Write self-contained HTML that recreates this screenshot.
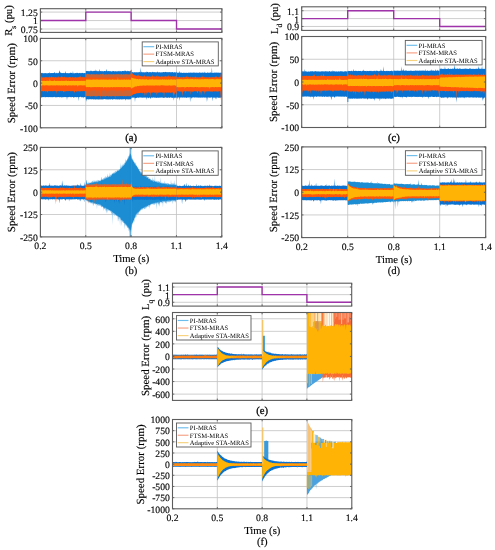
<!DOCTYPE html>
<html><head><meta charset="utf-8"><title>Speed error comparison</title>
<style>html,body{margin:0;padding:0;background:#fff;}svg{display:block;} text{stroke:#000;stroke-width:0.14px;text-rendering:geometricPrecision;} .pl{stroke-width:0.28px;} .lg{stroke-width:0;}</style></head>
<body><svg width="495" height="550" viewBox="0 0 495 550" font-family="'Liberation Serif','Times New Roman',serif" fill="#000">
<g stroke-width="0" >
<rect width="495" height="550" fill="#fff"/>
<rect x="40.4" y="8.7" width="181.5" height="23.7" fill="#fff"/><path d="M85.78 8.7V32.4M131.15 8.7V32.4M176.53 8.7V32.4M40.4 29.01H221.9M40.4 20.55H221.9M40.4 12.09H221.9" stroke="#c2c2c2" stroke-width="0.8" fill="none"/><clipPath id="c1"><rect x="40.4" y="8.7" width="181.5" height="23.7"/></clipPath><g clip-path="url(#c1)"><path d="M40.4 20.55H85.78V12.09H131.15V20.55H176.53V29.01H221.9" stroke="#a033aa" stroke-width="1.4" fill="none"/></g><path d="M40.4 29.01h1.8M221.9 29.01h-1.8M40.4 20.55h1.8M221.9 20.55h-1.8M40.4 12.09h1.8M221.9 12.09h-1.8M40.4 32.4v-1.8M40.4 8.7v1.8M85.78 32.4v-1.8M85.78 8.7v1.8M131.15 32.4v-1.8M131.15 8.7v1.8M176.53 32.4v-1.8M176.53 8.7v1.8M221.9 32.4v-1.8M221.9 8.7v1.8" stroke="#5c5c5c" stroke-width="0.9" fill="none"/><rect x="40.4" y="8.7" width="181.5" height="23.7" fill="none" stroke="#5c5c5c" stroke-width="1.1"/><text x="37.8" y="32.81" font-size="9.7" text-anchor="end">0.75</text><text x="37.8" y="24.35" font-size="9.7" text-anchor="end">1</text><text x="37.8" y="15.89" font-size="9.7" text-anchor="end">1.25</text><rect x="40.4" y="38.4" width="181.5" height="89.4" fill="#fff"/><path d="M85.78 38.4V127.8M131.15 38.4V127.8M176.53 38.4V127.8M40.4 60.75H221.9M40.4 83.1H221.9M40.4 105.45H221.9" stroke="#c2c2c2" stroke-width="0.8" fill="none"/><clipPath id="c2"><rect x="40.4" y="38.4" width="181.5" height="89.4"/></clipPath><g clip-path="url(#c2)"><polygon points="40.4,72.91 40.75,73.13 41.1,73.19 41.45,72.85 41.8,72.92 42.15,73.39 42.5,72.87 42.85,72.91 43.2,73.4 43.55,73.21 43.9,73.05 44.25,73.14 44.6,73.23 44.95,73 45.3,72.91 45.65,73.3 46,73.23 46.35,73.14 46.7,73.32 47.05,73.16 47.4,73.42 47.75,72.95 48.1,73.16 48.45,73.12 48.8,73.04 49.15,73.19 49.5,72.05 49.85,73.31 50.2,73.35 50.55,72.91 50.9,73.11 51.25,73 51.6,72.88 51.95,73.37 52.3,73.09 52.65,72.92 53,73.24 53.35,72.95 53.7,72.91 54.05,72.96 54.4,72.85 54.75,71.71 55.1,73.04 55.45,73.11 55.8,73.38 56.15,73.25 56.5,73.04 56.85,72.84 57.2,72.79 57.55,73.43 57.9,73.11 58.25,73.25 58.6,72.86 58.95,72.85 59.3,70.74 59.65,70.48 60,73.02 60.35,73.02 60.7,71.79 61.05,72.94 61.4,72.85 61.75,73.34 62.1,73.11 62.45,72.91 62.8,73.28 63.15,72.95 63.5,72.87 63.85,73.16 64.2,73.37 64.55,72.85 64.9,73.31 65.25,70.87 65.6,72.89 65.95,72.84 66.3,73.01 66.65,73.27 67,73.13 67.35,73.34 67.7,72.96 68.05,73.02 68.4,72.99 68.75,73.42 69.1,73.4 69.45,73.04 69.8,73.09 70.15,73.02 70.5,72.38 70.85,72.86 71.2,72.87 71.55,73.07 71.9,72.98 72.25,73.34 72.6,73.28 72.95,71.09 73.3,73.23 73.65,73.2 74,73.3 74.35,73.39 74.7,72.92 75.05,73.21 75.4,72.92 75.75,73.1 76.1,73.3 76.45,72.5 76.8,73.29 77.15,72.45 77.5,73.05 77.85,72.93 78.2,73.43 78.55,72.92 78.9,72.98 79.25,73.05 79.6,72.87 79.95,73.35 80.3,73.21 80.65,72.93 81,72.83 81.35,72.88 81.7,73.2 82.05,72.97 82.4,72.86 82.75,72.9 83.1,73.17 83.45,73.21 83.8,73.03 84.15,73.22 84.5,73.04 84.85,72.91 85.2,73.02 85.55,73.07 85.78,73.38 85.78,97.39 85.55,97.32 85.2,97.23 84.85,96.89 84.5,97.18 84.15,96.93 83.8,98.6 83.45,97.28 83.1,97.08 82.75,97.39 82.4,97.37 82.05,97.05 81.7,97.38 81.35,97.36 81,97.11 80.65,96.86 80.3,96.85 79.95,97.2 79.6,97.28 79.25,97.07 78.9,96.97 78.55,101.33 78.2,96.88 77.85,97.14 77.5,97.05 77.15,96.93 76.8,96.88 76.45,97.42 76.1,97.28 75.75,97.08 75.4,97.1 75.05,97.3 74.7,97.36 74.35,96.99 74,97.69 73.65,97.42 73.3,97.39 72.95,96.96 72.6,97.09 72.25,96.91 71.9,97.16 71.55,97.43 71.2,96.86 70.85,97.42 70.5,97.11 70.15,96.88 69.8,96.84 69.45,96.94 69.1,97.35 68.75,97.14 68.4,96.92 68.05,97.14 67.7,97.15 67.35,97.08 67,100.18 66.65,96.92 66.3,97.35 65.95,97.09 65.6,97.11 65.25,97.21 64.9,96.89 64.55,97.06 64.2,97.36 63.85,96.9 63.5,97.36 63.15,97.13 62.8,97.32 62.45,97.26 62.1,97.32 61.75,98.01 61.4,96.87 61.05,97.18 60.7,97.1 60.35,97.31 60,97.17 59.65,97.28 59.3,97.25 58.95,97.36 58.6,96.93 58.25,97.07 57.9,97.29 57.55,97.04 57.2,97.22 56.85,97.02 56.5,97.29 56.15,97.38 55.8,97.22 55.45,97.31 55.1,97.32 54.75,96.93 54.4,96.85 54.05,97.17 53.7,97.03 53.35,96.89 53,97.42 52.65,96.99 52.3,97.15 51.95,97.24 51.6,97.17 51.25,97.08 50.9,97.32 50.55,97.01 50.2,97.28 49.85,97.05 49.5,97.21 49.15,96.98 48.8,97.2 48.45,97.2 48.1,97.01 47.75,97.13 47.4,97.07 47.05,96.92 46.7,96.99 46.35,97.31 46,97 45.65,97.29 45.3,97.32 44.95,97.27 44.6,97.32 44.25,96.87 43.9,97.11 43.55,96.92 43.2,97.25 42.85,97.32 42.5,96.88 42.15,97.26 41.8,97.38 41.45,97.41 41.1,97.17 40.75,96.89 40.4,96.91" fill="#0a72d0"/><polygon points="85.78,71.21 86.12,71.27 86.47,70.94 86.82,71.04 87.17,70.9 87.52,71.22 87.87,70.91 88.22,71 88.57,71.13 88.92,71.14 89.27,70.88 89.62,71.43 89.97,71 90.32,71.23 90.67,70.32 91.02,71.22 91.37,71.08 91.72,70.53 92.07,71.15 92.42,71.22 92.77,70.99 93.12,71.28 93.47,70.78 93.82,70.92 94.17,71.02 94.52,71.06 94.87,70.38 95.22,71.11 95.57,71.05 95.92,69.18 96.27,71.22 96.62,70.93 96.97,70.54 97.32,71.28 97.67,71.24 98.02,70.96 98.37,71.08 98.72,71.43 99.07,70.92 99.42,68.86 99.77,71.13 100.12,71.23 100.47,71.1 100.82,70.94 101.17,71.2 101.52,70.87 101.87,71.38 102.22,71.34 102.57,71.09 102.92,71.19 103.27,71.18 103.62,71.45 103.97,70.89 104.32,71.04 104.67,71.11 105.02,71.34 105.37,71.3 105.72,71.12 106.07,70.87 106.42,68.87 106.77,71.11 107.12,70.94 107.47,71.24 107.82,71.13 108.17,71.05 108.52,71.03 108.87,71.18 109.22,71.01 109.57,71.1 109.92,71.43 110.27,71.15 110.62,71.02 110.97,71.18 111.32,71.42 111.67,71.38 112.02,71.27 112.37,71.4 112.72,70.87 113.07,71.27 113.42,71.12 113.77,70.95 114.12,71.3 114.47,71.25 114.82,71.45 115.17,71.06 115.52,71.39 115.87,71 116.22,71.43 116.57,71.46 116.92,70.89 117.27,71.06 117.62,71.46 117.97,71.45 118.32,71.27 118.67,70.95 119.02,70.87 119.37,71.01 119.72,71.43 120.07,71.35 120.42,70.91 120.77,71.32 121.12,71.41 121.47,71.05 121.82,71.39 122.17,71.03 122.52,71.06 122.87,70.89 123.22,70.96 123.57,71.2 123.92,70.88 124.27,71.19 124.62,70.97 124.97,70.05 125.32,70.83 125.67,70.99 126.02,71.03 126.37,71.21 126.72,71.35 127.07,71.32 127.42,70.46 127.77,71.27 128.12,71.19 128.47,71.07 128.82,70.97 129.17,71.38 129.52,71.11 129.87,71.26 130.22,70.91 130.57,71.08 130.92,70.93 131.15,68.49 131.15,99.14 130.92,99.19 130.57,99.17 130.22,99.37 129.87,99.24 129.52,99.18 129.17,99.51 128.82,99.33 128.47,99.59 128.12,99.49 127.77,99.24 127.42,99.28 127.07,99.6 126.72,99.16 126.37,99.29 126.02,99.2 125.67,100.71 125.32,99.24 124.97,99.23 124.62,99.26 124.27,99.12 123.92,99.19 123.57,99.57 123.22,99.05 122.87,99.13 122.52,99.6 122.17,99.26 121.82,99.36 121.47,99.54 121.12,99.41 120.77,99.33 120.42,99.26 120.07,99.37 119.72,99.97 119.37,99.18 119.02,99.27 118.67,99.27 118.32,99.44 117.97,99.14 117.62,99.62 117.27,99.39 116.92,99.27 116.57,99.21 116.22,99.62 115.87,99.3 115.52,99.17 115.17,99.52 114.82,99.34 114.47,99.37 114.12,99.06 113.77,99.04 113.42,99.53 113.07,99.29 112.72,99.57 112.37,99.61 112.02,99.63 111.67,99.04 111.32,99.1 110.97,99.53 110.62,99.47 110.27,99.24 109.92,99.48 109.57,99.08 109.22,99.43 108.87,99.41 108.52,99.54 108.17,99.24 107.82,99.44 107.47,99.17 107.12,99.55 106.77,99.25 106.42,99.49 106.07,99.15 105.72,99.22 105.37,99.34 105.02,99.22 104.67,99.1 104.32,99.07 103.97,99.2 103.62,99.49 103.27,99.08 102.92,99.46 102.57,99.51 102.22,99.3 101.87,99.43 101.52,99.32 101.17,99.43 100.82,99.36 100.47,99.14 100.12,99.38 99.77,99.35 99.42,99.44 99.07,99.44 98.72,99.46 98.37,99.56 98.02,99.57 97.67,99.16 97.32,99.58 96.97,99.36 96.62,99.24 96.27,99.53 95.92,99.58 95.57,99.18 95.22,99.68 94.87,99.47 94.52,99.21 94.17,99.14 93.82,99.48 93.47,99.52 93.12,99.32 92.77,99.28 92.42,99.04 92.07,99.59 91.72,99.28 91.37,99.46 91.02,99.08 90.67,99.37 90.32,99.23 89.97,99.32 89.62,99.04 89.27,99.51 88.92,99.56 88.57,99.45 88.22,99.16 87.87,99.33 87.52,99.27 87.17,99.26 86.82,99.1 86.47,101.85 86.12,99.23 85.78,99.47" fill="#0a72d0"/><polygon points="131.15,72.42 131.5,72.02 131.85,72.06 132.2,72.43 132.55,72.01 132.9,72.12 133.25,72.48 133.6,72.19 133.95,72.43 134.3,72.4 134.65,71.95 135,72.07 135.35,72.49 135.7,72.13 136.05,72.18 136.4,72.5 136.75,72 137.1,72.52 137.45,72.28 137.8,72.32 138.15,71.94 138.5,72.32 138.85,72.43 139.2,72.17 139.55,71.98 139.9,72.02 140.25,67.21 140.6,72.19 140.95,72.43 141.3,71.34 141.65,72.18 142,72.18 142.35,72.18 142.7,72.25 143.05,72.26 143.4,72.06 143.75,72.41 144.1,72.25 144.45,72.15 144.8,72.52 145.15,72.36 145.5,72.04 145.85,72.52 146.2,72.28 146.55,72.14 146.9,71.31 147.25,71.98 147.6,72.08 147.95,72.11 148.3,72.14 148.65,72.53 149,72.29 149.35,72.05 149.7,72.16 150.05,72.2 150.4,71.99 150.75,72.22 151.1,72.24 151.45,72.48 151.8,72.2 152.15,71.48 152.5,72.35 152.85,72.04 153.2,72.28 153.55,72.21 153.9,72.04 154.25,71.95 154.6,72.54 154.95,71.99 155.3,72.47 155.65,72.16 156,71.99 156.35,72.52 156.7,72.33 157.05,72.18 157.4,71.26 157.75,72.36 158.1,72.19 158.45,72.37 158.8,72.38 159.15,72.04 159.5,72.37 159.85,72.49 160.2,72.35 160.55,72.42 160.9,72.53 161.25,72.42 161.6,72.22 161.95,72.28 162.3,72.4 162.65,72.32 163,71.98 163.35,71.97 163.7,72.1 164.05,72.43 164.4,72.07 164.75,72.13 165.1,71.7 165.45,72.02 165.8,72.11 166.15,72.09 166.5,71.97 166.85,72.38 167.2,72.02 167.55,72.18 167.9,72.14 168.25,71.98 168.6,72.44 168.95,72.02 169.3,72.11 169.65,72.37 170,72.15 170.35,72.24 170.7,72.14 171.05,72.27 171.4,72.13 171.75,72.21 172.1,71.94 172.45,71.95 172.8,72.24 173.15,72.43 173.5,72.54 173.85,72.42 174.2,72.25 174.55,72.32 174.9,72.34 175.25,72.38 175.6,72.53 175.95,72.14 176.3,72.21 176.53,72.41 176.53,97.83 176.3,97.57 175.95,97.81 175.6,97.68 175.25,97.39 174.9,97.79 174.55,97.86 174.2,97.78 173.85,100.86 173.5,97.8 173.15,97.53 172.8,97.67 172.45,97.92 172.1,97.81 171.75,97.6 171.4,97.7 171.05,97.71 170.7,97.37 170.35,97.41 170,97.5 169.65,97.66 169.3,97.89 168.95,97.5 168.6,97.43 168.25,97.51 167.9,97.78 167.55,97.9 167.2,97.52 166.85,97.71 166.5,97.41 166.15,97.77 165.8,97.4 165.45,97.46 165.1,97.34 164.75,97.62 164.4,97.84 164.05,97.91 163.7,97.7 163.35,97.89 163,97.58 162.65,97.67 162.3,97.44 161.95,97.56 161.6,97.59 161.25,97.54 160.9,97.82 160.55,97.51 160.2,97.44 159.85,98.04 159.5,97.58 159.15,97.4 158.8,97.67 158.45,97.83 158.1,97.81 157.75,97.6 157.4,97.73 157.05,97.7 156.7,97.75 156.35,98.09 156,97.65 155.65,97.67 155.3,97.43 154.95,97.83 154.6,97.69 154.25,97.6 153.9,97.49 153.55,97.53 153.2,97.51 152.85,97.58 152.5,97.77 152.15,97.64 151.8,97.84 151.45,97.37 151.1,97.86 150.75,97.66 150.4,99.34 150.05,97.91 149.7,97.34 149.35,97.58 149,98.23 148.65,98.31 148.3,97.74 147.95,97.86 147.6,97.87 147.25,97.43 146.9,97.4 146.55,100.12 146.2,97.5 145.85,97.46 145.5,97.6 145.15,97.69 144.8,97.61 144.45,97.42 144.1,97.87 143.75,97.43 143.4,97.64 143.05,97.47 142.7,97.76 142.35,97.42 142,97.88 141.65,97.37 141.3,97.82 140.95,97.45 140.6,97.45 140.25,97.45 139.9,97.58 139.55,97.85 139.2,97.35 138.85,97.7 138.5,97.86 138.15,97.83 137.8,97.81 137.45,97.36 137.1,97.76 136.75,97.92 136.4,97.67 136.05,97.92 135.7,98.13 135.35,97.79 135,102.15 134.65,97.92 134.3,97.49 133.95,97.5 133.6,97.78 133.25,97.43 132.9,97.88 132.55,97.86 132.2,97.34 131.85,97.87 131.5,98.85 131.15,97.46" fill="#0a72d0"/><polygon points="176.53,72.59 176.88,71.53 177.23,72.78 177.58,72.79 177.93,72.92 178.28,72.83 178.62,72.26 178.97,73 179.32,72.53 179.67,70.82 180.02,72.82 180.37,72.78 180.72,72.57 181.07,72.85 181.42,72.49 181.77,72.71 182.12,73 182.47,72.97 182.82,72.79 183.17,72.91 183.52,72.83 183.87,72.57 184.22,72.94 184.57,72.8 184.92,72.79 185.27,73 185.62,72.77 185.97,72.63 186.32,72.68 186.67,72.76 187.02,72.95 187.37,72.94 187.72,72.67 188.07,72.72 188.42,72.46 188.77,72.81 189.12,72.91 189.47,72.55 189.82,72.81 190.17,71.93 190.52,72.93 190.87,72.87 191.22,72.99 191.57,72.6 191.92,72.53 192.27,72.77 192.62,72.46 192.97,72.92 193.32,72.55 193.67,72.51 194.02,72.52 194.37,72.85 194.72,72.46 195.07,72.68 195.42,72.44 195.77,72.9 196.12,72.46 196.47,72.55 196.82,72.89 197.17,72.74 197.52,72.4 197.87,73.02 198.22,72.65 198.57,72.68 198.92,72.87 199.27,71.99 199.62,72.87 199.97,72.75 200.32,72.58 200.67,72.75 201.02,72.93 201.37,72.6 201.72,72.81 202.07,72.78 202.42,72.85 202.77,72.29 203.12,72.57 203.47,72.83 203.82,72.94 204.17,71.61 204.52,72.51 204.87,72.91 205.22,72.75 205.57,72.84 205.92,72.49 206.27,72.9 206.62,72.65 206.97,72.96 207.32,72.58 207.67,72.43 208.02,72.62 208.37,72.86 208.72,72.86 209.07,72.94 209.42,72.56 209.77,72.79 210.12,72.47 210.47,72.56 210.82,72.46 211.17,72.81 211.52,72.97 211.87,67.1 212.22,72.79 212.57,72.97 212.92,72.63 213.27,72.76 213.62,72.92 213.97,72.55 214.32,72.85 214.67,72.48 215.02,72.65 215.37,72.54 215.72,72.69 216.07,72.55 216.42,72.47 216.77,72.7 217.12,72.66 217.47,72.87 217.82,72.44 218.17,72.81 218.52,72.46 218.87,72.72 219.22,72.44 219.57,72.98 219.92,72.72 220.27,72.72 220.62,72.47 220.97,72.9 221.32,72.59 221.67,72.71 221.9,72.86 221.9,97.43 221.67,97.61 221.32,97.43 220.97,97.31 220.62,97.72 220.27,97.71 219.92,97.64 219.57,97.8 219.22,97.71 218.87,97.81 218.52,97.66 218.17,97.8 217.82,97.7 217.47,97.26 217.12,97.45 216.77,99.57 216.42,97.33 216.07,97.44 215.72,99.48 215.37,97.31 215.02,97.66 214.67,97.39 214.32,97.63 213.97,97.65 213.62,97.72 213.27,97.61 212.92,97.73 212.57,101.55 212.22,97.29 211.87,97.55 211.52,97.27 211.17,97.49 210.82,97.64 210.47,97.51 210.12,97.4 209.77,97.6 209.42,97.77 209.07,97.77 208.72,97.77 208.37,97.31 208.02,97.46 207.67,97.37 207.32,99.03 206.97,101.89 206.62,98.09 206.27,97.5 205.92,97.28 205.57,97.72 205.22,97.45 204.87,97.74 204.52,97.47 204.17,97.54 203.82,97.57 203.47,97.33 203.12,97.7 202.77,97.68 202.42,97.41 202.07,97.49 201.72,97.35 201.37,97.64 201.02,97.63 200.67,97.51 200.32,97.77 199.97,97.61 199.62,97.38 199.27,97.65 198.92,97.28 198.57,97.82 198.22,97.82 197.87,97.54 197.52,97.8 197.17,97.34 196.82,97.74 196.47,97.58 196.12,97.37 195.77,97.54 195.42,97.44 195.07,97.34 194.72,97.53 194.37,97.61 194.02,97.65 193.67,97.26 193.32,97.28 192.97,97.47 192.62,97.58 192.27,97.41 191.92,97.74 191.57,99.1 191.22,97.4 190.87,97.42 190.52,97.31 190.17,102.35 189.82,97.75 189.47,97.37 189.12,97.33 188.77,97.39 188.42,97.6 188.07,97.46 187.72,97.29 187.37,97.44 187.02,97.81 186.67,97.71 186.32,97.96 185.97,97.59 185.62,97.46 185.27,97.61 184.92,97.67 184.57,97.31 184.22,97.65 183.87,97.68 183.52,97.27 183.17,97.43 182.82,97.7 182.47,97.46 182.12,97.38 181.77,97.35 181.42,97.7 181.07,97.4 180.72,97.39 180.37,97.58 180.02,97.64 179.67,97.27 179.32,100.94 178.97,97.76 178.62,97.61 178.28,97.26 177.93,97.39 177.58,99.25 177.23,97.27 176.88,97.47 176.53,98.22" fill="#0a72d0"/><polygon points="85.78,74.61 86.12,74.26 86.47,74.05 86.82,74.47 87.17,74.11 87.52,74.05 87.87,73.29 88.22,74.32 88.57,74.18 88.92,74.1 89.27,74.12 89.62,74.25 89.97,74.52 90.32,74.23 90.67,74.39 91.02,74.16 91.37,74.11 91.72,74.23 92.07,74.06 92.42,74.32 92.77,74.46 93.12,74.29 93.47,74.17 93.82,74.23 94.17,74.53 94.52,74.18 94.87,74.24 95.22,74.45 95.57,74.19 95.92,74.6 96.27,74.14 96.62,74.05 96.97,74.29 97.32,74.36 97.67,74.38 98.02,74.23 98.37,74.51 98.72,74.55 99.07,74.3 99.42,74.53 99.77,74.52 100.12,74.15 100.47,74.12 100.82,74.12 101.17,74.09 101.52,74.5 101.87,74.27 102.22,74.12 102.57,74.37 102.92,73.24 103.27,74.07 103.62,74.29 103.97,74.53 104.32,74.46 104.67,74.63 105.02,74.32 105.37,74.62 105.72,74.27 106.07,74.33 106.42,74.49 106.77,74.31 107.12,74.14 107.47,74.46 107.82,74.59 108.17,74.25 108.52,74.29 108.87,74.04 109.22,74.45 109.57,74.33 109.92,74.18 110.27,74.58 110.62,74.05 110.97,74.54 111.32,74.56 111.67,74.1 112.02,74.05 112.37,74.43 112.72,74.39 113.07,74.14 113.42,74.3 113.77,74.1 114.12,74.29 114.47,74.35 114.82,74.58 115.17,74.26 115.52,74.13 115.87,74.61 116.22,74.42 116.57,74.12 116.92,74.07 117.27,74.27 117.62,74.18 117.97,74.26 118.32,74.2 118.67,73.69 119.02,74.53 119.37,74.44 119.72,74.09 120.07,74.51 120.42,74.28 120.77,74.56 121.12,74.07 121.47,74.13 121.82,74.12 122.17,74.53 122.52,74.61 122.87,74.49 123.22,74.22 123.57,74.07 123.92,74.62 124.27,74.14 124.62,74.53 124.97,74.32 125.32,74.24 125.67,74.28 126.02,74.09 126.37,74.11 126.72,74.56 127.07,74.31 127.42,74.44 127.77,74.24 128.12,74.33 128.47,74.52 128.82,74.43 129.17,74.28 129.52,74.32 129.87,74.63 130.22,74.06 130.57,74.28 130.92,74.12 131.15,74.1 131.15,95.86 130.92,96.35 130.57,96 130.22,95.92 129.87,96.41 129.52,96.09 129.17,96.2 128.82,96.27 128.47,95.87 128.12,96.44 127.77,95.87 127.42,96.05 127.07,96.45 126.72,96.25 126.37,96.07 126.02,96.23 125.67,96.15 125.32,96.41 124.97,96.35 124.62,96.11 124.27,96.28 123.92,95.91 123.57,96.42 123.22,96.41 122.87,96 122.52,96.18 122.17,96.11 121.82,95.9 121.47,96.17 121.12,96.26 120.77,95.94 120.42,96.23 120.07,95.9 119.72,96.09 119.37,96.2 119.02,96 118.67,96.29 118.32,96.33 117.97,96.31 117.62,96.27 117.27,96.3 116.92,96.27 116.57,96.09 116.22,96.13 115.87,95.98 115.52,96.05 115.17,99.01 114.82,96.38 114.47,96.21 114.12,95.92 113.77,96.25 113.42,96.12 113.07,95.94 112.72,96.16 112.37,96.03 112.02,96.26 111.67,96.51 111.32,96.31 110.97,96.38 110.62,96.32 110.27,96.23 109.92,95.99 109.57,96.24 109.22,95.97 108.87,96.38 108.52,96.06 108.17,96.79 107.82,96.09 107.47,95.94 107.12,96.05 106.77,96 106.42,96.25 106.07,96.18 105.72,96.36 105.37,97.24 105.02,96.27 104.67,96.38 104.32,95.94 103.97,96.44 103.62,96.31 103.27,96.33 102.92,96.3 102.57,96.42 102.22,96.31 101.87,95.88 101.52,96.07 101.17,96.19 100.82,95.88 100.47,95.98 100.12,96.39 99.77,96.11 99.42,96 99.07,96.02 98.72,95.95 98.37,95.87 98.02,96.18 97.67,96.1 97.32,96.44 96.97,96.15 96.62,96.16 96.27,96.44 95.92,96.27 95.57,96.43 95.22,96.08 94.87,96.13 94.52,95.96 94.17,96.22 93.82,96.06 93.47,95.88 93.12,95.97 92.77,96.16 92.42,96.33 92.07,96.17 91.72,96.1 91.37,96 91.02,96.4 90.67,96.45 90.32,96.26 89.97,96.14 89.62,96.13 89.27,95.95 88.92,95.96 88.57,95.91 88.22,96.35 87.87,96.12 87.52,96.09 87.17,96.03 86.82,96.18 86.47,96.13 86.12,96.31 85.78,95.88" fill="#cc6535"/><polygon points="40.4,77.34 40.75,77.31 41.1,75.71 41.45,77.53 41.8,77.06 42.15,77.5 42.5,77.2 42.85,77.53 43.2,77.53 43.55,77.19 43.9,77.24 44.25,77.48 44.6,77.48 44.95,77 45.3,77.25 45.65,77 46,77.45 46.35,77.11 46.7,77.14 47.05,77.14 47.4,77.38 47.75,77.14 48.1,77.21 48.45,77.47 48.8,77.21 49.15,75.75 49.5,77.49 49.85,77.18 50.2,77.08 50.55,77.51 50.9,77.28 51.25,77.16 51.6,76.12 51.95,76.98 52.3,76.97 52.65,77.32 53,77.18 53.35,77.12 53.7,77.08 54.05,77.4 54.4,77.48 54.75,76.95 55.1,77.26 55.45,76.99 55.8,76.97 56.15,77.53 56.5,77.13 56.85,77.26 57.2,77.49 57.55,77.33 57.9,77.15 58.25,75.63 58.6,77.41 58.95,77.33 59.3,77.18 59.65,77.4 60,77.17 60.35,77.16 60.7,77.11 61.05,77.53 61.4,75.25 61.75,76.98 62.1,77.12 62.45,76.51 62.8,77.16 63.15,76.94 63.5,77.51 63.85,77.08 64.2,77.12 64.55,76.49 64.9,77.51 65.25,77.1 65.6,77.4 65.95,77.33 66.3,77.47 66.65,77.11 67,77.5 67.35,77.54 67.7,77.18 68.05,77.51 68.4,77.38 68.75,77.08 69.1,77.21 69.45,77.09 69.8,77.06 70.15,77.08 70.5,77.47 70.85,76.92 71.2,77.48 71.55,77.42 71.9,77.38 72.25,77.05 72.6,77.37 72.95,77.32 73.3,77.15 73.65,77.54 74,77.52 74.35,77.34 74.7,77.49 75.05,77.14 75.4,77.05 75.75,77.15 76.1,77.29 76.45,77.49 76.8,77.45 77.15,77.09 77.5,77.44 77.85,77.48 78.2,77.04 78.55,77.24 78.9,77.23 79.25,77.06 79.6,76.27 79.95,77.25 80.3,77.25 80.65,75.3 81,77.21 81.35,77.45 81.7,77.04 82.05,77.05 82.4,77.5 82.75,76.73 83.1,77.1 83.45,77.23 83.8,77.2 84.15,77.15 84.5,77.26 84.85,77.26 85.2,76.97 85.55,77.51 85.78,77.06 85.78,91.44 85.55,91.23 85.2,91.39 84.85,91.1 84.5,91.27 84.15,91.22 83.8,90.85 83.45,91.37 83.1,90.91 82.75,91 82.4,91.32 82.05,91.4 81.7,91 81.35,91.01 81,91.21 80.65,91.28 80.3,91.33 79.95,91.38 79.6,91.29 79.25,91.53 78.9,91.2 78.55,91.39 78.2,90.92 77.85,91.27 77.5,91.28 77.15,91.39 76.8,91.84 76.45,90.93 76.1,91.91 75.75,91.03 75.4,91.27 75.05,91.36 74.7,92.09 74.35,93.36 74,91.2 73.65,91.44 73.3,91.13 72.95,91.11 72.6,91.36 72.25,91.26 71.9,90.99 71.55,91.41 71.2,90.95 70.85,91.44 70.5,90.89 70.15,91.32 69.8,91.03 69.45,91.03 69.1,91.02 68.75,91.21 68.4,90.99 68.05,91.16 67.7,91.14 67.35,91.14 67,91.07 66.65,91.21 66.3,91.16 65.95,91.37 65.6,91.38 65.25,91.21 64.9,91.76 64.55,91.42 64.2,91.21 63.85,92.34 63.5,91.19 63.15,92.66 62.8,91 62.45,91.02 62.1,90.99 61.75,91.42 61.4,91.18 61.05,91 60.7,91.26 60.35,90.86 60,91.02 59.65,91.63 59.3,91.09 58.95,90.87 58.6,91.22 58.25,91.34 57.9,91.34 57.55,91.29 57.2,90.97 56.85,94.18 56.5,91.07 56.15,91.42 55.8,91.12 55.45,91.24 55.1,91.22 54.75,90.98 54.4,90.85 54.05,91.33 53.7,91 53.35,91.35 53,91.31 52.65,91.42 52.3,91.04 51.95,90.93 51.6,91.12 51.25,91.37 50.9,91.09 50.55,90.88 50.2,91.43 49.85,91.18 49.5,91.26 49.15,90.97 48.8,90.98 48.45,91.35 48.1,91.36 47.75,92.65 47.4,91.34 47.05,92.64 46.7,91.24 46.35,91.13 46,91.26 45.65,91.41 45.3,91.41 44.95,90.9 44.6,91.25 44.25,90.92 43.9,91.42 43.55,91.39 43.2,91.47 42.85,90.92 42.5,91.34 42.15,91.18 41.8,91.21 41.45,91.24 41.1,90.93 40.75,91.34 40.4,91.14" fill="#ff560a"/><polygon points="85.78,77.38 86.12,77.6 86.47,77.81 86.82,77.8 87.17,77.58 87.52,77.79 87.87,77.81 88.22,77.82 88.57,77.92 88.92,77.62 89.27,77.78 89.62,77.9 89.97,77.52 90.32,76.66 90.67,77.55 91.02,77.75 91.37,77.43 91.72,77.46 92.07,77.4 92.42,77.73 92.77,77.36 93.12,77.64 93.47,77.37 93.82,77.51 94.17,76.25 94.52,77.92 94.87,77.47 95.22,77.7 95.57,77.62 95.92,77.89 96.27,77.73 96.62,77.64 96.97,77.5 97.32,77.85 97.67,76.93 98.02,77.83 98.37,77.77 98.72,77.68 99.07,77.94 99.42,77.73 99.77,77.71 100.12,77.77 100.47,77.45 100.82,77.61 101.17,77.35 101.52,77.43 101.87,77.37 102.22,77.69 102.57,77.54 102.92,77.45 103.27,77.59 103.62,72.33 103.97,77.38 104.32,77.41 104.67,77.87 105.02,77.48 105.37,77.75 105.72,77.4 106.07,77.37 106.42,77.72 106.77,77.79 107.12,77.47 107.47,77.62 107.82,77.44 108.17,77.84 108.52,77.43 108.87,77.68 109.22,77.85 109.57,77.47 109.92,77.78 110.27,77.64 110.62,77.86 110.97,77.87 111.32,77.65 111.67,77.63 112.02,77.02 112.37,77.77 112.72,77.54 113.07,77.91 113.42,77.31 113.77,77.49 114.12,77.58 114.47,77.59 114.82,76.08 115.17,77.55 115.52,77.62 115.87,77.93 116.22,77.94 116.57,76.5 116.92,77.13 117.27,77.57 117.62,77.49 117.97,77.48 118.32,77.64 118.67,77.6 119.02,77.39 119.37,77.66 119.72,77.63 120.07,77.92 120.42,77.86 120.77,76.7 121.12,77.66 121.47,77.41 121.82,77.73 122.17,77.91 122.52,77.93 122.87,77.9 123.22,77.79 123.57,77.55 123.92,77.46 124.27,77.42 124.62,77.58 124.97,77.42 125.32,75.91 125.67,76.66 126.02,77.79 126.37,77.77 126.72,77.44 127.07,77.65 127.42,77.64 127.77,77.9 128.12,74.92 128.47,77.53 128.82,77.5 129.17,77.41 129.52,77.65 129.87,77.72 130.22,77.59 130.57,77.91 130.92,77.8 131.15,77.68 131.15,90.67 130.92,90.28 130.57,90.64 130.22,90.33 129.87,90.33 129.52,91.26 129.17,90.48 128.82,90.52 128.47,90.52 128.12,90.52 127.77,90.24 127.42,90.63 127.07,90.39 126.72,90.22 126.37,90.44 126.02,90.22 125.67,90.72 125.32,90.34 124.97,90.44 124.62,90.39 124.27,90.61 123.92,90.4 123.57,90.35 123.22,90.75 122.87,90.75 122.52,90.4 122.17,94.31 121.82,90.52 121.47,91.6 121.12,90.62 120.77,90.59 120.42,90.29 120.07,91.6 119.72,90.45 119.37,90.41 119.02,90.46 118.67,90.7 118.32,90.71 117.97,90.63 117.62,90.65 117.27,90.73 116.92,90.7 116.57,92.62 116.22,90.46 115.87,91.92 115.52,91.1 115.17,90.47 114.82,90.35 114.47,90.7 114.12,90.41 113.77,90.27 113.42,90.55 113.07,90.39 112.72,90.47 112.37,90.38 112.02,90.57 111.67,90.39 111.32,90.36 110.97,90.25 110.62,90.51 110.27,90.71 109.92,90.69 109.57,90.69 109.22,90.8 108.87,90.69 108.52,90.18 108.17,92.3 107.82,90.49 107.47,90.76 107.12,90.3 106.77,90.75 106.42,94.37 106.07,90.76 105.72,91.18 105.37,90.68 105.02,90.68 104.67,90.26 104.32,90.54 103.97,90.31 103.62,91.07 103.27,90.5 102.92,90.76 102.57,90.66 102.22,90.52 101.87,90.38 101.52,90.2 101.17,90.66 100.82,92.86 100.47,100.68 100.12,90.3 99.77,90.27 99.42,90.65 99.07,92.72 98.72,90.7 98.37,90.34 98.02,90.77 97.67,90.63 97.32,90.54 96.97,90.62 96.62,90.39 96.27,92.95 95.92,98.55 95.57,90.74 95.22,90.63 94.87,90.2 94.52,90.31 94.17,90.47 93.82,90.4 93.47,91.05 93.12,90.23 92.77,91.11 92.42,90.22 92.07,90.66 91.72,90.48 91.37,90.71 91.02,90.6 90.67,91.89 90.32,90.61 89.97,90.41 89.62,91.28 89.27,90.35 88.92,90.33 88.57,93.9 88.22,90.26 87.87,90.32 87.52,90.42 87.17,91.95 86.82,90.62 86.47,92.14 86.12,90.57 85.78,90.41" fill="#ff560a"/><polygon points="131.15,73.47 131.5,73.78 131.85,73.78 132.2,73.69 132.55,73.09 132.9,74.21 133.25,74.28 133.6,74.78 133.95,74.99 134.3,74.92 134.65,75.06 135,75.4 135.35,74.94 135.7,75.55 136.05,75.68 136.4,75.71 136.75,75.61 137.1,75.88 137.45,74.24 137.8,75.7 138.15,75.83 138.5,74.12 138.85,75.65 139.2,75.99 139.55,76.07 139.9,75.01 140.25,76.25 140.6,75.91 140.95,75.98 141.3,76.17 141.65,76.37 142,76.22 142.35,76.49 142.7,76.43 143.05,76.33 143.4,76.53 143.75,76.23 144.1,76.39 144.45,74.45 144.8,76.12 145.15,76.24 145.5,76.68 145.85,76.28 146.2,76.66 146.55,76.15 146.9,76.28 147.25,76.27 147.6,76.14 147.95,76.58 148.3,76.29 148.65,76.51 149,76.22 149.35,76.51 149.7,76.47 150.05,76.46 150.4,76.66 150.75,76.4 151.1,76.62 151.45,76.68 151.8,76.34 152.15,76.38 152.5,74.51 152.85,76.31 153.2,75.87 153.55,76.57 153.9,76.63 154.25,76.27 154.6,76.55 154.95,76.5 155.3,76.52 155.65,76.78 156,76.24 156.35,76.33 156.7,76.27 157.05,74.32 157.4,76.74 157.75,76.45 158.1,76.24 158.45,76.52 158.8,76.29 159.15,76.27 159.5,76.4 159.85,76.73 160.2,76.64 160.55,76.81 160.9,76.51 161.25,76.34 161.6,76.44 161.95,76.28 162.3,76.47 162.65,76.59 163,76.62 163.35,76.81 163.7,76.45 164.05,76.28 164.4,76.74 164.75,76.33 165.1,76.42 165.45,76.31 165.8,75.81 166.15,76.76 166.5,76.35 166.85,76.58 167.2,75.96 167.55,76.64 167.9,76.32 168.25,76.42 168.6,74.4 168.95,76.5 169.3,76.69 169.65,76.25 170,76.35 170.35,76.35 170.7,76.46 171.05,76.74 171.4,76.81 171.75,76.81 172.1,76.34 172.45,76.35 172.8,76.4 173.15,76.58 173.5,76.58 173.85,76.53 174.2,76.25 174.55,76.64 174.9,76.6 175.25,76.46 175.6,75.96 175.95,76.37 176.3,76.41 176.53,76.58 176.53,92.55 176.3,94.53 175.95,92.78 175.6,92.53 175.25,92.62 174.9,93.25 174.55,95.31 174.2,92.52 173.85,97.93 173.5,92.51 173.15,95.95 172.8,92.52 172.45,92.34 172.1,92.44 171.75,92.63 171.4,92.61 171.05,92.35 170.7,92.74 170.35,93.31 170,92.38 169.65,92.69 169.3,92.34 168.95,92.48 168.6,92.65 168.25,92.41 167.9,92.54 167.55,92.51 167.2,92.39 166.85,92.63 166.5,92.65 166.15,92.52 165.8,92.36 165.45,92.38 165.1,92.46 164.75,92.43 164.4,92.68 164.05,98.03 163.7,92.64 163.35,92.42 163,92.64 162.65,92.72 162.3,92.5 161.95,92.66 161.6,92.3 161.25,92.32 160.9,92.49 160.55,92.81 160.2,92.32 159.85,92.29 159.5,92.46 159.15,92.86 158.8,92.64 158.45,92.74 158.1,92.3 157.75,92.49 157.4,93.95 157.05,92.71 156.7,95.67 156.35,92.32 156,92.37 155.65,92.76 155.3,92.78 154.95,93.14 154.6,92.68 154.25,92.35 153.9,92.31 153.55,92.35 153.2,92.7 152.85,92.56 152.5,92.71 152.15,92.55 151.8,92.32 151.45,92.71 151.1,92.91 150.75,92.55 150.4,97.61 150.05,92.44 149.7,92.71 149.35,92.88 149,92.49 148.65,92.47 148.3,92.37 147.95,92.71 147.6,92.85 147.25,92.55 146.9,95.48 146.55,92.95 146.2,92.51 145.85,92.62 145.5,92.45 145.15,95.36 144.8,95.76 144.45,92.88 144.1,92.8 143.75,92.47 143.4,92.8 143.05,92.9 142.7,92.71 142.35,93.64 142,92.67 141.65,93.05 141.3,92.68 140.95,92.86 140.6,92.86 140.25,93.06 139.9,93.25 139.55,93.02 139.2,93.1 138.85,93 138.5,93.29 138.15,93.13 137.8,93.02 137.45,93.19 137.1,93.53 136.75,93.59 136.4,93.28 136.05,93.32 135.7,93.94 135.35,93.69 135,94.31 134.65,93.9 134.3,93.9 133.95,93.94 133.6,94.09 133.25,94.55 132.9,94.86 132.55,94.82 132.2,95.21 131.85,94.97 131.5,95.3 131.15,95.54" fill="#ff560a"/><polygon points="176.53,77.54 176.88,77.29 177.23,77.14 177.58,77.24 177.93,76.98 178.28,77.25 178.62,77.31 178.97,77.25 179.32,76.96 179.67,75.73 180.02,77.24 180.37,77.05 180.72,77.45 181.07,77.32 181.42,76.96 181.77,77.2 182.12,77.4 182.47,77.33 182.82,77.17 183.17,76.45 183.52,77.23 183.87,77.04 184.22,77.03 184.57,77.48 184.92,77.1 185.27,77.3 185.62,77 185.97,76.2 186.32,77.14 186.67,76.54 187.02,74.9 187.37,77 187.72,77.38 188.07,76.43 188.42,77.21 188.77,77.32 189.12,77.25 189.47,77.48 189.82,77.41 190.17,77.47 190.52,76.24 190.87,77.54 191.22,77.52 191.57,77.34 191.92,77.43 192.27,77.05 192.62,77.53 192.97,77.06 193.32,77.42 193.67,76.96 194.02,77.41 194.37,77.29 194.72,77.19 195.07,76.06 195.42,77.23 195.77,76.43 196.12,77.16 196.47,77.54 196.82,77.17 197.17,77.47 197.52,77.21 197.87,77.18 198.22,77.37 198.57,77.46 198.92,77.38 199.27,77.12 199.62,77.48 199.97,77.34 200.32,77.41 200.67,77.35 201.02,77.22 201.37,77.12 201.72,77.14 202.07,75.18 202.42,77.1 202.77,77.12 203.12,76.09 203.47,77.35 203.82,77.15 204.17,77.36 204.52,77.21 204.87,76.98 205.22,77.49 205.57,76.98 205.92,77.51 206.27,77.19 206.62,77.27 206.97,77.24 207.32,77.22 207.67,77.45 208.02,77.15 208.37,77.54 208.72,77.29 209.07,77.44 209.42,77.05 209.77,77.06 210.12,77.13 210.47,77.47 210.82,77.19 211.17,77.42 211.52,77.35 211.87,77.05 212.22,77.24 212.57,77.02 212.92,77.25 213.27,77.04 213.62,77.35 213.97,77.22 214.32,77.3 214.67,77.21 215.02,77.29 215.37,75.91 215.72,77.12 216.07,77.52 216.42,75.76 216.77,77.03 217.12,77.16 217.47,77.41 217.82,77.15 218.17,77.23 218.52,77.29 218.87,77.38 219.22,76.26 219.57,76.89 219.92,77.51 220.27,72.55 220.62,77 220.97,77.2 221.32,77.22 221.67,77.18 221.9,77.2 221.9,91.09 221.67,91.2 221.32,91.56 220.97,91.62 220.62,100.77 220.27,91.11 219.92,91.13 219.57,91.21 219.22,91.21 218.87,91.31 218.52,91.57 218.17,91.5 217.82,91.52 217.47,91.64 217.12,91.47 216.77,91.32 216.42,91.66 216.07,91.31 215.72,91.33 215.37,91.23 215.02,91.51 214.67,91.19 214.32,91.39 213.97,91.22 213.62,91.13 213.27,91.32 212.92,91.55 212.57,91.64 212.22,91.55 211.87,91.41 211.52,91.54 211.17,91.55 210.82,91.54 210.47,91.41 210.12,91.59 209.77,91.5 209.42,91.24 209.07,91.24 208.72,91.45 208.37,91.11 208.02,91.57 207.67,91.37 207.32,91.4 206.97,91.45 206.62,91.15 206.27,91.18 205.92,92.81 205.57,91.65 205.22,91.3 204.87,91.24 204.52,94.95 204.17,91.38 203.82,91.64 203.47,91.36 203.12,91.59 202.77,91.36 202.42,91.34 202.07,91.24 201.72,91.18 201.37,96.21 201.02,91.47 200.67,92.1 200.32,92.69 199.97,96.07 199.62,91.51 199.27,91.62 198.92,91.17 198.57,91.11 198.22,91.21 197.87,92.42 197.52,93.06 197.17,92.75 196.82,91.33 196.47,91.48 196.12,91.26 195.77,91.38 195.42,91.11 195.07,91.42 194.72,91.1 194.37,91.1 194.02,91.64 193.67,91.29 193.32,91.6 192.97,91.97 192.62,91.54 192.27,91.52 191.92,92.78 191.57,91.51 191.22,91.23 190.87,91.08 190.52,91.44 190.17,94.99 189.82,91.23 189.47,91.42 189.12,91.21 188.77,91.23 188.42,91.43 188.07,91.58 187.72,91.15 187.37,91.59 187.02,91.17 186.67,91.23 186.32,91.49 185.97,91.16 185.62,93.91 185.27,91.21 184.92,91.07 184.57,91.21 184.22,91.42 183.87,91.56 183.52,91.66 183.17,91.53 182.82,91.56 182.47,96.76 182.12,93.45 181.77,91.62 181.42,91.52 181.07,91.38 180.72,91.61 180.37,91.46 180.02,91.66 179.67,91.61 179.32,91.47 178.97,91.34 178.62,91.22 178.28,91.21 177.93,91.21 177.58,91.09 177.23,91.13 176.88,91.53 176.53,91.36" fill="#ff560a"/><polygon points="40.4,80.81 40.75,80.82 41.1,80.72 41.45,81.11 41.8,81.05 42.15,81.1 42.5,80.89 42.85,81.04 43.2,81.03 43.55,80.8 43.9,80.82 44.25,80.73 44.6,81.03 44.95,80.85 45.3,81.04 45.65,80.96 46,80.94 46.35,80.82 46.7,81.02 47.05,80.79 47.4,80.76 47.75,80.84 48.1,80.98 48.45,81 48.8,80.74 49.15,81.08 49.5,80.79 49.85,78.5 50.2,80.93 50.55,80.57 50.9,80.74 51.25,80.94 51.6,80.9 51.95,80.79 52.3,81.01 52.65,80.9 53,81.06 53.35,81.04 53.7,80.8 54.05,80.84 54.4,79.44 54.75,81.01 55.1,81.04 55.45,81.03 55.8,80.71 56.15,80.95 56.5,80.72 56.85,81.11 57.2,81.07 57.55,80.85 57.9,80.85 58.25,80.75 58.6,80.93 58.95,80.97 59.3,81 59.65,80.77 60,80.93 60.35,80.99 60.7,81.04 61.05,80.72 61.4,80.73 61.75,80.83 62.1,80.93 62.45,80.93 62.8,80.87 63.15,81.09 63.5,80.96 63.85,80.84 64.2,81.09 64.55,80.85 64.9,81.02 65.25,81.01 65.6,80.54 65.95,80.85 66.3,80.06 66.65,81.09 67,80.88 67.35,81.06 67.7,80.96 68.05,81.02 68.4,80.8 68.75,80.86 69.1,81.04 69.45,80.99 69.8,81.08 70.15,81.02 70.5,80.98 70.85,80.98 71.2,80.79 71.55,80.67 71.9,80.95 72.25,80.95 72.6,81.06 72.95,80.81 73.3,80.18 73.65,81.08 74,80.9 74.35,80.9 74.7,80.97 75.05,80.71 75.4,80.78 75.75,81.07 76.1,80.76 76.45,81.08 76.8,81.08 77.15,80.73 77.5,80.92 77.85,80.83 78.2,80.98 78.55,81.08 78.9,80.83 79.25,80.77 79.6,81.08 79.95,81.02 80.3,80.86 80.65,81.05 81,80.92 81.35,80.75 81.7,80.86 82.05,81.01 82.4,80.84 82.75,80.97 83.1,80.78 83.45,81.02 83.8,80.79 84.15,80.84 84.5,81.02 84.85,80.79 85.2,80.89 85.55,81.03 85.78,80.97 85.78,85.42 85.55,85.44 85.2,85.54 84.85,85.32 84.5,85.27 84.15,85.57 83.8,85.73 83.45,85.18 83.1,85.27 82.75,85.54 82.4,85.5 82.05,85.44 81.7,85.23 81.35,85.27 81,85.46 80.65,85.26 80.3,85.33 79.95,85.33 79.6,85.38 79.25,85.2 78.9,85.55 78.55,85.49 78.2,85.37 77.85,87 77.5,85.64 77.15,85.38 76.8,85.35 76.45,85.31 76.1,85.21 75.75,85.2 75.4,85.44 75.05,85.42 74.7,85.42 74.35,85.54 74,85.2 73.65,85.25 73.3,85.53 72.95,85.27 72.6,85.39 72.25,85.22 71.9,85.29 71.55,85.21 71.2,86.22 70.85,85.37 70.5,85.55 70.15,85.52 69.8,85.46 69.45,85.25 69.1,85.51 68.75,85.5 68.4,85.3 68.05,85.2 67.7,86.36 67.35,85.43 67,85.56 66.65,85.44 66.3,85.31 65.95,85.34 65.6,85.28 65.25,85.19 64.9,85.49 64.55,85.47 64.2,85.43 63.85,85.32 63.5,85.34 63.15,85.58 62.8,85.76 62.45,85.55 62.1,85.18 61.75,85.57 61.4,85.19 61.05,85.39 60.7,85.45 60.35,85.55 60,85.58 59.65,85.29 59.3,85.48 58.95,85.35 58.6,85.58 58.25,85.52 57.9,85.23 57.55,85.44 57.2,85.19 56.85,85.32 56.5,85.28 56.15,85.35 55.8,85.58 55.45,85.51 55.1,85.55 54.75,85.48 54.4,85.19 54.05,85.53 53.7,85.44 53.35,85.37 53,85.48 52.65,85.33 52.3,85.43 51.95,85.52 51.6,85.27 51.25,85.37 50.9,85.55 50.55,85.26 50.2,85.42 49.85,85.49 49.5,85.45 49.15,85.39 48.8,85.52 48.45,85.42 48.1,85.45 47.75,85.22 47.4,85.51 47.05,85.35 46.7,85.19 46.35,85.34 46,85.19 45.65,85.26 45.3,85.43 44.95,85.42 44.6,85.4 44.25,85.41 43.9,85.44 43.55,85.19 43.2,85.3 42.85,85.43 42.5,85.26 42.15,85.2 41.8,85.24 41.45,86.21 41.1,85.49 40.75,85.22 40.4,85.21" fill="#ffb304"/><polygon points="85.78,79.73 86.12,79.56 86.47,79.68 86.82,79.56 87.17,79.52 87.52,79.44 87.87,79.74 88.22,79.44 88.57,79.57 88.92,79.67 89.27,79.52 89.62,79.46 89.97,79.75 90.32,79.71 90.67,79.55 91.02,79.72 91.37,79.65 91.72,79.74 92.07,79.5 92.42,79.57 92.77,79.81 93.12,79.65 93.47,79.33 93.82,79.59 94.17,79.56 94.52,79.64 94.87,79.54 95.22,79.79 95.57,79.61 95.92,79.38 96.27,79.43 96.62,79.51 96.97,79.5 97.32,79.58 97.67,79.44 98.02,79.53 98.37,79.75 98.72,79.61 99.07,79.77 99.42,79.58 99.77,79.65 100.12,79.76 100.47,79.56 100.82,79.6 101.17,79.58 101.52,79.62 101.87,79.52 102.22,79.7 102.57,79.5 102.92,79.44 103.27,79.46 103.62,79.48 103.97,79.61 104.32,79.72 104.67,79.58 105.02,79.48 105.37,79.46 105.72,79.72 106.07,79.57 106.42,79.42 106.77,79.69 107.12,79.74 107.47,79.8 107.82,79.76 108.17,79.43 108.52,79.69 108.87,79.64 109.22,79.57 109.57,79.46 109.92,79.47 110.27,79.72 110.62,79.54 110.97,79.67 111.32,79.65 111.67,79.52 112.02,79.7 112.37,79.57 112.72,78.94 113.07,79.62 113.42,79.52 113.77,79.71 114.12,79.4 114.47,79.65 114.82,79.71 115.17,79.48 115.52,79.6 115.87,79.74 116.22,79.72 116.57,79.73 116.92,79.45 117.27,79.73 117.62,78.9 117.97,77.06 118.32,79.72 118.67,79.77 119.02,79.74 119.37,79.43 119.72,79.77 120.07,79.48 120.42,79.63 120.77,79.78 121.12,79.43 121.47,79.68 121.82,79.55 122.17,79.48 122.52,79.76 122.87,79.73 123.22,79.78 123.57,79.44 123.92,79.49 124.27,79.44 124.62,79.44 124.97,79.61 125.32,79.74 125.67,79.74 126.02,79.42 126.37,79.54 126.72,79.54 127.07,79.8 127.42,79.53 127.77,79.72 128.12,79.13 128.47,79.49 128.82,79.68 129.17,79.64 129.52,79.64 129.87,79.48 130.22,79.75 130.57,79.75 130.92,79.51 131.15,79.64 131.15,87.09 130.92,87.8 130.57,87.33 130.22,87.27 129.87,87.24 129.52,87.15 129.17,87.09 128.82,87.35 128.47,86.99 128.12,86.99 127.77,87.02 127.42,87.02 127.07,87.87 126.72,87.24 126.37,87.14 126.02,87.11 125.67,87.36 125.32,87.3 124.97,87.33 124.62,87.04 124.27,87.12 123.92,87.08 123.57,87.76 123.22,87.03 122.87,87.15 122.52,87.27 122.17,87.3 121.82,87.03 121.47,87 121.12,87.27 120.77,87.03 120.42,87.21 120.07,87.19 119.72,87.36 119.37,86.99 119.02,87.11 118.67,87.24 118.32,87.05 117.97,87.22 117.62,87.19 117.27,87.08 116.92,86.98 116.57,87.19 116.22,87.04 115.87,87.31 115.52,87.3 115.17,87.23 114.82,87.1 114.47,87.19 114.12,87.33 113.77,87 113.42,87.07 113.07,87.57 112.72,87.34 112.37,87.35 112.02,87.32 111.67,87.24 111.32,87.1 110.97,87.07 110.62,87.17 110.27,87.18 109.92,87.47 109.57,87.33 109.22,87.29 108.87,87.41 108.52,87.01 108.17,87.33 107.82,87.17 107.47,87.15 107.12,87.31 106.77,87.29 106.42,87.49 106.07,87.25 105.72,87.25 105.37,87.25 105.02,87.1 104.67,87.31 104.32,87.33 103.97,86.98 103.62,87.35 103.27,88.76 102.92,86.99 102.57,87.07 102.22,87.15 101.87,87.25 101.52,87.01 101.17,87.29 100.82,87.34 100.47,87.14 100.12,87.1 99.77,87.09 99.42,87.04 99.07,87.18 98.72,87.3 98.37,86.97 98.02,87.04 97.67,87.14 97.32,87.03 96.97,87.08 96.62,87.26 96.27,87.25 95.92,87.03 95.57,87.09 95.22,87.28 94.87,87.13 94.52,86.99 94.17,87.02 93.82,87.25 93.47,87.2 93.12,87.02 92.77,87.26 92.42,87.12 92.07,87.25 91.72,87.2 91.37,87.21 91.02,87.31 90.67,87.34 90.32,87.25 89.97,87.32 89.62,87.01 89.27,87.1 88.92,87.16 88.57,87.08 88.22,87.36 87.87,87.07 87.52,87.14 87.17,87.01 86.82,87.19 86.47,87.35 86.12,87.04 85.78,87.1" fill="#ffb304"/><polygon points="131.15,77.46 131.5,77.66 131.85,77.67 132.2,77.96 132.55,78.04 132.9,78.08 133.25,78.17 133.6,78.34 133.95,78.53 134.3,78.66 134.65,78.55 135,78.59 135.35,78.75 135.7,78.8 136.05,78.86 136.4,79.12 136.75,79.16 137.1,78.88 137.45,79.04 137.8,79.05 138.15,79.34 138.5,79.4 138.85,79.26 139.2,79.11 139.55,78.79 139.9,79.3 140.25,79.36 140.6,79.17 140.95,79.42 141.3,79.18 141.65,79.5 142,79.22 142.35,79.51 142.7,79 143.05,79.32 143.4,79.32 143.75,79.45 144.1,79.28 144.45,79.43 144.8,79.55 145.15,79.62 145.5,79.44 145.85,79.34 146.2,79.33 146.55,79.37 146.9,79.32 147.25,79.68 147.6,79.69 147.95,79.5 148.3,79.66 148.65,79.68 149,79.38 149.35,79.11 149.7,79.63 150.05,79.36 150.4,79.43 150.75,79.49 151.1,79.44 151.45,79.42 151.8,79.33 152.15,79.56 152.5,78.52 152.85,79.49 153.2,79.51 153.55,79.38 153.9,79.68 154.25,79.39 154.6,79.37 154.95,79.7 155.3,79.32 155.65,79.45 156,79.38 156.35,79.62 156.7,79.62 157.05,79.68 157.4,79.4 157.75,79.65 158.1,79.34 158.45,79.7 158.8,79.64 159.15,79.68 159.5,79.39 159.85,79.43 160.2,79.44 160.55,79.44 160.9,79.62 161.25,79.52 161.6,79.68 161.95,79.45 162.3,79.33 162.65,79.34 163,79.36 163.35,79.56 163.7,79.67 164.05,79.4 164.4,79.13 164.75,79.62 165.1,79.53 165.45,79.6 165.8,79.66 166.15,79.4 166.5,79.36 166.85,79.66 167.2,79.5 167.55,79.63 167.9,79.72 168.25,79.09 168.6,79.43 168.95,79.72 169.3,79.47 169.65,79.69 170,79.57 170.35,79.57 170.7,79.35 171.05,79.35 171.4,79.61 171.75,78.65 172.1,79.44 172.45,79.6 172.8,79.68 173.15,79.37 173.5,79.51 173.85,79.68 174.2,79.37 174.55,79.45 174.9,79.62 175.25,79.68 175.6,79.64 175.95,79.34 176.3,79.49 176.53,79.39 176.53,85.36 176.3,85.66 175.95,85.43 175.6,85.83 175.25,85.65 174.9,85.45 174.55,85.3 174.2,85.34 173.85,85.28 173.5,85.46 173.15,85.49 172.8,85.42 172.45,85.45 172.1,85.48 171.75,85.5 171.4,85.38 171.05,86.29 170.7,85.51 170.35,85.62 170,85.42 169.65,85.46 169.3,85.35 168.95,85.36 168.6,85.55 168.25,85.67 167.9,85.48 167.55,85.4 167.2,85.66 166.85,85.66 166.5,85.61 166.15,85.59 165.8,85.31 165.45,85.91 165.1,85.52 164.75,85.35 164.4,85.65 164.05,85.59 163.7,85.55 163.35,85.33 163,85.61 162.65,85.37 162.3,85.33 161.95,85.31 161.6,85.32 161.25,85.31 160.9,85.31 160.55,85.47 160.2,85.45 159.85,85.29 159.5,85.65 159.15,85.67 158.8,85.41 158.45,85.3 158.1,85.65 157.75,85.51 157.4,85.52 157.05,85.6 156.7,85.56 156.35,85.36 156,85.66 155.65,85.45 155.3,85.29 154.95,85.51 154.6,85.66 154.25,85.4 153.9,85.64 153.55,85.56 153.2,85.48 152.85,85.46 152.5,85.56 152.15,85.48 151.8,85.59 151.45,85.51 151.1,85.66 150.75,85.62 150.4,85.47 150.05,85.43 149.7,85.44 149.35,85.55 149,85.48 148.65,85.87 148.3,85.45 147.95,85.35 147.6,85.51 147.25,85.49 146.9,85.42 146.55,85.5 146.2,85.43 145.85,85.35 145.5,86.01 145.15,85.68 144.8,85.48 144.45,85.84 144.1,85.53 143.75,85.58 143.4,85.43 143.05,85.44 142.7,85.71 142.35,85.56 142,85.64 141.65,85.75 141.3,85.72 140.95,85.74 140.6,85.73 140.25,85.69 139.9,85.61 139.55,85.9 139.2,85.95 138.85,85.96 138.5,86.16 138.15,86.08 137.8,85.87 137.45,86.2 137.1,86.05 136.75,86.44 136.4,86.52 136.05,86.4 135.7,86.43 135.35,86.4 135,86.52 134.65,86.69 134.3,87.05 133.95,87.61 133.6,87.21 133.25,87.46 132.9,87.55 132.55,87.86 132.2,88.18 131.85,88.26 131.5,88.56 131.15,88.73" fill="#ffb304"/><polygon points="176.53,79.37 176.88,79.18 177.23,79.21 177.58,79.26 177.93,79.07 178.28,79.02 178.62,79.3 178.97,79.17 179.32,78.95 179.67,79.35 180.02,79.05 180.37,79.11 180.72,79.15 181.07,79.37 181.42,79.12 181.77,79.19 182.12,79.26 182.47,79.39 182.82,79.15 183.17,79.4 183.52,79.32 183.87,79.34 184.22,79.2 184.57,79.3 184.92,79.03 185.27,79.01 185.62,79.16 185.97,79.1 186.32,79.37 186.67,79.03 187.02,79.17 187.37,79.22 187.72,78.2 188.07,79.27 188.42,79.07 188.77,79.24 189.12,79.33 189.47,79.29 189.82,79.23 190.17,78.8 190.52,79.17 190.87,79.36 191.22,79.03 191.57,79.22 191.92,79.11 192.27,79.09 192.62,79.09 192.97,79.1 193.32,79.36 193.67,79.41 194.02,79.33 194.37,79.4 194.72,79.07 195.07,79.4 195.42,79.1 195.77,79.1 196.12,79.14 196.47,79.18 196.82,79.36 197.17,79.34 197.52,79.07 197.87,79.33 198.22,79.26 198.57,79.4 198.92,79.28 199.27,79.17 199.62,79.2 199.97,79.38 200.32,79.02 200.67,79.39 201.02,79.2 201.37,79.05 201.72,79.37 202.07,79.34 202.42,79.02 202.77,79.19 203.12,79.14 203.47,79.14 203.82,79.29 204.17,79.35 204.52,79.08 204.87,79.09 205.22,79.08 205.57,79.34 205.92,79.06 206.27,79.19 206.62,79.07 206.97,79.14 207.32,79.05 207.67,79.1 208.02,79.34 208.37,79.27 208.72,79.27 209.07,79.15 209.42,79.14 209.77,79.03 210.12,79.17 210.47,79.34 210.82,79.12 211.17,78.94 211.52,79.01 211.87,79.31 212.22,79.06 212.57,79.08 212.92,79.04 213.27,79.25 213.62,79.07 213.97,79.28 214.32,79.25 214.67,79.38 215.02,79.15 215.37,79.22 215.72,79.38 216.07,79.25 216.42,79.3 216.77,79.07 217.12,78.43 217.47,79.18 217.82,79.28 218.17,79.32 218.52,79.14 218.87,79.08 219.22,79.2 219.57,79.33 219.92,79.2 220.27,79.22 220.62,79.24 220.97,79.16 221.32,79.17 221.67,79.03 221.9,79.31 221.9,87.12 221.67,86.98 221.32,86.98 220.97,87.21 220.62,87.12 220.27,87.15 219.92,87.37 219.57,87.06 219.22,86.99 218.87,87.36 218.52,87.04 218.17,87.08 217.82,87.34 217.47,87.03 217.12,87.26 216.77,87.08 216.42,87.32 216.07,87.33 215.72,87.03 215.37,87.08 215.02,87.36 214.67,87.23 214.32,87.34 213.97,87.34 213.62,87.14 213.27,87.01 212.92,87.18 212.57,87.08 212.22,87.02 211.87,87.11 211.52,87.35 211.17,87.37 210.82,87.24 210.47,87.35 210.12,87.24 209.77,89.43 209.42,87.32 209.07,87.27 208.72,87.28 208.37,87.23 208.02,87.29 207.67,87.17 207.32,87 206.97,87.67 206.62,87.09 206.27,86.97 205.92,87.09 205.57,87.46 205.22,87.16 204.87,87 204.52,87.14 204.17,87.31 203.82,87.37 203.47,86.97 203.12,87.24 202.77,87.09 202.42,87.29 202.07,87.05 201.72,87.16 201.37,87.06 201.02,87 200.67,87.15 200.32,87.13 199.97,87.21 199.62,87.13 199.27,87.31 198.92,87.78 198.57,87.19 198.22,86.98 197.87,87.24 197.52,86.97 197.17,87.07 196.82,87.15 196.47,87 196.12,87.18 195.77,87 195.42,87.05 195.07,87.01 194.72,87.11 194.37,87.23 194.02,87.19 193.67,87.32 193.32,87.15 192.97,87.15 192.62,87.36 192.27,87.1 191.92,87.04 191.57,86.97 191.22,87.16 190.87,87.02 190.52,87.06 190.17,87.1 189.82,87.21 189.47,87.02 189.12,87.23 188.77,87.16 188.42,87.16 188.07,87.07 187.72,87.11 187.37,87.06 187.02,87.01 186.67,87.19 186.32,87.02 185.97,87.21 185.62,87.13 185.27,87.18 184.92,89.03 184.57,87.02 184.22,87.01 183.87,87.12 183.52,87.07 183.17,87.3 182.82,87.02 182.47,86.97 182.12,87.24 181.77,87.15 181.42,87.09 181.07,87.17 180.72,87.21 180.37,87.21 180.02,87.31 179.67,87.21 179.32,87.15 178.97,87.18 178.62,87.34 178.28,87.24 177.93,86.98 177.58,87.24 177.23,86.97 176.88,87.34 176.53,87.31" fill="#ffb304"/><path d="M131.15 70.14V76.4" stroke="#c8683e" stroke-width="1.2"/></g><path d="M40.4 38.4h1.8M221.9 38.4h-1.8M40.4 60.75h1.8M221.9 60.75h-1.8M40.4 83.1h1.8M221.9 83.1h-1.8M40.4 105.45h1.8M221.9 105.45h-1.8M40.4 127.8h1.8M221.9 127.8h-1.8M40.4 127.8v-1.8M40.4 38.4v1.8M85.78 127.8v-1.8M85.78 38.4v1.8M131.15 127.8v-1.8M131.15 38.4v1.8M176.53 127.8v-1.8M176.53 38.4v1.8M221.9 127.8v-1.8M221.9 38.4v1.8" stroke="#5c5c5c" stroke-width="0.9" fill="none"/><rect x="40.4" y="38.4" width="181.5" height="89.4" fill="none" stroke="#5c5c5c" stroke-width="1.1"/><text x="37.8" y="42.2" font-size="9.7" text-anchor="end">100</text><text x="37.8" y="64.55" font-size="9.7" text-anchor="end">50</text><text x="37.8" y="86.9" font-size="9.7" text-anchor="end">0</text><text x="37.8" y="109.25" font-size="9.7" text-anchor="end">-50</text><text x="37.8" y="131.6" font-size="9.7" text-anchor="end">-100</text><rect x="142.2" y="41.9" width="76.1" height="24" fill="#fff" stroke="#5a5a5a" stroke-width="0.9"/><path d="M143.4 46.7H154.2" stroke="#6cbcec" stroke-width="1.15"/><text x="155.5" y="49" font-size="6.65" text-anchor="start" class="lg">PI-MRAS</text><path d="M143.4 54.14H154.2" stroke="#f6a084" stroke-width="1.15"/><text x="155.5" y="56.44" font-size="6.65" text-anchor="start" class="lg">FTSM-MRAS</text><path d="M143.4 61.58H154.2" stroke="#f7d27e" stroke-width="1.15"/><text x="155.5" y="63.88" font-size="6.65" text-anchor="start" class="lg">Adaptive STA-MRAS</text><text transform="translate(15.1,83.2) rotate(-90)" font-size="10.95" text-anchor="middle">Speed Error (rpm)</text><text transform="translate(12.1,20.5) rotate(-90)" font-size="10.7" text-anchor="middle">R<tspan font-size="7.5" dy="4.1">s</tspan><tspan dy="-4.1"> (pu)</tspan></text><text x="131.2" y="140.8" font-size="10.7" text-anchor="middle" class="pl">(a)</text><rect x="301.7" y="6.8" width="184" height="23.6" fill="#fff"/><path d="M347.7 6.8V30.4M393.7 6.8V30.4M439.7 6.8V30.4M301.7 26.47H485.7M301.7 18.6H485.7M301.7 10.73H485.7" stroke="#c2c2c2" stroke-width="0.8" fill="none"/><clipPath id="c3"><rect x="301.7" y="6.8" width="184" height="23.6"/></clipPath><g clip-path="url(#c3)"><path d="M301.7 18.6H347.7V10.73H393.7V18.6H439.7V26.47H485.7" stroke="#a033aa" stroke-width="1.4" fill="none"/></g><path d="M301.7 26.47h1.8M485.7 26.47h-1.8M301.7 18.6h1.8M485.7 18.6h-1.8M301.7 10.73h1.8M485.7 10.73h-1.8M301.7 30.4v-1.8M301.7 6.8v1.8M347.7 30.4v-1.8M347.7 6.8v1.8M393.7 30.4v-1.8M393.7 6.8v1.8M439.7 30.4v-1.8M439.7 6.8v1.8M485.7 30.4v-1.8M485.7 6.8v1.8" stroke="#5c5c5c" stroke-width="0.9" fill="none"/><rect x="301.7" y="6.8" width="184" height="23.6" fill="none" stroke="#5c5c5c" stroke-width="1.1"/><text x="299.1" y="30.27" font-size="9.7" text-anchor="end">0.9</text><text x="299.1" y="23.4" font-size="9.7" text-anchor="end">1</text><text x="299.1" y="14.53" font-size="9.7" text-anchor="end">1.1</text><rect x="301.7" y="36.5" width="184" height="91" fill="#fff"/><path d="M347.7 36.5V127.5M393.7 36.5V127.5M439.7 36.5V127.5M301.7 59.25H485.7M301.7 82H485.7M301.7 104.75H485.7" stroke="#c2c2c2" stroke-width="0.8" fill="none"/><clipPath id="c4"><rect x="301.7" y="36.5" width="184" height="91"/></clipPath><g clip-path="url(#c4)"><polygon points="301.7,71.52 302.05,71.27 302.4,71.56 302.75,71.3 303.1,71.12 303.45,71.42 303.8,71.43 304.15,71.69 304.5,71.11 304.85,69.01 305.2,71.54 305.55,71.24 305.9,71.19 306.25,71.31 306.6,71.67 306.95,71.42 307.3,71.69 307.65,71.7 308,71.43 308.35,71.57 308.7,71.4 309.05,71.44 309.4,71.66 309.75,71.62 310.1,71.56 310.45,71.22 310.8,71.19 311.15,71.52 311.5,71.17 311.85,71.24 312.2,71.35 312.55,71.28 312.9,71.35 313.25,71.55 313.6,71.57 313.95,71.47 314.3,71.43 314.65,71.17 315,71.14 315.35,71.11 315.7,71.29 316.05,71.42 316.4,71.27 316.75,71.55 317.1,71.31 317.45,71.48 317.8,71.59 318.15,71.46 318.5,71.19 318.85,71.59 319.2,71.29 319.55,71.67 319.9,71.48 320.25,71.68 320.6,71.54 320.95,71.37 321.3,71.26 321.65,71.55 322,71.34 322.35,71.29 322.7,71.48 323.05,71.11 323.4,71.4 323.75,71.46 324.1,71.58 324.45,71.31 324.8,71.52 325.15,71.31 325.5,71.1 325.85,71.46 326.2,71.32 326.55,71.41 326.9,71.28 327.25,71.54 327.6,71.24 327.95,71.54 328.3,71.42 328.65,71.59 329,71.25 329.35,71.22 329.7,71.1 330.05,71.19 330.4,71.62 330.75,71.68 331.1,71.17 331.45,71.26 331.8,71.38 332.15,71.42 332.5,71.55 332.85,70.14 333.2,71.11 333.55,71.45 333.9,71.17 334.25,71.29 334.6,71.29 334.95,71.52 335.3,71.44 335.65,71.53 336,71.59 336.35,71.41 336.7,71.26 337.05,71.42 337.4,71.68 337.75,71.59 338.1,71.14 338.45,71.62 338.8,71.31 339.15,71.64 339.5,71.53 339.85,71.16 340.2,71.05 340.55,71.48 340.9,71.27 341.25,71.49 341.6,71.11 341.95,71.39 342.3,71.49 342.65,71.17 343,71.59 343.35,71.58 343.7,71.64 344.05,71.69 344.4,71.27 344.75,71.14 345.1,71.16 345.45,71.15 345.8,71.26 346.15,71.35 346.5,71.31 346.85,71.65 347.2,71.57 347.55,71.16 347.7,71.12 347.7,96.46 347.55,96.83 347.2,96.36 346.85,96.79 346.5,96.9 346.15,96.73 345.8,96.36 345.45,96.51 345.1,96.88 344.75,96.8 344.4,96.51 344.05,96.89 343.7,96.87 343.35,96.53 343,96.39 342.65,96.87 342.3,96.62 341.95,96.67 341.6,96.86 341.25,96.54 340.9,96.61 340.55,96.47 340.2,96.7 339.85,96.6 339.5,96.78 339.15,96.6 338.8,96.45 338.45,96.38 338.1,96.79 337.75,96.57 337.4,96.58 337.05,96.36 336.7,96.38 336.35,96.72 336,96.57 335.65,96.42 335.3,96.73 334.95,96.67 334.6,97.99 334.25,97.26 333.9,96.83 333.55,96.62 333.2,96.77 332.85,96.99 332.5,96.63 332.15,96.55 331.8,96.45 331.45,100.23 331.1,98.43 330.75,96.9 330.4,96.8 330.05,96.49 329.7,96.5 329.35,96.35 329,97.52 328.65,96.48 328.3,96.51 327.95,96.84 327.6,96.85 327.25,96.86 326.9,96.73 326.55,96.52 326.2,97 325.85,96.45 325.5,96.43 325.15,96.46 324.8,96.69 324.45,96.89 324.1,96.82 323.75,96.36 323.4,96.38 323.05,97.1 322.7,96.78 322.35,96.76 322,96.8 321.65,96.58 321.3,96.51 320.95,96.74 320.6,96.48 320.25,96.61 319.9,96.55 319.55,96.8 319.2,96.55 318.85,96.65 318.5,96.31 318.15,96.51 317.8,96.43 317.45,96.46 317.1,96.52 316.75,96.84 316.4,96.78 316.05,96.88 315.7,96.4 315.35,96.36 315,96.44 314.65,96.71 314.3,96.85 313.95,96.41 313.6,96.72 313.25,99.93 312.9,96.69 312.55,96.8 312.2,96.8 311.85,96.87 311.5,96.75 311.15,96.54 310.8,97.54 310.45,96.76 310.1,96.54 309.75,96.5 309.4,96.79 309.05,96.79 308.7,96.81 308.35,96.36 308,96.66 307.65,96.37 307.3,96.39 306.95,96.52 306.6,96.85 306.25,96.56 305.9,96.36 305.55,96.36 305.2,96.89 304.85,96.37 304.5,96.75 304.15,96.45 303.8,96.33 303.45,96.75 303.1,97.03 302.75,96.77 302.4,96.39 302.05,96.78 301.7,96.63" fill="#0a72d0"/><polygon points="347.7,70.92 348.05,70.88 348.4,70.7 348.75,71.28 349.1,71.01 349.45,71.04 349.8,70.99 350.15,71.23 350.5,71.06 350.85,70.92 351.2,70.86 351.55,70.81 351.9,71.06 352.25,71.23 352.6,71.19 352.95,70.73 353.3,71.27 353.65,68.83 354,70.86 354.35,70.92 354.7,71.08 355.05,71.11 355.4,70.8 355.75,70.82 356.1,71.11 356.45,70.83 356.8,70.91 357.15,70.93 357.5,71.18 357.85,71 358.2,71.01 358.55,70.7 358.9,71.05 359.25,71.1 359.6,70.96 359.95,71 360.3,70.95 360.65,70.82 361,71.27 361.35,71.13 361.7,71.19 362.05,71.05 362.4,70.86 362.75,70.7 363.1,71.26 363.45,69.18 363.8,70.83 364.15,71.05 364.5,70.8 364.85,70.95 365.2,70.98 365.55,71.02 365.9,70.88 366.25,70.75 366.6,71.19 366.95,71.27 367.3,71.1 367.65,70.99 368,70.83 368.35,71.14 368.7,71 369.05,71.06 369.4,70.74 369.75,70.98 370.1,71.11 370.45,71.12 370.8,70.77 371.15,70.82 371.5,71 371.85,71.13 372.2,71.04 372.55,71.29 372.9,71 373.25,71.28 373.6,70.82 373.95,71.11 374.3,70.79 374.65,70.81 375,71.24 375.35,71.21 375.7,70.72 376.05,70.81 376.4,70.8 376.75,70.74 377.1,70.53 377.45,71.06 377.8,70.88 378.15,71.05 378.5,71.27 378.85,71.14 379.2,71.15 379.55,70.72 379.9,71.07 380.25,70.91 380.6,70.75 380.95,68.9 381.3,70.85 381.65,70.86 382,70.93 382.35,70.77 382.7,71.25 383.05,70.7 383.4,66.37 383.75,71.11 384.1,71.11 384.45,71.09 384.8,70.99 385.15,70.89 385.5,71.22 385.85,71 386.2,70.82 386.55,70.97 386.9,70.97 387.25,70.76 387.6,71.05 387.95,71.25 388.3,71.12 388.65,71.1 389,70.76 389.35,71.12 389.7,71.2 390.05,71.08 390.4,71 390.75,71.09 391.1,70.82 391.45,70.77 391.8,70.75 392.15,70.73 392.5,71.2 392.85,71.21 393.2,70.95 393.55,70.39 393.7,70.87 393.7,98.89 393.55,98.74 393.2,98.36 392.85,98.38 392.5,98.58 392.15,98.38 391.8,98.64 391.45,98.84 391.1,98.86 390.75,98.7 390.4,98.83 390.05,98.48 389.7,98.71 389.35,98.31 389,98.6 388.65,98.41 388.3,98.76 387.95,98.89 387.6,98.36 387.25,98.38 386.9,98.39 386.55,98.56 386.2,98.75 385.85,99.24 385.5,98.69 385.15,98.63 384.8,98.66 384.45,98.5 384.1,98.56 383.75,98.35 383.4,98.89 383.05,98.81 382.7,98.34 382.35,98.73 382,98.38 381.65,98.81 381.3,98.71 380.95,98.42 380.6,98.43 380.25,98.83 379.9,101.18 379.55,98.51 379.2,98.43 378.85,98.64 378.5,98.45 378.15,98.81 377.8,98.44 377.45,98.53 377.1,98.57 376.75,98.7 376.4,98.31 376.05,98.31 375.7,98.45 375.35,98.51 375,98.68 374.65,101.01 374.3,98.47 373.95,98.86 373.6,98.9 373.25,98.58 372.9,98.81 372.55,98.38 372.2,98.6 371.85,98.5 371.5,98.81 371.15,98.88 370.8,98.65 370.45,98.45 370.1,98.81 369.75,98.56 369.4,98.45 369.05,98.56 368.7,98.54 368.35,98.43 368,98.68 367.65,98.68 367.3,99.9 366.95,98.39 366.6,98.31 366.25,98.68 365.9,98.49 365.55,98.53 365.2,98.82 364.85,98.54 364.5,98.82 364.15,98.58 363.8,98.51 363.45,98.44 363.1,98.58 362.75,98.32 362.4,98.59 362.05,98.34 361.7,98.81 361.35,98.81 361,98.35 360.65,98.38 360.3,98.65 359.95,98.36 359.6,98.73 359.25,98.64 358.9,98.35 358.55,98.83 358.2,98.68 357.85,98.45 357.5,98.67 357.15,98.87 356.8,98.72 356.45,98.62 356.1,98.85 355.75,98.78 355.4,98.33 355.05,98.51 354.7,98.86 354.35,98.51 354,98.64 353.65,98.31 353.3,98.56 352.95,98.39 352.6,98.65 352.25,98.83 351.9,98.82 351.55,98.5 351.2,98.6 350.85,98.63 350.5,98.48 350.15,98.77 349.8,98.47 349.45,98.75 349.1,98.49 348.75,98.35 348.4,98.52 348.05,98.69 347.7,98.42" fill="#0a72d0"/><polygon points="393.7,71.01 394.05,70.85 394.4,70.5 394.75,70.8 395.1,70.53 395.45,70.79 395.8,70.99 396.15,70.98 396.5,70.7 396.85,70.46 397.2,70.61 397.55,70.64 397.9,70.69 398.25,70.61 398.6,70.94 398.95,70.79 399.3,71 399.65,70.7 400,70.58 400.35,70.84 400.7,70.73 401.05,70.89 401.4,70.51 401.75,66.15 402.1,71 402.45,70.16 402.8,70.53 403.15,70.56 403.5,68.52 403.85,70.86 404.2,70.74 404.55,70.6 404.9,70.98 405.25,70.48 405.6,70.6 405.95,70.59 406.3,70.57 406.65,70.51 407,70.99 407.35,70.99 407.7,70.78 408.05,70.95 408.4,70.59 408.75,70.94 409.1,70.86 409.45,70.89 409.8,70.84 410.15,70.42 410.5,70.86 410.85,70.65 411.2,70.79 411.55,70.56 411.9,70.95 412.25,70.98 412.6,70.85 412.95,70.97 413.3,70.79 413.65,70.66 414,70.96 414.35,70.94 414.7,70.53 415.05,70.76 415.4,70.45 415.75,70.42 416.1,70.49 416.45,70.93 416.8,70.53 417.15,70.46 417.5,70.96 417.85,70.47 418.2,70.71 418.55,70.67 418.9,70.73 419.25,70.48 419.6,70.7 419.95,70.49 420.3,70.64 420.65,70.84 421,70.5 421.35,70.42 421.7,70.8 422.05,70.93 422.4,70.51 422.75,70.46 423.1,70.52 423.45,70.48 423.8,70.73 424.15,71.01 424.5,70.75 424.85,70.48 425.2,69.03 425.55,70.89 425.9,70.73 426.25,70.72 426.6,70.89 426.95,70.65 427.3,70.51 427.65,70.5 428,70.72 428.35,71 428.7,70.8 429.05,70.89 429.4,70.84 429.75,70.83 430.1,70.45 430.45,70.67 430.8,70.85 431.15,69.21 431.5,70.42 431.85,70.77 432.2,70.52 432.55,70.75 432.9,70.42 433.25,70.44 433.6,70.43 433.95,70.77 434.3,70.79 434.65,70.75 435,70.95 435.35,68.9 435.7,70.59 436.05,70.91 436.4,70.76 436.75,70.62 437.1,70.63 437.45,69.39 437.8,70.72 438.15,70.61 438.5,70.64 438.85,70.8 439.2,70.75 439.55,70.72 439.7,70.43 439.7,96.59 439.55,96.99 439.2,96.81 438.85,96.66 438.5,97.03 438.15,96.67 437.8,96.62 437.45,96.9 437.1,97.09 436.75,97.16 436.4,96.9 436.05,96.77 435.7,96.66 435.35,96.72 435,96.86 434.65,97.05 434.3,97 433.95,97.04 433.6,96.99 433.25,97.03 432.9,97.06 432.55,96.69 432.2,96.84 431.85,96.84 431.5,96.61 431.15,96.63 430.8,96.67 430.45,97.13 430.1,96.85 429.75,96.99 429.4,96.73 429.05,97.03 428.7,99.17 428.35,96.8 428,97.18 427.65,97.09 427.3,96.76 426.95,96.7 426.6,96.75 426.25,96.88 425.9,97 425.55,96.74 425.2,96.89 424.85,97.14 424.5,96.6 424.15,96.7 423.8,96.65 423.45,96.66 423.1,97.16 422.75,98.01 422.4,96.65 422.05,97.1 421.7,96.72 421.35,97.04 421,96.93 420.65,97.04 420.3,96.78 419.95,97.07 419.6,96.79 419.25,96.68 418.9,96.91 418.55,96.96 418.2,96.73 417.85,96.79 417.5,97.17 417.15,96.78 416.8,97 416.45,97.05 416.1,96.65 415.75,97.11 415.4,96.8 415.05,97.04 414.7,96.99 414.35,96.73 414,96.59 413.65,96.61 413.3,96.97 412.95,97.04 412.6,96.64 412.25,97.12 411.9,96.69 411.55,96.77 411.2,97.41 410.85,96.79 410.5,97.05 410.15,96.81 409.8,96.65 409.45,97 409.1,97.04 408.75,96.9 408.4,96.81 408.05,96.6 407.7,96.81 407.35,97 407,96.78 406.65,98.27 406.3,97.06 405.95,96.95 405.6,97.07 405.25,97.13 404.9,96.7 404.55,97.03 404.2,97.12 403.85,96.87 403.5,96.87 403.15,97 402.8,97.1 402.45,96.99 402.1,98.74 401.75,96.62 401.4,97.18 401.05,96.91 400.7,96.92 400.35,97.16 400,97.13 399.65,97.1 399.3,96.65 398.95,96.67 398.6,97.05 398.25,96.99 397.9,96.6 397.55,96.77 397.2,96.7 396.85,96.68 396.5,97.03 396.15,96.81 395.8,96.63 395.45,97.13 395.1,97 394.75,97.05 394.4,96.73 394.05,96.82 393.7,96.91" fill="#0a72d0"/><polygon points="439.7,68.71 440.05,68.92 440.4,68.56 440.75,68.76 441.1,68.86 441.45,68.78 441.8,68.52 442.15,68.97 442.5,68.84 442.85,69.04 443.2,69.04 443.55,69.08 443.9,68.53 444.25,68.88 444.6,69.09 444.95,66.19 445.3,69.06 445.65,68.68 446,68.78 446.35,68.92 446.7,69 447.05,68.96 447.4,68.53 447.75,68.89 448.1,68.98 448.45,67.77 448.8,68.67 449.15,69.09 449.5,69.06 449.85,68.91 450.2,68.73 450.55,69.08 450.9,68.51 451.25,69.06 451.6,68.9 451.95,68.72 452.3,68.54 452.65,68.86 453,68.82 453.35,68.95 453.7,68.97 454.05,67.13 454.4,68.65 454.75,64.01 455.1,68.59 455.45,68.63 455.8,69.06 456.15,68.88 456.5,68.57 456.85,68.81 457.2,68.9 457.55,68 457.9,68.76 458.25,68.99 458.6,68.64 458.95,68.65 459.3,68.53 459.65,68.54 460,68.8 460.35,68.53 460.7,68.67 461.05,68.99 461.4,69.1 461.75,68.94 462.1,68.52 462.45,69.01 462.8,69.02 463.15,68.7 463.5,68.89 463.85,68.84 464.2,68.63 464.55,68.67 464.9,68.68 465.25,69.08 465.6,68.18 465.95,68.4 466.3,69.1 466.65,68.59 467,68.84 467.35,68.97 467.7,68.87 468.05,68.63 468.4,68.95 468.75,68.94 469.1,68.75 469.45,68.56 469.8,68.55 470.15,67.74 470.5,68.64 470.85,69 471.2,68.98 471.55,68.64 471.9,69 472.25,68.87 472.6,68.92 472.95,68.84 473.3,68.9 473.65,68.76 474,68.77 474.35,69.05 474.7,69.02 475.05,68.79 475.4,69.07 475.75,68.84 476.1,69 476.45,68.52 476.8,68.64 477.15,68.7 477.5,68.82 477.85,68.98 478.2,68.56 478.55,65.97 478.9,68.58 479.25,68.87 479.6,68.52 479.95,68.82 480.3,68.7 480.65,68.72 481,68.92 481.35,68.77 481.7,68.62 482.05,65.52 482.4,68.69 482.75,68.96 483.1,68.64 483.45,69.09 483.8,68.86 484.15,69.03 484.5,68.77 484.85,68.77 485.2,68.89 485.55,69.06 485.7,69.01 485.7,97.4 485.55,97.38 485.2,97.7 484.85,97.42 484.5,97.76 484.15,97.56 483.8,97.63 483.45,99.64 483.1,97.65 482.75,101.28 482.4,97.88 482.05,97.24 481.7,97.55 481.35,97.76 481,97.19 480.65,97.67 480.3,97.68 479.95,97.54 479.6,97.64 479.25,97.38 478.9,97.22 478.55,97.73 478.2,97.69 477.85,97.36 477.5,97.62 477.15,97.32 476.8,97.43 476.45,97.75 476.1,97.72 475.75,97.69 475.4,97.18 475.05,97.32 474.7,97.43 474.35,97.28 474,97.81 473.65,97.55 473.3,97.56 472.95,97.49 472.6,97.27 472.25,97.76 471.9,97.35 471.55,97.45 471.2,97.27 470.85,97.32 470.5,97.47 470.15,97.46 469.8,97.42 469.45,97.64 469.1,97.33 468.75,97.66 468.4,97.32 468.05,97.35 467.7,97.21 467.35,97.36 467,97.36 466.65,97.52 466.3,97.6 465.95,97.51 465.6,97.18 465.25,97.52 464.9,97.49 464.55,98.56 464.2,97.19 463.85,97.75 463.5,97.34 463.15,97.67 462.8,97.2 462.45,97.51 462.1,97.46 461.75,97.28 461.4,97.71 461.05,97.21 460.7,97.39 460.35,97.67 460,97.52 459.65,97.38 459.3,97.55 458.95,97.5 458.6,97.44 458.25,97.63 457.9,97.74 457.55,97.62 457.2,97.28 456.85,97.45 456.5,102.74 456.15,97.42 455.8,97.45 455.45,97.74 455.1,97.6 454.75,97.67 454.4,97.26 454.05,97.6 453.7,97.38 453.35,97.55 453,97.5 452.65,97.69 452.3,97.6 451.95,97.19 451.6,97.51 451.25,97.36 450.9,97.61 450.55,97.65 450.2,97.32 449.85,97.3 449.5,97.25 449.15,97.2 448.8,97.89 448.45,97.19 448.1,97.37 447.75,97.54 447.4,98.94 447.05,97.42 446.7,97.5 446.35,97.3 446,97.72 445.65,97.24 445.3,97.37 444.95,97.21 444.6,97.42 444.25,97.41 443.9,97.76 443.55,97.46 443.2,97.75 442.85,97.54 442.5,97.47 442.15,97.76 441.8,97.7 441.45,97.76 441.1,97.7 440.75,97.17 440.4,97.32 440.05,97.23 439.7,97.36" fill="#0a72d0"/><polygon points="301.7,76.1 302.05,75.89 302.4,75.73 302.75,76.08 303.1,76.24 303.45,75.73 303.8,76.29 304.15,76.07 304.5,75.7 304.85,75.75 305.2,75.7 305.55,75.97 305.9,76.1 306.25,76.04 306.6,75.19 306.95,75.88 307.3,76.24 307.65,75.81 308,76.01 308.35,75.79 308.7,75.93 309.05,75.73 309.4,76 309.75,75.76 310.1,75.82 310.45,76.18 310.8,75.73 311.15,76.08 311.5,76.1 311.85,75.72 312.2,75.91 312.55,76.08 312.9,75.84 313.25,75.43 313.6,75.98 313.95,74.36 314.3,76 314.65,73.75 315,76.03 315.35,76.04 315.7,76.13 316.05,76.02 316.4,76.14 316.75,75.94 317.1,75.7 317.45,75.88 317.8,75.97 318.15,75.5 318.5,75.9 318.85,76.13 319.2,76.2 319.55,76.01 319.9,75.97 320.25,76.18 320.6,75.77 320.95,74.82 321.3,76.15 321.65,74.11 322,76.09 322.35,75.95 322.7,75.45 323.05,76.05 323.4,73.55 323.75,73.92 324.1,75.42 324.45,75.97 324.8,76.12 325.15,75.92 325.5,76.21 325.85,75.83 326.2,76.01 326.55,76.24 326.9,76.23 327.25,75.76 327.6,76.1 327.95,76.03 328.3,76.07 328.65,76.07 329,76.17 329.35,76 329.7,75.75 330.05,75.86 330.4,76.26 330.75,75.74 331.1,75.72 331.45,75.92 331.8,76.06 332.15,76.14 332.5,76.16 332.85,75.52 333.2,76.27 333.55,76.21 333.9,75.92 334.25,75.78 334.6,75.89 334.95,75.74 335.3,76.08 335.65,76.13 336,76.11 336.35,76.06 336.7,75.91 337.05,76.08 337.4,76.12 337.75,75.95 338.1,75.72 338.45,75.97 338.8,76.04 339.15,75.58 339.5,75.7 339.85,76.12 340.2,75.77 340.55,75.94 340.9,75.83 341.25,75.76 341.6,76.23 341.95,76.12 342.3,76.13 342.65,75.75 343,75.9 343.35,75.97 343.7,75.93 344.05,76.05 344.4,75.75 344.75,76.02 345.1,76.16 345.45,75.99 345.8,75.96 346.15,76.28 346.5,75.86 346.85,76.15 347.2,75.76 347.55,75.97 347.7,75.94 347.7,96.1 347.55,90.32 347.2,90.37 346.85,90.59 346.5,90.64 346.15,90.47 345.8,90.33 345.45,90.69 345.1,90.76 344.75,90.56 344.4,92.29 344.05,90.36 343.7,90.62 343.35,90.45 343,90.61 342.65,90.69 342.3,90.69 341.95,90.86 341.6,90.72 341.25,90.43 340.9,90.45 340.55,90.35 340.2,90.31 339.85,90.8 339.5,90.33 339.15,91.09 338.8,90.89 338.45,90.61 338.1,90.66 337.75,90.87 337.4,90.41 337.05,90.63 336.7,90.74 336.35,90.67 336,90.73 335.65,90.73 335.3,90.42 334.95,90.68 334.6,90.57 334.25,90.6 333.9,90.9 333.55,90.31 333.2,92.4 332.85,90.83 332.5,92.11 332.15,90.74 331.8,90.81 331.45,90.39 331.1,90.53 330.75,90.71 330.4,90.83 330.05,90.52 329.7,90.32 329.35,90.5 329,90.6 328.65,90.46 328.3,90.51 327.95,90.55 327.6,90.77 327.25,90.66 326.9,90.4 326.55,90.67 326.2,90.63 325.85,92.07 325.5,90.51 325.15,90.62 324.8,90.38 324.45,90.53 324.1,90.66 323.75,90.54 323.4,90.57 323.05,90.7 322.7,90.63 322.35,90.79 322,90.66 321.65,90.59 321.3,91.69 320.95,94.58 320.6,90.54 320.25,90.41 319.9,90.66 319.55,90.91 319.2,90.52 318.85,90.49 318.5,92.45 318.15,90.41 317.8,90.9 317.45,90.47 317.1,90.36 316.75,91.97 316.4,90.73 316.05,90.32 315.7,90.4 315.35,90.72 315,90.74 314.65,90.82 314.3,90.63 313.95,90.37 313.6,90.75 313.25,90.49 312.9,90.57 312.55,90.6 312.2,90.37 311.85,90.75 311.5,90.3 311.15,90.53 310.8,94.32 310.45,90.45 310.1,90.53 309.75,90.84 309.4,90.72 309.05,90.6 308.7,91.41 308.35,90.39 308,93.28 307.65,90.35 307.3,90.61 306.95,90.71 306.6,90.34 306.25,90.77 305.9,90.39 305.55,90.8 305.2,90.4 304.85,90.84 304.5,90.61 304.15,90.83 303.8,90.53 303.45,90.37 303.1,90.47 302.75,90.75 302.4,94 302.05,90.51 301.7,90.41" fill="#ff560a"/><polygon points="347.7,75.24 348.05,75.25 348.4,72.96 348.75,75.6 349.1,74.71 349.45,75.45 349.8,75.18 350.15,75.16 350.5,74.31 350.85,74.51 351.2,74.89 351.55,75.67 351.9,75.31 352.25,74.23 352.6,75.45 352.95,75.19 353.3,75.46 353.65,75.62 354,75.25 354.35,75.38 354.7,75.27 355.05,75.49 355.4,75.24 355.75,75.37 356.1,75.4 356.45,75.51 356.8,75.68 357.15,75.66 357.5,75.32 357.85,75.05 358.2,75.12 358.55,75.32 358.9,75.35 359.25,75.54 359.6,75.56 359.95,75.22 360.3,75.6 360.65,75.18 361,75.39 361.35,75.48 361.7,75.22 362.05,75.55 362.4,75.6 362.75,75.57 363.1,75.29 363.45,75.24 363.8,75.18 364.15,75.11 364.5,74.34 364.85,75.15 365.2,75.66 365.55,75.51 365.9,75.52 366.25,75.03 366.6,75.18 366.95,75.66 367.3,75.04 367.65,75.21 368,75.19 368.35,75.53 368.7,75.41 369.05,75.23 369.4,75.5 369.75,75.17 370.1,75.67 370.45,75.23 370.8,75.22 371.15,75.46 371.5,75.47 371.85,75.47 372.2,75.48 372.55,74.99 372.9,75.41 373.25,75.22 373.6,75.26 373.95,75.31 374.3,74.23 374.65,73.91 375,75.32 375.35,75.47 375.7,74.36 376.05,75.7 376.4,75.35 376.75,75.44 377.1,75.53 377.45,75.59 377.8,75.67 378.15,75.24 378.5,74.46 378.85,72.27 379.2,75.35 379.55,74.77 379.9,75.51 380.25,75.57 380.6,75.31 380.95,75.59 381.3,75.28 381.65,75.25 382,75.59 382.35,75.55 382.7,75.47 383.05,75.24 383.4,75.31 383.75,75.54 384.1,75.52 384.45,74.34 384.8,75.47 385.15,75.2 385.5,75.28 385.85,75.15 386.2,75.64 386.55,75.53 386.9,75.33 387.25,74.92 387.6,75.69 387.95,75.15 388.3,74.85 388.65,75.37 389,75.34 389.35,75.2 389.7,75.21 390.05,74.08 390.4,75.36 390.75,75.48 391.1,75.28 391.45,75.37 391.8,75.45 392.15,75.46 392.5,75.36 392.85,75.55 393.2,75.26 393.55,75.63 393.7,75.47 393.7,91.71 393.55,91.61 393.2,91.59 392.85,91.72 392.5,91.62 392.15,91.71 391.8,91.54 391.45,92.77 391.1,93.21 390.75,91.45 390.4,91.34 390.05,91.74 389.7,91.51 389.35,91.31 389,91.79 388.65,91.43 388.3,91.33 387.95,91.57 387.6,91.71 387.25,91.68 386.9,91.81 386.55,91.31 386.2,91.33 385.85,91.8 385.5,91.39 385.15,91.67 384.8,91.89 384.45,91.4 384.1,91.35 383.75,91.48 383.4,91.39 383.05,91.81 382.7,91.68 382.35,91.58 382,91.42 381.65,91.44 381.3,91.79 380.95,91.43 380.6,91.68 380.25,91.86 379.9,91.64 379.55,91.47 379.2,91.54 378.85,91.72 378.5,91.82 378.15,93.42 377.8,91.59 377.45,91.35 377.1,91.88 376.75,91.56 376.4,91.74 376.05,92.88 375.7,91.77 375.35,91.57 375,91.88 374.65,91.7 374.3,91.69 373.95,91.56 373.6,93.81 373.25,91.51 372.9,91.75 372.55,91.82 372.2,91.69 371.85,91.41 371.5,91.59 371.15,91.39 370.8,91.73 370.45,92.67 370.1,91.32 369.75,91.5 369.4,91.9 369.05,91.63 368.7,91.62 368.35,91.8 368,91.42 367.65,91.56 367.3,91.79 366.95,91.84 366.6,91.33 366.25,91.33 365.9,91.35 365.55,91.61 365.2,93.5 364.85,95.93 364.5,91.89 364.15,91.6 363.8,91.4 363.45,91.53 363.1,91.61 362.75,91.34 362.4,91.74 362.05,91.81 361.7,93.55 361.35,91.51 361,91.9 360.65,91.43 360.3,91.85 359.95,91.35 359.6,93.52 359.25,91.49 358.9,91.68 358.55,92.95 358.2,91.53 357.85,91.87 357.5,91.88 357.15,91.87 356.8,91.43 356.45,91.74 356.1,91.58 355.75,95.5 355.4,91.69 355.05,91.3 354.7,91.64 354.35,91.8 354,91.61 353.65,91.85 353.3,93.87 352.95,91.34 352.6,91.32 352.25,91.46 351.9,91.81 351.55,91.47 351.2,91.9 350.85,91.41 350.5,91.73 350.15,91.64 349.8,91.36 349.45,91.47 349.1,91.39 348.75,91.55 348.4,91.46 348.05,91.56 347.7,91.38" fill="#ff560a"/><polygon points="393.7,75.3 394.05,75.23 394.4,75.39 394.75,75.39 395.1,75.22 395.45,75.52 395.8,75.65 396.15,75.23 396.5,75.64 396.85,75.37 397.2,75.78 397.55,75.62 397.9,75.21 398.25,75.54 398.6,75.26 398.95,75.48 399.3,75.21 399.65,75.64 400,75.62 400.35,75.46 400.7,75.3 401.05,75.23 401.4,75.48 401.75,71.99 402.1,75.22 402.45,75.51 402.8,75.28 403.15,75.6 403.5,75.33 403.85,74.42 404.2,75.7 404.55,75.52 404.9,75.67 405.25,75.21 405.6,74.67 405.95,75.3 406.3,75.38 406.65,75.44 407,75.33 407.35,75.56 407.7,75.75 408.05,75.25 408.4,75.54 408.75,75.29 409.1,75.73 409.45,75.27 409.8,75.71 410.15,75.47 410.5,74.42 410.85,75.32 411.2,75.3 411.55,75.44 411.9,75.54 412.25,75.37 412.6,75.78 412.95,75.63 413.3,75.37 413.65,75.4 414,75.48 414.35,75.75 414.7,75.5 415.05,75.11 415.4,75.59 415.75,75.31 416.1,75.64 416.45,75.79 416.8,75.22 417.15,72.27 417.5,75.74 417.85,75.27 418.2,75.73 418.55,75.7 418.9,75.61 419.25,75.31 419.6,75.66 419.95,75.3 420.3,75.63 420.65,75.62 421,75.39 421.35,75.74 421.7,75.47 422.05,75.35 422.4,74.79 422.75,75.08 423.1,75.29 423.45,75.38 423.8,75.35 424.15,75.34 424.5,75.58 424.85,75.72 425.2,75.3 425.55,75.68 425.9,75.72 426.25,75.48 426.6,75.32 426.95,75.57 427.3,75.63 427.65,75.37 428,75.25 428.35,75.77 428.7,75.64 429.05,75.43 429.4,75.36 429.75,75.36 430.1,75.33 430.45,75.43 430.8,75.21 431.15,75.44 431.5,75.31 431.85,75.56 432.2,75.49 432.55,75.23 432.9,75.75 433.25,75.24 433.6,75.52 433.95,75.44 434.3,75.72 434.65,75.41 435,75.38 435.35,75.67 435.7,75.26 436.05,75.28 436.4,75.37 436.75,75.72 437.1,75.35 437.45,74.69 437.8,75.56 438.15,75.33 438.5,75.45 438.85,75.61 439.2,75.29 439.55,75.47 439.7,75.29 439.7,90.23 439.55,90.35 439.2,90.33 438.85,90.75 438.5,94.44 438.15,90.63 437.8,90.46 437.45,90.75 437.1,90.58 436.75,91.12 436.4,90.3 436.05,90.65 435.7,90.21 435.35,90.59 435,90.37 434.65,90.59 434.3,90.54 433.95,90.67 433.6,90.64 433.25,90.66 432.9,90.27 432.55,90.6 432.2,90.22 431.85,90.24 431.5,90.3 431.15,90.49 430.8,90.47 430.45,90.33 430.1,92.36 429.75,90.69 429.4,90.4 429.05,90.54 428.7,91.44 428.35,90.51 428,90.22 427.65,90.38 427.3,90.7 426.95,92.32 426.6,90.77 426.25,90.46 425.9,90.26 425.55,90.72 425.2,93.19 424.85,91.43 424.5,90.23 424.15,90.28 423.8,90.49 423.45,90.49 423.1,90.43 422.75,94.93 422.4,90.73 422.05,90.75 421.7,90.28 421.35,90.72 421,90.21 420.65,90.37 420.3,90.25 419.95,90.59 419.6,90.33 419.25,90.76 418.9,90.34 418.55,90.49 418.2,90.23 417.85,92.82 417.5,90.47 417.15,90.53 416.8,90.58 416.45,91.07 416.1,91.81 415.75,90.31 415.4,90.37 415.05,90.46 414.7,92.24 414.35,90.43 414,90.61 413.65,90.42 413.3,90.63 412.95,90.78 412.6,90.57 412.25,90.67 411.9,90.34 411.55,90.3 411.2,90.8 410.85,90.71 410.5,90.74 410.15,90.67 409.8,90.61 409.45,91.9 409.1,90.76 408.75,90.21 408.4,90.41 408.05,90.45 407.7,90.74 407.35,90.41 407,90.77 406.65,90.8 406.3,90.38 405.95,90.38 405.6,90.61 405.25,90.58 404.9,90.63 404.55,90.26 404.2,90.8 403.85,90.52 403.5,90.58 403.15,90.42 402.8,90.66 402.45,90.69 402.1,93.55 401.75,90.57 401.4,90.3 401.05,90.29 400.7,90.7 400.35,90.46 400,90.52 399.65,90.77 399.3,90.62 398.95,90.54 398.6,90.39 398.25,90.48 397.9,93.05 397.55,90.47 397.2,93.05 396.85,90.43 396.5,90.54 396.15,94.15 395.8,90.61 395.45,90.63 395.1,90.37 394.75,90.45 394.4,90.31 394.05,90.56 393.7,90.5" fill="#ff560a"/><polygon points="439.7,74.5 440.05,74.62 440.4,74.62 440.75,74.46 441.1,74.78 441.45,73.14 441.8,74.69 442.15,73.36 442.5,74.6 442.85,74.6 443.2,74.66 443.55,74.73 443.9,74.6 444.25,74.67 444.6,74.77 444.95,74.58 445.3,73.87 445.65,74.9 446,74.53 446.35,74.71 446.7,74.51 447.05,74.64 447.4,73.85 447.75,74.11 448.1,74.61 448.45,74.43 448.8,74.53 449.15,74.87 449.5,74.81 449.85,71.39 450.2,74.88 450.55,74.81 450.9,74.61 451.25,74.5 451.6,73.62 451.95,74.81 452.3,74.47 452.65,74.43 453,74.94 453.35,74.83 453.7,74.67 454.05,74.78 454.4,74.55 454.75,74.94 455.1,74.45 455.45,74.46 455.8,74.86 456.15,74.87 456.5,74.24 456.85,74.64 457.2,74.49 457.55,74.74 457.9,74.75 458.25,74.5 458.6,74.64 458.95,74.56 459.3,74.7 459.65,74.94 460,74.65 460.35,74.85 460.7,74.53 461.05,74.7 461.4,74.86 461.75,74.63 462.1,74.44 462.45,74.86 462.8,74.66 463.15,74.49 463.5,74.89 463.85,74.68 464.2,74.63 464.55,74.43 464.9,74.58 465.25,74.85 465.6,74.69 465.95,75.01 466.3,74.5 466.65,74.75 467,74.42 467.35,74.58 467.7,74.97 468.05,74.78 468.4,74.47 468.75,74.62 469.1,74.73 469.45,74.56 469.8,74.57 470.15,74.13 470.5,74.89 470.85,74.58 471.2,74.77 471.55,74.45 471.9,74.63 472.25,74.94 472.6,74.6 472.95,74.65 473.3,74.6 473.65,73.92 474,74.49 474.35,74.62 474.7,74.51 475.05,74.91 475.4,74.84 475.75,74.56 476.1,74.74 476.45,74.69 476.8,74.73 477.15,75.01 477.5,74.46 477.85,74.93 478.2,74.8 478.55,73.23 478.9,74.96 479.25,74.72 479.6,74.99 479.95,74.72 480.3,74.92 480.65,74.78 481,74.47 481.35,74.59 481.7,74.55 482.05,74.59 482.4,74.89 482.75,74.95 483.1,72.99 483.45,73.89 483.8,74.53 484.15,74.9 484.5,74.49 484.85,74.95 485.2,74.63 485.55,74.64 485.7,74.54 485.7,90.88 485.55,90.85 485.2,91.03 484.85,91.37 484.5,91.18 484.15,93.47 483.8,93.7 483.45,91.05 483.1,91.12 482.75,91.66 482.4,91.39 482.05,91.37 481.7,92 481.35,90.9 481,93.04 480.65,91.39 480.3,90.82 479.95,90.94 479.6,91.17 479.25,91.15 478.9,91.23 478.55,91.15 478.2,91.09 477.85,91.15 477.5,91.37 477.15,90.98 476.8,91.1 476.45,91.1 476.1,91.61 475.75,91.16 475.4,90.85 475.05,91.16 474.7,90.82 474.35,90.82 474,91.36 473.65,90.83 473.3,90.98 472.95,91.19 472.6,91.39 472.25,90.93 471.9,91.18 471.55,91.06 471.2,90.92 470.85,91.39 470.5,90.98 470.15,91.16 469.8,91.26 469.45,91.37 469.1,90.82 468.75,91.18 468.4,91.1 468.05,91.39 467.7,91.31 467.35,90.83 467,91.1 466.65,90.87 466.3,90.9 465.95,91.4 465.6,91.25 465.25,90.93 464.9,90.94 464.55,91.37 464.2,90.94 463.85,90.86 463.5,90.93 463.15,91.32 462.8,91.04 462.45,91.1 462.1,91.35 461.75,91.33 461.4,91.19 461.05,91.37 460.7,91.15 460.35,90.96 460,91.09 459.65,91.24 459.3,91.06 458.95,93.65 458.6,91.24 458.25,91.23 457.9,91.13 457.55,91.02 457.2,91.16 456.85,91.35 456.5,100.92 456.15,90.93 455.8,91.26 455.45,91.37 455.1,91.03 454.75,91.2 454.4,91.1 454.05,90.83 453.7,91.33 453.35,93.71 453,91.22 452.65,91.27 452.3,91.19 451.95,90.88 451.6,91.28 451.25,91.21 450.9,91.35 450.55,90.87 450.2,91.62 449.85,91.27 449.5,90.8 449.15,91.03 448.8,91.4 448.45,91.04 448.1,91.18 447.75,91.31 447.4,91.16 447.05,90.9 446.7,91.14 446.35,91.07 446,91.38 445.65,90.99 445.3,92.02 444.95,91.02 444.6,90.88 444.25,91.06 443.9,91.1 443.55,90.81 443.2,91.05 442.85,90.85 442.5,90.89 442.15,91.14 441.8,91.34 441.45,91.16 441.1,91.03 440.75,90.87 440.4,90.98 440.05,91.01 439.7,91.11" fill="#ff560a"/><polygon points="301.7,79.98 302.05,79.65 302.4,79.97 302.75,79.78 303.1,79.63 303.45,79.89 303.8,79.66 304.15,79.76 304.5,79.86 304.85,79.77 305.2,79.63 305.55,79.82 305.9,79.8 306.25,80.01 306.6,79.73 306.95,79.7 307.3,79.91 307.65,79.96 308,79.7 308.35,79.69 308.7,79.76 309.05,79.83 309.4,79.68 309.75,79.89 310.1,79.21 310.45,79.9 310.8,80.01 311.15,79.81 311.5,79.7 311.85,80.01 312.2,79.69 312.55,79.72 312.9,79.79 313.25,79.77 313.6,79.7 313.95,79.69 314.3,79.99 314.65,79.71 315,79.88 315.35,79.66 315.7,79.75 316.05,79.96 316.4,79.9 316.75,79.66 317.1,79.9 317.45,79.73 317.8,79.86 318.15,79.65 318.5,79.78 318.85,79.9 319.2,79.68 319.55,79.75 319.9,79.89 320.25,79.85 320.6,79.77 320.95,79.91 321.3,79.71 321.65,79.86 322,79.75 322.35,79.77 322.7,79.76 323.05,79.7 323.4,79.7 323.75,79.98 324.1,79.64 324.45,79.7 324.8,79.64 325.15,79.72 325.5,80 325.85,79.97 326.2,79.95 326.55,79.9 326.9,79.8 327.25,78.64 327.6,79.83 327.95,79.07 328.3,79.65 328.65,79.81 329,79.76 329.35,79.74 329.7,79.87 330.05,79.56 330.4,79.86 330.75,79.75 331.1,79.84 331.45,79.64 331.8,79.67 332.15,79.84 332.5,79.75 332.85,79.66 333.2,79.71 333.55,80.01 333.9,79.33 334.25,79.65 334.6,79.96 334.95,79.91 335.3,79.78 335.65,78.56 336,79.76 336.35,79.85 336.7,79.66 337.05,79.63 337.4,79.62 337.75,79.85 338.1,79.72 338.45,79.63 338.8,79.77 339.15,79.86 339.5,77.03 339.85,79.85 340.2,79.63 340.55,79.84 340.9,79.01 341.25,79.93 341.6,79.99 341.95,79.68 342.3,79.99 342.65,79.75 343,79.97 343.35,79.96 343.7,79.9 344.05,79.79 344.4,79.91 344.75,79.67 345.1,79.49 345.45,79.95 345.8,79.85 346.15,79.94 346.5,79.62 346.85,79.92 347.2,79.97 347.55,80.01 347.7,79.88 347.7,84.56 347.55,84.43 347.2,84.4 346.85,84.5 346.5,84.51 346.15,84.53 345.8,84.31 345.45,84.44 345.1,84.35 344.75,84.34 344.4,84.56 344.05,84.69 343.7,84.36 343.35,84.39 343,84.68 342.65,85.46 342.3,84.7 341.95,84.61 341.6,84.36 341.25,84.43 340.9,84.47 340.55,84.55 340.2,84.5 339.85,84.69 339.5,84.37 339.15,84.41 338.8,84.41 338.45,84.43 338.1,84.64 337.75,84.53 337.4,84.49 337.05,84.56 336.7,84.34 336.35,84.51 336,84.5 335.65,84.55 335.3,84.35 334.95,84.87 334.6,84.38 334.25,84.46 333.9,85.38 333.55,84.61 333.2,84.52 332.85,84.43 332.5,84.52 332.15,84.65 331.8,84.51 331.45,84.6 331.1,84.35 330.75,84.62 330.4,84.48 330.05,84.47 329.7,84.69 329.35,84.55 329,84.57 328.65,84.4 328.3,84.64 327.95,84.44 327.6,84.42 327.25,84.33 326.9,84.69 326.55,84.34 326.2,84.56 325.85,84.31 325.5,84.6 325.15,84.34 324.8,84.31 324.45,84.3 324.1,84.48 323.75,84.75 323.4,84.56 323.05,84.59 322.7,84.53 322.35,84.68 322,84.44 321.65,84.57 321.3,84.56 320.95,84.34 320.6,84.68 320.25,84.68 319.9,84.44 319.55,84.38 319.2,84.54 318.85,84.44 318.5,84.31 318.15,84.66 317.8,84.36 317.45,84.53 317.1,85.27 316.75,84.68 316.4,84.41 316.05,84.46 315.7,84.68 315.35,84.52 315,84.56 314.65,84.5 314.3,84.94 313.95,84.67 313.6,84.46 313.25,84.47 312.9,84.5 312.55,84.74 312.2,84.52 311.85,84.5 311.5,84.6 311.15,84.91 310.8,84.31 310.45,84.41 310.1,84.52 309.75,84.56 309.4,84.55 309.05,84.35 308.7,84.66 308.35,84.65 308,84.68 307.65,84.4 307.3,84.64 306.95,84.45 306.6,86.32 306.25,84.35 305.9,84.38 305.55,84.61 305.2,84.32 304.85,84.63 304.5,84.42 304.15,84.5 303.8,84.65 303.45,84.68 303.1,84.42 302.75,84.35 302.4,84.37 302.05,84.34 301.7,84.6" fill="#ffb304"/><polygon points="347.7,78.82 348.05,78.85 348.4,79.17 348.75,79.11 349.1,79.1 349.45,78.95 349.8,79.05 350.15,78.95 350.5,78.9 350.85,79.09 351.2,78.85 351.55,79.06 351.9,78.85 352.25,78.93 352.6,79.13 352.95,79.03 353.3,78.88 353.65,78.91 354,79.12 354.35,78.94 354.7,79.06 355.05,79.15 355.4,78.85 355.75,78.86 356.1,78.84 356.45,79.13 356.8,78.83 357.15,78.81 357.5,79.16 357.85,78.8 358.2,79.13 358.55,78.85 358.9,78.96 359.25,78.86 359.6,79.04 359.95,78.82 360.3,79.15 360.65,78.92 361,77.87 361.35,78.83 361.7,79.1 362.05,79.01 362.4,79.04 362.75,79.19 363.1,78.98 363.45,78.89 363.8,77.69 364.15,79.1 364.5,78.99 364.85,79.12 365.2,78.96 365.55,78.83 365.9,79.06 366.25,78.86 366.6,78.94 366.95,78.8 367.3,79.16 367.65,79.14 368,79.17 368.35,79.17 368.7,79.13 369.05,78.9 369.4,79.14 369.75,79.08 370.1,79.05 370.45,79.11 370.8,79.04 371.15,78.98 371.5,79 371.85,78.84 372.2,78.96 372.55,78.94 372.9,78.96 373.25,79.06 373.6,78.9 373.95,79.06 374.3,78.87 374.65,78.91 375,79.15 375.35,79.15 375.7,78.95 376.05,78.89 376.4,79.11 376.75,79.11 377.1,76.24 377.45,78.92 377.8,79.14 378.15,79.18 378.5,79.14 378.85,78.87 379.2,78.9 379.55,78.95 379.9,79.19 380.25,78.85 380.6,79.01 380.95,79.15 381.3,79.01 381.65,79.15 382,78.81 382.35,78.95 382.7,78.83 383.05,78.83 383.4,79.13 383.75,78.84 384.1,79 384.45,79.09 384.8,78.93 385.15,78.82 385.5,78.19 385.85,79.05 386.2,79.12 386.55,79.03 386.9,78.93 387.25,78.93 387.6,79.13 387.95,79.16 388.3,79.14 388.65,78.89 389,78.99 389.35,78.9 389.7,78.81 390.05,78.86 390.4,79.04 390.75,78.8 391.1,79.16 391.45,79.06 391.8,79.02 392.15,78.92 392.5,79.17 392.85,78.93 393.2,78.89 393.55,79.15 393.7,79 393.7,86.14 393.55,85.95 393.2,85.96 392.85,85.94 392.5,86.81 392.15,86.03 391.8,86 391.45,85.98 391.1,85.94 390.75,85.91 390.4,86.11 390.05,85.81 389.7,86.02 389.35,86.07 389,85.84 388.65,85.92 388.3,86.16 387.95,86.02 387.6,86.01 387.25,86.02 386.9,86.08 386.55,85.93 386.2,86.02 385.85,86.12 385.5,86.12 385.15,86.16 384.8,86 384.45,86 384.1,85.87 383.75,86.26 383.4,86.05 383.05,86.13 382.7,86.43 382.35,86.18 382,85.95 381.65,85.9 381.3,86.07 380.95,86.01 380.6,86.01 380.25,86.19 379.9,85.93 379.55,86.07 379.2,85.98 378.85,85.95 378.5,86.1 378.15,86.16 377.8,86.14 377.45,85.9 377.1,85.98 376.75,86.09 376.4,86.07 376.05,86.16 375.7,86.18 375.35,86.16 375,86.05 374.65,86.05 374.3,85.97 373.95,85.95 373.6,86.08 373.25,85.94 372.9,85.86 372.55,86.13 372.2,86.14 371.85,86.06 371.5,86.15 371.15,86.19 370.8,85.99 370.45,86.11 370.1,85.99 369.75,86.17 369.4,85.91 369.05,86.01 368.7,85.85 368.35,85.88 368,85.98 367.65,86.08 367.3,86.05 366.95,85.83 366.6,85.88 366.25,87.22 365.9,86.14 365.55,85.9 365.2,85.82 364.85,86.07 364.5,85.88 364.15,85.92 363.8,85.91 363.45,85.92 363.1,86.17 362.75,86.17 362.4,85.88 362.05,85.82 361.7,86.06 361.35,86.19 361,85.95 360.65,86.01 360.3,86.17 359.95,86.47 359.6,85.92 359.25,85.85 358.9,85.94 358.55,86.34 358.2,86.08 357.85,86.04 357.5,86.09 357.15,85.81 356.8,85.94 356.45,86.02 356.1,85.94 355.75,86.15 355.4,85.94 355.05,85.83 354.7,85.88 354.35,86.09 354,86.01 353.65,86.07 353.3,86.03 352.95,85.84 352.6,86.16 352.25,85.88 351.9,85.94 351.55,86.04 351.2,85.99 350.85,85.88 350.5,86 350.15,85.82 349.8,85.96 349.45,86.15 349.1,86.07 348.75,86 348.4,86.19 348.05,85.89 347.7,86.02" fill="#ffb304"/><polygon points="393.7,79.09 394.05,79.03 394.4,78.91 394.75,79.01 395.1,78.95 395.45,79.12 395.8,79.14 396.15,79.06 396.5,79.06 396.85,79.17 397.2,79.18 397.55,78.99 397.9,78.9 398.25,79.16 398.6,79.15 398.95,79.13 399.3,78.98 399.65,79.09 400,79.23 400.35,79.28 400.7,78.69 401.05,78.94 401.4,76.73 401.75,79.22 402.1,79.07 402.45,79.03 402.8,78.84 403.15,78.95 403.5,79.08 403.85,79.07 404.2,78.95 404.55,78.92 404.9,79.11 405.25,78.95 405.6,79.09 405.95,77.17 406.3,79.02 406.65,78.92 407,78.98 407.35,79.12 407.7,79.07 408.05,78.96 408.4,79.24 408.75,79.23 409.1,78.96 409.45,79.09 409.8,79.03 410.15,79.15 410.5,78.97 410.85,78.89 411.2,78.97 411.55,78.82 411.9,78.95 412.25,78.91 412.6,78.89 412.95,79.01 413.3,78.98 413.65,78.9 414,79.14 414.35,79.18 414.7,79.14 415.05,79.29 415.4,79.13 415.75,79.18 416.1,79.13 416.45,78.99 416.8,79.08 417.15,78.9 417.5,79.16 417.85,79.23 418.2,79.14 418.55,79.23 418.9,78.97 419.25,79.22 419.6,79.16 419.95,79.19 420.3,78.93 420.65,79.1 421,78.94 421.35,78.92 421.7,79.17 422.05,79.13 422.4,78.79 422.75,79.28 423.1,79.14 423.45,78.14 423.8,79.14 424.15,79.2 424.5,79.18 424.85,78.97 425.2,78.94 425.55,79.23 425.9,78.97 426.25,79.25 426.6,78.99 426.95,79.22 427.3,79.15 427.65,78.9 428,79.01 428.35,78.93 428.7,79.13 429.05,79.26 429.4,79.14 429.75,78.96 430.1,78.91 430.45,79.06 430.8,78.95 431.15,78.96 431.5,79.29 431.85,79.13 432.2,78.91 432.55,79.24 432.9,78.96 433.25,79 433.6,79.07 433.95,78.78 434.3,78.96 434.65,79.08 435,79.22 435.35,79.03 435.7,79.25 436.05,79 436.4,78.08 436.75,79.17 437.1,79.05 437.45,79.23 437.8,79 438.15,78.96 438.5,78.9 438.85,79.08 439.2,78.96 439.55,79.03 439.7,79.11 439.7,85.09 439.55,85.36 439.2,85.4 438.85,85.27 438.5,85.17 438.15,85.11 437.8,85.29 437.45,85.14 437.1,85.24 436.75,85.15 436.4,85.04 436.05,85.27 435.7,85.29 435.35,85.3 435,85.14 434.65,85.14 434.3,85.06 433.95,85.05 433.6,85.3 433.25,85.28 432.9,85.05 432.55,86.25 432.2,85.05 431.85,85.32 431.5,85.3 431.15,85.38 430.8,85.04 430.45,85.17 430.1,85.94 429.75,85.09 429.4,85.29 429.05,85.09 428.7,85.31 428.35,85.1 428,85.12 427.65,85.04 427.3,85 426.95,85.34 426.6,85.27 426.25,85.06 425.9,85.25 425.55,85.15 425.2,85.13 424.85,85.22 424.5,85.24 424.15,85.8 423.8,85.42 423.45,85.17 423.1,85.29 422.75,85.14 422.4,85.01 422.05,85.32 421.7,85.23 421.35,85.1 421,85.16 420.65,85.25 420.3,85.21 419.95,85.19 419.6,85.22 419.25,85.03 418.9,85.13 418.55,85.14 418.2,85.34 417.85,85.01 417.5,85.37 417.15,85.21 416.8,85.18 416.45,85.21 416.1,85.35 415.75,85.13 415.4,85.05 415.05,85.12 414.7,85.36 414.35,85.38 414,85.24 413.65,85.37 413.3,85.37 412.95,85.18 412.6,85.12 412.25,85.23 411.9,85.14 411.55,85.22 411.2,85.15 410.85,85.05 410.5,85.04 410.15,85.17 409.8,85.23 409.45,85.73 409.1,85.11 408.75,85.22 408.4,85.26 408.05,85.38 407.7,85.25 407.35,85.35 407,85.14 406.65,85.01 406.3,85.19 405.95,85.28 405.6,85.91 405.25,85.11 404.9,85.23 404.55,85.21 404.2,85.15 403.85,85.12 403.5,85.24 403.15,85.21 402.8,85.28 402.45,85.12 402.1,85.01 401.75,85.35 401.4,85.2 401.05,85.07 400.7,85.26 400.35,85.63 400,85.38 399.65,85.02 399.3,85.36 398.95,85.24 398.6,85.35 398.25,85.09 397.9,85.05 397.55,85.07 397.2,85.36 396.85,85.03 396.5,85.14 396.15,85.31 395.8,85.25 395.45,85.22 395.1,85.21 394.75,85.36 394.4,85.19 394.05,85.13 393.7,85.26" fill="#ffb304"/><polygon points="439.7,77.5 440.05,77.45 440.4,77.53 440.75,77.49 441.1,77.36 441.45,77.38 441.8,77.36 442.15,77.59 442.5,77.46 442.85,77.38 443.2,77.32 443.55,77.4 443.9,77.2 444.25,77.41 444.6,77.52 444.95,77.55 445.3,77.19 445.65,77.31 446,77.2 446.35,77.27 446.7,77.24 447.05,77.29 447.4,77.49 447.75,77.25 448.1,77.3 448.45,77.32 448.8,77.09 449.15,77.26 449.5,77.12 449.85,77.08 450.2,77.37 450.55,77.24 450.9,77.25 451.25,77.35 451.6,77.26 451.95,77.26 452.3,77.27 452.65,77.23 453,77.12 453.35,77.22 453.7,77.06 454.05,77.32 454.4,77.07 454.75,77.19 455.1,76.94 455.45,77.22 455.8,76.91 456.15,76.96 456.5,77.07 456.85,76.65 457.2,77.17 457.55,76.89 457.9,77.07 458.25,76.83 458.6,77.1 458.95,76.81 459.3,77.11 459.65,76.84 460,76.95 460.35,76.91 460.7,77.13 461.05,76.94 461.4,76.78 461.75,76.93 462.1,76.94 462.45,76.88 462.8,76.77 463.15,76.71 463.5,76.88 463.85,76.91 464.2,76.68 464.55,76.91 464.9,76.65 465.25,76.87 465.6,76.73 465.95,76.62 466.3,76.86 466.65,76.64 467,76.68 467.35,76.65 467.7,76.69 468.05,76.76 468.4,76.61 468.75,76.88 469.1,76.55 469.45,76.59 469.8,76.72 470.15,76.75 470.5,76.53 470.85,76.85 471.2,76.62 471.55,76.83 471.9,76.67 472.25,76.47 472.6,76.66 472.95,76.65 473.3,76.82 473.65,76.64 474,76.67 474.35,76.55 474.7,76.48 475.05,76.59 475.4,76.66 475.75,76.37 476.1,76.72 476.45,76.53 476.8,76.44 477.15,76.42 477.5,76.64 477.85,76.7 478.2,76.42 478.55,76.49 478.9,76.67 479.25,76.5 479.6,76.47 479.95,76.58 480.3,76.36 480.65,76.63 481,76.32 481.35,76.42 481.7,76.56 482.05,76.41 482.4,76.42 482.75,76.39 483.1,76.25 483.45,76.46 483.8,76.4 484.15,76.5 484.5,76.34 484.85,76.45 485.2,76.43 485.55,76.32 485.7,76.32 485.7,88.1 485.55,88.26 485.2,88.36 484.85,88.13 484.5,88.24 484.15,88.01 483.8,88.13 483.45,88.24 483.1,87.98 482.75,87.96 482.4,87.96 482.05,87.97 481.7,88.01 481.35,88.11 481,87.95 480.65,87.83 480.3,87.89 479.95,87.91 479.6,87.9 479.25,87.79 478.9,88.06 478.55,87.8 478.2,88.1 477.85,88.8 477.5,88.03 477.15,87.94 476.8,88.09 476.45,88.07 476.1,88.01 475.75,87.93 475.4,87.81 475.05,88.54 474.7,87.64 474.35,87.95 474,87.98 473.65,87.69 473.3,87.97 472.95,87.75 472.6,87.91 472.25,87.58 471.9,87.71 471.55,87.67 471.2,87.66 470.85,87.8 470.5,87.79 470.15,87.72 469.8,87.54 469.45,87.73 469.1,87.75 468.75,87.68 468.4,87.74 468.05,87.77 467.7,87.56 467.35,87.57 467,87.41 466.65,87.72 466.3,87.55 465.95,87.66 465.6,87.73 465.25,87.7 464.9,87.67 464.55,87.52 464.2,87.5 463.85,87.62 463.5,87.6 463.15,88.04 462.8,87.45 462.45,87.55 462.1,87.25 461.75,87.32 461.4,87.57 461.05,87.33 460.7,87.18 460.35,87.97 460,87.33 459.65,87.46 459.3,88.01 458.95,87.32 458.6,87.11 458.25,87.47 457.9,87.33 457.55,87.11 457.2,87.41 456.85,87.33 456.5,87.23 456.15,87.26 455.8,87.29 455.45,87.02 455.1,87.3 454.75,87.03 454.4,87.17 454.05,87.15 453.7,87.1 453.35,87.18 453,87.93 452.65,87.05 452.3,87.12 451.95,87.27 451.6,87.76 451.25,86.98 450.9,87.11 450.55,87.04 450.2,86.91 449.85,87.12 449.5,87.11 449.15,87.11 448.8,87.08 448.45,86.91 448.1,86.87 447.75,87.19 447.4,86.91 447.05,86.93 446.7,86.78 446.35,86.93 446,86.76 445.65,86.69 445.3,86.73 444.95,86.7 444.6,86.99 444.25,86.64 443.9,86.89 443.55,86.89 443.2,86.7 442.85,86.76 442.5,86.86 442.15,86.75 441.8,86.78 441.45,86.81 441.1,86.77 440.75,86.63 440.4,86.61 440.05,86.58 439.7,86.75" fill="#ffb304"/><path d="M347.85 91.1V102.02" stroke="#0a72d0" stroke-width="0.8"/></g><path d="M301.7 36.5h1.8M485.7 36.5h-1.8M301.7 59.25h1.8M485.7 59.25h-1.8M301.7 82h1.8M485.7 82h-1.8M301.7 104.75h1.8M485.7 104.75h-1.8M301.7 127.5h1.8M485.7 127.5h-1.8M301.7 127.5v-1.8M301.7 36.5v1.8M347.7 127.5v-1.8M347.7 36.5v1.8M393.7 127.5v-1.8M393.7 36.5v1.8M439.7 127.5v-1.8M439.7 36.5v1.8M485.7 127.5v-1.8M485.7 36.5v1.8" stroke="#5c5c5c" stroke-width="0.9" fill="none"/><rect x="301.7" y="36.5" width="184" height="91" fill="none" stroke="#5c5c5c" stroke-width="1.1"/><text x="299.1" y="40.3" font-size="9.7" text-anchor="end">100</text><text x="299.1" y="63.05" font-size="9.7" text-anchor="end">50</text><text x="299.1" y="85.8" font-size="9.7" text-anchor="end">0</text><text x="299.1" y="108.55" font-size="9.7" text-anchor="end">-50</text><text x="299.1" y="131.3" font-size="9.7" text-anchor="end">-100</text><rect x="405.3" y="40.4" width="76.8" height="24.5" fill="#fff" stroke="#5a5a5a" stroke-width="0.9"/><path d="M406.5 45.3H417.3" stroke="#6cbcec" stroke-width="1.15"/><text x="418.6" y="47.6" font-size="6.65" text-anchor="start" class="lg">PI-MRAS</text><path d="M406.5 52.9H417.3" stroke="#f6a084" stroke-width="1.15"/><text x="418.6" y="55.2" font-size="6.65" text-anchor="start" class="lg">FTSM-MRAS</text><path d="M406.5 60.49H417.3" stroke="#f7d27e" stroke-width="1.15"/><text x="418.6" y="62.79" font-size="6.65" text-anchor="start" class="lg">Adaptive STA-MRAS</text><text transform="translate(277,82) rotate(-90)" font-size="10.95" text-anchor="middle">Speed Error (rpm)</text><text transform="translate(277.5,18.6) rotate(-90)" font-size="10.7" text-anchor="middle">L<tspan font-size="7.5" dy="4.1">d</tspan><tspan dy="-4.1"> (pu)</tspan></text><text x="393.9" y="140.8" font-size="10.7" text-anchor="middle" class="pl">(c)</text><rect x="40.4" y="147.4" width="181.4" height="89.5" fill="#fff"/><path d="M85.75 147.4V236.9M131.1 147.4V236.9M176.45 147.4V236.9M40.4 169.78H221.8M40.4 192.15H221.8M40.4 214.53H221.8" stroke="#c2c2c2" stroke-width="0.8" fill="none"/><clipPath id="c5"><rect x="40.4" y="147.4" width="181.4" height="89.5"/></clipPath><g clip-path="url(#c5)"><polygon points="85.75,183.15 86.1,183.24 86.45,181.33 86.8,183.14 87.15,183.18 87.5,183.14 87.85,182.75 88.2,182.18 88.55,183.43 88.9,181.5 89.25,182.04 89.6,183.13 89.95,182.87 90.3,182.58 90.65,182.4 91,182.21 91.35,181.47 91.7,181.99 92.05,181.43 92.4,181 92.75,181.12 93.1,179.89 93.45,181.15 93.8,181.9 94.15,181.61 94.5,181.12 94.85,179.96 95.2,181.65 95.55,180.51 95.9,180.7 96.25,180.68 96.6,180.44 96.95,180.84 97.3,180.92 97.65,179.93 98,179.74 98.35,180.19 98.7,180.17 99.05,180.33 99.4,180.16 99.75,180.8 100.1,180.45 100.45,180.26 100.8,179.4 101.15,179.9 101.5,180.09 101.85,180.02 102.2,179.53 102.55,178.42 102.9,179.56 103.25,178.36 103.6,178.5 103.95,177.68 104.3,177.59 104.65,177.89 105,177.08 105.35,178.1 105.7,175.62 106.05,176.9 106.4,176.98 106.75,177.02 107.1,175.8 107.45,176.16 107.8,173.41 108.15,175.78 108.5,177 108.85,176.52 109.2,175.78 109.55,175.86 109.9,172.61 110.25,174.78 110.6,175.1 110.95,174.96 111.3,174.26 111.65,174.8 112,173.36 112.35,173.59 112.7,173.96 113.05,173.8 113.4,173.11 113.75,173.43 114.1,173.01 114.45,172.06 114.8,171.78 115.15,171.3 115.5,170.66 115.85,171.71 116.2,171.54 116.55,171.25 116.9,170.51 117.25,170.28 117.6,169.7 117.95,170.17 118.3,170.31 118.65,169.83 119,168.86 119.35,169.18 119.7,168.92 120.05,168.95 120.4,162.52 120.75,166.96 121.1,167.81 121.45,164.66 121.8,167.11 122.15,163.3 122.5,166.2 122.85,165 123.2,165.43 123.55,163.75 123.9,163.99 124.25,163.17 124.6,162.55 124.95,162.64 125.3,161.32 125.65,158.59 126,160.89 126.35,160.26 126.7,160.29 127.05,160.06 127.4,158.32 127.75,158.28 128.1,155.23 128.45,156.65 128.8,156.25 129.15,155.8 129.5,154 129.85,153.33 130.2,153.29 130.55,153.63 130.9,154.41 131.1,155.53 131.1,230.07 130.9,230.63 130.55,231.75 130.2,231.33 129.85,232.68 129.5,230.16 129.15,230 128.8,231.19 128.45,229.06 128.1,228.17 127.75,228.04 127.4,227.73 127.05,227.3 126.7,226.23 126.35,226.21 126,225.15 125.65,226.08 125.3,224.62 124.95,224.75 124.6,229.7 124.25,224.21 123.9,222.8 123.55,223.15 123.2,222.8 122.85,221.97 122.5,221.45 122.15,221.96 121.8,226.21 121.45,220.36 121.1,221.56 120.75,220.05 120.4,218.61 120.05,226.53 119.7,219.25 119.35,217.79 119,219.6 118.65,218.11 118.3,221.08 117.95,221.38 117.6,216.64 117.25,216.59 116.9,215.92 116.55,216.08 116.2,216.28 115.85,215.47 115.5,215.2 115.15,214.78 114.8,214.8 114.45,216.55 114.1,214.79 113.75,214.35 113.4,213.7 113.05,213.43 112.7,225.33 112.35,214.69 112,213.48 111.65,212.42 111.3,216.08 110.95,212.01 110.6,211.03 110.25,211.85 109.9,211.29 109.55,210.93 109.2,210.23 108.85,209.93 108.5,211.1 108.15,210.62 107.8,210.23 107.45,213.31 107.1,209.26 106.75,209.43 106.4,209.23 106.05,208.76 105.7,211.51 105.35,209.34 105,208.61 104.65,208.95 104.3,208.35 103.95,207.88 103.6,208.09 103.25,208.68 102.9,207.24 102.55,206.69 102.2,206.62 101.85,206.99 101.5,206.57 101.15,206.41 100.8,205.39 100.45,206.16 100.1,206.23 99.75,206.02 99.4,205.19 99.05,205.38 98.7,205.75 98.35,205.77 98,204.4 97.65,205.74 97.3,204.61 96.95,209.18 96.6,204.86 96.25,204.11 95.9,204.2 95.55,204.64 95.2,204.37 94.85,203.89 94.5,203.81 94.15,203.3 93.8,205.83 93.45,203.5 93.1,206.61 92.75,203.81 92.4,203.59 92.05,203.14 91.7,203.33 91.35,203.61 91,203.3 90.65,203.49 90.3,202.34 89.95,202.85 89.6,203.17 89.25,201.69 88.9,201.77 88.55,202.66 88.2,201.53 87.85,202.42 87.5,201.29 87.15,200.73 86.8,201.07 86.45,200.69 86.1,201.26 85.75,200.64" fill="#8cc4ec"/><polygon points="131.1,154.72 131.45,155.83 131.8,157.37 132.15,157.94 132.5,158.65 132.85,159.99 133.2,160.56 133.55,160.23 133.9,160.79 134.25,162.25 134.6,162.84 134.95,161.97 135.3,162.91 135.65,162.92 136,164.61 136.35,164.91 136.7,165.77 137.05,166.69 137.4,166.77 137.75,167.27 138.1,167.3 138.45,168.56 138.8,169.3 139.15,168.97 139.5,170.49 139.85,171.1 140.2,170.62 140.55,171.95 140.9,171.79 141.25,172.23 141.6,172.38 141.95,172.3 142.3,173.01 142.65,173.19 143,173.74 143.35,174.1 143.7,174.89 144.05,175.27 144.4,174.59 144.75,172.76 145.1,175.6 145.45,173.52 145.8,175.29 146.15,175.7 146.5,176.09 146.85,176.36 147.2,176.68 147.55,176.75 147.9,176.91 148.25,177.32 148.6,177.32 148.95,177.51 149.3,177.97 149.65,178.29 150,179.47 150.35,178.52 150.7,179.31 151.05,179.54 151.4,180.3 151.75,179.64 152.1,180.03 152.45,176.75 152.8,180.36 153.15,179.61 153.5,180.21 153.85,179.54 154.2,180.59 154.55,180.65 154.9,174.96 155.25,181.43 155.6,180.97 155.95,180.72 156.3,180.67 156.65,181.84 157,180.44 157.35,181.04 157.7,181.86 158.05,181.39 158.4,181.13 158.75,181.08 159.1,181.64 159.45,182.03 159.8,181.41 160.15,181.78 160.5,177.36 160.85,182.84 161.2,183.07 161.55,182.29 161.9,182.53 162.25,182.73 162.6,182.51 162.95,183.47 163.3,183.32 163.65,182.44 164,183.19 164.35,183.21 164.7,180.22 165.05,183.59 165.4,183.74 165.75,182.56 166.1,183.72 166.45,182.92 166.8,183.2 167.15,183.37 167.5,182.86 167.85,183.55 168.2,182.8 168.55,183.48 168.9,183.65 169.25,184.12 169.6,184.04 169.95,184.07 170.3,184.25 170.65,184.09 171,179.61 171.35,183.26 171.7,183.6 172.05,183.68 172.4,182.91 172.75,183.82 173.1,183.87 173.45,183.56 173.8,183.42 174.15,180.1 174.5,183.55 174.85,183.44 175.2,183.79 175.55,184.24 175.9,184.68 176.25,184.03 176.45,183.39 176.45,200.91 176.25,201.37 175.9,201.66 175.55,200.83 175.2,200.39 174.85,201.79 174.5,200.71 174.15,201.81 173.8,201.55 173.45,201.07 173.1,201.17 172.75,204.21 172.4,201.47 172.05,200.75 171.7,200.72 171.35,201.25 171,202.39 170.65,201.12 170.3,201.7 169.95,201.25 169.6,201.55 169.25,201.58 168.9,202.41 168.55,202.12 168.2,201.64 167.85,202.23 167.5,201.48 167.15,202.12 166.8,202.39 166.45,204.38 166.1,202.45 165.75,201.43 165.4,203.43 165.05,202.21 164.7,201.58 164.35,202.84 164,201.92 163.65,201.99 163.3,202.33 162.95,207.62 162.6,202.68 162.25,203.07 161.9,203.33 161.55,203.16 161.2,202.09 160.85,201.9 160.5,203.51 160.15,202.07 159.8,203.04 159.45,202.19 159.1,203.59 158.75,204.36 158.4,203.05 158.05,202.6 157.7,203.73 157.35,203.03 157,204.73 156.65,209.87 156.3,203.85 155.95,203.33 155.6,204.27 155.25,203.43 154.9,204.57 154.55,204.36 154.2,204.92 153.85,204.67 153.5,204.74 153.15,203.83 152.8,203.82 152.45,204.01 152.1,205.02 151.75,204.17 151.4,204.12 151.05,204.97 150.7,205.39 150.35,204.73 150,206.1 149.65,208.82 149.3,206.33 148.95,205.32 148.6,206.61 148.25,206.94 147.9,206.65 147.55,206.41 147.2,206.34 146.85,208.8 146.5,206.93 146.15,207.28 145.8,208.25 145.45,208.6 145.1,208.39 144.75,208.83 144.4,209.14 144.05,208.97 143.7,208.01 143.35,208.18 143,209.86 142.65,209.54 142.3,209.07 141.95,209.97 141.6,209.73 141.25,209.78 140.9,210.04 140.55,210.85 140.2,211.28 139.85,211.99 139.5,211.22 139.15,212.32 138.8,213.16 138.45,213.77 138.1,214.15 137.75,214.02 137.4,214.44 137.05,215.22 136.7,214.46 136.35,216.8 136,217.63 135.65,217.16 135.3,217.5 134.95,217.53 134.6,219.02 134.25,221.79 133.9,221.67 133.55,220.81 133.2,222.7 132.85,222.71 132.5,224.28 132.15,224.63 131.8,227.19 131.45,227.25 131.1,230.39" fill="#8cc4ec"/><polygon points="85.75,185.37 86.1,185.12 86.45,180.37 86.8,180.2 87.15,184.12 87.5,183.88 87.85,183.7 88.2,183.73 88.55,184.01 88.9,183.27 89.25,183.23 89.6,183.86 89.95,182.97 90.3,183.1 90.65,183.24 91,182.75 91.35,182.95 91.7,183.38 92.05,181.81 92.4,183.22 92.75,182.43 93.1,181.71 93.45,182.76 93.8,182.59 94.15,182.36 94.5,181.85 94.85,182.19 95.2,182.27 95.55,181.78 95.9,182.3 96.25,182.15 96.6,181.46 96.95,182.32 97.3,182.18 97.65,181.92 98,181.61 98.35,181.28 98.7,181.42 99.05,181.44 99.4,180.94 99.75,180.97 100.1,181.15 100.45,180.94 100.8,181.26 101.15,180.09 101.5,176.61 101.85,180.52 102.2,180.18 102.55,179.63 102.9,179.48 103.25,180.19 103.6,179.38 103.95,179.35 104.3,179.46 104.65,178.84 105,178.65 105.35,178.32 105.7,178.96 106.05,178.2 106.4,178.28 106.75,178.09 107.1,178.24 107.45,177.76 107.8,177.25 108.15,177.34 108.5,177.2 108.85,177.41 109.2,176.63 109.55,177.27 109.9,175.9 110.25,176.92 110.6,176.57 110.95,176.33 111.3,176.09 111.65,175.09 112,175.01 112.35,173.1 112.7,174.22 113.05,173.93 113.4,171.98 113.75,174.23 114.1,173.95 114.45,172.91 114.8,173.6 115.15,173.2 115.5,173.02 115.85,172.38 116.2,172.29 116.55,171.99 116.9,171.63 117.25,171.26 117.6,171.07 117.95,170.83 118.3,170.86 118.65,170.76 119,170.64 119.35,170.25 119.7,169.7 120.05,169.1 120.4,168.89 120.75,168.48 121.1,168.18 121.45,168.03 121.8,167.42 122.15,166.87 122.5,167.09 122.85,165.81 123.2,165.94 123.55,165.85 123.9,165.26 124.25,165.08 124.6,164.79 124.95,164.08 125.3,163.06 125.65,163.06 126,161.68 126.35,161.92 126.7,160.74 127.05,160.64 127.4,159.62 127.75,159.13 128.1,158.68 128.45,158.16 128.8,157.2 129.15,157.04 129.5,155.86 129.85,155.47 130.2,153.94 130.55,153.89 130.9,155.29 131.1,156.82 131.1,232.18 130.9,229.17 130.55,230.09 130.2,230.12 129.85,229.17 129.5,229 129.15,228.08 128.8,228.06 128.45,227.59 128.1,226.72 127.75,227.03 127.4,226.01 127.05,225.46 126.7,225.22 126.35,224.62 126,224.71 125.65,223.92 125.3,223.47 124.95,223.6 124.6,223.22 124.25,222.87 123.9,222.23 123.55,221.43 123.2,221.11 122.85,221.03 122.5,220.79 122.15,219.91 121.8,220.22 121.45,219.39 121.1,220.15 120.75,219 120.4,217.76 120.05,217.43 119.7,217.21 119.35,216.96 119,216.94 118.65,216.68 118.3,216.53 117.95,216.3 117.6,215.68 117.25,215.51 116.9,215.59 116.55,215.11 116.2,214.95 115.85,214.59 115.5,214.75 115.15,214.28 114.8,213.56 114.45,213.6 114.1,213.4 113.75,213.08 113.4,212.7 113.05,212.85 112.7,212.39 112.35,212.35 112,211.61 111.65,211.69 111.3,210.87 110.95,211.02 110.6,211.05 110.25,209.93 109.9,210.34 109.55,209.96 109.2,210.03 108.85,209.46 108.5,209.44 108.15,209.51 107.8,209.05 107.45,209.21 107.1,208.38 106.75,213.68 106.4,208.54 106.05,207.94 105.7,207.83 105.35,207.79 105,207.64 104.65,208.85 104.3,206.86 103.95,210.99 103.6,206.97 103.25,206.67 102.9,206.64 102.55,206.19 102.2,205.8 101.85,207.69 101.5,205.08 101.15,205.72 100.8,204.78 100.45,204.83 100.1,204.4 99.75,204.92 99.4,204.05 99.05,204.32 98.7,204.01 98.35,204.43 98,203.7 97.65,204.94 97.3,203.53 96.95,203.85 96.6,204.04 96.25,203.94 95.9,203.49 95.55,203.59 95.2,203.47 94.85,203.37 94.5,203.13 94.15,203.12 93.8,202.56 93.45,202.74 93.1,204.08 92.75,202.36 92.4,202.3 92.05,202.36 91.7,202.13 91.35,202.42 91,202.18 90.65,202.41 90.3,201.89 89.95,202.1 89.6,201.52 89.25,201.75 88.9,200.96 88.55,201.16 88.2,201.3 87.85,200.99 87.5,200.53 87.15,200.34 86.8,200.08 86.45,200.05 86.1,199.79 85.75,200.05" fill="#1c8dd2"/><polygon points="131.1,154.61 131.45,157.83 131.8,158.92 132.15,159.04 132.5,160 132.85,160.53 133.2,161.56 133.55,161.96 133.9,161.9 134.25,163.16 134.6,163.51 134.95,164.06 135.3,164.41 135.65,165.18 136,165.67 136.35,165.66 136.7,166.37 137.05,166.87 137.4,167.7 137.75,167.91 138.1,168.95 138.45,169.35 138.8,169.6 139.15,170.65 139.5,171.52 139.85,171.14 140.2,171.86 140.55,172.97 140.9,173.69 141.25,172.14 141.6,173.48 141.95,174.3 142.3,174.1 142.65,174.4 143,175.3 143.35,175.51 143.7,175.82 144.05,175.48 144.4,175.77 144.75,176.42 145.1,176.44 145.45,175.82 145.8,177.25 146.15,175.84 146.5,177.7 146.85,177.81 147.2,177.4 147.55,177.68 147.9,178.06 148.25,178.94 148.6,178.96 148.95,179.31 149.3,178.97 149.65,179.31 150,178.85 150.35,179.95 150.7,180.72 151.05,180.2 151.4,180.41 151.75,180.52 152.1,180.68 152.45,180.68 152.8,181.25 153.15,181.68 153.5,181.63 153.85,181.6 154.2,181.2 154.55,181.15 154.9,181.47 155.25,182 155.6,181.84 155.95,181.99 156.3,181.84 156.65,182.49 157,182.05 157.35,182.15 157.7,183.06 158.05,182.81 158.4,182.56 158.75,182.57 159.1,183.16 159.45,183.5 159.8,181.56 160.15,183.28 160.5,183.06 160.85,183.21 161.2,183.56 161.55,183.25 161.9,183.87 162.25,183.58 162.6,183.77 162.95,183.78 163.3,183.75 163.65,183.44 164,183.8 164.35,184.12 164.7,183.9 165.05,182.66 165.4,184.09 165.75,184.16 166.1,184.41 166.45,183.76 166.8,184.13 167.15,184.69 167.5,184.77 167.85,184.36 168.2,184.31 168.55,184.25 168.9,184.53 169.25,184.81 169.6,184.65 169.95,184.46 170.3,184.92 170.65,184.35 171,184.84 171.35,184.94 171.7,184.46 172.05,184.45 172.4,184.77 172.75,184.96 173.1,184.84 173.45,184.85 173.8,184.41 174.15,184.92 174.5,184.38 174.85,185 175.2,185.01 175.55,185.24 175.9,185.06 176.25,184.99 176.45,183.02 176.45,200.2 176.25,199.85 175.9,200.43 175.55,202.72 175.2,199.87 174.85,200.06 174.5,200.38 174.15,200.09 173.8,200.44 173.45,200.23 173.1,199.89 172.75,199.88 172.4,200.48 172.05,200.29 171.7,200.71 171.35,200.25 171,200.57 170.65,200.35 170.3,200.59 169.95,202.7 169.6,200.21 169.25,200.24 168.9,200.98 168.55,200.8 168.2,200.34 167.85,200.79 167.5,200.54 167.15,201.13 166.8,201.29 166.45,200.97 166.1,201.38 165.75,203.45 165.4,200.67 165.05,201.1 164.7,201.49 164.35,200.92 164,200.91 163.65,201.37 163.3,201 162.95,200.91 162.6,201.23 162.25,201.42 161.9,201.65 161.55,201.92 161.2,201.63 160.85,201.95 160.5,201.57 160.15,201.41 159.8,201.34 159.45,206.89 159.1,201.97 158.75,206 158.4,201.61 158.05,202.18 157.7,202.02 157.35,202.7 157,202.32 156.65,202.53 156.3,203.04 155.95,202.56 155.6,202.42 155.25,203.09 154.9,202.49 154.55,203.49 154.2,202.91 153.85,202.78 153.5,203.5 153.15,203.4 152.8,203.13 152.45,204.04 152.1,203.51 151.75,203.87 151.4,203.78 151.05,204.02 150.7,203.93 150.35,204.14 150,204.83 149.65,205.09 149.3,205.02 148.95,205.13 148.6,204.68 148.25,204.89 147.9,205.94 147.55,206.15 147.2,205.39 146.85,205.63 146.5,206.75 146.15,206.76 145.8,206.8 145.45,206.71 145.1,206.58 144.75,207 144.4,207.46 144.05,207.82 143.7,207.42 143.35,207.88 143,208.04 142.65,208.02 142.3,208.69 141.95,208.32 141.6,208.41 141.25,209.03 140.9,208.93 140.55,209.98 140.2,209.61 139.85,210.84 139.5,210.4 139.15,211.24 138.8,211.53 138.45,212.31 138.1,212.11 137.75,212.78 137.4,212.6 137.05,213.39 136.7,213.36 136.35,214.44 136,214.37 135.65,215.28 135.3,215.73 134.95,217.18 134.6,217.76 134.25,218.21 133.9,219.97 133.55,219.97 133.2,221.37 132.85,222.32 132.5,222.72 132.15,223.56 131.8,224.33 131.45,227.1 131.1,230.37" fill="#1c8dd2"/><polygon points="40.4,185.32 40.75,185.48 41.1,185.41 41.45,185.6 41.8,185.78 42.15,185.72 42.5,185.67 42.85,185.73 43.2,185.36 43.55,185.4 43.9,185.63 44.25,185.77 44.6,185.38 44.95,185.63 45.3,185.45 45.65,185.45 46,185.32 46.35,185.41 46.7,185.75 47.05,185.87 47.4,185.75 47.75,185.71 48.1,185.76 48.45,185.79 48.8,185.35 49.15,185.35 49.5,185.34 49.85,182.63 50.2,185.54 50.55,185.75 50.9,185.71 51.25,185.74 51.6,185.52 51.95,185.4 52.3,185.78 52.65,185.64 53,185.53 53.35,185.77 53.7,185.83 54.05,185.74 54.4,185.34 54.75,185.32 55.1,185.5 55.45,185.53 55.8,185.37 56.15,185.42 56.5,185.56 56.85,185.83 57.2,185.78 57.55,185.54 57.9,185.42 58.25,185.66 58.6,185.76 58.95,185.9 59.3,185.82 59.65,185.33 60,185.4 60.35,184.93 60.7,185.48 61.05,185.69 61.4,185.46 61.75,185.46 62.1,180.26 62.45,183.51 62.8,185.7 63.15,185.47 63.5,185.87 63.85,185.81 64.2,185.57 64.55,185.36 64.9,185.39 65.25,185.46 65.6,185.45 65.95,185.78 66.3,185.37 66.65,185.5 67,185.61 67.35,185.61 67.7,185.63 68.05,185.7 68.4,185.67 68.75,185.41 69.1,185.73 69.45,185.9 69.8,185.61 70.15,185.75 70.5,185.75 70.85,185.89 71.2,185.34 71.55,185.89 71.9,185.74 72.25,185.83 72.6,185.33 72.95,185.76 73.3,185.6 73.65,185.34 74,185.79 74.35,185.84 74.7,185.43 75.05,185.33 75.4,185.39 75.75,185.65 76.1,184.88 76.45,185.61 76.8,185.87 77.15,185.49 77.5,184.12 77.85,185.37 78.2,185.56 78.55,185.34 78.9,185.35 79.25,185.51 79.6,185.83 79.95,185.34 80.3,182.68 80.65,185.73 81,185.5 81.35,185.4 81.7,185.59 82.05,185.86 82.4,185.48 82.75,185.88 83.1,185.82 83.45,185.51 83.8,185.72 84.15,185.83 84.5,181.67 84.85,185.81 85.2,184.59 85.55,185.46 85.75,185.91 85.75,199.71 85.55,199.46 85.2,199.25 84.85,199.03 84.5,199.07 84.15,202.49 83.8,199.74 83.45,199.44 83.1,199.2 82.75,199.59 82.4,199.18 82.05,199.03 81.7,199.62 81.35,199.34 81,199.23 80.65,199.33 80.3,201.32 79.95,201.09 79.6,199.26 79.25,199.37 78.9,199.41 78.55,199.58 78.2,199.28 77.85,199.39 77.5,199.47 77.15,199.48 76.8,199.12 76.45,199.05 76.1,199.34 75.75,199.1 75.4,199.52 75.05,199.14 74.7,199.48 74.35,199.13 74,199.12 73.65,199.17 73.3,199.22 72.95,199.29 72.6,199.4 72.25,199.23 71.9,199.15 71.55,200.06 71.2,199.05 70.85,199.14 70.5,199.53 70.15,199.51 69.8,199.38 69.45,199.12 69.1,201.53 68.75,199.18 68.4,199.22 68.05,199.17 67.7,199.54 67.35,199.23 67,199.33 66.65,199.16 66.3,199.56 65.95,199.46 65.6,201.25 65.25,199.74 64.9,199.47 64.55,199.33 64.2,199.46 63.85,199.03 63.5,199.11 63.15,199.06 62.8,199.38 62.45,199.14 62.1,199.14 61.75,199.57 61.4,199.41 61.05,199.09 60.7,199.57 60.35,199.26 60,199.22 59.65,199.58 59.3,203.55 58.95,199.46 58.6,199.38 58.25,199.39 57.9,199.45 57.55,199.23 57.2,199.21 56.85,199.05 56.5,199.13 56.15,199.1 55.8,199.06 55.45,199.16 55.1,199.11 54.75,199.47 54.4,199.35 54.05,199.33 53.7,199.11 53.35,199.31 53,199.51 52.65,199.31 52.3,199.57 51.95,199.27 51.6,199.29 51.25,199.04 50.9,199.58 50.55,199.09 50.2,199.52 49.85,199.05 49.5,199.32 49.15,199.47 48.8,200.79 48.45,199.22 48.1,199.46 47.75,199.41 47.4,199.05 47.05,199.4 46.7,199.34 46.35,199.42 46,199.06 45.65,200.2 45.3,199.21 44.95,199.58 44.6,199.16 44.25,199.22 43.9,199.03 43.55,199.46 43.2,199.16 42.85,199.5 42.5,199.53 42.15,199.05 41.8,199.34 41.45,199.04 41.1,199.49 40.75,199.42 40.4,199.52" fill="#0a72d0"/><polygon points="85.75,186.43 86.1,186.34 86.45,186.7 86.8,186.26 87.15,186.72 87.5,186.39 87.85,186.42 88.2,186.13 88.55,186.53 88.9,186.66 89.25,186.53 89.6,186.57 89.95,186.65 90.3,186.3 90.65,186.25 91,186.24 91.35,186.31 91.7,186.46 92.05,185.46 92.4,186.32 92.75,186.23 93.1,186.62 93.45,186.49 93.8,186.24 94.15,186.29 94.5,185.59 94.85,186.49 95.2,186.36 95.55,186.31 95.9,186.21 96.25,186.21 96.6,186.57 96.95,186.67 97.3,186.69 97.65,186.49 98,186.61 98.35,186.4 98.7,186.62 99.05,186.36 99.4,186.51 99.75,186.36 100.1,186.16 100.45,186.61 100.8,186.61 101.15,186.67 101.5,181.97 101.85,186.55 102.2,186.46 102.55,186.39 102.9,186.55 103.25,186.48 103.6,186.57 103.95,186.72 104.3,186.29 104.65,186.23 105,186.23 105.35,186.68 105.7,186.42 106.05,186.42 106.4,186.41 106.75,186.68 107.1,186.35 107.45,186.27 107.8,186.56 108.15,186.67 108.5,186.57 108.85,186.24 109.2,186.64 109.55,186.57 109.9,186.39 110.25,186.62 110.6,186.67 110.95,186.21 111.3,186.52 111.65,186.23 112,186.71 112.35,186.51 112.7,186.17 113.05,186.37 113.4,186.68 113.75,186.32 114.1,186.7 114.45,186.42 114.8,186.24 115.15,186.51 115.5,186.16 115.85,186.57 116.2,186.6 116.55,186.63 116.9,186.61 117.25,185.97 117.6,186.2 117.95,186.39 118.3,186.36 118.65,186.37 119,186.65 119.35,186.15 119.7,186.68 120.05,185.39 120.4,186.3 120.75,186.36 121.1,186.7 121.45,186.49 121.8,186.42 122.15,186.35 122.5,186.66 122.85,186.56 123.2,186.62 123.55,186.56 123.9,186.39 124.25,186.34 124.6,186.57 124.95,186.13 125.3,184.37 125.65,186.55 126,186.22 126.35,186.41 126.7,186.33 127.05,186.28 127.4,186.32 127.75,186.34 128.1,186.16 128.45,186.32 128.8,185.95 129.15,186.46 129.5,186.35 129.85,186.3 130.2,185.2 130.55,186.57 130.9,186.3 131.1,186.35 131.1,199.45 130.9,199.7 130.55,201.32 130.2,199.54 129.85,199.47 129.5,199.92 129.15,199.66 128.8,199.43 128.45,199.46 128.1,199.76 127.75,199.87 127.4,199.7 127.05,199.42 126.7,200.45 126.35,199.94 126,199.8 125.65,199.82 125.3,199.57 124.95,199.6 124.6,205.82 124.25,199.84 123.9,199.39 123.55,199.74 123.2,199.51 122.85,199.76 122.5,199.52 122.15,201.8 121.8,199.88 121.45,199.85 121.1,199.52 120.75,199.8 120.4,201.55 120.05,199.76 119.7,203.97 119.35,199.73 119,201.03 118.65,199.94 118.3,202.8 117.95,199.39 117.6,199.84 117.25,199.96 116.9,199.63 116.55,202.2 116.2,199.69 115.85,199.57 115.5,199.82 115.15,199.62 114.8,199.49 114.45,202.87 114.1,200.92 113.75,199.62 113.4,199.41 113.05,199.63 112.7,199.54 112.35,199.9 112,199.63 111.65,199.71 111.3,199.96 110.95,200.61 110.6,199.93 110.25,199.91 109.9,199.65 109.55,199.55 109.2,199.84 108.85,199.7 108.5,199.51 108.15,199.37 107.8,199.93 107.45,199.87 107.1,199.37 106.75,199.5 106.4,199.78 106.05,201.36 105.7,202.25 105.35,199.89 105,199.37 104.65,199.48 104.3,199.62 103.95,199.86 103.6,199.67 103.25,199.51 102.9,199.61 102.55,199.59 102.2,199.52 101.85,199.81 101.5,199.7 101.15,199.57 100.8,199.88 100.45,199.84 100.1,199.92 99.75,199.91 99.4,199.54 99.05,199.91 98.7,200.28 98.35,199.47 98,199.86 97.65,199.59 97.3,199.96 96.95,199.75 96.6,199.49 96.25,199.91 95.9,199.77 95.55,199.7 95.2,199.44 94.85,199.81 94.5,199.79 94.15,199.57 93.8,199.59 93.45,199.51 93.1,199.47 92.75,199.95 92.4,199.41 92.05,199.85 91.7,199.74 91.35,202.96 91,199.45 90.65,201.65 90.3,199.95 89.95,199.53 89.6,199.48 89.25,199.5 88.9,199.76 88.55,199.5 88.2,199.59 87.85,199.38 87.5,199.9 87.15,199.74 86.8,199.79 86.45,199.95 86.1,199.54 85.75,199.5" fill="#0a72d0"/><polygon points="131.1,186.74 131.45,186.61 131.8,186.85 132.15,186.69 132.5,186.54 132.85,187.03 133.2,187.07 133.55,186.77 133.9,186.7 134.25,186.64 134.6,187.05 134.95,186.75 135.3,186.58 135.65,186.5 136,186.48 136.35,186.46 136.7,186.68 137.05,186.81 137.4,187.06 137.75,186.64 138.1,186.63 138.45,186.54 138.8,187.04 139.15,186.93 139.5,186.87 139.85,186.74 140.2,186.8 140.55,186.67 140.9,185.17 141.25,187 141.6,187.05 141.95,186.49 142.3,186.68 142.65,186.98 143,186.86 143.35,186.94 143.7,186.74 144.05,186.57 144.4,186.41 144.75,186.72 145.1,187.07 145.45,186.48 145.8,186.91 146.15,186.68 146.5,186.77 146.85,186.56 147.2,186.87 147.55,186.49 147.9,186.96 148.25,186.9 148.6,186.58 148.95,186.83 149.3,186.52 149.65,186.53 150,186.52 150.35,186.56 150.7,186.67 151.05,187.04 151.4,186.65 151.75,186.92 152.1,186.7 152.45,186.77 152.8,186.79 153.15,186.83 153.5,187.03 153.85,186.85 154.2,186.53 154.55,186.61 154.9,186.76 155.25,186.8 155.6,186.62 155.95,186.62 156.3,186.66 156.65,187.04 157,186.87 157.35,186.6 157.7,186.6 158.05,186.7 158.4,186.62 158.75,186.91 159.1,187.05 159.45,186.64 159.8,186.5 160.15,186.87 160.5,186.56 160.85,186.81 161.2,186.79 161.55,186.58 161.9,186.66 162.25,186.94 162.6,186.81 162.95,186.66 163.3,186.62 163.65,186.8 164,186.6 164.35,186.58 164.7,187.05 165.05,186.58 165.4,186.73 165.75,186.56 166.1,186.67 166.45,187.01 166.8,186.6 167.15,186.55 167.5,186.76 167.85,186.48 168.2,186.59 168.55,186.62 168.9,186.73 169.25,187.05 169.6,186.51 169.95,186.57 170.3,186.57 170.65,187.03 171,186.81 171.35,186.64 171.7,186.94 172.05,186.85 172.4,186.6 172.75,186.67 173.1,186.97 173.45,186.71 173.8,185.7 174.15,186.74 174.5,186.66 174.85,186.71 175.2,186.71 175.55,186.89 175.9,186.84 176.25,187.06 176.45,186.69 176.45,199.85 176.25,199.48 175.9,199.69 175.55,199.51 175.2,199.41 174.85,199.86 174.5,200.21 174.15,199.54 173.8,199.51 173.45,199.78 173.1,199.62 172.75,199.54 172.4,199.54 172.05,199.72 171.7,199.39 171.35,199.77 171,199.52 170.65,200.67 170.3,199.85 169.95,199.61 169.6,199.65 169.25,199.89 168.9,199.44 168.55,199.56 168.2,199.42 167.85,199.73 167.5,199.64 167.15,199.74 166.8,199.4 166.45,199.79 166.1,199.64 165.75,199.75 165.4,199.63 165.05,199.97 164.7,199.84 164.35,199.65 164,199.81 163.65,199.54 163.3,199.73 162.95,199.68 162.6,199.58 162.25,199.47 161.9,199.75 161.55,199.83 161.2,199.88 160.85,202.37 160.5,199.5 160.15,199.88 159.8,199.67 159.45,199.94 159.1,199.58 158.75,199.57 158.4,199.59 158.05,199.61 157.7,199.84 157.35,199.4 157,199.4 156.65,199.73 156.3,199.4 155.95,199.68 155.6,199.96 155.25,199.58 154.9,199.85 154.55,199.9 154.2,199.89 153.85,199.84 153.5,199.7 153.15,199.77 152.8,199.82 152.45,199.92 152.1,199.92 151.75,199.53 151.4,199.54 151.05,199.74 150.7,199.65 150.35,199.78 150,199.82 149.65,199.48 149.3,199.45 148.95,199.59 148.6,199.5 148.25,199.97 147.9,199.41 147.55,199.67 147.2,199.96 146.85,199.91 146.5,199.95 146.15,199.86 145.8,199.53 145.45,199.55 145.1,199.96 144.75,199.92 144.4,199.94 144.05,199.85 143.7,199.77 143.35,199.39 143,199.43 142.65,199.71 142.3,199.91 141.95,199.66 141.6,199.44 141.25,199.57 140.9,199.5 140.55,199.94 140.2,199.57 139.85,199.87 139.5,199.77 139.15,199.72 138.8,199.74 138.45,199.54 138.1,199.94 137.75,199.42 137.4,199.48 137.05,199.46 136.7,199.79 136.35,199.69 136,199.81 135.65,199.75 135.3,199.73 134.95,199.74 134.6,199.65 134.25,199.66 133.9,199.47 133.55,199.87 133.2,199.62 132.85,201.98 132.5,199.63 132.15,199.37 131.8,199.39 131.45,199.51 131.1,199.7" fill="#0a72d0"/><polygon points="176.45,185.85 176.8,185.59 177.15,185.75 177.5,185.87 177.85,185.77 178.2,185.81 178.55,186.13 178.9,185.97 179.25,185.81 179.6,185.68 179.95,185.72 180.3,186.04 180.65,185.64 181,186.09 181.35,185.99 181.7,186.15 182.05,185.98 182.4,185.97 182.75,185.77 183.1,185.62 183.45,186.04 183.8,185.87 184.15,184.2 184.5,184.23 184.85,185.71 185.2,185.76 185.55,185.79 185.9,185.86 186.25,186.04 186.6,182.39 186.95,185.83 187.3,185.99 187.65,186.02 188,185.67 188.35,184.51 188.7,185.72 189.05,186.09 189.4,185.9 189.75,185.75 190.1,185.62 190.45,185.85 190.8,185.61 191.15,186.06 191.5,185.88 191.85,186.08 192.2,185.92 192.55,186 192.9,185.78 193.25,185.75 193.6,185.85 193.95,185.93 194.3,186.04 194.65,185.98 195,185.72 195.35,186.01 195.7,186.05 196.05,185.97 196.4,183.64 196.75,186.13 197.1,185.92 197.45,186.02 197.8,186 198.15,185.83 198.5,185.35 198.85,185.86 199.2,185.56 199.55,186.08 199.9,186.13 200.25,185.71 200.6,184.96 200.95,185.85 201.3,186.01 201.65,185.87 202,185.77 202.35,185.65 202.7,186.14 203.05,186.17 203.4,185.92 203.75,185.95 204.1,185.48 204.45,185.94 204.8,185.78 205.15,186.12 205.5,185.74 205.85,185.59 206.2,186.16 206.55,186.07 206.9,185.53 207.25,185.61 207.6,185.69 207.95,185.74 208.3,185.71 208.65,186.08 209,186.1 209.35,185.88 209.7,184.16 210.05,185.62 210.4,185.91 210.75,185.69 211.1,185.97 211.45,185.65 211.8,185.83 212.15,185.81 212.5,186.1 212.85,186.17 213.2,186.15 213.55,186.11 213.9,186.04 214.25,185.8 214.6,185.87 214.95,186.07 215.3,185.59 215.65,185.64 216,185.9 216.35,186.18 216.7,185.62 217.05,185.79 217.4,185.94 217.75,185.72 218.1,186.17 218.45,185.97 218.8,185.77 219.15,185.85 219.5,185.77 219.85,185.7 220.2,185.65 220.55,185.9 220.9,185.89 221.25,185.78 221.6,185.66 221.8,185.85 221.8,199.3 221.6,199.49 221.25,200.4 220.9,199.29 220.55,199.59 220.2,199.32 219.85,199.44 219.5,199.33 219.15,199.76 218.8,199.86 218.45,199.69 218.1,199.67 217.75,199.61 217.4,199.35 217.05,199.71 216.7,199.86 216.35,199.47 216,199.67 215.65,199.35 215.3,199.73 214.95,199.86 214.6,199.68 214.25,199.8 213.9,199.58 213.55,199.48 213.2,199.8 212.85,199.72 212.5,199.35 212.15,199.33 211.8,199.73 211.45,199.54 211.1,199.57 210.75,199.38 210.4,199.39 210.05,199.63 209.7,199.44 209.35,199.54 209,199.76 208.65,199.81 208.3,199.32 207.95,199.45 207.6,199.41 207.25,199.58 206.9,199.4 206.55,199.51 206.2,199.71 205.85,199.47 205.5,199.54 205.15,199.62 204.8,201.05 204.45,199.4 204.1,199.87 203.75,199.68 203.4,199.33 203.05,199.58 202.7,199.48 202.35,199.3 202,199.62 201.65,199.58 201.3,199.67 200.95,199.85 200.6,199.66 200.25,199.5 199.9,199.63 199.55,199.5 199.2,199.64 198.85,199.59 198.5,199.42 198.15,199.71 197.8,199.45 197.45,199.54 197.1,199.48 196.75,199.34 196.4,199.71 196.05,199.74 195.7,199.67 195.35,199.55 195,199.75 194.65,199.68 194.3,199.6 193.95,199.51 193.6,199.55 193.25,199.77 192.9,199.56 192.55,199.65 192.2,199.55 191.85,199.55 191.5,199.76 191.15,199.62 190.8,199.82 190.45,199.86 190.1,199.3 189.75,199.43 189.4,199.62 189.05,199.8 188.7,199.45 188.35,199.36 188,199.62 187.65,199.35 187.3,200.15 186.95,199.53 186.6,199.81 186.25,199.71 185.9,202.52 185.55,199.29 185.2,201.81 184.85,199.53 184.5,199.74 184.15,199.7 183.8,199.47 183.45,199.78 183.1,199.51 182.75,199.72 182.4,199.8 182.05,204.46 181.7,199.36 181.35,199.65 181,199.37 180.65,199.52 180.3,199.73 179.95,199.61 179.6,199.5 179.25,199.87 178.9,199.5 178.55,199.66 178.2,199.58 177.85,199.69 177.5,199.73 177.15,200.02 176.8,199.47 176.45,199.48" fill="#0a72d0"/><path d="M130.19 147.4V236.9" stroke="#1c8dd2" stroke-width="0.9"/><polygon points="85.75,184.54 86.1,184.46 86.45,184.07 86.8,184.49 87.15,184.14 87.5,184.03 87.85,184.11 88.2,184.49 88.55,184.47 88.9,184.42 89.25,184.14 89.6,184.26 89.95,184.57 90.3,184.41 90.65,184.51 91,184.47 91.35,184.24 91.7,184.28 92.05,184.41 92.4,184.23 92.75,184.56 93.1,184.3 93.45,184.27 93.8,184.18 94.15,184.32 94.5,184.08 94.85,183.98 95.2,184.02 95.55,184.35 95.9,184.31 96.25,182.52 96.6,183.99 96.95,183.98 97.3,184.55 97.65,184.44 98,184.29 98.35,184.4 98.7,184.14 99.05,184.17 99.4,184.42 99.75,184.42 100.1,184.34 100.45,184.39 100.8,184.07 101.15,184.24 101.5,184.39 101.85,184.04 102.2,184.38 102.55,184.13 102.9,184.47 103.25,184.55 103.6,184.22 103.95,184.41 104.3,184.12 104.65,184.01 105,184.22 105.35,184.14 105.7,184.39 106.05,184.02 106.4,184.54 106.75,184.4 107.1,184.28 107.45,184.06 107.8,184.36 108.15,184.52 108.5,184.03 108.85,184.21 109.2,184.38 109.55,184.38 109.9,184.51 110.25,184.42 110.6,184.48 110.95,184.22 111.3,184.33 111.65,184.55 112,184.39 112.35,184.02 112.7,184.06 113.05,184.45 113.4,184.06 113.75,184.23 114.1,184.32 114.45,184.24 114.8,184.57 115.15,184.36 115.5,184.07 115.85,184.05 116.2,184.22 116.55,184.37 116.9,184.52 117.25,184.38 117.6,184.55 117.95,184.24 118.3,184.55 118.65,184.14 119,184.01 119.35,184.34 119.7,184.37 120.05,184.2 120.4,184.46 120.75,183.99 121.1,184.41 121.45,184.3 121.8,184.09 122.15,184.16 122.5,178.37 122.85,184.09 123.2,184.34 123.55,184.43 123.9,184.03 124.25,184.37 124.6,184.08 124.95,184.33 125.3,184.32 125.65,184.43 126,184.27 126.35,184.03 126.7,182.47 127.05,184.53 127.4,184.55 127.75,184.05 128.1,184.54 128.45,184.06 128.8,184.27 129.15,184.41 129.5,184.57 129.85,184.52 130.2,183.94 130.55,184.3 130.9,184.28 131.1,184.54 131.1,199.82 130.9,199.38 130.55,199.42 130.2,199.43 129.85,199.95 129.5,199.74 129.15,199.9 128.8,199.75 128.45,199.59 128.1,199.57 127.75,199.78 127.4,199.85 127.05,199.64 126.7,199.44 126.35,199.4 126,199.75 125.65,199.66 125.3,199.51 124.95,199.47 124.6,199.42 124.25,199.87 123.9,199.78 123.55,199.85 123.2,199.64 122.85,199.68 122.5,199.65 122.15,199.89 121.8,199.84 121.45,199.44 121.1,201.98 120.75,199.69 120.4,199.42 120.05,202.43 119.7,199.38 119.35,199.51 119,199.73 118.65,199.93 118.3,199.64 117.95,200.45 117.6,199.73 117.25,201.22 116.9,199.65 116.55,199.84 116.2,199.42 115.85,199.49 115.5,199.64 115.15,199.65 114.8,199.63 114.45,199.85 114.1,200.26 113.75,199.44 113.4,200.17 113.05,199.49 112.7,199.59 112.35,199.64 112,199.45 111.65,199.7 111.3,199.87 110.95,199.6 110.6,199.47 110.25,199.96 109.9,199.6 109.55,199.81 109.2,199.93 108.85,199.53 108.5,200.23 108.15,199.85 107.8,199.64 107.45,199.74 107.1,199.49 106.75,199.85 106.4,199.37 106.05,200.49 105.7,199.72 105.35,199.58 105,199.59 104.65,199.65 104.3,199.48 103.95,199.86 103.6,199.47 103.25,199.73 102.9,199.68 102.55,199.53 102.2,199.5 101.85,199.89 101.5,199.6 101.15,199.6 100.8,199.63 100.45,199.73 100.1,199.49 99.75,199.9 99.4,199.6 99.05,199.53 98.7,199.66 98.35,199.86 98,199.63 97.65,199.45 97.3,199.84 96.95,199.62 96.6,200.66 96.25,199.38 95.9,199.71 95.55,199.4 95.2,199.78 94.85,199.81 94.5,199.95 94.15,203.65 93.8,199.43 93.45,199.98 93.1,199.76 92.75,200.29 92.4,199.58 92.05,199.66 91.7,199.78 91.35,199.88 91,199.73 90.65,199.93 90.3,199.67 89.95,199.88 89.6,199.46 89.25,199.69 88.9,203.83 88.55,199.63 88.2,199.88 87.85,199.63 87.5,199.4 87.15,199.43 86.8,199.92 86.45,199.83 86.1,199.88 85.75,199.8" fill="#d0683a"/><polygon points="40.4,183.75 40.75,188 41.1,188.27 41.45,188 41.8,187.97 42.15,187.81 42.5,188.01 42.85,188.05 43.2,187.87 43.55,187.95 43.9,188.17 44.25,188.23 44.6,187.91 44.95,188.07 45.3,187.77 45.65,187.79 46,187.77 46.35,187.91 46.7,187.74 47.05,188.27 47.4,188.03 47.75,187.99 48.1,188.05 48.45,188.02 48.8,187.9 49.15,188.09 49.5,187.82 49.85,188.19 50.2,187.75 50.55,187.83 50.9,187.88 51.25,187.81 51.6,188.02 51.95,187.9 52.3,187.99 52.65,188.05 53,188.19 53.35,187.86 53.7,188.28 54.05,187.97 54.4,187.8 54.75,187.77 55.1,187.77 55.45,187.76 55.8,188.06 56.15,188.22 56.5,188.15 56.85,187.86 57.2,187.77 57.55,188.14 57.9,188.26 58.25,188.3 58.6,187.98 58.95,188.14 59.3,188.11 59.65,188.21 60,188.31 60.35,187.96 60.7,186.86 61.05,187.99 61.4,188.13 61.75,187.71 62.1,187.83 62.45,186.98 62.8,188.33 63.15,187.83 63.5,188.1 63.85,187.77 64.2,188.04 64.55,187.76 64.9,187.96 65.25,187.91 65.6,188.27 65.95,188.19 66.3,188.33 66.65,188.3 67,186.83 67.35,188.29 67.7,188.17 68.05,188.31 68.4,188 68.75,187.92 69.1,187.86 69.45,187.29 69.8,187.75 70.15,188.28 70.5,188.28 70.85,187.91 71.2,187.96 71.55,187.91 71.9,188.01 72.25,188.03 72.6,188.31 72.95,187.88 73.3,188.18 73.65,188.19 74,188.07 74.35,187.88 74.7,184.39 75.05,187.77 75.4,187.95 75.75,188.01 76.1,187.85 76.45,188.3 76.8,187.86 77.15,188.22 77.5,187.97 77.85,187.95 78.2,187.85 78.55,188.01 78.9,188.17 79.25,188.33 79.6,187.96 79.95,187.91 80.3,188.29 80.65,186.4 81,188.32 81.35,187.85 81.7,187.93 82.05,188.23 82.4,188.18 82.75,188.28 83.1,188.09 83.45,188.12 83.8,188.28 84.15,188.29 84.5,187.89 84.85,188.16 85.2,188.21 85.55,183.86 85.75,188.01 85.75,196.74 85.55,196.79 85.2,199.5 84.85,197.11 84.5,197 84.15,196.67 83.8,197.09 83.45,197.06 83.1,196.91 82.75,196.87 82.4,197.05 82.05,196.74 81.7,197.12 81.35,197.13 81,196.69 80.65,197.09 80.3,196.72 79.95,198.04 79.6,197 79.25,196.68 78.9,197.03 78.55,197 78.2,196.8 77.85,197.11 77.5,196.71 77.15,196.75 76.8,196.7 76.45,196.98 76.1,196.78 75.75,196.92 75.4,196.69 75.05,197.16 74.7,196.75 74.35,197.08 74,196.92 73.65,196.71 73.3,200.56 72.95,197.05 72.6,197.13 72.25,196.95 71.9,197.01 71.55,196.74 71.2,197.1 70.85,196.85 70.5,196.88 70.15,196.96 69.8,196.6 69.45,197.1 69.1,196.75 68.75,196.84 68.4,196.96 68.05,196.69 67.7,196.81 67.35,196.69 67,196.95 66.65,196.75 66.3,197.11 65.95,196.85 65.6,198.29 65.25,196.85 64.9,196.63 64.55,196.74 64.2,197.63 63.85,196.84 63.5,197.17 63.15,197.18 62.8,196.79 62.45,197.19 62.1,196.97 61.75,197.68 61.4,196.64 61.05,197.12 60.7,197 60.35,196.85 60,196.8 59.65,196.71 59.3,196.9 58.95,196.92 58.6,197.78 58.25,196.7 57.9,196.77 57.55,197.12 57.2,196.77 56.85,197.16 56.5,202.15 56.15,197.14 55.8,196.7 55.45,204.71 55.1,197.11 54.75,197.09 54.4,196.85 54.05,196.77 53.7,196.79 53.35,196.79 53,196.7 52.65,197.11 52.3,196.98 51.95,196.71 51.6,196.99 51.25,198.29 50.9,196.66 50.55,196.94 50.2,197.16 49.85,199.21 49.5,196.65 49.15,196.76 48.8,197.9 48.45,196.79 48.1,196.71 47.75,196.96 47.4,197.01 47.05,196.97 46.7,196.84 46.35,196.75 46,197.09 45.65,196.96 45.3,196.99 44.95,196.8 44.6,196.62 44.25,196.91 43.9,196.65 43.55,196.77 43.2,196.95 42.85,196.72 42.5,196.75 42.15,197.15 41.8,196.84 41.45,197.01 41.1,197.1 40.75,196.99 40.4,197.03" fill="#ff560a"/><polygon points="85.75,185.76 86.1,186.11 86.45,185.75 86.8,185.67 87.15,186.09 87.5,185.86 87.85,185.84 88.2,186.15 88.55,185.83 88.9,185.86 89.25,185.89 89.6,185.97 89.95,185.83 90.3,185.78 90.65,185.67 91,186.03 91.35,185.98 91.7,186.17 92.05,185.87 92.4,185.66 92.75,186.16 93.1,185.83 93.45,186.01 93.8,185.74 94.15,186.01 94.5,185.65 94.85,186.17 95.2,185.45 95.55,185.79 95.9,185.98 96.25,186.05 96.6,185.97 96.95,185.84 97.3,185.63 97.65,186 98,185.66 98.35,186.14 98.7,186.16 99.05,185.77 99.4,185.73 99.75,185.99 100.1,185.63 100.45,186.11 100.8,185.99 101.15,185.65 101.5,185.61 101.85,186.11 102.2,186.08 102.55,186.07 102.9,186.04 103.25,186.04 103.6,186.16 103.95,185.68 104.3,185.78 104.65,185.98 105,185.82 105.35,186.1 105.7,186.11 106.05,185.78 106.4,185.75 106.75,185.74 107.1,186.18 107.45,186.05 107.8,185.3 108.15,185.61 108.5,185.83 108.85,186.02 109.2,185.98 109.55,186.1 109.9,185.67 110.25,186.15 110.6,185.87 110.95,185.64 111.3,185.61 111.65,185.62 112,186.04 112.35,185.74 112.7,185.77 113.05,185.93 113.4,185.04 113.75,185.59 114.1,185.89 114.45,186.08 114.8,185.55 115.15,185.68 115.5,185.69 115.85,185.83 116.2,186.07 116.55,185.69 116.9,185.97 117.25,185.95 117.6,185.78 117.95,186.13 118.3,185.74 118.65,186.08 119,185.85 119.35,186.05 119.7,186.09 120.05,185.61 120.4,185.74 120.75,186.01 121.1,185.61 121.45,185.76 121.8,185.98 122.15,185.87 122.5,186.11 122.85,185.83 123.2,185.67 123.55,185.95 123.9,186.13 124.25,185.86 124.6,185.85 124.95,185.83 125.3,185.66 125.65,185.98 126,186.05 126.35,184.89 126.7,185.61 127.05,185.59 127.4,185.76 127.75,186.01 128.1,186.12 128.45,186.07 128.8,185.86 129.15,185.64 129.5,185.59 129.85,186.18 130.2,186.03 130.55,185.62 130.9,185.61 131.1,185.74 131.1,198.37 130.9,198.41 130.55,198.81 130.2,198.77 129.85,198.48 129.5,198.6 129.15,198.7 128.8,198.66 128.45,198.4 128.1,198.44 127.75,198.38 127.4,199.47 127.05,198.58 126.7,198.74 126.35,198.64 126,198.3 125.65,198.56 125.3,198.85 124.95,198.58 124.6,198.56 124.25,198.78 123.9,198.71 123.55,198.84 123.2,198.48 122.85,198.6 122.5,198.8 122.15,198.76 121.8,198.44 121.45,198.39 121.1,200.07 120.75,198.67 120.4,198.79 120.05,198.64 119.7,198.83 119.35,198.34 119,198.84 118.65,198.31 118.3,198.69 117.95,198.59 117.6,198.71 117.25,198.62 116.9,198.39 116.55,198.77 116.2,198.75 115.85,198.57 115.5,198.6 115.15,198.71 114.8,198.58 114.45,198.71 114.1,198.43 113.75,198.82 113.4,198.64 113.05,198.66 112.7,198.4 112.35,198.76 112,200.14 111.65,198.5 111.3,198.6 110.95,198.78 110.6,198.73 110.25,198.53 109.9,198.86 109.55,198.61 109.2,198.85 108.85,198.75 108.5,198.75 108.15,198.54 107.8,198.3 107.45,199.38 107.1,198.73 106.75,198.66 106.4,198.61 106.05,198.89 105.7,198.63 105.35,198.54 105,198.68 104.65,198.67 104.3,198.62 103.95,198.53 103.6,198.51 103.25,198.88 102.9,198.46 102.55,198.48 102.2,198.52 101.85,198.44 101.5,198.66 101.15,198.61 100.8,198.53 100.45,198.41 100.1,198.42 99.75,198.65 99.4,198.54 99.05,198.82 98.7,198.7 98.35,198.78 98,198.43 97.65,198.88 97.3,198.8 96.95,198.66 96.6,198.38 96.25,198.62 95.9,198.46 95.55,198.36 95.2,198.69 94.85,198.82 94.5,198.73 94.15,198.76 93.8,198.74 93.45,198.55 93.1,198.45 92.75,198.67 92.4,198.45 92.05,198.79 91.7,198.68 91.35,198.71 91,198.7 90.65,198.7 90.3,199.69 89.95,198.59 89.6,198.49 89.25,198.81 88.9,198.73 88.55,198.42 88.2,198.31 87.85,198.56 87.5,198.35 87.15,198.73 86.8,198.39 86.45,198.67 86.1,198.57 85.75,198.4" fill="#ff560a"/><polygon points="131.1,187.38 131.45,187.11 131.8,187.1 132.15,187.07 132.5,187.45 132.85,187.08 133.2,187.15 133.55,187.24 133.9,187.44 134.25,187.25 134.6,187.32 134.95,187.55 135.3,187.02 135.65,187.27 136,187.47 136.35,187.5 136.7,187.25 137.05,187.28 137.4,187.3 137.75,187.51 138.1,187.47 138.45,187.17 138.8,187.15 139.15,187.36 139.5,186.27 139.85,186.79 140.2,187.44 140.55,187.02 140.9,187.48 141.25,187.16 141.6,187.42 141.95,187.05 142.3,187.12 142.65,187.09 143,187.28 143.35,186.62 143.7,187.38 144.05,187.2 144.4,187.47 144.75,187.16 145.1,187.1 145.45,187.13 145.8,187.47 146.15,187.08 146.5,187.22 146.85,187.13 147.2,187.25 147.55,187.54 147.9,187.17 148.25,187.52 148.6,187.46 148.95,187.08 149.3,187.21 149.65,187.5 150,187.43 150.35,187.02 150.7,187.06 151.05,187.28 151.4,187.39 151.75,187.52 152.1,187.6 152.45,187.11 152.8,187.03 153.15,187.47 153.5,187.42 153.85,187.52 154.2,187.32 154.55,187.25 154.9,187.61 155.25,187.25 155.6,187.4 155.95,187.53 156.3,187.18 156.65,187.04 157,187.47 157.35,185.35 157.7,187.04 158.05,187.53 158.4,185.69 158.75,187.28 159.1,187.29 159.45,187.37 159.8,187.19 160.15,187.4 160.5,187.4 160.85,187.42 161.2,187.56 161.55,187.54 161.9,187.12 162.25,187.09 162.6,187.18 162.95,187.15 163.3,185.88 163.65,187.06 164,187.32 164.35,187.32 164.7,187.03 165.05,187.41 165.4,186.65 165.75,187.18 166.1,187.57 166.45,186.61 166.8,187.2 167.15,187.27 167.5,187.54 167.85,187.52 168.2,187.33 168.55,187.02 168.9,187.32 169.25,187.16 169.6,187.54 169.95,187.16 170.3,187.6 170.65,187.28 171,187.38 171.35,187.2 171.7,187.06 172.05,187.16 172.4,187.3 172.75,187.58 173.1,187.21 173.45,187.37 173.8,187.45 174.15,187.6 174.5,187.31 174.85,187.4 175.2,187.58 175.55,187.05 175.9,187.44 176.25,187.05 176.45,186.79 176.45,196.44 176.25,196.98 175.9,196.91 175.55,196.48 175.2,196.88 174.85,196.87 174.5,196.98 174.15,196.98 173.8,196.82 173.45,196.84 173.1,196.52 172.75,196.98 172.4,196.7 172.05,196.47 171.7,196.96 171.35,196.64 171,196.94 170.65,196.81 170.3,196.75 169.95,196.63 169.6,196.75 169.25,196.45 168.9,197.94 168.55,196.83 168.2,196.88 167.85,196.49 167.5,196.71 167.15,196.97 166.8,196.43 166.45,196.45 166.1,196.75 165.75,196.72 165.4,200.58 165.05,196.93 164.7,196.68 164.35,196.73 164,196.48 163.65,196.56 163.3,196.66 162.95,196.68 162.6,196.67 162.25,196.71 161.9,196.73 161.55,196.63 161.2,196.88 160.85,196.49 160.5,196.57 160.15,196.63 159.8,196.57 159.45,196.52 159.1,196.61 158.75,196.72 158.4,196.47 158.05,196.96 157.7,197.37 157.35,196.54 157,196.81 156.65,196.93 156.3,196.53 155.95,196.73 155.6,196.93 155.25,196.93 154.9,196.95 154.55,196.6 154.2,196.8 153.85,197.94 153.5,196.67 153.15,196.89 152.8,196.6 152.45,197.49 152.1,196.65 151.75,196.92 151.4,196.98 151.05,196.45 150.7,196.45 150.35,196.82 150,196.85 149.65,196.47 149.3,196.92 148.95,196.73 148.6,196.83 148.25,196.94 147.9,196.83 147.55,196.69 147.2,196.81 146.85,196.56 146.5,196.53 146.15,196.56 145.8,196.53 145.45,196.73 145.1,196.94 144.75,196.98 144.4,196.49 144.05,196.94 143.7,196.67 143.35,196.97 143,196.76 142.65,196.65 142.3,196.6 141.95,196.97 141.6,196.94 141.25,196.4 140.9,196.91 140.55,196.82 140.2,196.47 139.85,196.54 139.5,196.77 139.15,196.73 138.8,196.77 138.45,196.67 138.1,196.56 137.75,196.63 137.4,196.57 137.05,196.42 136.7,196.95 136.35,196.49 136,196.61 135.65,196.73 135.3,196.79 134.95,196.43 134.6,196.95 134.25,196.72 133.9,196.99 133.55,196.73 133.2,196.57 132.85,196.95 132.5,196.96 132.15,196.46 131.8,196.44 131.45,196.81 131.1,196.66" fill="#ff560a"/><polygon points="176.45,188.1 176.8,187.9 177.15,187.69 177.5,188.1 177.85,188 178.2,188.05 178.55,187.75 178.9,187.73 179.25,187.84 179.6,187.8 179.95,188.12 180.3,187.6 180.65,188.07 181,187.56 181.35,188.06 181.7,187.58 182.05,187.89 182.4,188.02 182.75,188.05 183.1,187.85 183.45,188.09 183.8,187.75 184.15,187.98 184.5,187.94 184.85,187.97 185.2,188.14 185.55,187.47 185.9,187.6 186.25,187.81 186.6,188.07 186.95,187.58 187.3,188.12 187.65,188.08 188,187.57 188.35,187.62 188.7,188.1 189.05,187.97 189.4,187.86 189.75,188.12 190.1,187.77 190.45,187.8 190.8,187.96 191.15,187.57 191.5,187.81 191.85,187.98 192.2,187.67 192.55,186.24 192.9,187.71 193.25,187.71 193.6,187.77 193.95,187.86 194.3,187.76 194.65,187.75 195,187.87 195.35,187.76 195.7,187.64 196.05,188.05 196.4,188.13 196.75,187.84 197.1,187.73 197.45,187.59 197.8,187.91 198.15,187.99 198.5,188 198.85,187.65 199.2,186.82 199.55,188.05 199.9,188.04 200.25,188.04 200.6,187.98 200.95,188.07 201.3,187.67 201.65,188.07 202,187.66 202.35,188.04 202.7,188.08 203.05,187.71 203.4,188.15 203.75,187.94 204.1,188.07 204.45,187.92 204.8,187.66 205.15,187.84 205.5,187.86 205.85,187.36 206.2,187.74 206.55,187.61 206.9,187.83 207.25,188.12 207.6,187.86 207.95,187.69 208.3,187.55 208.65,187.86 209,187.62 209.35,187.76 209.7,188.12 210.05,187.68 210.4,187.68 210.75,187.6 211.1,187.74 211.45,188.08 211.8,188.03 212.15,187.98 212.5,186.24 212.85,187.68 213.2,186.1 213.55,188.01 213.9,188.12 214.25,188.1 214.6,188.08 214.95,188.09 215.3,188.01 215.65,188.1 216,187.91 216.35,188.12 216.7,187.93 217.05,187.71 217.4,187.73 217.75,187.94 218.1,187.96 218.45,187.62 218.8,187.97 219.15,187.93 219.5,187.59 219.85,188.05 220.2,187.82 220.55,187.6 220.9,188.08 221.25,187.63 221.6,187.79 221.8,187.7 221.8,197.36 221.6,196.87 221.25,197.21 220.9,196.95 220.55,197.1 220.2,197.27 219.85,197.37 219.5,197.28 219.15,197.14 218.8,197.09 218.45,197.24 218.1,197.05 217.75,196.88 217.4,197.51 217.05,197.22 216.7,196.9 216.35,197.38 216,197.01 215.65,197.38 215.3,196.85 214.95,196.95 214.6,196.96 214.25,196.8 213.9,196.82 213.55,197.18 213.2,197.36 212.85,197.11 212.5,196.82 212.15,196.85 211.8,197.16 211.45,196.86 211.1,197.17 210.75,196.87 210.4,197.02 210.05,196.95 209.7,196.9 209.35,197.29 209,196.81 208.65,197.3 208.3,196.94 207.95,197.34 207.6,197.01 207.25,197.05 206.9,197.38 206.55,197.12 206.2,197.35 205.85,196.89 205.5,197.16 205.15,197.03 204.8,197.02 204.45,197.12 204.1,197.01 203.75,197.31 203.4,196.91 203.05,196.99 202.7,197.37 202.35,196.85 202,196.96 201.65,198.31 201.3,197.64 200.95,197.13 200.6,197.38 200.25,197.08 199.9,196.95 199.55,197.29 199.2,197.32 198.85,197.3 198.5,197.26 198.15,196.89 197.8,196.92 197.45,197.18 197.1,197.09 196.75,197.24 196.4,196.89 196.05,197.13 195.7,196.92 195.35,197.02 195,197.18 194.65,197.06 194.3,198.26 193.95,197.11 193.6,197.09 193.25,197.02 192.9,197.21 192.55,199.17 192.2,196.87 191.85,196.81 191.5,197.01 191.15,197.31 190.8,197.09 190.45,196.95 190.1,197.31 189.75,197.1 189.4,196.96 189.05,196.94 188.7,197.09 188.35,196.99 188,196.88 187.65,197.1 187.3,196.82 186.95,197.23 186.6,197.19 186.25,196.98 185.9,197.01 185.55,197.35 185.2,197.11 184.85,197.19 184.5,196.92 184.15,196.88 183.8,197.22 183.45,197.09 183.1,197.33 182.75,196.8 182.4,197.3 182.05,197 181.7,197.17 181.35,196.97 181,196.83 180.65,196.91 180.3,196.93 179.95,196.97 179.6,197.15 179.25,197.38 178.9,197.78 178.55,196.91 178.2,197.19 177.85,196.89 177.5,196.82 177.15,196.87 176.8,197.13 176.45,196.89" fill="#ff560a"/><polygon points="40.4,190.37 40.75,190.52 41.1,190.59 41.45,190.28 41.8,190.56 42.15,190.27 42.5,190.44 42.85,190.27 43.2,190.52 43.55,190.25 43.9,190.59 44.25,190.36 44.6,190.24 44.95,190.5 45.3,189.57 45.65,190.29 46,190.55 46.35,190.27 46.7,190.28 47.05,190.59 47.4,190.21 47.75,190.32 48.1,190 48.45,190.58 48.8,190.34 49.15,190.39 49.5,190.31 49.85,190.22 50.2,190.33 50.55,189.98 50.9,190.49 51.25,190.53 51.6,190.54 51.95,190.22 52.3,190.21 52.65,190.26 53,190.5 53.35,190.43 53.7,190.51 54.05,190.5 54.4,190.21 54.75,190.52 55.1,190.47 55.45,190.55 55.8,190.58 56.15,190.22 56.5,190.56 56.85,190.44 57.2,190.55 57.55,190.43 57.9,190.31 58.25,190.39 58.6,190.53 58.95,190.55 59.3,190.29 59.65,190.45 60,190.45 60.35,190.49 60.7,190.48 61.05,190.4 61.4,190.4 61.75,190.34 62.1,190.47 62.45,190.47 62.8,190.37 63.15,190.29 63.5,190.21 63.85,190.34 64.2,190.38 64.55,190.39 64.9,190.52 65.25,190.58 65.6,190.57 65.95,190.39 66.3,190.23 66.65,190.26 67,190.15 67.35,190.21 67.7,190.38 68.05,190.58 68.4,190.28 68.75,190.33 69.1,190.34 69.45,190.27 69.8,190.59 70.15,190.47 70.5,190.52 70.85,190.3 71.2,190.57 71.55,190.57 71.9,190.2 72.25,190.23 72.6,190.59 72.95,190.25 73.3,190.59 73.65,190.39 74,190.46 74.35,190.33 74.7,190.31 75.05,190.34 75.4,190.48 75.75,190.48 76.1,190.31 76.45,190.48 76.8,190.3 77.15,190.28 77.5,190.21 77.85,190.51 78.2,190.5 78.55,190.29 78.9,190.26 79.25,190.46 79.6,190.59 79.95,190.55 80.3,190.29 80.65,190.45 81,190.44 81.35,190.24 81.7,190.31 82.05,190.52 82.4,190.56 82.75,190.4 83.1,190.4 83.45,190.35 83.8,190.56 84.15,190.44 84.5,190.25 84.85,190.23 85.2,190.23 85.55,190.21 85.75,190.36 85.75,193.56 85.55,193.83 85.2,193.72 84.85,193.56 84.5,193.55 84.15,193.64 83.8,193.73 83.45,193.69 83.1,193.76 82.75,193.58 82.4,193.68 82.05,193.64 81.7,193.69 81.35,193.84 81,193.61 80.65,193.53 80.3,193.77 79.95,193.74 79.6,193.7 79.25,193.53 78.9,193.88 78.55,193.77 78.2,193.79 77.85,193.88 77.5,193.55 77.15,193.84 76.8,193.86 76.45,193.7 76.1,193.65 75.75,193.7 75.4,193.81 75.05,193.69 74.7,194.93 74.35,193.54 74,193.61 73.65,193.8 73.3,193.66 72.95,193.87 72.6,193.57 72.25,193.61 71.9,193.81 71.55,194.25 71.2,193.99 70.85,193.58 70.5,193.77 70.15,193.6 69.8,193.83 69.45,193.76 69.1,193.76 68.75,193.72 68.4,193.73 68.05,193.53 67.7,193.84 67.35,193.75 67,193.85 66.65,194.1 66.3,193.83 65.95,193.68 65.6,193.61 65.25,193.87 64.9,193.73 64.55,193.53 64.2,193.54 63.85,193.71 63.5,193.53 63.15,193.62 62.8,193.86 62.45,193.68 62.1,193.76 61.75,193.88 61.4,193.62 61.05,193.71 60.7,193.49 60.35,194.18 60,193.57 59.65,193.75 59.3,193.56 58.95,193.57 58.6,193.83 58.25,194.17 57.9,193.5 57.55,193.7 57.2,193.58 56.85,193.6 56.5,193.74 56.15,193.53 55.8,193.68 55.45,193.73 55.1,193.54 54.75,193.83 54.4,193.88 54.05,193.71 53.7,193.77 53.35,193.62 53,193.82 52.65,193.76 52.3,193.57 51.95,193.63 51.6,193.56 51.25,193.62 50.9,193.79 50.55,193.75 50.2,193.79 49.85,193.51 49.5,193.86 49.15,193.69 48.8,193.72 48.45,193.65 48.1,193.79 47.75,193.75 47.4,193.79 47.05,193.8 46.7,193.68 46.35,193.7 46,193.5 45.65,193.56 45.3,193.63 44.95,193.64 44.6,194.19 44.25,193.53 43.9,193.66 43.55,193.68 43.2,193.79 42.85,193.51 42.5,193.84 42.15,193.75 41.8,193.55 41.45,193.61 41.1,193.49 40.75,193.59 40.4,193.53" fill="#ffb304"/><polygon points="85.75,186.97 86.1,187.08 86.45,186.77 86.8,186.99 87.15,187.06 87.5,187.14 87.85,186.78 88.2,186.85 88.55,187.14 88.9,187.12 89.25,186.78 89.6,186.91 89.95,187.02 90.3,186.8 90.65,186.92 91,187.1 91.35,186.78 91.7,186.93 92.05,187.16 92.4,187.07 92.75,186.84 93.1,187.1 93.45,186.8 93.8,187.13 94.15,186.89 94.5,187.09 94.85,187.02 95.2,187.06 95.55,185.99 95.9,187 96.25,185.42 96.6,186.68 96.95,186.89 97.3,186.44 97.65,186.89 98,187.16 98.35,187.14 98.7,187.03 99.05,186.89 99.4,187.04 99.75,186.86 100.1,187 100.45,186.81 100.8,187.11 101.15,187.14 101.5,186.89 101.85,186.89 102.2,186.89 102.55,186.84 102.9,186.76 103.25,186.82 103.6,187.12 103.95,186.96 104.3,186.79 104.65,186.25 105,186.94 105.35,187.07 105.7,187.15 106.05,187.15 106.4,186.76 106.75,186.87 107.1,187.13 107.45,187.11 107.8,186.87 108.15,187.05 108.5,186.76 108.85,187.08 109.2,186.91 109.55,186.97 109.9,186.79 110.25,186.84 110.6,187.09 110.95,187.02 111.3,187.11 111.65,187.03 112,186.98 112.35,186.92 112.7,187.05 113.05,186.93 113.4,186.98 113.75,186.92 114.1,186.85 114.45,187.11 114.8,186.76 115.15,187.04 115.5,186.96 115.85,186.78 116.2,186.87 116.55,187.14 116.9,187.01 117.25,186.94 117.6,187.02 117.95,187 118.3,186.91 118.65,186.81 119,186.78 119.35,187.02 119.7,187.12 120.05,186.8 120.4,186.89 120.75,186.97 121.1,186.9 121.45,186.81 121.8,186.45 122.15,187.14 122.5,187.08 122.85,186.76 123.2,186.89 123.55,186.97 123.9,186.95 124.25,186.93 124.6,186.8 124.95,187.06 125.3,186.78 125.65,186.83 126,186.86 126.35,186.96 126.7,187.08 127.05,187.01 127.4,187.11 127.75,187.13 128.1,186.96 128.45,186.86 128.8,186.98 129.15,187.04 129.5,187.04 129.85,186.93 130.2,186.86 130.55,186.79 130.9,186.81 131.1,186.78 131.1,197.33 130.9,197.4 130.55,197.65 130.2,197.5 129.85,197.36 129.5,197.64 129.15,197.5 128.8,197.68 128.45,197.61 128.1,197.49 127.75,197.52 127.4,197.51 127.05,197.59 126.7,197.72 126.35,198.23 126,197.56 125.65,197.87 125.3,197.37 124.95,197.67 124.6,197.42 124.25,197.41 123.9,197.57 123.55,198.44 123.2,197.69 122.85,197.53 122.5,197.52 122.15,197.6 121.8,197.47 121.45,197.69 121.1,197.7 120.75,197.89 120.4,197.56 120.05,197.38 119.7,197.36 119.35,197.6 119,197.51 118.65,197.35 118.3,197.72 117.95,197.37 117.6,197.53 117.25,197.55 116.9,197.38 116.55,197.66 116.2,197.57 115.85,197.58 115.5,197.48 115.15,197.37 114.8,197.46 114.45,197.76 114.1,197.54 113.75,197.56 113.4,197.66 113.05,197.68 112.7,197.39 112.35,197.45 112,197.72 111.65,197.71 111.3,197.41 110.95,197.41 110.6,197.64 110.25,197.55 109.9,197.59 109.55,197.5 109.2,197.55 108.85,197.71 108.5,197.33 108.15,197.32 107.8,200.04 107.45,197.57 107.1,197.37 106.75,197.38 106.4,197.52 106.05,197.41 105.7,197.47 105.35,197.66 105,197.54 104.65,197.38 104.3,197.49 103.95,197.64 103.6,197.7 103.25,197.55 102.9,197.36 102.55,197.61 102.2,197.43 101.85,197.69 101.5,197.66 101.15,197.46 100.8,197.67 100.45,197.53 100.1,197.47 99.75,197.63 99.4,197.65 99.05,197.58 98.7,197.69 98.35,197.58 98,197.54 97.65,197.38 97.3,197.33 96.95,197.49 96.6,198.31 96.25,197.5 95.9,197.71 95.55,197.39 95.2,197.36 94.85,197.54 94.5,197.38 94.15,197.53 93.8,197.83 93.45,197.46 93.1,197.67 92.75,198.48 92.4,197.52 92.05,197.59 91.7,197.65 91.35,197.34 91,197.58 90.65,197.55 90.3,197.5 89.95,197.43 89.6,197.59 89.25,197.42 88.9,197.4 88.55,197.56 88.2,197.57 87.85,197.51 87.5,197.35 87.15,198.88 86.8,197.51 86.45,197.59 86.1,197.32 85.75,197.63" fill="#ffb304"/><polygon points="131.1,181.87 131.45,184.4 131.8,185.92 132.15,186.58 132.5,187.27 132.85,187.68 133.2,188.25 133.55,188.32 133.9,188.23 134.25,188.42 134.6,188.47 134.95,188.78 135.3,188.8 135.65,188.74 136,188.94 136.35,188.63 136.7,188.91 137.05,188.69 137.4,188.62 137.75,188.7 138.1,188.73 138.45,188.84 138.8,188.77 139.15,188.96 139.5,188.83 139.85,188.95 140.2,188.76 140.55,188.97 140.9,188.95 141.25,188.98 141.6,188.68 141.95,188.66 142.3,188.94 142.65,188.96 143,188.93 143.35,188.72 143.7,188.62 144.05,188.92 144.4,188.86 144.75,188.8 145.1,188.95 145.45,188.63 145.8,188.76 146.15,188.66 146.5,188.66 146.85,188.62 147.2,188.94 147.55,188.76 147.9,186.89 148.25,188.26 148.6,188.85 148.95,188.62 149.3,188.7 149.65,188.79 150,188.73 150.35,188.65 150.7,188.64 151.05,188.91 151.4,188.93 151.75,188.75 152.1,188.89 152.45,188.65 152.8,188.87 153.15,188.67 153.5,188.89 153.85,188.96 154.2,188.86 154.55,188.88 154.9,188.72 155.25,188.94 155.6,188.87 155.95,188.72 156.3,188.92 156.65,188.94 157,188.95 157.35,188.75 157.7,188.89 158.05,188.69 158.4,188.68 158.75,188.68 159.1,188.7 159.45,188.86 159.8,188.73 160.15,188.63 160.5,188.78 160.85,188.87 161.2,188.77 161.55,188.66 161.9,188.71 162.25,188.64 162.6,188.89 162.95,188.83 163.3,188.95 163.65,188.79 164,188.74 164.35,188.84 164.7,188.63 165.05,188.99 165.4,188.78 165.75,188.82 166.1,188.62 166.45,188.63 166.8,188.55 167.15,189 167.5,188.84 167.85,188.89 168.2,188.92 168.55,188.82 168.9,188.62 169.25,188.75 169.6,188.97 169.95,188.67 170.3,188.73 170.65,188.7 171,188.9 171.35,188.89 171.7,188.75 172.05,188.76 172.4,188.98 172.75,188.83 173.1,188.65 173.45,188.78 173.8,188.79 174.15,188.71 174.5,188.93 174.85,188.6 175.2,188.87 175.55,188.94 175.9,188.82 176.25,188.71 176.45,188.74 176.45,194.76 176.25,194.81 175.9,194.69 175.55,194.78 175.2,194.83 174.85,194.66 174.5,194.81 174.15,194.7 173.8,194.66 173.45,194.67 173.1,194.86 172.75,194.54 172.4,194.65 172.05,194.64 171.7,194.76 171.35,194.79 171,194.64 170.65,194.71 170.3,195.59 169.95,194.8 169.6,194.88 169.25,194.61 168.9,194.55 168.55,194.6 168.2,194.76 167.85,194.77 167.5,194.61 167.15,194.59 166.8,194.72 166.45,194.66 166.1,194.61 165.75,194.73 165.4,194.86 165.05,194.88 164.7,194.85 164.35,194.61 164,194.89 163.65,194.84 163.3,194.71 162.95,194.74 162.6,194.75 162.25,194.6 161.9,194.63 161.55,194.85 161.2,194.59 160.85,194.5 160.5,194.54 160.15,194.71 159.8,194.74 159.45,194.78 159.1,194.57 158.75,194.82 158.4,195.55 158.05,194.73 157.7,194.57 157.35,194.73 157,194.84 156.65,194.81 156.3,194.88 155.95,194.72 155.6,194.72 155.25,194.78 154.9,194.59 154.55,194.69 154.2,194.78 153.85,194.65 153.5,194.55 153.15,194.61 152.8,194.68 152.45,194.84 152.1,194.86 151.75,194.49 151.4,194.58 151.05,194.79 150.7,194.82 150.35,194.88 150,194.72 149.65,194.65 149.3,194.77 148.95,195.88 148.6,194.76 148.25,194.63 147.9,194.84 147.55,194.54 147.2,194.81 146.85,194.66 146.5,194.73 146.15,194.77 145.8,194.81 145.45,194.85 145.1,194.65 144.75,194.85 144.4,194.88 144.05,194.85 143.7,194.64 143.35,194.69 143,194.76 142.65,194.57 142.3,194.57 141.95,194.73 141.6,194.71 141.25,194.58 140.9,194.52 140.55,194.66 140.2,194.87 139.85,194.84 139.5,194.7 139.15,194.63 138.8,194.86 138.45,194.5 138.1,194.54 137.75,194.78 137.4,195.02 137.05,194.75 136.7,194.62 136.35,194.87 136,194.67 135.65,194.67 135.3,194.61 134.95,194.91 134.6,194.73 134.25,195.05 133.9,195.6 133.55,194.94 133.2,195.23 132.85,195.68 132.5,195.97 132.15,196.26 131.8,197.09 131.45,198.27 131.1,200.4" fill="#ffb304"/><polygon points="176.45,189.41 176.8,189.39 177.15,189.09 177.5,189.38 177.85,189.38 178.2,189.35 178.55,189.38 178.9,189.22 179.25,189.38 179.6,189.12 179.95,188.98 180.3,189.15 180.65,189.09 181,189.18 181.35,189.06 181.7,189.1 182.05,189.06 182.4,188.73 182.75,189.4 183.1,189.19 183.45,189.16 183.8,189.34 184.15,189.23 184.5,189.32 184.85,189.08 185.2,189.27 185.55,189.27 185.9,189.07 186.25,189.26 186.6,189.09 186.95,189.18 187.3,189.08 187.65,189.26 188,189.06 188.35,189.37 188.7,189.39 189.05,189.06 189.4,189.35 189.75,189.14 190.1,189.4 190.45,189.4 190.8,189.26 191.15,189.17 191.5,189.41 191.85,189.12 192.2,189.04 192.55,189.19 192.9,188.24 193.25,189.2 193.6,189.29 193.95,189.14 194.3,189.07 194.65,189.13 195,189.38 195.35,189.16 195.7,188.97 196.05,189.37 196.4,189.22 196.75,189.33 197.1,189.19 197.45,189.22 197.8,189.35 198.15,189.03 198.5,189.18 198.85,189.26 199.2,189.37 199.55,189.17 199.9,189.2 200.25,189.22 200.6,188.78 200.95,189.3 201.3,189.27 201.65,189.41 202,189.18 202.35,189.27 202.7,189.24 203.05,189.19 203.4,189.41 203.75,189.09 204.1,189.27 204.45,189.17 204.8,189.21 205.15,189.21 205.5,189.3 205.85,189.27 206.2,188.46 206.55,189.34 206.9,189.31 207.25,188.68 207.6,189.33 207.95,189.32 208.3,189.3 208.65,189.34 209,189.18 209.35,189.19 209.7,189.02 210.05,189.03 210.4,189.09 210.75,189.28 211.1,189.38 211.45,189.28 211.8,189.2 212.15,189.03 212.5,189.39 212.85,189.25 213.2,189.07 213.55,189.08 213.9,189.18 214.25,189.26 214.6,189.37 214.95,189.38 215.3,189.24 215.65,189.26 216,189.22 216.35,189.11 216.7,189.12 217.05,189.11 217.4,189.23 217.75,189.08 218.1,189.39 218.45,189.11 218.8,188.22 219.15,189.32 219.5,189.4 219.85,189.38 220.2,189.34 220.55,188.94 220.9,189.23 221.25,189.08 221.6,189.32 221.8,189.2 221.8,194.81 221.6,194.52 221.25,195.33 220.9,194.7 220.55,194.88 220.2,194.56 219.85,194.86 219.5,194.83 219.15,194.52 218.8,194.68 218.45,194.82 218.1,194.66 217.75,194.69 217.4,194.62 217.05,194.53 216.7,194.57 216.35,194.64 216,194.66 215.65,194.68 215.3,194.57 214.95,194.81 214.6,194.63 214.25,194.61 213.9,194.63 213.55,194.56 213.2,195.76 212.85,194.69 212.5,194.52 212.15,194.66 211.8,194.78 211.45,195.12 211.1,194.85 210.75,194.55 210.4,194.51 210.05,194.64 209.7,194.53 209.35,194.8 209,194.84 208.65,194.69 208.3,194.96 207.95,194.86 207.6,194.87 207.25,194.69 206.9,194.61 206.55,194.61 206.2,195.47 205.85,194.75 205.5,194.81 205.15,194.53 204.8,194.8 204.45,194.69 204.1,194.51 203.75,194.72 203.4,194.55 203.05,194.49 202.7,194.78 202.35,194.82 202,194.76 201.65,194.77 201.3,194.81 200.95,194.62 200.6,194.64 200.25,194.71 199.9,194.76 199.55,194.49 199.2,195.98 198.85,194.72 198.5,194.89 198.15,194.58 197.8,194.85 197.45,195.89 197.1,194.67 196.75,194.54 196.4,194.68 196.05,194.81 195.7,194.83 195.35,194.85 195,195.37 194.65,194.87 194.3,194.75 193.95,194.67 193.6,194.71 193.25,194.58 192.9,194.58 192.55,194.61 192.2,194.6 191.85,194.75 191.5,194.54 191.15,194.49 190.8,194.76 190.45,194.59 190.1,194.5 189.75,194.6 189.4,194.55 189.05,194.63 188.7,194.73 188.35,194.65 188,194.85 187.65,194.76 187.3,194.78 186.95,194.8 186.6,194.85 186.25,194.54 185.9,194.67 185.55,194.74 185.2,194.5 184.85,194.83 184.5,194.66 184.15,194.7 183.8,194.72 183.45,194.71 183.1,194.5 182.75,194.84 182.4,194.52 182.05,194.52 181.7,194.53 181.35,194.52 181,194.86 180.65,194.85 180.3,194.77 179.95,194.75 179.6,194.52 179.25,194.64 178.9,194.54 178.55,194.7 178.2,194.67 177.85,194.65 177.5,194.65 177.15,194.85 176.8,194.78 176.45,194.8" fill="#ffb304"/></g><path d="M40.4 147.4h1.8M221.8 147.4h-1.8M40.4 169.78h1.8M221.8 169.78h-1.8M40.4 192.15h1.8M221.8 192.15h-1.8M40.4 214.53h1.8M221.8 214.53h-1.8M40.4 236.9h1.8M221.8 236.9h-1.8M40.4 236.9v-1.8M40.4 147.4v1.8M85.75 236.9v-1.8M85.75 147.4v1.8M131.1 236.9v-1.8M131.1 147.4v1.8M176.45 236.9v-1.8M176.45 147.4v1.8M221.8 236.9v-1.8M221.8 147.4v1.8" stroke="#5c5c5c" stroke-width="0.9" fill="none"/><rect x="40.4" y="147.4" width="181.4" height="89.5" fill="none" stroke="#5c5c5c" stroke-width="1.1"/><text x="37.8" y="151.2" font-size="9.7" text-anchor="end">250</text><text x="37.8" y="173.58" font-size="9.7" text-anchor="end">125</text><text x="37.8" y="195.95" font-size="9.7" text-anchor="end">0</text><text x="37.8" y="218.33" font-size="9.7" text-anchor="end">-125</text><text x="37.8" y="240.7" font-size="9.7" text-anchor="end">-250</text><text x="40.4" y="249.3" font-size="9.7" text-anchor="middle">0.2</text><text x="85.75" y="249.3" font-size="9.7" text-anchor="middle">0.5</text><text x="131.1" y="249.3" font-size="9.7" text-anchor="middle">0.8</text><text x="176.45" y="249.3" font-size="9.7" text-anchor="middle">1.1</text><text x="221.8" y="249.3" font-size="9.7" text-anchor="middle">1.4</text><rect x="142.1" y="150.9" width="76.1" height="24.4" fill="#fff" stroke="#5a5a5a" stroke-width="0.9"/><path d="M143.3 155.78H154.1" stroke="#6cbcec" stroke-width="1.15"/><text x="155.4" y="158.08" font-size="6.65" text-anchor="start" class="lg">PI-MRAS</text><path d="M143.3 163.34H154.1" stroke="#f6a084" stroke-width="1.15"/><text x="155.4" y="165.64" font-size="6.65" text-anchor="start" class="lg">FTSM-MRAS</text><path d="M143.3 170.91H154.1" stroke="#f7d27e" stroke-width="1.15"/><text x="155.4" y="173.21" font-size="6.65" text-anchor="start" class="lg">Adaptive STA-MRAS</text><text transform="translate(15.1,192.1) rotate(-90)" font-size="10.95" text-anchor="middle">Speed Error (rpm)</text><text x="131.2" y="261.5" font-size="10.7" text-anchor="middle">Time (s)</text><text x="131.2" y="273.6" font-size="10.7" text-anchor="middle">(b)</text><rect x="301.7" y="146.9" width="184" height="90.7" fill="#fff"/><path d="M347.7 146.9V237.6M393.7 146.9V237.6M439.7 146.9V237.6M301.7 169.57H485.7M301.7 192.25H485.7M301.7 214.93H485.7" stroke="#c2c2c2" stroke-width="0.8" fill="none"/><clipPath id="c6"><rect x="301.7" y="146.9" width="184" height="90.7"/></clipPath><g clip-path="url(#c6)"><polygon points="301.7,185.68 302.05,185.59 302.4,185.83 302.75,185.68 303.1,185.81 303.45,185.97 303.8,185.95 304.15,185.96 304.5,185.5 304.85,185.9 305.2,185.5 305.55,185.54 305.9,185.55 306.25,185.8 306.6,185.77 306.95,185.75 307.3,185.86 307.65,185.65 308,185.69 308.35,185.69 308.7,184.01 309.05,185.86 309.4,185.98 309.75,179.55 310.1,185.86 310.45,185.97 310.8,185.6 311.15,185.76 311.5,185.6 311.85,183.91 312.2,185.96 312.55,185.68 312.9,185.56 313.25,185.63 313.6,185.66 313.95,185.9 314.3,185.5 314.65,185.47 315,185.6 315.35,185.94 315.7,185.52 316.05,182.79 316.4,185.44 316.75,185.92 317.1,185.42 317.45,185.78 317.8,186.02 318.15,185.84 318.5,185.79 318.85,185.7 319.2,185.89 319.55,185.74 319.9,185.82 320.25,185.56 320.6,185.75 320.95,185.62 321.3,185.46 321.65,185.55 322,185.57 322.35,185.86 322.7,185.77 323.05,185.48 323.4,185.93 323.75,185.96 324.1,185.68 324.45,185.67 324.8,185.89 325.15,185 325.5,185.58 325.85,185.46 326.2,185.92 326.55,185.79 326.9,184.03 327.25,185.98 327.6,185.75 327.95,185.9 328.3,185.63 328.65,185.48 329,185.59 329.35,185.49 329.7,185.59 330.05,185.94 330.4,185.98 330.75,185.66 331.1,185.99 331.45,185.57 331.8,185.5 332.15,185.8 332.5,185.7 332.85,185.81 333.2,185.77 333.55,185.51 333.9,185.84 334.25,178.27 334.6,185.92 334.95,185.5 335.3,185.51 335.65,185.54 336,185.63 336.35,186 336.7,185.64 337.05,185.86 337.4,185.49 337.75,185.47 338.1,184.93 338.45,185.93 338.8,185.98 339.15,185.58 339.5,185.76 339.85,185.85 340.2,185.92 340.55,185.65 340.9,185.79 341.25,185.98 341.6,185.69 341.95,185.53 342.3,185.78 342.65,185.4 343,185.47 343.35,185.44 343.7,185.51 344.05,185.47 344.4,185.56 344.75,185.64 345.1,185.74 345.45,185.48 345.8,185.85 346.15,186.01 346.5,185.7 346.85,185.85 347.2,185.6 347.55,185.79 347.7,185.82 347.7,200.3 347.55,200.19 347.2,200.43 346.85,200.36 346.5,200.39 346.15,200.27 345.8,200.14 345.45,200.38 345.1,200.14 344.75,199.94 344.4,200.18 344.05,200.21 343.7,200.16 343.35,200.32 343,200.31 342.65,200.2 342.3,200.23 341.95,200.14 341.6,200.33 341.25,200.17 340.9,199.98 340.55,200.23 340.2,200.51 339.85,200.25 339.5,200.01 339.15,200.5 338.8,200.32 338.45,200.22 338.1,200.23 337.75,200.06 337.4,200.13 337.05,201.28 336.7,200.13 336.35,200.31 336,200.38 335.65,200.95 335.3,200.16 334.95,200.45 334.6,200.12 334.25,200.13 333.9,201.1 333.55,200.51 333.2,200.22 332.85,200.45 332.5,200.24 332.15,200.41 331.8,200.17 331.45,200.28 331.1,200.1 330.75,200.31 330.4,200.27 330.05,200.18 329.7,200.1 329.35,199.95 329,200.46 328.65,200.23 328.3,200 327.95,200.32 327.6,200.31 327.25,199.97 326.9,201.37 326.55,200.19 326.2,200.5 325.85,200.04 325.5,200.92 325.15,200.15 324.8,200.36 324.45,200.21 324.1,200.5 323.75,200.06 323.4,200.04 323.05,200.5 322.7,200.5 322.35,199.96 322,200.11 321.65,200.33 321.3,200.13 320.95,204.35 320.6,200.89 320.25,200.48 319.9,200.31 319.55,200.07 319.2,201.13 318.85,200.2 318.5,200.08 318.15,200 317.8,200.44 317.45,200.28 317.1,200.35 316.75,200.37 316.4,200.46 316.05,199.97 315.7,199.95 315.35,200.5 315,200.17 314.65,199.97 314.3,200.41 313.95,200.82 313.6,200.42 313.25,201.88 312.9,200.03 312.55,200.08 312.2,200.33 311.85,200.32 311.5,200.51 311.15,200.5 310.8,200.16 310.45,200.29 310.1,200.44 309.75,200.32 309.4,200.26 309.05,200.26 308.7,200.29 308.35,200.28 308,200.02 307.65,200.31 307.3,200.37 306.95,200.38 306.6,199.99 306.25,200.41 305.9,200.43 305.55,200.05 305.2,200.37 304.85,200.04 304.5,200.08 304.15,200.51 303.8,199.98 303.45,200.32 303.1,200.35 302.75,200.01 302.4,199.96 302.05,200.35 301.7,199.96" fill="#0a72d0"/><polygon points="347.7,181.09 348.05,181.09 348.4,181.56 348.75,181.71 349.1,181.56 349.45,181.39 349.8,181.26 350.15,181.41 350.5,181.79 350.85,181.42 351.2,181.71 351.55,181.72 351.9,181.92 352.25,181.94 352.6,181.81 352.95,181.49 353.3,182.02 353.65,181.54 354,181.97 354.35,181.58 354.7,181.63 355.05,181.62 355.4,182.17 355.75,181.71 356.1,182.02 356.45,182.13 356.8,182.11 357.15,182.09 357.5,182.13 357.85,181.81 358.2,182.33 358.55,181.95 358.9,182.36 359.25,181.98 359.6,182.14 359.95,182.31 360.3,182.5 360.65,182.43 361,182.57 361.35,182.37 361.7,182.23 362.05,182.11 362.4,182.41 362.75,182.33 363.1,182.39 363.45,182.53 363.8,182.71 364.15,182.26 364.5,182.65 364.85,182.68 365.2,182.45 365.55,182.63 365.9,182.62 366.25,182.82 366.6,182.82 366.95,181.73 367.3,182.47 367.65,182.58 368,182.9 368.35,182.62 368.7,182.57 369.05,182.88 369.4,183.09 369.75,183.12 370.1,183.22 370.45,182.7 370.8,182.23 371.15,181.03 371.5,183.25 371.85,182.98 372.2,182.82 372.55,183.03 372.9,183.3 373.25,183.44 373.6,183.09 373.95,183.27 374.3,183.44 374.65,183.01 375,183.34 375.35,183.29 375.7,183.36 376.05,183.36 376.4,183.37 376.75,183.31 377.1,183.47 377.45,183.77 377.8,181.87 378.15,183.34 378.5,183.44 378.85,183.02 379.2,183.37 379.55,183.83 379.9,183.37 380.25,183.56 380.6,183.67 380.95,183.57 381.3,183.72 381.65,183.62 382,183.51 382.35,184.05 382.7,183.61 383.05,183.97 383.4,183.65 383.75,184.18 384.1,183.69 384.45,183.8 384.8,183.92 385.15,183.77 385.5,183.88 385.85,183.89 386.2,183.86 386.55,184.32 386.9,184.41 387.25,184.23 387.6,183.93 387.95,184 388.3,184.31 388.65,184.24 389,183.86 389.35,184.08 389.7,184.09 390.05,184.4 390.4,184.43 390.75,184.65 391.1,184.58 391.45,184.41 391.8,184.75 392.15,184.77 392.5,184.73 392.85,184.33 393.2,184.38 393.55,184.37 393.7,183.69 393.7,201.71 393.55,201.55 393.2,201.67 392.85,201.39 392.5,201.71 392.15,201.54 391.8,201.38 391.45,201.61 391.1,201.86 390.75,201.76 390.4,201.95 390.05,202.79 389.7,201.62 389.35,201.71 389,201.56 388.65,202.09 388.3,201.8 387.95,201.81 387.6,201.88 387.25,202.08 386.9,202.06 386.55,202.11 386.2,201.97 385.85,201.98 385.5,202.2 385.15,202.15 384.8,202.23 384.45,201.96 384.1,202.1 383.75,202.29 383.4,202.14 383.05,202.52 382.7,202.4 382.35,202.37 382,202.63 381.65,202.32 381.3,202.26 380.95,202.41 380.6,202.46 380.25,202.56 379.9,202.41 379.55,202.56 379.2,202.23 378.85,202.33 378.5,202.59 378.15,202.69 377.8,202.43 377.45,202.58 377.1,202.52 376.75,202.92 376.4,202.87 376.05,202.63 375.7,202.88 375.35,202.62 375,202.82 374.65,202.71 374.3,202.72 373.95,203.76 373.6,203.23 373.25,202.89 372.9,202.86 372.55,203.27 372.2,204.98 371.85,202.84 371.5,203.16 371.15,202.82 370.8,203.09 370.45,203.25 370.1,202.95 369.75,203.2 369.4,203.36 369.05,203.31 368.7,203.22 368.35,203.39 368,203.58 367.65,203.44 367.3,203.63 366.95,203.12 366.6,203.52 366.25,203.53 365.9,203.55 365.55,203.37 365.2,203.49 364.85,203.6 364.5,203.57 364.15,203.77 363.8,203.6 363.45,203.84 363.1,203.63 362.75,203.92 362.4,203.46 362.05,203.52 361.7,203.94 361.35,203.84 361,203.55 360.65,203.58 360.3,203.77 359.95,203.72 359.6,203.94 359.25,204.17 358.9,204.13 358.55,203.73 358.2,204.11 357.85,206.27 357.5,203.98 357.15,204.01 356.8,204.3 356.45,204.17 356.1,204.39 355.75,204.47 355.4,204.5 355.05,203.95 354.7,204.12 354.35,204.27 354,204.49 353.65,204.52 353.3,204.19 352.95,204.15 352.6,204.62 352.25,204.62 351.9,204.38 351.55,204.79 351.2,204.52 350.85,204.36 350.5,204.69 350.15,204.55 349.8,204.38 349.45,204.62 349.1,204.91 348.75,204.71 348.4,204.91 348.05,205.02 347.7,204.6" fill="#1c8dd2"/><polygon points="393.7,183.29 394.05,183.55 394.4,183.37 394.75,183.39 395.1,183.49 395.45,183.65 395.8,183.8 396.15,183.6 396.5,183.81 396.85,183.41 397.2,183.68 397.55,183.59 397.9,183.92 398.25,183.8 398.6,183.76 398.95,184.08 399.3,183.71 399.65,183.94 400,183.73 400.35,183.99 400.7,183.79 401.05,183.8 401.4,183.73 401.75,183.78 402.1,183.81 402.45,184.03 402.8,183.95 403.15,184.09 403.5,183.88 403.85,184.13 404.2,184.17 404.55,184.33 404.9,184.35 405.25,184.28 405.6,184 405.95,184.3 406.3,184.16 406.65,183.91 407,183.91 407.35,184.33 407.7,184 408.05,183.98 408.4,184.25 408.75,184.37 409.1,184.16 409.45,184.09 409.8,184.2 410.15,183.09 410.5,184.15 410.85,184.41 411.2,184.53 411.55,184.62 411.9,184.7 412.25,184.15 412.6,184.5 412.95,184.69 413.3,184.34 413.65,184.53 414,183.69 414.35,184.39 414.7,184.29 415.05,184.81 415.4,184.69 415.75,184.65 416.1,184.81 416.45,184.46 416.8,184.87 417.15,184.46 417.5,184.6 417.85,184.52 418.2,184.4 418.55,179.14 418.9,184.59 419.25,184.78 419.6,184.88 419.95,184.84 420.3,185.05 420.65,184.69 421,184.97 421.35,184.85 421.7,182.51 422.05,184.64 422.4,185.14 422.75,184.71 423.1,185.04 423.45,185.16 423.8,184.9 424.15,185.14 424.5,185.02 424.85,184.74 425.2,184.9 425.55,185.02 425.9,185.21 426.25,184.83 426.6,185.25 426.95,185.12 427.3,185.38 427.65,185.32 428,185.41 428.35,185.42 428.7,185.42 429.05,185.01 429.4,185.5 429.75,185.35 430.1,185.49 430.45,185.35 430.8,185.37 431.15,185.47 431.5,185.63 431.85,185.31 432.2,185.36 432.55,185.27 432.9,185.27 433.25,185.19 433.6,185.59 433.95,185.17 434.3,185.49 434.65,185.34 435,185.75 435.35,185.81 435.7,185.78 436.05,185.53 436.4,185.73 436.75,185.4 437.1,185.5 437.45,185.55 437.8,185.4 438.15,185.46 438.5,185.53 438.85,185.63 439.2,185.91 439.55,185.44 439.7,185.94 439.7,199.86 439.55,202.34 439.2,199.77 438.85,199.94 438.5,200.16 438.15,199.64 437.8,199.67 437.45,200.04 437.1,200.05 436.75,200.13 436.4,199.86 436.05,200.18 435.7,200.3 435.35,200.04 435,199.99 434.65,200.21 434.3,200 433.95,199.84 433.6,200.2 433.25,200.16 432.9,200.14 432.55,200.01 432.2,200.29 431.85,200.28 431.5,200.1 431.15,200.28 430.8,199.93 430.45,200.33 430.1,200.3 429.75,200.02 429.4,199.98 429.05,200.48 428.7,200.4 428.35,200.09 428,200.12 427.65,200.43 427.3,200.52 426.95,200.34 426.6,200.35 426.25,200.34 425.9,200.33 425.55,200.21 425.2,200.62 424.85,200.34 424.5,200.67 424.15,200.68 423.8,201.21 423.45,200.17 423.1,200.55 422.75,200.46 422.4,200.37 422.05,200.49 421.7,200.59 421.35,200.82 421,200.76 420.65,200.46 420.3,200.78 419.95,200.87 419.6,200.36 419.25,200.59 418.9,200.62 418.55,200.38 418.2,200.87 417.85,200.6 417.5,200.55 417.15,200.45 416.8,200.68 416.45,200.55 416.1,200.95 415.75,200.91 415.4,200.76 415.05,201.04 414.7,200.52 414.35,200.49 414,202.48 413.65,201.07 413.3,200.66 412.95,200.9 412.6,200.71 412.25,202.77 411.9,200.76 411.55,203.09 411.2,200.75 410.85,201.05 410.5,201.12 410.15,201 409.8,201.19 409.45,201.16 409.1,200.68 408.75,200.75 408.4,200.97 408.05,201.28 407.7,201.3 407.35,201.2 407,201.29 406.65,201.01 406.3,200.87 405.95,201.25 405.6,201.19 405.25,200.89 404.9,201.14 404.55,200.94 404.2,200.91 403.85,200.91 403.5,201.45 403.15,200.93 402.8,201.04 402.45,201.16 402.1,201.06 401.75,201.11 401.4,201.48 401.05,201.12 400.7,201.11 400.35,201.31 400,201.5 399.65,201.44 399.3,201.34 398.95,201.56 398.6,201.45 398.25,201.54 397.9,207.37 397.55,201.52 397.2,201.32 396.85,201.6 396.5,201.16 396.15,201.12 395.8,201.69 395.45,201.33 395.1,209.74 394.75,201.35 394.4,201.39 394.05,201.69 393.7,203.36" fill="#1c8dd2"/><polygon points="439.7,182.16 440.05,182.74 440.4,182.51 440.75,182.55 441.1,182.74 441.45,182.27 441.8,182.68 442.15,182.27 442.5,182.15 442.85,182.51 443.2,182.32 443.55,182.62 443.9,182.56 444.25,182.26 444.6,182.5 444.95,182.26 445.3,182.39 445.65,182.73 446,182.58 446.35,182.16 446.7,182.73 447.05,182.62 447.4,182.34 447.75,182.39 448.1,182.16 448.45,182.31 448.8,182.6 449.15,182.63 449.5,182.69 449.85,182.34 450.2,182.6 450.55,181.29 450.9,182.17 451.25,179.06 451.6,182.42 451.95,182.47 452.3,182.58 452.65,182.53 453,182.66 453.35,177.62 453.7,182.62 454.05,182.42 454.4,179.32 454.75,182.73 455.1,182.3 455.45,182.73 455.8,182.57 456.15,182.63 456.5,182.45 456.85,182.29 457.2,182.47 457.55,182.35 457.9,182.35 458.25,182.28 458.6,182.75 458.95,182.74 459.3,182.3 459.65,182.24 460,182.44 460.35,182.58 460.7,182.52 461.05,182.45 461.4,182.32 461.75,182.18 462.1,182.71 462.45,182.42 462.8,182.21 463.15,182.18 463.5,182.67 463.85,182.53 464.2,182.38 464.55,182.41 464.9,182.25 465.25,182.69 465.6,182.22 465.95,179.12 466.3,182.28 466.65,182.72 467,182.72 467.35,182.63 467.7,182.24 468.05,182.49 468.4,182.46 468.75,182.55 469.1,182.17 469.45,182.71 469.8,182.6 470.15,180.93 470.5,182.37 470.85,182.47 471.2,182.26 471.55,182.51 471.9,182.73 472.25,182.73 472.6,182.37 472.95,182.47 473.3,182.48 473.65,182.28 474,182.67 474.35,182.55 474.7,182.38 475.05,182.21 475.4,182.68 475.75,182.33 476.1,181.19 476.45,182.26 476.8,182.16 477.15,182.52 477.5,182.42 477.85,182.62 478.2,182.46 478.55,182.73 478.9,182.33 479.25,181.14 479.6,182.35 479.95,182.4 480.3,182.51 480.65,182.18 481,182.36 481.35,182.57 481.7,182.53 482.05,182.24 482.4,182.51 482.75,182.64 483.1,182.49 483.45,182.27 483.8,182.56 484.15,182.47 484.5,182.27 484.85,182.34 485.2,182.09 485.55,182.51 485.7,182.41 485.7,204.61 485.55,210.44 485.2,204.45 484.85,204.63 484.5,204.71 484.15,204.78 483.8,204.5 483.45,204.59 483.1,204.45 482.75,204.29 482.4,204.67 482.05,204.52 481.7,204.51 481.35,206.51 481,204.64 480.65,204.84 480.3,205.34 479.95,204.83 479.6,204.35 479.25,204.82 478.9,206.9 478.55,204.75 478.2,204.52 477.85,204.56 477.5,204.68 477.15,204.52 476.8,204.4 476.45,204.43 476.1,204.84 475.75,204.67 475.4,204.31 475.05,204.81 474.7,204.55 474.35,204.77 474,204.72 473.65,204.73 473.3,204.52 472.95,204.69 472.6,204.37 472.25,204.32 471.9,204.66 471.55,204.79 471.2,204.46 470.85,204.6 470.5,204.65 470.15,204.72 469.8,204.6 469.45,204.76 469.1,204.35 468.75,204.46 468.4,204.31 468.05,204.51 467.7,204.58 467.35,204.73 467,204.29 466.65,205.46 466.3,204.67 465.95,204.66 465.6,204.41 465.25,204.44 464.9,204.71 464.55,204.61 464.2,204.3 463.85,204.46 463.5,204.79 463.15,204.5 462.8,204.76 462.45,207.19 462.1,204.49 461.75,204.39 461.4,204.46 461.05,204.52 460.7,204.66 460.35,204.71 460,204.76 459.65,206.02 459.3,204.7 458.95,204.84 458.6,204.76 458.25,204.67 457.9,204.74 457.55,204.52 457.2,204.81 456.85,204.79 456.5,204.82 456.15,204.54 455.8,204.88 455.45,204.76 455.1,204.83 454.75,204.76 454.4,204.87 454.05,204.76 453.7,204.3 453.35,204.65 453,204.57 452.65,204.55 452.3,204.3 451.95,204.59 451.6,204.29 451.25,204.49 450.9,204.64 450.55,204.34 450.2,204.64 449.85,204.41 449.5,204.87 449.15,204.59 448.8,204.87 448.45,204.54 448.1,204.81 447.75,206.13 447.4,204.78 447.05,204.42 446.7,204.55 446.35,204.42 446,207.09 445.65,204.31 445.3,204.34 444.95,204.83 444.6,204.8 444.25,204.51 443.9,204.49 443.55,204.68 443.2,204.76 442.85,204.35 442.5,204.46 442.15,204.86 441.8,204.35 441.45,204.55 441.1,204.39 440.75,206.17 440.4,204.84 440.05,204.61 439.7,204.55" fill="#0a72d0"/><polygon points="301.7,188.85 302.05,189.14 302.4,188.95 302.75,188.98 303.1,189.05 303.45,188.69 303.8,189.17 304.15,188.74 304.5,188.94 304.85,188.97 305.2,189.18 305.55,189.18 305.9,189.23 306.25,188.99 306.6,189.19 306.95,188.78 307.3,188.99 307.65,189.23 308,188.95 308.35,189.18 308.7,188.92 309.05,188.85 309.4,189.02 309.75,189.23 310.1,189.01 310.45,188.95 310.8,189.17 311.15,189.11 311.5,189.2 311.85,189.14 312.2,189.19 312.55,188.97 312.9,189.28 313.25,189.28 313.6,188.93 313.95,189.26 314.3,188.93 314.65,189.27 315,189.23 315.35,189.11 315.7,189.19 316.05,188.89 316.4,188.88 316.75,188.81 317.1,189.18 317.45,189.03 317.8,189.06 318.15,189 318.5,189.19 318.85,189.04 319.2,189.16 319.55,189.17 319.9,188.71 320.25,188.69 320.6,189.26 320.95,188.97 321.3,188.69 321.65,189.24 322,188.95 322.35,188.84 322.7,188.74 323.05,188.93 323.4,189.2 323.75,189.17 324.1,189.25 324.45,189.03 324.8,189.09 325.15,188.73 325.5,189.13 325.85,189.2 326.2,188.84 326.55,189.23 326.9,189.05 327.25,189.13 327.6,189.01 327.95,189.22 328.3,189.09 328.65,189.26 329,189.12 329.35,188.81 329.7,187.36 330.05,188.73 330.4,188.8 330.75,188.71 331.1,189.11 331.45,189.11 331.8,188.79 332.15,188.96 332.5,189.01 332.85,189.17 333.2,188.87 333.55,189.26 333.9,189.21 334.25,188.84 334.6,189.03 334.95,189.23 335.3,188.79 335.65,188.9 336,189 336.35,188.79 336.7,189.09 337.05,188.89 337.4,188.9 337.75,188.84 338.1,189.16 338.45,189.15 338.8,189.08 339.15,188.97 339.5,188.79 339.85,187.9 340.2,188.96 340.55,188.75 340.9,188.79 341.25,188.9 341.6,188.78 341.95,189.2 342.3,189.11 342.65,188.98 343,189.18 343.35,189.04 343.7,188.75 344.05,188.94 344.4,189.19 344.75,189.1 345.1,189.1 345.45,189.07 345.8,189.02 346.15,189.24 346.5,189.21 346.85,189.13 347.2,188.74 347.55,188.74 347.7,189.18 347.7,196.95 347.55,197.03 347.2,196.74 346.85,196.77 346.5,196.72 346.15,196.74 345.8,197.23 345.45,196.67 345.1,197.09 344.75,197.19 344.4,198.28 344.05,197.26 343.7,197.1 343.35,197.03 343,196.69 342.65,197.18 342.3,196.86 341.95,196.87 341.6,197.2 341.25,197.24 340.9,196.72 340.55,197.12 340.2,197.07 339.85,197.06 339.5,196.97 339.15,196.69 338.8,197.03 338.45,197.22 338.1,197 337.75,196.71 337.4,197.19 337.05,197.14 336.7,196.93 336.35,196.87 336,196.98 335.65,196.93 335.3,197.18 334.95,197.17 334.6,196.96 334.25,196.98 333.9,196.87 333.55,197.13 333.2,196.82 332.85,197.06 332.5,197.05 332.15,197.16 331.8,196.89 331.45,196.97 331.1,197.18 330.75,197.19 330.4,197.21 330.05,197.11 329.7,197.26 329.35,196.83 329,197.04 328.65,196.93 328.3,196.9 327.95,197.08 327.6,197.16 327.25,197.69 326.9,196.9 326.55,196.84 326.2,198.49 325.85,196.94 325.5,199.81 325.15,197.02 324.8,197.86 324.45,197.83 324.1,196.92 323.75,197.22 323.4,196.86 323.05,197 322.7,197.16 322.35,197.23 322,196.81 321.65,196.76 321.3,196.75 320.95,196.77 320.6,197.56 320.25,197.04 319.9,197.17 319.55,197.19 319.2,196.71 318.85,196.88 318.5,196.72 318.15,196.75 317.8,197.26 317.45,196.76 317.1,196.82 316.75,196.94 316.4,196.68 316.05,197.07 315.7,196.97 315.35,197.22 315,197.04 314.65,197.08 314.3,197.11 313.95,197.05 313.6,197.17 313.25,197.11 312.9,197.26 312.55,196.9 312.2,196.94 311.85,197.28 311.5,196.7 311.15,197.1 310.8,196.74 310.45,197.1 310.1,197.26 309.75,197 309.4,196.76 309.05,197.03 308.7,196.97 308.35,197.26 308,197.2 307.65,196.92 307.3,197.14 306.95,197.21 306.6,197.27 306.25,197.21 305.9,196.88 305.55,196.87 305.2,197.23 304.85,197.26 304.5,197.06 304.15,196.98 303.8,197.2 303.45,197.07 303.1,196.7 302.75,196.83 302.4,197.18 302.05,196.9 301.7,197.12" fill="#ff560a"/><polygon points="347.7,183.1 348.05,184.17 348.4,184.1 348.75,184.43 349.1,184.72 349.45,185.13 349.8,185.31 350.15,185.75 350.5,185.94 350.85,186.06 351.2,186.37 351.55,186.56 351.9,186.7 352.25,186.38 352.6,186.72 352.95,186.83 353.3,186.68 353.65,186.92 354,186.87 354.35,187.01 354.7,187.11 355.05,187.64 355.4,187.3 355.75,187.63 356.1,187.42 356.45,187.29 356.8,187.67 357.15,187.82 357.5,187.9 357.85,187.53 358.2,187.72 358.55,187.88 358.9,188.09 359.25,188.1 359.6,187.74 359.95,187.84 360.3,188.2 360.65,187.72 361,188.2 361.35,188.15 361.7,187.47 362.05,188.15 362.4,188.34 362.75,187.76 363.1,188.03 363.45,188.24 363.8,188.31 364.15,188.26 364.5,187.92 364.85,187.91 365.2,188.39 365.55,188.37 365.9,188.26 366.25,188.45 366.6,188.36 366.95,188.34 367.3,188.2 367.65,188.38 368,188.1 368.35,188.18 368.7,188.36 369.05,187.98 369.4,188.17 369.75,188.28 370.1,188.11 370.45,188.45 370.8,188.02 371.15,188.39 371.5,188.43 371.85,188.17 372.2,188.44 372.55,188.25 372.9,188.21 373.25,188.27 373.6,188.17 373.95,188.21 374.3,188.12 374.65,188.34 375,188.49 375.35,188.26 375.7,188.1 376.05,187.99 376.4,188.31 376.75,188.35 377.1,187.99 377.45,188.41 377.8,188.21 378.15,188.17 378.5,188.42 378.85,188.51 379.2,188.23 379.55,187.97 379.9,188.08 380.25,188.26 380.6,188.18 380.95,188.11 381.3,188.01 381.65,188.17 382,188.5 382.35,188.28 382.7,188.28 383.05,188.43 383.4,188.2 383.75,188.44 384.1,188.06 384.45,188.27 384.8,188.06 385.15,188 385.5,188.21 385.85,187.98 386.2,188.39 386.55,188.46 386.9,187.73 387.25,188.34 387.6,188.32 387.95,188.54 388.3,188.11 388.65,188.35 389,187.61 389.35,188.38 389.7,188.03 390.05,188.44 390.4,188.21 390.75,188.45 391.1,188.25 391.45,188.4 391.8,188.52 392.15,188.11 392.5,188.12 392.85,188.27 393.2,188.3 393.55,188.3 393.7,188 393.7,198.6 393.55,198.88 393.2,198.56 392.85,198.88 392.5,198.53 392.15,198.85 391.8,198.63 391.45,198.52 391.1,198.87 390.75,199.08 390.4,199.01 390.05,199.38 389.7,198.92 389.35,198.77 389,198.81 388.65,198.5 388.3,199.16 387.95,199.02 387.6,198.73 387.25,199.05 386.9,198.64 386.55,198.89 386.2,198.67 385.85,198.76 385.5,198.72 385.15,198.87 384.8,198.78 384.45,198.63 384.1,198.71 383.75,198.63 383.4,198.69 383.05,198.73 382.7,198.54 382.35,198.48 382,198.95 381.65,198.56 381.3,199.73 380.95,198.5 380.6,198.91 380.25,198.77 379.9,198.67 379.55,198.68 379.2,199.05 378.85,198.78 378.5,199.14 378.15,198.83 377.8,198.71 377.45,198.58 377.1,198.57 376.75,198.85 376.4,198.84 376.05,198.85 375.7,199.1 375.35,199.21 375,199.02 374.65,198.55 374.3,198.82 373.95,198.86 373.6,198.69 373.25,199.02 372.9,199.67 372.55,198.79 372.2,200.81 371.85,198.78 371.5,198.95 371.15,198.91 370.8,198.65 370.45,198.57 370.1,198.75 369.75,198.81 369.4,199.03 369.05,198.91 368.7,199 368.35,199.52 368,198.85 367.65,199.05 367.3,198.93 366.95,198.58 366.6,198.8 366.25,199.04 365.9,199.1 365.55,198.96 365.2,198.97 364.85,198.78 364.5,198.6 364.15,198.72 363.8,199.13 363.45,198.97 363.1,199.15 362.75,199.15 362.4,199.1 362.05,198.98 361.7,199.16 361.35,199.1 361,198.8 360.65,199.19 360.3,198.93 359.95,201.46 359.6,199.75 359.25,199.19 358.9,199.19 358.55,199.1 358.2,199.09 357.85,199.02 357.5,199.02 357.15,199.2 356.8,199.42 356.45,199.23 356.1,200.02 355.75,199.38 355.4,199.53 355.05,199.46 354.7,199.17 354.35,199.19 354,199.4 353.65,199.35 353.3,199.83 352.95,199.34 352.6,199.42 352.25,199.58 351.9,199.53 351.55,199.62 351.2,199.76 350.85,199.79 350.5,199.97 350.15,200.38 349.8,200.16 349.45,200.77 349.1,201.68 348.75,200.73 348.4,200.73 348.05,201.01 347.7,201.48" fill="#ff560a"/><polygon points="393.7,184.94 394.05,185.07 394.4,185.28 394.75,185.63 395.1,185.54 395.45,186.05 395.8,186.01 396.15,186.3 396.5,186.25 396.85,186.46 397.2,186.55 397.55,186.67 397.9,186.79 398.25,186.86 398.6,185.92 398.95,186.8 399.3,187.11 399.65,187.22 400,187.17 400.35,187.08 400.7,187.36 401.05,187.29 401.4,187.4 401.75,187.34 402.1,187.82 402.45,187.32 402.8,187.84 403.15,187.93 403.5,186.6 403.85,187.98 404.2,187.75 404.55,186.29 404.9,187.74 405.25,188 405.6,187.65 405.95,187.85 406.3,188.06 406.65,187.98 407,188.11 407.35,188.08 407.7,188.24 408.05,188.03 408.4,188.01 408.75,188.11 409.1,187.94 409.45,188 409.8,188.09 410.15,187.94 410.5,186.91 410.85,188.36 411.2,188.18 411.55,188 411.9,188.34 412.25,188.15 412.6,188.25 412.95,188.26 413.3,188.29 413.65,188.59 414,188.5 414.35,188.62 414.7,188.25 415.05,188.14 415.4,188.49 415.75,188.21 416.1,188.19 416.45,188.28 416.8,188.08 417.15,188.33 417.5,188.33 417.85,188.19 418.2,188.38 418.55,185.61 418.9,187.71 419.25,188.62 419.6,188.56 419.95,188.32 420.3,188.33 420.65,188.62 421,188.45 421.35,188.13 421.7,188.39 422.05,188.13 422.4,188.2 422.75,188.22 423.1,188.58 423.45,188.56 423.8,188.69 424.15,188.16 424.5,188.45 424.85,188.65 425.2,188.54 425.55,188.21 425.9,188.41 426.25,188.69 426.6,188.61 426.95,188.57 427.3,187.48 427.65,188.58 428,188.59 428.35,188.38 428.7,188.67 429.05,188.35 429.4,188.3 429.75,188.34 430.1,188.52 430.45,188.28 430.8,188.59 431.15,188.25 431.5,188.13 431.85,188.65 432.2,188.52 432.55,188.26 432.9,188.23 433.25,188.68 433.6,188.27 433.95,186.32 434.3,188.71 434.65,188.17 435,188.3 435.35,188.42 435.7,188.2 436.05,188.51 436.4,188.32 436.75,188.2 437.1,188.56 437.45,188.6 437.8,188.35 438.15,188.38 438.5,188.6 438.85,188.58 439.2,188.53 439.55,188.43 439.7,188.26 439.7,198.31 439.55,198.14 439.2,198.16 438.85,198.05 438.5,198.53 438.15,198.24 437.8,198.37 437.45,198.28 437.1,198.23 436.75,198.49 436.4,198 436.05,198.23 435.7,197.99 435.35,198.19 435,198.27 434.65,197.97 434.3,198.38 433.95,198.33 433.6,198.13 433.25,198.1 432.9,198.61 432.55,198.37 432.2,198.49 431.85,198.04 431.5,198.3 431.15,198.42 430.8,198.26 430.45,198.46 430.1,198.47 429.75,198.36 429.4,198.19 429.05,198.07 428.7,200.38 428.35,198.43 428,198.37 427.65,198.41 427.3,198.44 426.95,198.53 426.6,198.35 426.25,198.01 425.9,197.96 425.55,198.16 425.2,198.29 424.85,198.44 424.5,198.43 424.15,197.97 423.8,198.16 423.45,198.44 423.1,198.12 422.75,198.46 422.4,198.31 422.05,198.4 421.7,198.51 421.35,198.06 421,198.4 420.65,198.11 420.3,198.34 419.95,198.24 419.6,198.43 419.25,198.48 418.9,198.18 418.55,198.57 418.2,198.42 417.85,198.17 417.5,198.17 417.15,198.36 416.8,198.53 416.45,198.51 416.1,198.14 415.75,198.52 415.4,198.13 415.05,198.18 414.7,198.37 414.35,198.48 414,198.49 413.65,198.54 413.3,198.17 412.95,198.38 412.6,198.3 412.25,198.04 411.9,198.15 411.55,198.62 411.2,198.61 410.85,198.3 410.5,198.61 410.15,198.54 409.8,198.66 409.45,198.09 409.1,198.27 408.75,198.25 408.4,198.47 408.05,198.58 407.7,198.45 407.35,198.17 407,198.62 406.65,198.75 406.3,198.67 405.95,201.05 405.6,198.49 405.25,198.81 404.9,198.48 404.55,199.78 404.2,198.45 403.85,198.61 403.5,198.83 403.15,198.97 402.8,198.75 402.45,198.66 402.1,199 401.75,198.56 401.4,198.54 401.05,198.71 400.7,198.79 400.35,198.67 400,199.08 399.65,199.16 399.3,199.59 398.95,199.25 398.6,198.97 398.25,199.17 397.9,199.76 397.55,199.48 397.2,199.11 396.85,199.68 396.5,199.74 396.15,199.29 395.8,199.59 395.45,199.5 395.1,199.75 394.75,199.95 394.4,200.06 394.05,200.15 393.7,200.06" fill="#ff560a"/><polygon points="439.7,184.81 440.05,184.75 440.4,184.65 440.75,184.51 441.1,184.68 441.45,185.11 441.8,184.95 442.15,184.68 442.5,184.52 442.85,185.04 443.2,184.55 443.55,184.71 443.9,184.81 444.25,184.69 444.6,184.63 444.95,184.81 445.3,184.88 445.65,183.41 446,184.57 446.35,185.11 446.7,184.74 447.05,184.92 447.4,184.61 447.75,184.83 448.1,184.9 448.45,184.59 448.8,184.82 449.15,184.79 449.5,184.67 449.85,184.93 450.2,185.05 450.55,184.53 450.9,184.53 451.25,184.96 451.6,184.85 451.95,184.7 452.3,184.79 452.65,184.73 453,184.68 453.35,184.97 453.7,184.99 454.05,184.84 454.4,184.81 454.75,184.69 455.1,184.64 455.45,184.84 455.8,184.94 456.15,184.57 456.5,184.92 456.85,184.91 457.2,184.57 457.55,185.06 457.9,185.05 458.25,184.69 458.6,184.96 458.95,184.54 459.3,184.49 459.65,184.68 460,184.94 460.35,184.88 460.7,185.04 461.05,184.87 461.4,184.79 461.75,184.62 462.1,184.85 462.45,184.77 462.8,184.14 463.15,184.58 463.5,184.63 463.85,184.97 464.2,185.01 464.55,184.11 464.9,184.58 465.25,184.91 465.6,185.09 465.95,184.97 466.3,185 466.65,184.91 467,184.56 467.35,184.82 467.7,184.99 468.05,184.9 468.4,184.61 468.75,184.68 469.1,185.04 469.45,184.64 469.8,184.75 470.15,185.01 470.5,184.75 470.85,185.08 471.2,184.65 471.55,184.67 471.9,184.6 472.25,184.6 472.6,185.1 472.95,184.99 473.3,184.19 473.65,184.67 474,184.9 474.35,184.69 474.7,185 475.05,184.79 475.4,184.55 475.75,185.06 476.1,184.82 476.45,184.96 476.8,185.06 477.15,184.77 477.5,184.85 477.85,184.84 478.2,184.79 478.55,184.81 478.9,184.81 479.25,184.78 479.6,184.67 479.95,184.76 480.3,184.94 480.65,184.79 481,184.79 481.35,184.62 481.7,184.87 482.05,184.97 482.4,184.63 482.75,185.08 483.1,184.94 483.45,184.81 483.8,184.72 484.15,184.56 484.5,184.69 484.85,184.93 485.2,184.72 485.55,184.82 485.7,184.65 485.7,201.36 485.55,202.14 485.2,201.18 484.85,201.19 484.5,201.28 484.15,201.11 483.8,201.32 483.45,201.22 483.1,201.54 482.75,201.37 482.4,201.48 482.05,201.05 481.7,201.3 481.35,201.29 481,201.32 480.65,201.5 480.3,201.19 479.95,201.29 479.6,205.07 479.25,201.19 478.9,201.36 478.55,201.09 478.2,201.45 477.85,201.11 477.5,203.17 477.15,201.58 476.8,201.04 476.45,201.41 476.1,201.43 475.75,201.29 475.4,201.38 475.05,201.59 474.7,201.34 474.35,202 474,201.39 473.65,201.09 473.3,201.2 472.95,201.45 472.6,201.51 472.25,201.38 471.9,201.22 471.55,201.13 471.2,201.04 470.85,201.03 470.5,201.2 470.15,201.18 469.8,201.07 469.45,201.08 469.1,201.47 468.75,201.16 468.4,201.33 468.05,201.1 467.7,201.24 467.35,201.2 467,201.37 466.65,201.28 466.3,201.37 465.95,201.38 465.6,201.1 465.25,202.01 464.9,201.53 464.55,201.14 464.2,201.42 463.85,201.58 463.5,201.15 463.15,201.04 462.8,201.57 462.45,201.37 462.1,201.53 461.75,201.22 461.4,201.17 461.05,201.26 460.7,201.38 460.35,201.45 460,201.53 459.65,201.41 459.3,201.06 458.95,201.47 458.6,201.46 458.25,201.18 457.9,201.45 457.55,201.61 457.2,201.53 456.85,201.43 456.5,201.27 456.15,201.36 455.8,202.82 455.45,201.18 455.1,201.38 454.75,201.2 454.4,201.47 454.05,201.11 453.7,204.08 453.35,201.38 453,201.12 452.65,201.07 452.3,201.13 451.95,201.58 451.6,201.34 451.25,201.22 450.9,201.38 450.55,201.1 450.2,201.88 449.85,201.58 449.5,201.17 449.15,201.12 448.8,201.09 448.45,202.39 448.1,202.04 447.75,201.19 447.4,201.11 447.05,201.35 446.7,201.18 446.35,201.35 446,201.14 445.65,201.28 445.3,201.51 444.95,201.34 444.6,201.04 444.25,203.87 443.9,201.1 443.55,201.02 443.2,201.22 442.85,201.25 442.5,201.1 442.15,201.06 441.8,201.64 441.45,201.23 441.1,201.15 440.75,201.05 440.4,201.07 440.05,201.5 439.7,201.17" fill="#ff560a"/><polygon points="301.7,190.8 302.05,190.97 302.4,190.88 302.75,190.91 303.1,190.88 303.45,190.92 303.8,190.96 304.15,191.03 304.5,190.99 304.85,190.76 305.2,190.75 305.55,190.92 305.9,191.14 306.25,190.78 306.6,191.17 306.95,190.86 307.3,190.85 307.65,190.79 308,190.78 308.35,190.91 308.7,191.12 309.05,191.11 309.4,191.02 309.75,190.9 310.1,190.92 310.45,189.61 310.8,190.94 311.15,191.13 311.5,190.88 311.85,191.09 312.2,190.9 312.55,190.59 312.9,191.13 313.25,191.22 313.6,191.18 313.95,191.22 314.3,191 314.65,191.05 315,191.17 315.35,191.1 315.7,190.96 316.05,191.13 316.4,190.9 316.75,190.82 317.1,191.19 317.45,190.82 317.8,191.1 318.15,191.2 318.5,190.89 318.85,191.16 319.2,190.92 319.55,191.11 319.9,190.89 320.25,190.75 320.6,191.06 320.95,191.09 321.3,190.96 321.65,190.74 322,191.1 322.35,191.04 322.7,191.17 323.05,191.09 323.4,190.74 323.75,191.1 324.1,191.13 324.45,191.17 324.8,191.02 325.15,190.91 325.5,191.23 325.85,190.9 326.2,190.3 326.55,190.97 326.9,190.92 327.25,191.07 327.6,190.88 327.95,190.98 328.3,191.03 328.65,190.94 329,190.77 329.35,190.78 329.7,191.01 330.05,190.75 330.4,190.74 330.75,190.81 331.1,191.11 331.45,191.2 331.8,191.23 332.15,190.82 332.5,191.1 332.85,190.92 333.2,188.03 333.55,191 333.9,190.99 334.25,191.16 334.6,190.9 334.95,190.88 335.3,190.82 335.65,190.95 336,188.79 336.35,190.81 336.7,191.13 337.05,190.82 337.4,191 337.75,191.22 338.1,190.99 338.45,191.02 338.8,190.99 339.15,190.91 339.5,191.02 339.85,190.82 340.2,190.8 340.55,191.12 340.9,191.1 341.25,191.06 341.6,191.05 341.95,191.19 342.3,190.97 342.65,190.98 343,190.95 343.35,190.89 343.7,191.13 344.05,191.14 344.4,190.72 344.75,190.86 345.1,191.03 345.45,191.1 345.8,190.74 346.15,190.75 346.5,191.18 346.85,190.96 347.2,191.06 347.55,190.83 347.7,191.04 347.7,194.29 347.55,194.1 347.2,194.2 346.85,194.27 346.5,194.04 346.15,194.07 345.8,194.43 345.45,194.28 345.1,194.49 344.75,194.49 344.4,194.32 344.05,194 343.7,194.4 343.35,194.04 343,194.46 342.65,194.22 342.3,194.54 341.95,196.14 341.6,194.16 341.25,194.3 340.9,194.41 340.55,194.44 340.2,194.08 339.85,194.12 339.5,194.31 339.15,194.2 338.8,194.41 338.45,194.18 338.1,194.14 337.75,194.22 337.4,194.45 337.05,194.19 336.7,194.12 336.35,194.21 336,194.31 335.65,194 335.3,194.04 334.95,194.49 334.6,194.42 334.25,194.06 333.9,194.39 333.55,194.2 333.2,194.32 332.85,194.7 332.5,194.16 332.15,194.08 331.8,194.43 331.45,194.21 331.1,194.1 330.75,194.15 330.4,194.36 330.05,194.24 329.7,194.01 329.35,194.33 329,194.05 328.65,194.37 328.3,194.54 327.95,194.11 327.6,194.37 327.25,194.09 326.9,194.24 326.55,194.23 326.2,194.19 325.85,194.5 325.5,194.16 325.15,194.46 324.8,194.3 324.45,194.3 324.1,194.1 323.75,194.27 323.4,194.32 323.05,194.06 322.7,194.28 322.35,194.36 322,194.17 321.65,194.33 321.3,194.15 320.95,194.11 320.6,194.28 320.25,194.44 319.9,194.28 319.55,194.46 319.2,194.3 318.85,194.02 318.5,194.12 318.15,194.11 317.8,194.3 317.45,194.17 317.1,194.15 316.75,194.01 316.4,194.05 316.05,194.93 315.7,194.06 315.35,194.29 315,194.33 314.65,194.17 314.3,194.43 313.95,194.41 313.6,194.02 313.25,194.48 312.9,195.39 312.55,194.15 312.2,194.34 311.85,194.45 311.5,194.22 311.15,194.45 310.8,194.1 310.45,194.37 310.1,194.17 309.75,194.17 309.4,194.16 309.05,194.07 308.7,194.05 308.35,194.14 308,194.02 307.65,194.22 307.3,194.2 306.95,194.09 306.6,194.43 306.25,194.11 305.9,194.34 305.55,194.03 305.2,194.32 304.85,194.35 304.5,194.35 304.15,194.2 303.8,194.29 303.45,194.2 303.1,194.26 302.75,194.16 302.4,194.06 302.05,194.41 301.7,194.24" fill="#ffb304"/><polygon points="347.7,184.5 348.05,184.82 348.4,185.26 348.75,185.58 349.1,186.06 349.45,185.98 349.8,186.43 350.15,186.7 350.5,187.02 350.85,186.96 351.2,187.49 351.55,187.56 351.9,187.71 352.25,187.9 352.6,187.99 352.95,188.35 353.3,188.39 353.65,188.34 354,188.54 354.35,188.61 354.7,188.6 355.05,188.55 355.4,188.58 355.75,188.86 356.1,188.74 356.45,189.04 356.8,188.9 357.15,187.06 357.5,189.28 357.85,189.31 358.2,189.17 358.55,189.4 358.9,189.17 359.25,189.43 359.6,189.73 359.95,189.5 360.3,189.66 360.65,189.77 361,189.69 361.35,189.82 361.7,189.84 362.05,189.69 362.4,189.52 362.75,189.74 363.1,189.66 363.45,189.58 363.8,189.66 364.15,189.86 364.5,189.6 364.85,189.97 365.2,187.88 365.55,189.98 365.9,189.99 366.25,189.62 366.6,189.67 366.95,189.74 367.3,189.68 367.65,189.71 368,189.13 368.35,190.03 368.7,189.99 369.05,189.95 369.4,189.71 369.75,189.98 370.1,189.6 370.45,190.09 370.8,189.9 371.15,189.69 371.5,190.04 371.85,190.01 372.2,189.92 372.55,189.78 372.9,189.89 373.25,190.02 373.6,189.9 373.95,190.07 374.3,190.05 374.65,189.96 375,189.71 375.35,189.69 375.7,190.04 376.05,190.1 376.4,189.91 376.75,189.96 377.1,189.73 377.45,189.84 377.8,188.73 378.15,189.95 378.5,189.83 378.85,189.5 379.2,189.99 379.55,190.09 379.9,189.72 380.25,189.7 380.6,189.93 380.95,189.25 381.3,189.75 381.65,190.08 382,189.82 382.35,189.65 382.7,189.86 383.05,189.88 383.4,189.97 383.75,189.94 384.1,189.83 384.45,189.96 384.8,189.83 385.15,190.01 385.5,189.75 385.85,190.03 386.2,190.05 386.55,190.07 386.9,189.81 387.25,189.83 387.6,189.82 387.95,190.05 388.3,189.74 388.65,189.88 389,189.9 389.35,190.08 389.7,190.02 390.05,189.75 390.4,190.13 390.75,189.83 391.1,189.93 391.45,189.83 391.8,189.84 392.15,189.9 392.5,189.4 392.85,189.86 393.2,190 393.55,190.04 393.7,190.11 393.7,196.62 393.55,196.62 393.2,196.67 392.85,196.36 392.5,196.21 392.15,196.4 391.8,196.4 391.45,196.65 391.1,196.38 390.75,196.58 390.4,196.4 390.05,196.54 389.7,196.17 389.35,196.25 389,196.63 388.65,196.59 388.3,196.29 387.95,196.28 387.6,196.62 387.25,196.2 386.9,196.43 386.55,196.4 386.2,196.64 385.85,196.17 385.5,196.42 385.15,196.18 384.8,196.43 384.45,196.3 384.1,196.24 383.75,196.58 383.4,196.56 383.05,197.19 382.7,196.41 382.35,196.29 382,196.23 381.65,196.43 381.3,196.52 380.95,196.67 380.6,196.42 380.25,196.34 379.9,196.24 379.55,196.28 379.2,196.23 378.85,196.4 378.5,196.67 378.15,196.46 377.8,196.43 377.45,196.27 377.1,196.67 376.75,196.5 376.4,196.35 376.05,196.18 375.7,196.64 375.35,196.41 375,196.47 374.65,196.68 374.3,196.42 373.95,196.58 373.6,196.34 373.25,196.59 372.9,196.46 372.55,196.5 372.2,196.25 371.85,196.53 371.5,196.4 371.15,196.49 370.8,196.45 370.45,196.35 370.1,196.44 369.75,196.5 369.4,196.43 369.05,196.51 368.7,196.26 368.35,196.28 368,196.68 367.65,196.66 367.3,196.45 366.95,196.3 366.6,197.06 366.25,196.6 365.9,196.58 365.55,196.46 365.2,196.62 364.85,196.31 364.5,196.3 364.15,196.72 363.8,196.79 363.45,196.58 363.1,196.64 362.75,196.74 362.4,196.57 362.05,196.78 361.7,196.57 361.35,196.64 361,196.61 360.65,196.61 360.3,196.54 359.95,196.84 359.6,196.88 359.25,196.9 358.9,196.62 358.55,196.95 358.2,196.7 357.85,196.95 357.5,197.06 357.15,196.8 356.8,197.2 356.45,197.02 356.1,196.96 355.75,197.05 355.4,197.09 355.05,197.15 354.7,197.24 354.35,197.18 354,197.5 353.65,197.46 353.3,197.74 352.95,197.81 352.6,198.06 352.25,198.16 351.9,198.19 351.55,198.06 351.2,198.47 350.85,198.67 350.5,199.41 350.15,198.74 349.8,199.08 349.45,199.4 349.1,199.51 348.75,199.94 348.4,200.16 348.05,200.41 347.7,200.49" fill="#ffb304"/><polygon points="393.7,185.57 394.05,186.11 394.4,185.99 394.75,186.14 395.1,186.32 395.45,186.92 395.8,187.14 396.15,186.98 396.5,187.33 396.85,184.6 397.2,187.62 397.55,187.54 397.9,187.98 398.25,187.92 398.6,188.03 398.95,188.04 399.3,188.05 399.65,188.5 400,188.42 400.35,188.44 400.7,188.71 401.05,188.5 401.4,188.75 401.75,188.55 402.1,189.07 402.45,189.02 402.8,189.11 403.15,189.24 403.5,189.1 403.85,189.05 404.2,189.09 404.55,189.26 404.9,189.19 405.25,189.15 405.6,189.19 405.95,189.18 406.3,189.17 406.65,189.57 407,189.18 407.35,188.65 407.7,189.52 408.05,188.96 408.4,189.57 408.75,189.53 409.1,189.35 409.45,189.56 409.8,189.8 410.15,189.64 410.5,189.42 410.85,189.67 411.2,189.48 411.55,189.86 411.9,189.72 412.25,189.7 412.6,189.83 412.95,189.74 413.3,189.78 413.65,189.84 414,189.74 414.35,189.78 414.7,189.91 415.05,189.79 415.4,189.72 415.75,189.9 416.1,189.73 416.45,189.59 416.8,189.96 417.15,189.67 417.5,190.05 417.85,189.61 418.2,189.89 418.55,189.84 418.9,189.77 419.25,189.78 419.6,189.79 419.95,189.61 420.3,190.05 420.65,189.39 421,189.73 421.35,190.02 421.7,189.62 422.05,190.01 422.4,189.76 422.75,190.07 423.1,190.02 423.45,189.85 423.8,189.92 424.15,189.83 424.5,189.68 424.85,189.73 425.2,189.88 425.55,189.94 425.9,189.62 426.25,190.04 426.6,189.96 426.95,189.99 427.3,190 427.65,190.08 428,189.95 428.35,190.12 428.7,189.69 429.05,189.93 429.4,189.88 429.75,189.86 430.1,189.68 430.45,189.99 430.8,189.92 431.15,187.9 431.5,189.98 431.85,189.73 432.2,189.88 432.55,189.85 432.9,189.89 433.25,190.02 433.6,190.05 433.95,189.8 434.3,190 434.65,189.68 435,189.75 435.35,190.06 435.7,190.02 436.05,189.71 436.4,188.46 436.75,190.06 437.1,189.88 437.45,189.69 437.8,189.93 438.15,189.68 438.5,189.72 438.85,188.17 439.2,190.1 439.55,190.13 439.7,189.66 439.7,196.14 439.55,196.36 439.2,196.33 438.85,196.29 438.5,196.17 438.15,196.12 437.8,196.44 437.45,196.42 437.1,196.47 436.75,196.32 436.4,196.36 436.05,196.14 435.7,196.24 435.35,196.12 435,198.35 434.65,196.28 434.3,196.01 433.95,196.42 433.6,196.05 433.25,196.26 432.9,196.42 432.55,196.38 432.2,196.18 431.85,196.24 431.5,196.39 431.15,196.35 430.8,196.03 430.45,196.13 430.1,196.48 429.75,196.28 429.4,196.45 429.05,196.06 428.7,196.39 428.35,196.38 428,196.32 427.65,196.49 427.3,196.11 426.95,196.49 426.6,196.96 426.25,196.05 425.9,196.02 425.55,196.43 425.2,196.23 424.85,196.47 424.5,198.33 424.15,196.12 423.8,196.3 423.45,196.23 423.1,196.05 422.75,196.44 422.4,196.4 422.05,196.26 421.7,196.42 421.35,196.47 421,196.2 420.65,196.32 420.3,196.29 419.95,196.42 419.6,196.4 419.25,196.26 418.9,196.1 418.55,196.64 418.2,196.39 417.85,196.15 417.5,196.42 417.15,196.52 416.8,196.49 416.45,196.24 416.1,196.28 415.75,196.14 415.4,196.48 415.05,196.55 414.7,196.41 414.35,196.25 414,196.19 413.65,196.62 413.3,196.18 412.95,196.47 412.6,196.3 412.25,196.23 411.9,196.45 411.55,196.43 411.2,196.19 410.85,196.69 410.5,196.28 410.15,196.59 409.8,196.42 409.45,196.65 409.1,196.27 408.75,196.28 408.4,196.46 408.05,196.54 407.7,196.41 407.35,196.6 407,196.53 406.65,196.64 406.3,196.53 405.95,196.55 405.6,196.7 405.25,196.59 404.9,196.57 404.55,196.96 404.2,196.97 403.85,196.66 403.5,197.11 403.15,196.93 402.8,196.87 402.45,196.94 402.1,197.13 401.75,197.31 401.4,197.43 401.05,197.39 400.7,197.38 400.35,197.4 400,198.05 399.65,197.63 399.3,197.48 398.95,197.64 398.6,197.67 398.25,198.03 397.9,198.05 397.55,197.9 397.2,198.18 396.85,198.39 396.5,198.07 396.15,198.31 395.8,198.33 395.45,198.74 395.1,198.89 394.75,198.96 394.4,199.27 394.05,200.04 393.7,199.52" fill="#ffb304"/><polygon points="439.7,185.31 440.05,185.66 440.4,185.57 440.75,185.22 441.1,185.17 441.45,185.36 441.8,185.58 442.15,185.69 442.5,185.55 442.85,185.69 443.2,185.38 443.55,185.69 443.9,185.4 444.25,185.45 444.6,185.68 444.95,185.39 445.3,185.27 445.65,185.41 446,185.64 446.35,185.49 446.7,185.31 447.05,185.67 447.4,185.41 447.75,185.49 448.1,185.56 448.45,185.62 448.8,184.22 449.15,185.56 449.5,185.28 449.85,185.33 450.2,185.45 450.55,185.54 450.9,185.36 451.25,185.5 451.6,185.65 451.95,185.38 452.3,185.54 452.65,185.53 453,185.38 453.35,185.26 453.7,185.27 454.05,185.64 454.4,185.54 454.75,185.49 455.1,185.23 455.45,185.44 455.8,185.66 456.15,185.5 456.5,185.23 456.85,185.65 457.2,185.56 457.55,184.96 457.9,185.23 458.25,185.28 458.6,185.47 458.95,185.6 459.3,185.45 459.65,185.58 460,184.47 460.35,185.47 460.7,185.44 461.05,185.43 461.4,185.34 461.75,185.54 462.1,185.6 462.45,185.48 462.8,185.43 463.15,185.48 463.5,185.67 463.85,185.43 464.2,185.2 464.55,185.55 464.9,185.3 465.25,185.5 465.6,185.34 465.95,185.62 466.3,185.66 466.65,185.4 467,185.25 467.35,185.44 467.7,185.38 468.05,185.35 468.4,185.5 468.75,185.31 469.1,185.21 469.45,185.35 469.8,185.47 470.15,185.2 470.5,185.23 470.85,185.23 471.2,185.65 471.55,185.22 471.9,185.28 472.25,185.55 472.6,185.56 472.95,185.43 473.3,185.52 473.65,185.33 474,185.42 474.35,185.66 474.7,185.59 475.05,185.1 475.4,185.35 475.75,185.49 476.1,185.31 476.45,185.58 476.8,185.38 477.15,185.67 477.5,185.54 477.85,185.27 478.2,185.4 478.55,185.52 478.9,185.38 479.25,185.48 479.6,185.58 479.95,185.56 480.3,185.64 480.65,185.63 481,185.24 481.35,185.48 481.7,184.5 482.05,185.58 482.4,185.59 482.75,185.59 483.1,185.59 483.45,185.61 483.8,183.15 484.15,185.38 484.5,185.28 484.85,185.26 485.2,185.27 485.55,185.64 485.7,185.48 485.7,200.4 485.55,200.39 485.2,200.45 484.85,201.01 484.5,200.82 484.15,200.45 483.8,200.43 483.45,200.45 483.1,200.37 482.75,200.63 482.4,200.36 482.05,200.49 481.7,201.94 481.35,200.61 481,200.62 480.65,200.82 480.3,200.49 479.95,200.38 479.6,200.73 479.25,200.37 478.9,200.59 478.55,200.4 478.2,200.41 477.85,200.47 477.5,200.71 477.15,200.38 476.8,200.35 476.45,200.59 476.1,200.48 475.75,200.53 475.4,200.45 475.05,200.46 474.7,200.4 474.35,200.8 474,200.69 473.65,200.39 473.3,200.79 472.95,200.6 472.6,200.73 472.25,200.55 471.9,200.66 471.55,200.36 471.2,200.65 470.85,200.69 470.5,200.45 470.15,200.36 469.8,200.45 469.45,200.63 469.1,200.47 468.75,200.75 468.4,200.72 468.05,200.53 467.7,201.62 467.35,200.45 467,200.5 466.65,200.66 466.3,200.41 465.95,202.63 465.6,200.79 465.25,202.35 464.9,200.37 464.55,200.43 464.2,200.77 463.85,200.4 463.5,200.55 463.15,200.42 462.8,200.52 462.45,200.71 462.1,200.66 461.75,200.77 461.4,200.61 461.05,200.53 460.7,200.53 460.35,200.64 460,200.41 459.65,200.78 459.3,200.38 458.95,200.45 458.6,200.75 458.25,200.75 457.9,200.48 457.55,200.68 457.2,200.78 456.85,200.48 456.5,200.72 456.15,200.62 455.8,200.57 455.45,200.63 455.1,201.52 454.75,200.41 454.4,200.81 454.05,200.45 453.7,200.8 453.35,201.02 453,200.49 452.65,200.66 452.3,200.77 451.95,200.5 451.6,200.7 451.25,200.81 450.9,200.37 450.55,200.83 450.2,200.52 449.85,200.43 449.5,200.65 449.15,200.49 448.8,200.41 448.45,200.69 448.1,200.4 447.75,200.64 447.4,200.82 447.05,200.49 446.7,200.48 446.35,200.63 446,200.72 445.65,200.79 445.3,200.44 444.95,200.52 444.6,200.63 444.25,200.48 443.9,200.83 443.55,200.68 443.2,200.45 442.85,200.8 442.5,200.38 442.15,200.38 441.8,200.81 441.45,200.8 441.1,200.47 440.75,200.68 440.4,200.6 440.05,200.62 439.7,200.61" fill="#ffb304"/></g><path d="M301.7 146.9h1.8M485.7 146.9h-1.8M301.7 169.57h1.8M485.7 169.57h-1.8M301.7 192.25h1.8M485.7 192.25h-1.8M301.7 214.93h1.8M485.7 214.93h-1.8M301.7 237.6h1.8M485.7 237.6h-1.8M301.7 237.6v-1.8M301.7 146.9v1.8M347.7 237.6v-1.8M347.7 146.9v1.8M393.7 237.6v-1.8M393.7 146.9v1.8M439.7 237.6v-1.8M439.7 146.9v1.8M485.7 237.6v-1.8M485.7 146.9v1.8" stroke="#5c5c5c" stroke-width="0.9" fill="none"/><rect x="301.7" y="146.9" width="184" height="90.7" fill="none" stroke="#5c5c5c" stroke-width="1.1"/><text x="299.1" y="150.7" font-size="9.7" text-anchor="end">250</text><text x="299.1" y="173.38" font-size="9.7" text-anchor="end">125</text><text x="299.1" y="196.05" font-size="9.7" text-anchor="end">0</text><text x="299.1" y="218.73" font-size="9.7" text-anchor="end">-125</text><text x="299.1" y="241.4" font-size="9.7" text-anchor="end">-250</text><text x="301.7" y="250" font-size="9.7" text-anchor="middle">0.2</text><text x="347.7" y="250" font-size="9.7" text-anchor="middle">0.5</text><text x="393.7" y="250" font-size="9.7" text-anchor="middle">0.8</text><text x="439.7" y="250" font-size="9.7" text-anchor="middle">1.1</text><text x="485.7" y="250" font-size="9.7" text-anchor="middle">1.4</text><rect x="405.4" y="150.7" width="76.6" height="24.6" fill="#fff" stroke="#5a5a5a" stroke-width="0.9"/><path d="M406.6 155.62H417.4" stroke="#6cbcec" stroke-width="1.15"/><text x="418.7" y="157.92" font-size="6.65" text-anchor="start" class="lg">PI-MRAS</text><path d="M406.6 163.25H417.4" stroke="#f6a084" stroke-width="1.15"/><text x="418.7" y="165.55" font-size="6.65" text-anchor="start" class="lg">FTSM-MRAS</text><path d="M406.6 170.87H417.4" stroke="#f7d27e" stroke-width="1.15"/><text x="418.7" y="173.17" font-size="6.65" text-anchor="start" class="lg">Adaptive STA-MRAS</text><text transform="translate(277,192.2) rotate(-90)" font-size="10.95" text-anchor="middle">Speed Error (rpm)</text><text x="393.9" y="262.8" font-size="10.7" text-anchor="middle">Time (s)</text><text x="393.9" y="274.4" font-size="10.7" text-anchor="middle">(d)</text><rect x="172.5" y="283.2" width="179.2" height="22.9" fill="#fff"/><path d="M217.3 283.2V306.1M262.1 283.2V306.1M306.9 283.2V306.1M172.5 302.28H351.7M172.5 294.65H351.7M172.5 287.02H351.7" stroke="#c2c2c2" stroke-width="0.8" fill="none"/><clipPath id="c7"><rect x="172.5" y="283.2" width="179.2" height="22.9"/></clipPath><g clip-path="url(#c7)"><path d="M172.5 294.65H217.3V287.02H262.1V294.65H306.9V302.28H351.7" stroke="#a033aa" stroke-width="1.4" fill="none"/></g><path d="M172.5 302.28h1.8M351.7 302.28h-1.8M172.5 294.65h1.8M351.7 294.65h-1.8M172.5 287.02h1.8M351.7 287.02h-1.8M172.5 306.1v-1.8M172.5 283.2v1.8M217.3 306.1v-1.8M217.3 283.2v1.8M262.1 306.1v-1.8M262.1 283.2v1.8M306.9 306.1v-1.8M306.9 283.2v1.8M351.7 306.1v-1.8M351.7 283.2v1.8" stroke="#5c5c5c" stroke-width="0.9" fill="none"/><rect x="172.5" y="283.2" width="179.2" height="22.9" fill="none" stroke="#5c5c5c" stroke-width="1.1"/><text x="169.9" y="306.08" font-size="9.7" text-anchor="end">0.9</text><text x="169.9" y="299.45" font-size="9.7" text-anchor="end">1</text><text x="169.9" y="290.82" font-size="9.7" text-anchor="end">1.1</text><rect x="172.5" y="312.5" width="179.2" height="87.9" fill="#fff"/><path d="M217.3 312.5V400.4M262.1 312.5V400.4M306.9 312.5V400.4M172.5 318.78H351.7M172.5 331.34H351.7M172.5 343.89H351.7M172.5 356.45H351.7M172.5 369.01H351.7M172.5 381.56H351.7M172.5 394.12H351.7" stroke="#c2c2c2" stroke-width="0.8" fill="none"/><clipPath id="c8"><rect x="172.5" y="312.5" width="179.2" height="87.9"/></clipPath><g clip-path="url(#c8)"><polygon points="172.5,354.68 172.85,354.73 173.2,354.74 173.55,354.68 173.9,354.62 174.25,354.69 174.6,354.66 174.95,354.6 175.3,354.79 175.65,354.63 176,354.6 176.35,354.77 176.7,354.71 177.05,354.64 177.4,354.74 177.75,354.7 178.1,354.65 178.45,354.78 178.8,354.73 179.15,354.66 179.5,354.76 179.85,354.74 180.2,354.72 180.55,354.77 180.9,354.69 181.25,354.7 181.6,354.6 181.95,354.73 182.3,354.76 182.65,354.63 183,354.67 183.35,354.67 183.7,354.61 184.05,354.77 184.4,354.7 184.75,354.78 185.1,354.66 185.45,354.6 185.8,354.27 186.15,354.77 186.5,354.71 186.85,354.78 187.2,354.6 187.55,354.6 187.9,354.61 188.25,354.76 188.6,354.77 188.95,354.64 189.3,354.69 189.65,354.7 190,354.73 190.35,354.77 190.7,354.69 191.05,354.67 191.4,354.65 191.75,354.74 192.1,354.75 192.45,354.72 192.8,354.65 193.15,354.64 193.5,354.75 193.85,354.67 194.2,354.73 194.55,354.6 194.9,354.74 195.25,354.72 195.6,354.75 195.95,354.62 196.3,354.6 196.65,354.61 197,354.64 197.35,354.71 197.7,354.67 198.05,354.73 198.4,354.79 198.75,354.72 199.1,354.67 199.45,354.61 199.8,354.71 200.15,354.62 200.5,354.77 200.85,354.77 201.2,354.62 201.55,354.63 201.9,354.76 202.25,354.62 202.6,354.65 202.95,354.73 203.3,354.73 203.65,354.65 204,354.66 204.35,354.78 204.7,354.74 205.05,354.65 205.4,354.65 205.75,354.6 206.1,354.68 206.45,354.63 206.8,354.67 207.15,354.62 207.5,354.69 207.85,354.71 208.2,354.71 208.55,354.71 208.9,354.69 209.25,354.67 209.6,354.59 209.95,354.79 210.3,354.69 210.65,354.78 211,354.67 211.35,354.67 211.7,354.66 212.05,354.68 212.4,354.77 212.75,354.65 213.1,354.72 213.45,354.74 213.8,354.74 214.15,354.71 214.5,354.75 214.85,354.49 215.2,354.65 215.55,354.68 215.9,354.78 216.25,354.7 216.6,354.28 216.95,354.7 217.3,354.75 217.65,354.76 218,354.73 218.35,354.77 218.7,354.65 219.05,354.61 219.4,354.67 219.75,354.78 220.1,354.78 220.45,354.68 220.8,354.68 221.15,354.6 221.5,354.64 221.85,354.72 222.2,354.74 222.55,354.65 222.9,354.46 223.25,354.72 223.6,354.76 223.95,354.74 224.3,354.77 224.65,354.68 225,354.58 225.35,354.66 225.7,354.67 226.05,354.6 226.4,354.78 226.75,354.75 227.1,354.4 227.45,354.76 227.8,354.71 228.15,354.73 228.5,354.64 228.85,354.73 229.2,354.74 229.55,354.78 229.9,354.66 230.25,354.76 230.6,354.63 230.95,354.67 231.3,354.76 231.65,354.33 232,354.72 232.35,354.6 232.7,354.6 233.05,354.64 233.4,354.71 233.75,354.64 234.1,354.72 234.45,354.68 234.8,354.61 235.15,354.62 235.5,354.67 235.85,354.75 236.2,354.4 236.55,354.66 236.9,354.71 237.25,354.72 237.6,354.65 237.95,354.63 238.3,354.65 238.65,354.74 239,354.65 239.35,354.72 239.7,354.64 240.05,354.73 240.4,354.72 240.75,354.71 241.1,354.67 241.45,354.67 241.8,354.69 242.15,354.73 242.5,354.61 242.85,354.6 243.2,354.7 243.55,354.7 243.9,354.64 244.25,354.7 244.6,354.6 244.95,354.64 245.3,354.6 245.65,354.72 246,354.6 246.35,354.25 246.7,354.72 247.05,354.79 247.4,354.75 247.75,354.69 248.1,354.62 248.45,354.69 248.8,354.61 249.15,354.61 249.5,354.74 249.85,354.74 250.2,354.7 250.55,354.6 250.9,354.7 251.25,354.6 251.6,354.77 251.95,354.72 252.3,354.68 252.65,354.76 253,354.75 253.35,354.74 253.7,354.76 254.05,354.72 254.4,354.47 254.75,354.74 255.1,354.72 255.45,354.66 255.8,354.78 256.15,354.61 256.5,354.25 256.85,354.7 257.2,354.6 257.55,354.63 257.9,354.64 258.25,354.73 258.6,354.77 258.95,354.78 259.3,354.71 259.65,354.73 260,354.75 260.35,354.63 260.7,354.65 261.05,354.61 261.4,354.74 261.75,354.76 262.1,354.67 262.45,354.74 262.8,354.62 263.15,354.75 263.5,354.63 263.85,354.75 264.2,354.64 264.55,354.77 264.9,354.61 265.25,354.67 265.6,354.66 265.95,354.69 266.3,354.29 266.65,354.75 267,354.72 267.35,354.78 267.7,354.61 268.05,354.71 268.4,354.61 268.75,354.7 269.1,354.64 269.45,354.75 269.8,354.65 270.15,354.72 270.5,354.72 270.85,354.62 271.2,354.65 271.55,354.73 271.9,354.62 272.25,354.76 272.6,354.66 272.95,354.65 273.3,354.65 273.65,354.69 274,354.62 274.35,354.72 274.7,354.75 275.05,354.61 275.4,354.67 275.75,354.63 276.1,354.7 276.45,354.74 276.8,354.61 277.15,354.76 277.5,354.62 277.85,354.78 278.2,354.61 278.55,354.69 278.9,354.61 279.25,354.61 279.6,354.62 279.95,354.67 280.3,354.68 280.65,354.7 281,354.73 281.35,354.72 281.7,354.61 282.05,354.73 282.4,354.64 282.75,354.61 283.1,354.67 283.45,354.64 283.8,354.66 284.15,354.74 284.5,354.77 284.85,354.64 285.2,354.73 285.55,354.6 285.9,354.74 286.25,354.63 286.6,354.67 286.95,354.77 287.3,354.71 287.65,354.38 288,354.73 288.35,354.77 288.7,354.79 289.05,354.63 289.4,354.77 289.75,354.68 290.1,354.75 290.45,354.74 290.8,354.65 291.15,354.65 291.5,354.72 291.85,354.61 292.2,354.68 292.55,354.79 292.9,354.59 293.25,354.73 293.6,354.77 293.95,354.64 294.3,354.74 294.65,354.61 295,354.63 295.35,354.75 295.7,354.6 296.05,354.69 296.4,354.77 296.75,354.64 297.1,354.62 297.45,354.74 297.8,354.74 298.15,354.69 298.5,354.66 298.85,354.64 299.2,354.62 299.55,354.6 299.9,354.78 300.25,354.61 300.6,354.73 300.95,354.69 301.3,354.7 301.65,354.63 302,354.74 302.35,354.59 302.7,354.74 303.05,354.72 303.4,354.66 303.75,354.69 304.1,354.69 304.45,354.69 304.8,354.79 305.15,354.72 305.5,354.62 305.85,354.79 306.2,354.74 306.55,354.65 306.9,354.66 306.9,359.21 306.55,359.13 306.2,359.29 305.85,359.14 305.5,359.31 305.15,359.2 304.8,359.3 304.45,359.19 304.1,359.29 303.75,359.29 303.4,359.27 303.05,359.3 302.7,359.19 302.35,359.16 302,359.3 301.65,359.25 301.3,359.14 300.95,359.13 300.6,359.28 300.25,359.29 299.9,359.16 299.55,359.3 299.2,359.23 298.85,359.27 298.5,359.17 298.15,359.48 297.8,359.26 297.45,359.23 297.1,359.18 296.75,359.12 296.4,359.19 296.05,359.22 295.7,359.22 295.35,359.23 295,359.11 294.65,359.24 294.3,359.21 293.95,359.16 293.6,359.17 293.25,359.2 292.9,359.23 292.55,359.27 292.2,359.16 291.85,359.25 291.5,359.2 291.15,359.31 290.8,359.16 290.45,359.23 290.1,359.51 289.75,359.29 289.4,359.2 289.05,359.17 288.7,359.26 288.35,359.15 288,359.11 287.65,359.12 287.3,359.17 286.95,359.19 286.6,359.13 286.25,359.13 285.9,359.29 285.55,359.18 285.2,359.27 284.85,359.24 284.5,359.23 284.15,359.38 283.8,359.19 283.45,359.23 283.1,359.17 282.75,359.22 282.4,359.27 282.05,359.13 281.7,359.22 281.35,359.3 281,359.17 280.65,359.18 280.3,359.3 279.95,359.24 279.6,359.29 279.25,359.14 278.9,359.26 278.55,359.27 278.2,359.18 277.85,359.14 277.5,359.14 277.15,359.29 276.8,359.31 276.45,359.3 276.1,359.54 275.75,359.23 275.4,359.13 275.05,359.2 274.7,359.25 274.35,359.16 274,359.3 273.65,359.25 273.3,359.18 272.95,359.22 272.6,359.29 272.25,359.3 271.9,359.26 271.55,359.13 271.2,359.25 270.85,359.28 270.5,359.31 270.15,359.24 269.8,359.3 269.45,359.19 269.1,359.27 268.75,359.2 268.4,359.26 268.05,359.18 267.7,359.3 267.35,359.18 267,359.28 266.65,359.2 266.3,359.2 265.95,359.31 265.6,359.18 265.25,359.17 264.9,359.14 264.55,359.22 264.2,359.52 263.85,359.27 263.5,359.17 263.15,359.27 262.8,359.29 262.45,359.29 262.1,359.25 261.75,359.22 261.4,359.27 261.05,359.3 260.7,359.3 260.35,359.19 260,359.31 259.65,359.28 259.3,359.12 258.95,359.31 258.6,359.3 258.25,359.13 257.9,359.13 257.55,359.28 257.2,359.3 256.85,359.28 256.5,359.24 256.15,359.26 255.8,359.17 255.45,359.19 255.1,359.35 254.75,359.18 254.4,359.26 254.05,359.25 253.7,359.19 253.35,359.31 253,359.27 252.65,359.23 252.3,359.43 251.95,359.16 251.6,359.18 251.25,359.16 250.9,359.17 250.55,359.24 250.2,359.21 249.85,359.18 249.5,359.19 249.15,359.19 248.8,359.16 248.45,359.19 248.1,359.28 247.75,359.98 247.4,359.11 247.05,359.26 246.7,359.27 246.35,359.26 246,359.16 245.65,359.22 245.3,359.24 244.95,359.25 244.6,359.24 244.25,359.15 243.9,359.38 243.55,359.17 243.2,359.23 242.85,359.17 242.5,359.13 242.15,359.29 241.8,359.23 241.45,359.23 241.1,359.31 240.75,359.3 240.4,359.14 240.05,359.13 239.7,359.12 239.35,359.45 239,359.12 238.65,359.29 238.3,359.74 237.95,359.67 237.6,359.3 237.25,359.24 236.9,359.15 236.55,359.14 236.2,359.28 235.85,359.17 235.5,359.17 235.15,359.2 234.8,359.12 234.45,359.26 234.1,359.13 233.75,359.17 233.4,359.19 233.05,359.21 232.7,359.21 232.35,359.27 232,359.22 231.65,359.13 231.3,359.16 230.95,359.27 230.6,359.25 230.25,359.19 229.9,359.26 229.55,359.12 229.2,359.15 228.85,359.15 228.5,359.2 228.15,359.23 227.8,359.2 227.45,359.29 227.1,359.2 226.75,359.25 226.4,359.19 226.05,359.19 225.7,359.19 225.35,359.25 225,359.28 224.65,359.31 224.3,359.13 223.95,359.21 223.6,359.12 223.25,359.27 222.9,359.67 222.55,359.15 222.2,359.16 221.85,359.16 221.5,359.26 221.15,359.31 220.8,359.31 220.45,359.26 220.1,359.15 219.75,359.29 219.4,359.29 219.05,359.16 218.7,359.16 218.35,359.28 218,359.13 217.65,359.17 217.3,359.19 216.95,359.28 216.6,359.3 216.25,359.31 215.9,359.13 215.55,359.31 215.2,359.3 214.85,359.13 214.5,359.29 214.15,359.18 213.8,359.28 213.45,359.24 213.1,359.23 212.75,359.23 212.4,359.3 212.05,359.22 211.7,359.21 211.35,359.29 211,359.14 210.65,359.14 210.3,359.27 209.95,359.22 209.6,359.2 209.25,359.28 208.9,359.15 208.55,359.31 208.2,359.23 207.85,359.12 207.5,359.13 207.15,359.19 206.8,359.27 206.45,359.24 206.1,359.29 205.75,359.13 205.4,359.12 205.05,359.14 204.7,359.29 204.35,359.3 204,359.19 203.65,359.33 203.3,359.23 202.95,359.28 202.6,359.11 202.25,359.27 201.9,359.3 201.55,359.2 201.2,359.15 200.85,359.19 200.5,359.25 200.15,359.18 199.8,359.14 199.45,359.28 199.1,359.23 198.75,359.18 198.4,359.23 198.05,359.12 197.7,359.3 197.35,359.24 197,359.38 196.65,359.2 196.3,359.22 195.95,359.22 195.6,359.3 195.25,359.19 194.9,359.29 194.55,359.13 194.2,359.12 193.85,359.26 193.5,359.24 193.15,359.13 192.8,359.51 192.45,359.26 192.1,359.21 191.75,359.27 191.4,359.17 191.05,359.24 190.7,359.24 190.35,359.23 190,359.15 189.65,359.17 189.3,359.21 188.95,359.17 188.6,359.14 188.25,359.15 187.9,359.25 187.55,359.16 187.2,359.13 186.85,359.12 186.5,359.25 186.15,359.27 185.8,359.22 185.45,359.2 185.1,359.14 184.75,359.25 184.4,359.22 184.05,359.22 183.7,359.27 183.35,359.22 183,359.3 182.65,359.26 182.3,359.11 181.95,359.14 181.6,359.31 181.25,359.39 180.9,359.27 180.55,359.6 180.2,359.26 179.85,359.18 179.5,359.28 179.15,359.28 178.8,359.27 178.45,359.2 178.1,359.14 177.75,359.21 177.4,359.14 177.05,359.18 176.7,359.37 176.35,359.15 176,359.33 175.65,359.28 175.3,359.23 174.95,359.2 174.6,359.25 174.25,359.14 173.9,359.2 173.55,359.29 173.2,359.28 172.85,359.23 172.5,359.16" fill="#0a72d0"/><polygon points="217.3,347.23 217.65,347.35 218,347.59 218.35,348.14 218.7,347.1 219.05,348.32 219.4,349.16 219.75,349.22 220.1,349.53 220.45,350.06 220.8,350.17 221.15,350.24 221.5,350.63 221.85,350.72 222.2,350.99 222.55,351.29 222.9,351.36 223.25,351.65 223.6,351.71 223.95,351.95 224.3,351.99 224.65,352.04 225,352.21 225.35,352.44 225.7,352.59 226.05,352.81 226.4,352.73 226.75,352.79 227.1,352.93 227.45,353.06 227.8,353.08 228.15,352.99 228.5,353.42 228.85,353.19 229.2,353.35 229.55,353.26 229.9,353.48 230.25,353.66 230.6,353.59 230.95,353.85 231.3,353.85 231.65,353.62 232,352.88 232.35,353.97 232.7,353.97 233.05,354.11 233.4,353.93 233.75,353.97 234.1,354.17 234.45,354.16 234.8,354 235.15,354.16 235.5,354.09 235.85,354.28 236.2,354.12 236.55,354.39 236.9,354.34 237.25,354.34 237.6,354.38 237.95,354.48 238.3,354.28 238.65,354.32 239,354.27 239.35,354.3 239.7,354.56 240.05,354.27 240.4,354.45 240.75,354.47 241.1,353.32 241.45,354.34 241.8,354.63 242.15,354.68 242.5,354.41 242.85,354.57 243.2,354.58 243.55,353.54 243.9,354.49 244.25,354.37 244.6,354.56 244.95,354.65 245.3,354.75 245.65,354.48 246,354.69 246.35,354.74 246.7,354.63 247.05,354.73 247.4,354.46 247.75,354.69 248.1,354.46 248.45,354.8 248.8,354.67 249.15,354.76 249.5,354.47 249.85,354.66 250.2,354.55 250.55,354.47 250.9,354.81 251.25,354.71 251.6,354.46 251.95,354.53 252.3,354.81 252.65,354.51 253,354.74 253.35,354.83 253.7,354.76 254.05,354.83 254.4,354.81 254.75,354.62 255.1,354.46 255.45,354.71 255.8,354.6 256.15,354.76 256.5,354.64 256.85,354.52 257.2,354.84 257.55,354.71 257.9,354.86 258.25,354.76 258.6,354.6 258.95,354.62 259.3,354.5 259.65,354.85 260,354.57 260.35,354.35 260.7,354.49 261.05,354.65 261.4,354.8 261.75,354.18 262.1,354.65 262.1,359.16 261.75,359.02 261.4,359.27 261.05,359.04 260.7,359.29 260.35,359.25 260,359.04 259.65,359.17 259.3,359.25 258.95,359.36 258.6,359.31 258.25,359.08 257.9,359.23 257.55,359.08 257.2,359.04 256.85,359.1 256.5,359.04 256.15,359.25 255.8,359.18 255.45,359.08 255.1,359.34 254.75,359.07 254.4,359.29 254.05,359.42 253.7,359.24 253.35,359.11 253,359.14 252.65,359.48 252.3,360.14 251.95,359.14 251.6,359.33 251.25,359.29 250.9,359.36 250.55,359.24 250.2,359.09 249.85,359.26 249.5,359.94 249.15,359.24 248.8,359.31 248.45,359.43 248.1,359.39 247.75,359.22 247.4,359.36 247.05,359.17 246.7,359.29 246.35,359.34 246,359.43 245.65,359.33 245.3,359.37 244.95,359.24 244.6,359.53 244.25,359.55 243.9,359.25 243.55,359.24 243.2,359.43 242.85,359.39 242.5,359.22 242.15,359.33 241.8,359.58 241.45,359.25 241.1,359.34 240.75,359.58 240.4,359.41 240.05,359.66 239.7,359.48 239.35,359.38 239,359.47 238.65,359.42 238.3,359.39 237.95,359.57 237.6,359.44 237.25,359.48 236.9,359.84 236.55,359.7 236.2,359.54 235.85,359.74 235.5,359.92 235.15,359.73 234.8,359.86 234.45,359.89 234.1,360.41 233.75,360.08 233.4,360.1 233.05,359.82 232.7,360.09 232.35,360.48 232,360.19 231.65,360.24 231.3,360.34 230.95,360.39 230.6,360.39 230.25,360.47 229.9,360.4 229.55,360.63 229.2,360.73 228.85,360.85 228.5,361.12 228.15,360.94 227.8,361.03 227.45,360.89 227.1,361.25 226.75,361.28 226.4,361.27 226.05,361.26 225.7,361.63 225.35,361.76 225,361.85 224.65,362.08 224.3,361.92 223.95,362.19 223.6,362.23 223.25,362.66 222.9,362.89 222.55,362.74 222.2,362.95 221.85,363.11 221.5,363.62 221.15,363.61 220.8,363.85 220.45,364.35 220.1,364.7 219.75,364.83 219.4,365.33 219.05,365.51 218.7,365.92 218.35,366.17 218,366.55 217.65,366.87 217.3,367.43" fill="#0a72d0"/><polygon points="262.55,335.78 262.9,335.82 263.25,335.77 263.6,335.76 263.95,335.81 264.3,335.74 264.65,335.71 264.79,335.67 264.79,356.46 264.65,356.32 264.3,356.56 263.95,356.45 263.6,356.43 263.25,356.41 262.9,357.53 262.55,356.43" fill="#1c8dd2"/><polygon points="262.1,348.86 262.45,349.03 262.8,349.31 263.15,349.77 263.5,349.95 263.85,350.36 264.2,350.48 264.55,350.75 264.9,350.78 265.25,351.27 265.6,351.33 265.95,351.47 266.3,351.71 266.65,351.59 267,351.89 267.35,352.05 267.7,352.21 268.05,351.33 268.4,352.62 268.75,352.57 269.1,352.02 269.45,352.5 269.8,352.88 270.15,352.18 270.5,352.86 270.85,353.02 271.2,352.92 271.55,353.38 271.9,353.19 272.25,353.31 272.6,353.42 272.95,353.71 273.3,353.44 273.65,353.55 274,353.8 274.35,353.77 274.7,353.82 275.05,354.03 275.4,354.02 275.75,353.25 276.1,353.93 276.45,353.81 276.8,353.91 277.15,354.17 277.5,354.09 277.85,354.08 278.2,354.12 278.55,353.99 278.9,354.21 279.25,354.19 279.6,354.29 279.95,354.43 280.3,354.32 280.65,354.39 281,354.31 281.35,354.52 281.7,354.38 282.05,354.34 282.4,354.02 282.75,354.3 283.1,354.51 283.45,354.65 283.8,354.6 284.15,354.63 284.5,354.58 284.85,354.3 285.2,354.33 285.55,354.16 285.9,354.69 286.25,354.59 286.6,354.57 286.95,354.4 287.3,354.4 287.65,354.75 288,354.17 288.35,354.39 288.7,354.73 289.05,354.71 289.4,354.41 289.75,354.69 290.1,354.41 290.45,354.74 290.8,354.43 291.15,354.69 291.5,353.73 291.85,354.56 292.2,354.82 292.55,354.46 292.9,354.7 293.25,354.54 293.6,354.62 293.95,354.81 294.3,354.68 294.65,354.66 295,354.71 295.35,354.78 295.7,354.78 296.05,354.75 296.4,354.73 296.75,354.52 297.1,354.61 297.45,354.62 297.8,354.85 298.15,354.76 298.5,354.85 298.85,354.47 299.2,354.47 299.55,354.83 299.9,354.78 300.25,354.58 300.6,354.52 300.95,354.51 301.3,354.68 301.65,354.67 302,354.84 302.35,354.75 302.7,354.58 303.05,354.79 303.4,354.7 303.75,354.69 304.1,354.63 304.45,353.74 304.8,354.7 305.15,354.81 305.5,354.86 305.85,354.73 306.2,354.84 306.55,353.87 306.9,354.5 306.9,359.08 306.55,359.12 306.2,359.37 305.85,359.39 305.5,359.42 305.15,359.06 304.8,359.36 304.45,359.29 304.1,359.29 303.75,359.11 303.4,359.29 303.05,359.39 302.7,359.22 302.35,359.38 302,359.17 301.65,359.27 301.3,359.12 300.95,359.63 300.6,359.4 300.25,359.2 299.9,359.05 299.55,359.27 299.2,359.18 298.85,359.43 298.5,359.36 298.15,359.5 297.8,359.18 297.45,359.44 297.1,359.18 296.75,359.25 296.4,359.44 296.05,359.28 295.7,359.48 295.35,359.19 295,359.42 294.65,359.17 294.3,359.21 293.95,359.43 293.6,359.44 293.25,359.46 292.9,359.39 292.55,359.45 292.2,359.46 291.85,359.53 291.5,359.46 291.15,359.16 290.8,359.28 290.45,359.43 290.1,359.46 289.75,359.32 289.4,359.46 289.05,359.36 288.7,359.38 288.35,359.42 288,359.25 287.65,359.39 287.3,359.31 286.95,359.31 286.6,359.51 286.25,359.55 285.9,359.43 285.55,359.41 285.2,359.5 284.85,359.37 284.5,359.62 284.15,359.48 283.8,359.45 283.45,359.51 283.1,359.79 282.75,359.68 282.4,359.89 282.05,359.69 281.7,359.85 281.35,359.64 281,360.04 280.65,359.82 280.3,359.96 279.95,359.87 279.6,360.09 279.25,359.91 278.9,360.11 278.55,359.92 278.2,360.31 277.85,360.14 277.5,360.25 277.15,360.29 276.8,360.37 276.45,360.48 276.1,360.45 275.75,360.74 275.4,360.79 275.05,360.9 274.7,360.71 274.35,361.03 274,360.8 273.65,361.16 273.3,361.28 272.95,361.34 272.6,361.23 272.25,361.51 271.9,361.89 271.55,361.81 271.2,361.93 270.85,361.95 270.5,362.32 270.15,362.45 269.8,362.35 269.45,362.63 269.1,363 268.75,363.83 268.4,363.37 268.05,363.39 267.7,363.69 267.35,363.85 267,364.23 266.65,364.45 266.3,364.88 265.95,365.95 265.6,365.25 265.25,365.57 264.9,366.19 264.55,366.27 264.2,366.75 263.85,367.44 263.5,367.72 263.15,368.24 262.8,368.51 262.45,369.26 262.1,369.76" fill="#0a72d0"/><polygon points="172.5,355.58 172.85,355.63 173.2,355.65 173.55,355.51 173.9,355.53 174.25,355.58 174.6,355.65 174.95,355.33 175.3,355.64 175.65,355.62 176,355.52 176.35,355.68 176.7,355.69 177.05,355.68 177.4,355.43 177.75,355.63 178.1,355.58 178.45,355.53 178.8,355.67 179.15,355.61 179.5,355.53 179.85,355.55 180.2,355.67 180.55,355.58 180.9,355.52 181.25,355.66 181.6,355.52 181.95,355.68 182.3,355.51 182.65,355.51 183,355.51 183.35,355.7 183.7,355.42 184.05,355.65 184.4,355.6 184.75,355.43 185.1,355.63 185.45,355.67 185.8,355.65 186.15,355.69 186.5,355.56 186.85,355.64 187.2,355.57 187.55,355.68 187.9,355.51 188.25,355.62 188.6,355.7 188.95,355.52 189.3,355.62 189.65,355.54 190,355.62 190.35,354.95 190.7,355.63 191.05,355.54 191.4,355.6 191.75,355.54 192.1,355.56 192.45,355.59 192.8,355.61 193.15,355.61 193.5,355.62 193.85,355.51 194.2,355.57 194.55,355.53 194.9,355.66 195.25,355.7 195.6,355.53 195.95,355.65 196.3,355.64 196.65,355.66 197,355.61 197.35,355.65 197.7,355.69 198.05,355.51 198.4,355.61 198.75,355.63 199.1,355.69 199.45,355.66 199.8,355.58 200.15,355.64 200.5,355.58 200.85,355.68 201.2,355.63 201.55,355.66 201.9,355.69 202.25,355.63 202.6,355.62 202.95,355.63 203.3,355.58 203.65,355.65 204,355.67 204.35,355.53 204.7,354.95 205.05,354.76 205.4,355.61 205.75,355.09 206.1,355.52 206.45,355.58 206.8,355.6 207.15,355.69 207.5,355.62 207.85,355.52 208.2,355.6 208.55,355.43 208.9,355.63 209.25,355.59 209.6,355.53 209.95,355.51 210.3,355.66 210.65,355.7 211,355.65 211.35,355.52 211.7,355.53 212.05,355.69 212.4,355.56 212.75,355.63 213.1,355.68 213.45,355.57 213.8,355.67 214.15,355.54 214.5,355.52 214.85,355.59 215.2,355.52 215.55,355.69 215.9,355.69 216.25,355.52 216.6,355.62 216.95,355.54 217.3,355.62 217.65,355.42 218,355.62 218.35,355.47 218.7,355.5 219.05,355.53 219.4,355.68 219.75,355.54 220.1,355.67 220.45,355.52 220.8,355.61 221.15,355.47 221.5,355.59 221.85,355.7 222.2,355.68 222.55,355.59 222.9,355.66 223.25,355.69 223.6,355.63 223.95,355.56 224.3,355.57 224.65,355.32 225,355.52 225.35,355.6 225.7,355.63 226.05,355.66 226.4,355.61 226.75,355.57 227.1,355.63 227.45,355.62 227.8,355.51 228.15,355.67 228.5,355.29 228.85,355.6 229.2,355.61 229.55,355.65 229.9,355.68 230.25,355.58 230.6,355.64 230.95,355.52 231.3,355.61 231.65,355.56 232,355.15 232.35,355.52 232.7,355.7 233.05,355.65 233.4,355.59 233.75,355.66 234.1,355.62 234.45,355.58 234.8,355.63 235.15,355.66 235.5,355.64 235.85,355.66 236.2,355.68 236.55,355.62 236.9,355.47 237.25,355.56 237.6,355.6 237.95,355.57 238.3,355.64 238.65,355.54 239,355.41 239.35,355.58 239.7,355.62 240.05,355.61 240.4,355.6 240.75,355.24 241.1,355.63 241.45,355.62 241.8,355.66 242.15,355.62 242.5,355.51 242.85,355.57 243.2,355.59 243.55,355.56 243.9,355.52 244.25,355.67 244.6,355.61 244.95,355.58 245.3,355.66 245.65,355.57 246,355.65 246.35,355.44 246.7,355.69 247.05,355.6 247.4,355.59 247.75,355.61 248.1,355.68 248.45,355.58 248.8,355.69 249.15,355.66 249.5,355.61 249.85,355.55 250.2,355.6 250.55,355.69 250.9,355.56 251.25,355.59 251.6,355.68 251.95,355.54 252.3,355.66 252.65,355.59 253,355.57 253.35,355.67 253.7,355.61 254.05,354.99 254.4,355.62 254.75,355.51 255.1,355.66 255.45,355.5 255.8,355.6 256.15,355.52 256.5,355.55 256.85,355.65 257.2,355.68 257.55,355.57 257.9,355.53 258.25,355.68 258.6,355.66 258.95,355.51 259.3,355.55 259.65,355.64 260,355.63 260.35,355.57 260.7,355.53 261.05,355.56 261.4,355.61 261.75,355.58 262.1,355.51 262.45,355.55 262.8,355.54 263.15,355.56 263.5,355.63 263.85,355.56 264.2,355.54 264.55,355.58 264.9,355.45 265.25,355.69 265.6,355.68 265.95,355.51 266.3,355.54 266.65,355.58 267,355.57 267.35,355.64 267.7,355.57 268.05,355.61 268.4,355.55 268.75,355.65 269.1,355.55 269.45,355.61 269.8,355.67 270.15,355.59 270.5,355.54 270.85,355.56 271.2,355.69 271.55,355.68 271.9,355.6 272.25,355.67 272.6,355.69 272.95,355.56 273.3,355.63 273.65,355.38 274,355.64 274.35,355.58 274.7,355.7 275.05,355.52 275.4,355.55 275.75,355.53 276.1,355.62 276.45,355.52 276.8,355.7 277.15,355.64 277.5,355.65 277.85,355.61 278.2,355.64 278.55,355.54 278.9,355.7 279.25,355.63 279.6,355.58 279.95,355.69 280.3,355.59 280.65,355.57 281,355.65 281.35,355.69 281.7,355.53 282.05,355.67 282.4,355.55 282.75,355.62 283.1,355.59 283.45,355.6 283.8,355.58 284.15,355.68 284.5,355.59 284.85,355.68 285.2,355.51 285.55,355.55 285.9,355.65 286.25,355.64 286.6,355.55 286.95,355.59 287.3,355.6 287.65,355.57 288,355.63 288.35,355.63 288.7,355.67 289.05,355.65 289.4,355.59 289.75,355.69 290.1,355.5 290.45,355.65 290.8,355.58 291.15,355.69 291.5,355.56 291.85,355.6 292.2,355.7 292.55,355.66 292.9,355.51 293.25,355.51 293.6,355.61 293.95,355.57 294.3,355.67 294.65,355.57 295,355.53 295.35,355.59 295.7,355.68 296.05,355.62 296.4,355.58 296.75,355.65 297.1,355.63 297.45,355.63 297.8,355.65 298.15,355.51 298.5,355.68 298.85,355.55 299.2,355.52 299.55,355.61 299.9,355.66 300.25,355.64 300.6,355.68 300.95,355.5 301.3,355.67 301.65,355.62 302,355.53 302.35,355.51 302.7,355.22 303.05,355.64 303.4,355.54 303.75,355.56 304.1,355.51 304.45,355.62 304.8,355.51 305.15,355.68 305.5,355.58 305.85,355.65 306.2,355.54 306.55,355.17 306.9,355.69 306.9,358.22 306.55,358.32 306.2,358.37 305.85,358.35 305.5,358.29 305.15,358.32 304.8,358.37 304.45,358.31 304.1,358.33 303.75,358.4 303.4,358.35 303.05,358.39 302.7,358.26 302.35,358.23 302,358.34 301.65,358.33 301.3,358.25 300.95,358.3 300.6,358.22 300.25,358.29 299.9,358.36 299.55,358.32 299.2,358.34 298.85,358.2 298.5,358.24 298.15,358.21 297.8,358.24 297.45,358.35 297.1,358.38 296.75,358.32 296.4,358.39 296.05,358.22 295.7,358.29 295.35,358.28 295,358.38 294.65,358.37 294.3,358.22 293.95,358.33 293.6,358.26 293.25,358.34 292.9,358.23 292.55,358.22 292.2,358.34 291.85,358.4 291.5,358.21 291.15,358.26 290.8,358.3 290.45,358.35 290.1,358.23 289.75,358.38 289.4,358.24 289.05,358.22 288.7,358.26 288.35,358.37 288,358.34 287.65,358.28 287.3,358.28 286.95,358.28 286.6,358.4 286.25,358.37 285.9,358.22 285.55,358.25 285.2,358.23 284.85,358.26 284.5,358.29 284.15,358.35 283.8,358.23 283.45,358.38 283.1,358.31 282.75,358.34 282.4,358.21 282.05,358.35 281.7,358.38 281.35,358.26 281,358.31 280.65,358.23 280.3,358.24 279.95,358.4 279.6,358.39 279.25,358.41 278.9,358.32 278.55,358.29 278.2,358.32 277.85,358.22 277.5,359.11 277.15,358.36 276.8,358.27 276.45,358.27 276.1,358.27 275.75,358.37 275.4,358.25 275.05,358.26 274.7,358.33 274.35,358.29 274,358.35 273.65,358.23 273.3,358.33 272.95,358.38 272.6,358.21 272.25,358.29 271.9,358.28 271.55,358.32 271.2,358.36 270.85,358.35 270.5,358.38 270.15,358.31 269.8,358.34 269.45,358.21 269.1,358.21 268.75,358.23 268.4,358.21 268.05,358.4 267.7,358.38 267.35,358.25 267,358.24 266.65,358.43 266.3,358.21 265.95,358.21 265.6,358.27 265.25,358.29 264.9,358.31 264.55,358.2 264.2,358.27 263.85,358.27 263.5,358.35 263.15,358.31 262.8,358.4 262.45,358.25 262.1,358.35 261.75,358.38 261.4,358.32 261.05,358.25 260.7,358.5 260.35,358.31 260,358.33 259.65,358.39 259.3,358.27 258.95,358.25 258.6,358.22 258.25,358.36 257.9,358.29 257.55,358.21 257.2,358.29 256.85,358.4 256.5,358.23 256.15,358.35 255.8,358.23 255.45,358.26 255.1,358.41 254.75,358.22 254.4,358.39 254.05,358.3 253.7,358.58 253.35,358.23 253,358.27 252.65,358.27 252.3,358.98 251.95,358.25 251.6,358.23 251.25,358.39 250.9,358.2 250.55,358.32 250.2,358.29 249.85,358.21 249.5,358.39 249.15,358.3 248.8,358.32 248.45,358.3 248.1,358.29 247.75,358.23 247.4,358.26 247.05,358.33 246.7,358.37 246.35,358.66 246,358.28 245.65,358.24 245.3,358.48 244.95,358.29 244.6,358.25 244.25,358.27 243.9,358.22 243.55,358.28 243.2,358.25 242.85,358.29 242.5,358.24 242.15,358.33 241.8,358.4 241.45,358.36 241.1,358.32 240.75,358.3 240.4,358.41 240.05,358.39 239.7,358.38 239.35,358.25 239,358.24 238.65,358.3 238.3,358.39 237.95,358.27 237.6,358.21 237.25,358.26 236.9,358.21 236.55,358.2 236.2,358.35 235.85,358.3 235.5,358.31 235.15,358.39 234.8,358.39 234.45,358.35 234.1,358.36 233.75,358.38 233.4,358.44 233.05,358.33 232.7,358.38 232.35,358.27 232,358.21 231.65,358.21 231.3,358.3 230.95,358.3 230.6,358.37 230.25,358.38 229.9,358.31 229.55,358.39 229.2,358.31 228.85,358.36 228.5,358.24 228.15,358.24 227.8,358.24 227.45,358.22 227.1,358.36 226.75,358.25 226.4,358.37 226.05,358.29 225.7,358.37 225.35,358.33 225,358.31 224.65,358.26 224.3,358.26 223.95,358.22 223.6,358.38 223.25,358.67 222.9,358.77 222.55,358.35 222.2,358.26 221.85,358.32 221.5,358.34 221.15,358.4 220.8,358.26 220.45,358.26 220.1,358.28 219.75,358.39 219.4,358.44 219.05,358.35 218.7,358.34 218.35,358.33 218,358.38 217.65,358.36 217.3,358.27 216.95,358.4 216.6,358.31 216.25,358.33 215.9,358.33 215.55,358.24 215.2,358.86 214.85,358.39 214.5,358.28 214.15,358.35 213.8,358.36 213.45,358.26 213.1,358.48 212.75,358.31 212.4,358.27 212.05,358.37 211.7,358.23 211.35,358.25 211,358.39 210.65,358.42 210.3,358.37 209.95,358.35 209.6,358.37 209.25,358.22 208.9,358.35 208.55,358.24 208.2,358.29 207.85,358.32 207.5,358.34 207.15,358.26 206.8,358.23 206.45,358.31 206.1,358.3 205.75,358.21 205.4,358.36 205.05,358.34 204.7,358.34 204.35,358.27 204,358.27 203.65,358.4 203.3,358.32 202.95,358.36 202.6,358.26 202.25,358.23 201.9,358.33 201.55,358.39 201.2,358.27 200.85,358.36 200.5,358.39 200.15,358.29 199.8,358.39 199.45,358.22 199.1,358.36 198.75,358.36 198.4,358.4 198.05,358.39 197.7,358.37 197.35,358.38 197,358.29 196.65,358.26 196.3,358.24 195.95,358.4 195.6,358.22 195.25,358.3 194.9,358.33 194.55,358.31 194.2,358.22 193.85,358.26 193.5,358.23 193.15,358.21 192.8,358.28 192.45,358.21 192.1,358.34 191.75,358.36 191.4,358.3 191.05,358.37 190.7,358.38 190.35,358.38 190,358.22 189.65,358.36 189.3,358.35 188.95,358.36 188.6,358.38 188.25,358.34 187.9,358.22 187.55,358.34 187.2,358.35 186.85,358.4 186.5,358.28 186.15,358.31 185.8,358.35 185.45,358.39 185.1,358.31 184.75,358.25 184.4,358.38 184.05,358.35 183.7,358.32 183.35,358.29 183,358.22 182.65,358.3 182.3,358.26 181.95,358.38 181.6,358.35 181.25,358.33 180.9,358.29 180.55,358.4 180.2,358.36 179.85,358.34 179.5,358.22 179.15,358.22 178.8,358.37 178.45,358.31 178.1,358.35 177.75,358.28 177.4,358.78 177.05,358.23 176.7,358.67 176.35,358.38 176,358.4 175.65,358.37 175.3,358.26 174.95,358.22 174.6,358.38 174.25,358.44 173.9,358.35 173.55,358.28 173.2,358.32 172.85,358.28 172.5,358.35" fill="#fc7a12"/><polygon points="217.3,346.97 217.65,347.66 218,348.4 218.35,348.78 218.7,349.43 219.05,349.98 219.4,350.54 219.75,351.14 220.1,351.6 220.45,351.69 220.8,352.04 221.15,352.14 221.5,353.06 221.85,353.18 222.2,353.51 222.55,353.57 222.9,353.81 223.25,354.16 223.6,354.39 223.95,353.43 224.3,354.56 224.65,354.76 225,354.76 225.35,354.91 225.7,355.15 226.05,355.4 226.4,355.18 226.75,355.7 227.1,355.51 227.45,355.59 227.8,355.87 228.15,356.01 228.5,356.06 228.85,355.84 229.2,356.05 229.55,355.89 229.9,356.12 230.25,356.06 230.6,356.15 230.95,356.26 231.3,356.34 231.65,356.13 232,356.15 232.35,356.28 232.7,356.24 233.05,355.5 233.4,356.55 233.75,356.42 234.1,356.52 234.45,356.07 234.8,356.49 235.15,356.34 235.5,356.28 235.85,356.66 236.2,356.36 236.55,356.59 236.9,356.42 237.25,356.74 237.6,356.56 237.95,356.68 238.3,356.18 238.65,356.49 239,356.7 239.35,356.56 239.7,356.71 240.05,356.73 240.4,356.63 240.75,356.46 241.1,356.8 241.45,356.76 241.8,356.53 242.15,356.75 242.5,356.57 242.85,356.81 243.2,356.49 243.55,356.53 243.9,356.25 244.25,356.58 244.6,356.73 244.95,356.83 245.3,356.58 245.65,356.8 246,356.51 246.35,356.57 246.7,356.88 247.05,356.64 247.4,356.36 247.75,356.6 248.1,356.57 248.45,356.54 248.8,356.76 249.15,356.81 249.5,356.57 249.85,356.66 250.2,356.55 250.55,356.87 250.9,356.85 251.25,356.7 251.6,356.66 251.95,356.5 252.3,356.87 252.65,356.65 253,356.74 253.35,356.86 253.7,356.56 254.05,356.69 254.4,356.52 254.75,356.71 255.1,356.59 255.45,356.54 255.8,356.59 256.15,356.6 256.5,356.73 256.85,356.79 257.2,356.89 257.55,356.82 257.9,356.62 258.25,356.63 258.6,356.8 258.95,356.71 259.3,356.8 259.65,356.79 260,356.76 260.35,356.8 260.7,356.53 261.05,356.74 261.4,356.65 261.75,356.75 262.1,356.81 262.1,357.21 261.75,357.27 261.4,357.47 261.05,357.39 260.7,357.94 260.35,357.24 260,357.56 259.65,357.32 259.3,357.37 258.95,357.31 258.6,357.53 258.25,357.56 257.9,357.5 257.55,357.26 257.2,357.47 256.85,357.26 256.5,357.43 256.15,357.22 255.8,357.41 255.45,357.19 255.1,357.33 254.75,357.29 254.4,357.23 254.05,357.47 253.7,357.38 253.35,357.5 253,357.37 252.65,357.38 252.3,357.3 251.95,357.2 251.6,357.16 251.25,357.22 250.9,357.53 250.55,357.66 250.2,357.36 249.85,357.15 249.5,357.29 249.15,357.37 248.8,357.37 248.45,357.2 248.1,357.34 247.75,357.24 247.4,357.23 247.05,357.26 246.7,357.27 246.35,357.51 246,357.48 245.65,357.15 245.3,357.52 244.95,357.66 244.6,357.42 244.25,357.28 243.9,357.43 243.55,357.54 243.2,357.27 242.85,357.5 242.5,357.22 242.15,357.41 241.8,357.54 241.45,357.31 241.1,357.45 240.75,357.78 240.4,357.31 240.05,357.36 239.7,357.26 239.35,357.39 239,357.27 238.65,357.36 238.3,357.33 237.95,357.53 237.6,357.43 237.25,357.25 236.9,357.33 236.55,357.56 236.2,357.53 235.85,357.32 235.5,358.11 235.15,357.68 234.8,357.6 234.45,357.45 234.1,357.6 233.75,357.71 233.4,357.45 233.05,357.68 232.7,357.74 232.35,357.73 232,357.7 231.65,357.77 231.3,357.81 230.95,357.68 230.6,358.33 230.25,357.84 229.9,358.41 229.55,357.9 229.2,358.2 228.85,358.21 228.5,358.09 228.15,358.65 227.8,358.44 227.45,358.46 227.1,358.36 226.75,358.4 226.4,358.63 226.05,358.65 225.7,358.97 225.35,358.87 225,359.23 224.65,359.4 224.3,359.58 223.95,359.73 223.6,359.95 223.25,359.91 222.9,360.28 222.55,360.3 222.2,360.69 221.85,361.1 221.5,361.32 221.15,361.57 220.8,361.99 220.45,362.35 220.1,362.63 219.75,363.09 219.4,363.49 219.05,364.18 218.7,364.75 218.35,365.55 218,365.86 217.65,366.62 217.3,367.58" fill="#ffb304"/><polygon points="262.1,349.51 262.45,350.09 262.8,350.5 263.15,350.96 263.5,351.05 263.85,351.47 264.2,351.72 264.55,352.2 264.9,352.32 265.25,352.86 265.6,352.87 265.95,353.28 266.3,353.41 266.65,353.63 267,353.92 267.35,353.86 267.7,354.21 268.05,354.47 268.4,354.71 268.75,354.58 269.1,355.02 269.45,355.07 269.8,354.9 270.15,355.27 270.5,355.07 270.85,355.53 271.2,355.62 271.55,355.49 271.9,355.43 272.25,355.86 272.6,355.78 272.95,355.95 273.3,355.7 273.65,355.57 274,355.86 274.35,356.01 274.7,356.12 275.05,356.19 275.4,355.54 275.75,356.1 276.1,356.08 276.45,356.2 276.8,356.13 277.15,356.21 277.5,356.28 277.85,356.19 278.2,356.37 278.55,356.23 278.9,356.5 279.25,356.25 279.6,356.56 279.95,356.52 280.3,356.56 280.65,356.42 281,356.42 281.35,356.39 281.7,356.47 282.05,356.65 282.4,356.68 282.75,356.53 283.1,356.6 283.45,356.6 283.8,356.6 284.15,356.59 284.5,356.6 284.85,356.67 285.2,356.53 285.55,356.7 285.9,356.45 286.25,356.61 286.6,356.83 286.95,356.6 287.3,356.65 287.65,356.64 288,356.79 288.35,356.57 288.7,356.72 289.05,356.6 289.4,356.53 289.75,356.48 290.1,356.79 290.45,356.65 290.8,356.74 291.15,356.56 291.5,356.62 291.85,356.81 292.2,356.79 292.55,356.63 292.9,356.62 293.25,356.74 293.6,356.73 293.95,356.55 294.3,356.63 294.65,356.56 295,356.71 295.35,356.65 295.7,356.5 296.05,356.66 296.4,356.62 296.75,356.78 297.1,356.74 297.45,356.81 297.8,356.8 298.15,356.8 298.5,356.6 298.85,356.76 299.2,356.65 299.55,356.6 299.9,356.73 300.25,356.78 300.6,356.86 300.95,356.67 301.3,356.65 301.65,356.82 302,356.66 302.35,356.87 302.7,356.85 303.05,356.84 303.4,356.77 303.75,356.68 304.1,356.71 304.45,356.76 304.8,356.54 305.15,356.82 305.5,356.51 305.85,356.56 306.2,356.71 306.55,356.57 306.9,356.69 306.9,357.39 306.55,357.49 306.2,357.22 305.85,357.23 305.5,357.16 305.15,357.46 304.8,357.47 304.45,357.28 304.1,357.29 303.75,357.49 303.4,357.3 303.05,357.42 302.7,357.52 302.35,357.42 302,357.26 301.65,357.36 301.3,357.42 300.95,357.28 300.6,357.46 300.25,357.51 299.9,357.42 299.55,357.46 299.2,357.68 298.85,357.2 298.5,357.23 298.15,357.42 297.8,357.3 297.45,357.35 297.1,357.24 296.75,357.25 296.4,357.54 296.05,357.25 295.7,357.22 295.35,357.25 295,357.95 294.65,357.41 294.3,357.33 293.95,357.22 293.6,357.38 293.25,357.47 292.9,357.29 292.55,357.42 292.2,357.33 291.85,357.26 291.5,357.55 291.15,357.56 290.8,357.39 290.45,357.19 290.1,357.55 289.75,357.58 289.4,357.37 289.05,357.34 288.7,358.05 288.35,357.36 288,357.33 287.65,357.36 287.3,357.55 286.95,357.53 286.6,357.28 286.25,357.26 285.9,357.3 285.55,357.49 285.2,357.44 284.85,357.97 284.5,357.54 284.15,357.49 283.8,357.52 283.45,357.56 283.1,357.67 282.75,357.47 282.4,357.74 282.05,357.5 281.7,357.47 281.35,357.62 281,357.46 280.65,357.73 280.3,357.57 279.95,357.72 279.6,357.86 279.25,357.7 278.9,357.89 278.55,357.78 278.2,357.71 277.85,357.84 277.5,357.73 277.15,358.03 276.8,357.86 276.45,358.5 276.1,358.29 275.75,358.14 275.4,358.4 275.05,358.28 274.7,358.19 274.35,358.56 274,358.3 273.65,358.65 273.3,358.72 272.95,358.84 272.6,358.67 272.25,358.77 271.9,359.29 271.55,359.21 271.2,359.31 270.85,359.59 270.5,359.57 270.15,359.72 269.8,360.09 269.45,360.13 269.1,360.19 268.75,360.32 268.4,360.76 268.05,360.93 267.7,361.2 267.35,361.57 267,361.86 266.65,362.09 266.3,362.33 265.95,362.67 265.6,362.96 265.25,363.64 264.9,364.07 264.55,364.7 264.2,364.86 263.85,365.28 263.5,366.12 263.15,366.8 262.8,367.35 262.45,367.96 262.1,368.87" fill="#ffb304"/><polygon points="262.1,320.08 262.45,319.99 262.8,320 263.15,319.97 263.29,320.12 263.29,356.42 263.15,356.44 262.8,356.36 262.45,356.48 262.1,356.49" fill="#f9c25a"/><polygon points="306.9,311.6 307.25,310.51 307.6,311.63 307.95,310.82 308.3,310.92 308.65,311.36 309,311.62 309.35,311.19 309.7,311.62 310.05,311.36 310.4,311 310.75,311.69 311.1,311.09 311.45,311.08 311.8,311.33 312.15,310.51 312.5,311.08 312.85,310.26 313.2,311.02 313.55,311.59 313.9,310.64 314.25,310.97 314.6,311.43 314.95,311.58 315.3,311.41 315.65,310.45 316,311.2 316.35,310.97 316.7,310.22 317.05,310.06 317.4,311.5 317.75,311.57 318.1,311.09 318.45,311.63 318.8,311.72 319.15,311.69 319.5,311.16 319.85,311.15 320.2,310.81 320.55,307.62 320.9,311.32 321.25,311.67 321.6,310.73 321.95,311.55 322.3,310.96 322.65,311.5 323,311.61 323.35,310.77 323.7,311.39 324.05,311.42 324.4,311.27 324.75,311.66 325.1,311.65 325.45,311.05 325.8,311.3 326.15,310.91 326.5,310.88 326.85,311.5 327.2,311.18 327.55,311.11 327.9,311.21 328.25,310.45 328.6,311.27 328.95,310.83 329.3,310.79 329.65,311.16 330,311.46 330.35,310.67 330.7,310.36 331.05,311.08 331.4,311.32 331.75,310.34 332.1,311.41 332.45,311.61 332.8,311.74 333.15,311.47 333.5,311.59 333.85,310.42 334.2,308.93 334.55,309.19 334.9,311.7 335.25,310.92 335.6,311.46 335.95,311.04 336.3,311.69 336.65,311.25 337,310.93 337.35,310.98 337.7,310.84 338.05,310.79 338.4,311.24 338.75,311.52 339.1,311.05 339.45,310.46 339.8,311.37 340.15,311.43 340.5,310.78 340.85,311.57 341.2,311.35 341.55,311.13 341.9,310.75 342.25,310.75 342.6,310.99 342.95,311.07 343.3,311.03 343.65,311.44 344,311.08 344.35,311.73 344.7,308.18 345.05,308.2 345.4,310.82 345.75,311.25 346.1,310.84 346.45,311.46 346.8,311.48 347.15,311.46 347.5,311.1 347.85,310.74 348.2,311.73 348.55,311.1 348.9,311.59 349.25,310.17 349.6,311.51 349.95,311.47 350.3,309.53 350.65,310.68 351,310.94 351.35,310.92 351.7,310.65 351.7,373.74 351.35,378.91 351,374.9 350.65,374.37 350.3,373.69 349.95,375.11 349.6,374.02 349.25,374.54 348.9,373.98 348.55,374.38 348.2,376.37 347.85,376.68 347.5,373.88 347.15,376.14 346.8,373.93 346.45,373.7 346.1,374 345.75,374.39 345.4,373.9 345.05,373.88 344.7,373.86 344.35,374.83 344,373.87 343.65,374.02 343.3,374.11 342.95,375.95 342.6,374.19 342.25,374.47 341.9,373.94 341.55,374.23 341.2,378.61 340.85,374.05 340.5,373.93 340.15,373.8 339.8,374.07 339.45,374.49 339.1,374.28 338.75,373.96 338.4,374.5 338.05,374.24 337.7,374.47 337.35,374.82 337,373.89 336.65,376.48 336.3,374.36 335.95,373.76 335.6,374.44 335.25,374.88 334.9,374.13 334.55,374.11 334.2,373.93 333.85,374.03 333.5,374.46 333.15,374.61 332.8,373.88 332.45,373.81 332.1,374.27 331.75,374.38 331.4,373.84 331.05,374.29 330.7,374.48 330.35,373.67 330,373.79 329.65,374.02 329.3,374.51 328.95,375.18 328.6,373.67 328.25,373.82 327.9,375.71 327.55,373.88 327.2,374.28 326.85,374.63 326.5,376.6 326.15,374.53 325.8,373.96 325.45,374.01 325.1,374.05 324.75,374.55 324.4,374.29 324.05,374.96 323.7,373.79 323.35,376.22 323,374.31 322.65,373.89 322.3,374.01 321.95,374.05 321.6,373.99 321.25,374.63 320.9,373.96 320.55,374.39 320.2,374.12 319.85,374.18 319.5,375.54 319.15,374.14 318.8,375.38 318.45,374.41 318.1,374.53 317.75,373.79 317.4,373.99 317.05,373.97 316.7,374.14 316.35,373.79 316,374.42 315.65,374.01 315.3,374.19 314.95,374.45 314.6,374.43 314.25,373.72 313.9,374.24 313.55,374.54 313.2,375.51 312.85,374.51 312.5,374.63 312.15,373.89 311.8,373.88 311.45,374.12 311.1,374.34 310.75,373.84 310.4,374.2 310.05,373.7 309.7,375.34 309.35,373.71 309,374.21 308.65,373.67 308.3,375.41 307.95,374.37 307.6,374.57 307.25,374.06 306.9,374.3" fill="#ffb304"/><polygon points="306.9,374.05 307.25,373.95 307.6,374.16 307.95,373.97 308.3,373.78 308.65,373.77 309,374.33 309.35,373.81 309.7,374.1 310.05,374.04 310.4,373.77 310.75,373.92 311.1,374.08 311.45,374.06 311.8,374.18 312.15,373.95 312.5,374.16 312.85,373.79 313.2,374.01 313.55,374.26 313.9,374.05 314.25,373.74 314.6,374.23 314.95,373.97 315.3,371.31 315.65,374.03 316,374.18 316.35,373.79 316.7,374.17 317.05,373.93 317.4,374.33 317.75,373.79 318.1,374.27 318.45,374.04 318.8,373.83 319.15,373.78 319.5,374.25 319.85,374.09 320.2,373.83 320.55,374.27 320.9,373.85 321.25,372.92 321.6,374.23 321.95,373.84 322.3,373.78 322.65,373.88 323,374.15 323.35,373.93 323.7,374.12 324.05,373.83 324.4,374 324.75,374.11 324.82,374.21 324.82,375.82 324.75,375.66 324.4,375.67 324.05,376.05 323.7,376.19 323.35,376.84 323,376.97 322.65,377.26 322.3,378.12 321.95,377.79 321.6,378.02 321.25,378.1 320.9,378.64 320.55,378.95 320.2,378.64 319.85,379.32 319.5,379.46 319.15,379.62 318.8,379.89 318.45,380.3 318.1,380.54 317.75,380.71 317.4,380.8 317.05,381.25 316.7,381.72 316.35,381.46 316,381.8 315.65,382.27 315.3,382.19 314.95,382.55 314.6,383.02 314.25,383.1 313.9,383.58 313.55,383.43 313.2,383.97 312.85,383.91 312.5,384.27 312.15,384.63 311.8,385.03 311.45,385.24 311.1,385.23 310.75,385.79 310.4,386.24 310.05,386.25 309.7,386.59 309.35,386.9 309,387.13 308.65,387.4 308.3,387.27 307.95,387.62 307.6,388.22 307.25,388.48 306.9,388.7" fill="#4aa3e0"/><path d="M307.2 373.5V383.33M311.26 373.91V383.77" stroke="#f6c46e" stroke-width="0.8" fill="none"/><path d="M309.31 373.42V385.64" stroke="#ffb304" stroke-width="0.8" fill="none"/><polygon points="322.58,373.66 322.93,373.21 323.28,373.82 323.63,374.07 323.98,373.04 324.33,374.09 324.68,374 325.03,373.81 325.38,373.08 325.73,373.82 326.08,373.21 326.43,373.31 326.78,374.24 327.13,374.09 327.48,373.23 327.83,372.72 328.18,373.23 328.53,374.16 328.88,374 329.23,373.62 329.58,373.78 329.93,373.47 330.28,373.16 330.63,373.36 330.98,373.47 331.33,373.9 331.68,374.27 332.03,374.23 332.38,373.91 332.73,373.13 333.08,373.92 333.43,373.7 333.78,374.22 334.13,373.43 334.48,373.19 334.83,373.5 335.18,373.67 335.53,373.48 335.88,373.73 336.23,373.46 336.58,374.07 336.93,372.05 337.28,373.27 337.63,373.52 337.98,373.59 338.33,373.43 338.68,373.92 339.03,373.74 339.38,373.72 339.73,372.89 340.08,374.24 340.43,373.65 340.78,373.28 341.13,374.14 341.48,372.86 341.83,373.92 342.18,372.93 342.53,373.58 342.88,373.66 343.23,374.16 343.58,373.68 343.93,373.06 344.28,373.67 344.63,373.56 344.98,373.3 345.33,373.62 345.68,373.67 346.03,373.32 346.38,373.22 346.73,373.54 347.08,374.27 347.43,373.15 347.78,373.88 348.13,374.12 348.48,373.98 348.83,373.43 349.18,373.88 349.53,373.35 349.88,373.71 350.23,373.27 350.58,373.8 350.93,372.89 351.28,372.81 351.63,373.68 351.7,373.58 351.7,377.57 351.63,377.76 351.28,377.98 350.93,376.91 350.58,377.71 350.23,377.8 349.88,378.01 349.53,377.05 349.18,376.89 348.83,377.75 348.48,377.25 348.13,377.11 347.78,376.94 347.43,377.24 347.08,377.46 346.73,378.36 346.38,378.45 346.03,377.75 345.68,377.4 345.33,377.07 344.98,377.59 344.63,379.27 344.28,378.51 343.93,377.41 343.58,377.16 343.23,377.73 342.88,380.64 342.53,378.7 342.18,377.7 341.83,377.05 341.48,377.36 341.13,378.77 340.78,377.13 340.43,377.82 340.08,377.24 339.73,381.44 339.38,376.9 339.03,377.02 338.68,378.06 338.33,376.98 337.98,377.09 337.63,377.16 337.28,377.31 336.93,377.08 336.58,377.71 336.23,377.51 335.88,377.68 335.53,377.77 335.18,378.27 334.83,381.27 334.48,377.85 334.13,377.01 333.78,380.18 333.43,376.91 333.08,377.74 332.73,378.65 332.38,378.77 332.03,377.11 331.68,377.1 331.33,377.27 330.98,377.02 330.63,377.92 330.28,377.19 329.93,379.21 329.58,379.43 329.23,377.11 328.88,377.19 328.53,377.43 328.18,377.01 327.83,377.09 327.48,377.7 327.13,378.09 326.78,377.01 326.43,377.3 326.08,378.07 325.73,376.91 325.38,377.67 325.03,377.22 324.68,378.03 324.33,377.48 323.98,377.25 323.63,377.77 323.28,378.35 322.93,382.54 322.58,377.87" fill="#f86a30"/><path d="M322.58 376.92V378.11M330.41 375.57V378.11M339.12 376.46V378.11M347.07 376.87V378.11M351.21 375.17V378.11" stroke="#fbb090" stroke-width="0.5" fill="none"/><path d="M326.28 375.13V378.11" stroke="#ffffff" stroke-width="0.5" fill="none"/><path d="M332.48 375.1V378.11M335.78 376.22V378.11M342.42 375.08V378.11M344.92 376.39V378.11" stroke="#f9a070" stroke-width="0.5" fill="none"/><path d="M309.5 312.5V326.11M310.24 312.5V326.96M311.09 312.5V326.81M313.21 312.5V327.93" stroke="#f9c060" stroke-width="0.8" fill="none"/><path d="M311.77 312.5V327.29M312.31 312.5V326.13" stroke="#fae0a0" stroke-width="0.8" fill="none"/><path d="M313.97 312.5V327.21" stroke="#f6a040" stroke-width="0.8" fill="none"/><path d="M314 312.5V321.85M315.66 312.5V322.37M316.61 312.5V321.4M318.75 312.5V322.31M319.34 312.5V321.23M320.5 312.5V322.58" stroke="#ffffff" stroke-width="0.8" fill="none"/><path d="M314.92 312.5V322.42M317.65 312.5V321.37M321.86 312.5V322.96" stroke="#f9a070" stroke-width="0.8" fill="none"/><path d="M319.84 312.5V321.92M321.23 312.5V322.66" stroke="#fde0d0" stroke-width="0.8" fill="none"/><path d="M314.5 321V326.8M319.32 321V332.24M320.33 321V329.1" stroke="#ffb304" stroke-width="0.8" fill="none"/><path d="M315.25 321V327.99M318.79 321V330.25" stroke="#a8a080" stroke-width="0.8" fill="none"/><path d="M316.35 321V329.36M321.09 321V328.55" stroke="#d09060" stroke-width="0.8" fill="none"/><path d="M317.16 321V327.93M317.78 321V331.36" stroke="#f08040" stroke-width="0.8" fill="none"/><path d="M322 312.5V326.15M322.78 312.5V324.58M323.27 312.5V325.07M331.67 312.5V326.06M333.84 312.5V325.71" stroke="#f87040" stroke-width="0.8" fill="none"/><path d="M324.01 312.5V325.65M324.56 312.5V326.03M326.51 312.5V326.44M329.99 312.5V326.25M333.25 312.5V325.68" stroke="#fcd0b8" stroke-width="0.8" fill="none"/><path d="M325.46 312.5V324.8M326.99 312.5V325.82M327.87 312.5V326.01M328.52 312.5V325.62M328.99 312.5V326.13M330.51 312.5V325.31M331.01 312.5V325.56M332.4 312.5V325.92" stroke="#ffffff" stroke-width="0.8" fill="none"/><polygon points="334,311.14 334.35,310.62 334.7,310.94 335.05,311.44 335.4,310.67 335.75,311.1 336.1,310.57 336.45,310.97 336.8,310.69 337.15,311.28 337.5,310.92 337.85,311.83 338.2,310.86 338.55,311.71 338.9,310.78 339.25,310.85 339.6,310.66 339.95,310.9 340.3,311.36 340.65,311.73 341,311.33 341.35,311.68 341.7,310.89 342.05,311.74 342.4,310.99 342.75,311.09 343.1,311.68 343.45,310.99 343.8,310.69 344.15,310.79 344.5,311.04 344.85,311.4 345.2,311.67 345.55,311.33 345.9,310.78 346.25,310.67 346.6,311.84 346.95,311.29 347.3,311.37 347.65,310.55 348,311.14 348.35,311.15 348.7,311.38 349.05,311.19 349.4,311.14 349.75,311.27 350.1,310.81 350.45,311.66 350.8,310.22 351.15,310.83 351.5,311.32 351.7,310.7 351.7,324.12 351.5,324.8 351.15,323.86 350.8,326.78 350.45,324.79 350.1,324.49 349.75,325.21 349.4,324.26 349.05,324.87 348.7,324.63 348.35,325.78 348,323.96 347.65,324.33 347.3,325.07 346.95,324.52 346.6,324.69 346.25,324.65 345.9,330.23 345.55,325.9 345.2,324.49 344.85,324.22 344.5,324.53 344.15,324.95 343.8,325 343.45,326.95 343.1,324.21 342.75,326.7 342.4,324.61 342.05,324.95 341.7,324.88 341.35,326.07 341,324.26 340.65,324.37 340.3,327.47 339.95,324.66 339.6,324.81 339.25,324.39 338.9,326.63 338.55,324.2 338.2,324.7 337.85,324.98 337.5,324.01 337.15,324.34 336.8,324.63 336.45,324.7 336.1,323.98 335.75,324.01 335.4,324.1 335.05,324.75 334.7,327.2 334.35,324.6 334,324.52" fill="#f76a35"/><path d="M334 312.5V321.87M335.63 312.5V318.53M338.84 312.5V319.76M346.83 312.5V324.04M349.34 312.5V317M350.82 312.5V321.1" stroke="#f99070" stroke-width="0.7" fill="none"/><path d="M336.76 312.5V316.86M339.97 312.5V319.59M343.08 312.5V319.74" stroke="#fbb090" stroke-width="0.7" fill="none"/><path d="M341.63 312.5V324.05M345.06 312.5V318.41M348.08 312.5V322.43" stroke="#fde0d0" stroke-width="0.7" fill="none"/></g><path d="M172.5 318.78h1.8M351.7 318.78h-1.8M172.5 331.34h1.8M351.7 331.34h-1.8M172.5 343.89h1.8M351.7 343.89h-1.8M172.5 356.45h1.8M351.7 356.45h-1.8M172.5 369.01h1.8M351.7 369.01h-1.8M172.5 381.56h1.8M351.7 381.56h-1.8M172.5 394.12h1.8M351.7 394.12h-1.8M172.5 400.4v-1.8M172.5 312.5v1.8M217.3 400.4v-1.8M217.3 312.5v1.8M262.1 400.4v-1.8M262.1 312.5v1.8M306.9 400.4v-1.8M306.9 312.5v1.8M351.7 400.4v-1.8M351.7 312.5v1.8" stroke="#5c5c5c" stroke-width="0.9" fill="none"/><rect x="172.5" y="312.5" width="179.2" height="87.9" fill="none" stroke="#5c5c5c" stroke-width="1.1"/><text x="169.9" y="322.58" font-size="9.7" text-anchor="end">600</text><text x="169.9" y="335.14" font-size="9.7" text-anchor="end">400</text><text x="169.9" y="347.69" font-size="9.7" text-anchor="end">200</text><text x="169.9" y="360.25" font-size="9.7" text-anchor="end">0</text><text x="169.9" y="372.81" font-size="9.7" text-anchor="end">-200</text><text x="169.9" y="385.36" font-size="9.7" text-anchor="end">-400</text><text x="169.9" y="397.92" font-size="9.7" text-anchor="end">-600</text><rect x="176.5" y="315.6" width="74.5" height="24.4" fill="#fff" stroke="#5a5a5a" stroke-width="0.9"/><path d="M177.7 320.48H188.5" stroke="#6cbcec" stroke-width="1.15"/><text x="189.8" y="322.78" font-size="6.65" text-anchor="start" class="lg">PI-MRAS</text><path d="M177.7 328.04H188.5" stroke="#f6a084" stroke-width="1.15"/><text x="189.8" y="330.34" font-size="6.65" text-anchor="start" class="lg">FTSM-MRAS</text><path d="M177.7 335.61H188.5" stroke="#f7d27e" stroke-width="1.15"/><text x="189.8" y="337.91" font-size="6.65" text-anchor="start" class="lg">Adaptive STA-MRAS</text><text transform="translate(149.2,356) rotate(-90)" font-size="10.95" text-anchor="middle">Speed Error (rpm)</text><text transform="translate(148.6,294.6) rotate(-90)" font-size="10.7" text-anchor="middle">L<tspan font-size="7.5" dy="4.1">q</tspan><tspan dy="-4.1"> (pu)</tspan></text><text x="262.1" y="413.6" font-size="10.7" text-anchor="middle" class="pl">(e)</text><rect x="172.5" y="419.5" width="179.3" height="89.3" fill="#fff"/><path d="M217.32 419.5V508.8M262.15 419.5V508.8M306.98 419.5V508.8M172.5 430.66H351.8M172.5 441.82H351.8M172.5 452.99H351.8M172.5 464.15H351.8M172.5 475.31H351.8M172.5 486.48H351.8M172.5 497.64H351.8" stroke="#c2c2c2" stroke-width="0.8" fill="none"/><clipPath id="c9"><rect x="172.5" y="419.5" width="179.3" height="89.3"/></clipPath><g clip-path="url(#c9)"><polygon points="172.5,462.19 172.85,462.13 173.2,462.01 173.55,462.11 173.9,462.04 174.25,462.13 174.6,462 174.95,462.04 175.3,462.18 175.65,462.06 176,461.49 176.35,462.12 176.7,462.11 177.05,462.07 177.4,462.15 177.75,462.19 178.1,462.02 178.45,462.15 178.8,462.19 179.15,462.01 179.5,462.11 179.85,462 180.2,462.08 180.55,462.05 180.9,462.19 181.25,462.17 181.6,462.13 181.95,462.03 182.3,462.02 182.65,462.14 183,462 183.35,462.14 183.7,462.01 184.05,462.13 184.4,462.07 184.75,461.98 185.1,462.11 185.45,462.19 185.8,462 186.15,462 186.5,462.05 186.85,461.89 187.2,462.1 187.55,462.02 187.9,462.03 188.25,462.13 188.6,462.11 188.95,462.06 189.3,462.13 189.65,462 190,462.19 190.35,462.06 190.7,462.16 191.05,462.09 191.4,462.17 191.75,462.2 192.1,462.09 192.45,462.19 192.8,462.02 193.15,462.2 193.5,462.01 193.85,462 194.2,462.09 194.55,462.04 194.9,461.82 195.25,462.02 195.6,461.99 195.95,462.02 196.3,462.03 196.65,462.01 197,462.04 197.35,461.24 197.7,462.11 198.05,462.15 198.4,461.84 198.75,462.12 199.1,462.17 199.45,462.07 199.8,462.03 200.15,462.05 200.5,462.06 200.85,462.09 201.2,462.02 201.55,462.09 201.9,462.06 202.25,462.18 202.6,462.06 202.95,462.05 203.3,462.07 203.65,462.15 204,462.03 204.35,462.01 204.7,462.04 205.05,462.01 205.4,462.09 205.75,462.09 206.1,462.15 206.45,462.15 206.8,462.05 207.15,462.11 207.5,461.69 207.85,462.17 208.2,462.09 208.55,462.18 208.9,462.07 209.25,462.11 209.6,462.01 209.95,462.15 210.3,462.08 210.65,462.19 211,462.07 211.35,462.18 211.7,462.03 212.05,462.07 212.4,462.02 212.75,462.17 213.1,462.12 213.45,462.19 213.8,462.15 214.15,462.04 214.5,462.13 214.85,462 215.2,462.17 215.55,462.14 215.9,462 216.25,462.09 216.6,462.11 216.95,462.08 217.3,462.01 217.65,462.17 218,462.05 218.35,462.14 218.7,462.04 219.05,462.19 219.4,462.04 219.75,462.02 220.1,462.04 220.45,462 220.8,462.15 221.15,462.14 221.5,462.01 221.85,462.18 222.2,462.07 222.55,462.02 222.9,461.71 223.25,462.09 223.6,462.09 223.95,462.15 224.3,462.16 224.65,462 225,462.03 225.35,462.11 225.7,462.04 226.05,462.09 226.4,462.15 226.75,462.13 227.1,462.06 227.45,462.19 227.8,462.05 228.15,462.1 228.5,462.11 228.85,462.19 229.2,462.03 229.55,462.06 229.9,462.04 230.25,462.19 230.6,462.05 230.95,462.01 231.3,462.19 231.65,462.09 232,462.04 232.35,462.07 232.7,462.05 233.05,462.01 233.4,462.02 233.75,462.13 234.1,462.04 234.45,462.1 234.8,462.05 235.15,462.05 235.5,462.16 235.85,462.19 236.2,462.14 236.55,461.86 236.9,461.73 237.25,462.19 237.6,462.12 237.95,462.06 238.3,462.01 238.65,462.06 239,461.86 239.35,462.17 239.7,462.12 240.05,462.09 240.4,462.15 240.75,462.05 241.1,462.02 241.45,462.17 241.8,462.06 242.15,462.1 242.5,462.17 242.85,462.17 243.2,462.09 243.55,462.11 243.9,462.05 244.25,462.11 244.6,462.1 244.95,462.16 245.3,462.11 245.65,462.03 246,462.12 246.35,462.18 246.7,461.91 247.05,462 247.4,462.13 247.75,462.08 248.1,462.15 248.45,462.15 248.8,462.19 249.15,462.04 249.5,462.17 249.85,462.05 250.2,462.16 250.55,462.02 250.9,462.01 251.25,462.12 251.6,462.05 251.95,462 252.3,461.94 252.65,462.17 253,462.1 253.35,462.05 253.7,462.01 254.05,462.05 254.4,462.01 254.75,462.04 255.1,462.07 255.45,462.18 255.8,462.07 256.15,462.17 256.5,462.1 256.85,462.01 257.2,462.18 257.55,462.18 257.9,462 258.25,462.12 258.6,462.14 258.95,462.13 259.3,462.07 259.65,462.04 260,462.08 260.35,462.17 260.7,462.04 261.05,462.04 261.4,462.08 261.75,462.04 262.1,462.19 262.45,462.01 262.8,462.08 263.15,462.08 263.5,462.12 263.85,462.09 264.2,461.98 264.55,462.1 264.9,462.19 265.25,462.09 265.6,462.12 265.95,462.06 266.3,462.14 266.65,462.04 267,462.18 267.35,462.03 267.7,462.08 268.05,462.02 268.4,462.03 268.75,462.01 269.1,461.83 269.45,462.14 269.8,462.1 270.15,462.07 270.5,461.91 270.85,462.02 271.2,462.12 271.55,462.05 271.9,462.09 272.25,462.02 272.6,462.08 272.95,462.15 273.3,462.15 273.65,462.13 274,462.06 274.35,462.16 274.7,462.08 275.05,462.04 275.4,462.19 275.75,462.09 276.1,462.03 276.45,462.05 276.8,462.13 277.15,461.87 277.5,462.13 277.85,462.19 278.2,462.11 278.55,462 278.9,462.18 279.25,462.16 279.6,462.08 279.95,462.17 280.3,462.01 280.65,462.16 281,462.11 281.35,462.11 281.7,462.16 282.05,462.1 282.4,462.12 282.75,462.14 283.1,462.11 283.45,462.04 283.8,462.03 284.15,462.02 284.5,462.1 284.85,462 285.2,462.15 285.55,462.02 285.9,462.13 286.25,462.11 286.6,462 286.95,462.1 287.3,462.01 287.65,462.19 288,462.1 288.35,462.19 288.7,462.01 289.05,462.04 289.4,462.03 289.75,462.02 290.1,462.17 290.45,461.89 290.8,462.12 291.15,462.05 291.5,462.1 291.85,462.09 292.2,462.15 292.55,462.01 292.9,462.16 293.25,462.05 293.6,462.05 293.95,462.07 294.3,461.94 294.65,461.94 295,462.04 295.35,461.74 295.7,462.03 296.05,462.08 296.4,462.07 296.75,462 297.1,462.1 297.45,462.12 297.8,462.06 298.15,462.19 298.5,462.01 298.85,462.12 299.2,462.13 299.55,462.19 299.9,462.06 300.25,462.08 300.6,462.09 300.95,462.08 301.3,462.1 301.65,462.14 302,461.76 302.35,462.1 302.7,462.13 303.05,462.08 303.4,462.12 303.75,462.17 304.1,461.96 304.45,462.12 304.8,462.11 305.15,462.06 305.5,462.17 305.85,462.12 306.2,462.01 306.55,462.01 306.9,462.15 306.98,462.01 306.98,466.84 306.9,467.3 306.55,466.86 306.2,466.75 305.85,466.8 305.5,466.71 305.15,466.99 304.8,466.86 304.45,466.86 304.1,466.83 303.75,466.74 303.4,466.82 303.05,466.74 302.7,466.84 302.35,466.79 302,466.68 301.65,466.8 301.3,466.87 300.95,466.85 300.6,466.8 300.25,466.8 299.9,466.79 299.55,466.81 299.2,466.77 298.85,466.88 298.5,466.79 298.15,466.87 297.8,466.7 297.45,466.75 297.1,466.88 296.75,466.86 296.4,466.81 296.05,466.79 295.7,466.75 295.35,466.8 295,466.81 294.65,466.87 294.3,466.76 293.95,466.85 293.6,466.8 293.25,466.7 292.9,466.71 292.55,466.87 292.2,466.7 291.85,466.86 291.5,466.74 291.15,466.8 290.8,466.76 290.45,466.76 290.1,466.77 289.75,466.78 289.4,466.82 289.05,466.73 288.7,466.76 288.35,466.81 288,466.76 287.65,466.75 287.3,466.87 286.95,466.87 286.6,466.88 286.25,466.71 285.9,466.78 285.55,466.78 285.2,466.76 284.85,466.82 284.5,466.76 284.15,466.84 283.8,466.8 283.45,466.82 283.1,466.72 282.75,466.78 282.4,466.72 282.05,466.87 281.7,466.83 281.35,466.71 281,466.87 280.65,466.85 280.3,466.83 279.95,466.86 279.6,466.84 279.25,466.84 278.9,466.87 278.55,466.8 278.2,466.69 277.85,466.83 277.5,466.75 277.15,466.86 276.8,466.68 276.45,466.83 276.1,466.84 275.75,466.75 275.4,467.02 275.05,466.73 274.7,466.78 274.35,466.71 274,466.76 273.65,466.74 273.3,466.83 272.95,466.75 272.6,466.87 272.25,466.84 271.9,466.77 271.55,466.83 271.2,466.82 270.85,466.75 270.5,466.78 270.15,466.76 269.8,466.84 269.45,466.75 269.1,466.86 268.75,466.85 268.4,466.8 268.05,466.8 267.7,466.69 267.35,466.69 267,466.72 266.65,466.73 266.3,467.61 265.95,466.88 265.6,466.71 265.25,466.88 264.9,466.68 264.55,466.78 264.2,466.77 263.85,466.71 263.5,466.8 263.15,466.81 262.8,466.69 262.45,466.8 262.1,466.75 261.75,466.77 261.4,466.85 261.05,466.8 260.7,466.8 260.35,466.7 260,466.79 259.65,466.84 259.3,466.73 258.95,466.84 258.6,466.84 258.25,466.86 257.9,466.69 257.55,466.79 257.2,466.8 256.85,466.72 256.5,466.79 256.15,466.84 255.8,466.86 255.45,466.75 255.1,466.8 254.75,466.71 254.4,466.87 254.05,466.74 253.7,466.8 253.35,466.69 253,466.74 252.65,466.87 252.3,466.69 251.95,466.77 251.6,466.73 251.25,466.83 250.9,466.71 250.55,466.69 250.2,466.77 249.85,466.76 249.5,466.8 249.15,466.88 248.8,466.84 248.45,466.8 248.1,466.82 247.75,466.85 247.4,466.86 247.05,466.84 246.7,466.83 246.35,466.74 246,466.82 245.65,466.82 245.3,466.86 244.95,466.73 244.6,466.73 244.25,466.83 243.9,466.82 243.55,466.7 243.2,466.83 242.85,466.73 242.5,466.8 242.15,466.86 241.8,466.83 241.45,467.1 241.1,466.78 240.75,466.85 240.4,466.79 240.05,466.8 239.7,466.8 239.35,466.69 239,466.76 238.65,466.81 238.3,466.81 237.95,466.79 237.6,466.83 237.25,466.75 236.9,466.69 236.55,466.7 236.2,466.74 235.85,466.78 235.5,467.11 235.15,466.76 234.8,466.78 234.45,466.71 234.1,466.85 233.75,466.77 233.4,466.75 233.05,466.72 232.7,466.75 232.35,466.79 232,466.72 231.65,466.71 231.3,466.69 230.95,466.83 230.6,466.74 230.25,466.73 229.9,466.73 229.55,466.85 229.2,466.73 228.85,466.69 228.5,466.73 228.15,466.84 227.8,466.69 227.45,466.69 227.1,466.89 226.75,466.79 226.4,466.72 226.05,466.81 225.7,466.71 225.35,466.72 225,466.7 224.65,466.72 224.3,466.72 223.95,466.89 223.6,466.82 223.25,466.87 222.9,466.8 222.55,466.72 222.2,466.73 221.85,466.96 221.5,466.8 221.15,466.84 220.8,466.83 220.45,466.76 220.1,466.69 219.75,467.39 219.4,466.8 219.05,466.86 218.7,466.73 218.35,466.73 218,466.75 217.65,466.83 217.3,466.82 216.95,466.7 216.6,466.8 216.25,466.86 215.9,466.8 215.55,466.87 215.2,467.1 214.85,466.76 214.5,466.88 214.15,466.69 213.8,466.72 213.45,466.87 213.1,466.85 212.75,466.85 212.4,466.69 212.05,466.82 211.7,466.86 211.35,466.8 211,467.11 210.65,466.79 210.3,466.86 209.95,466.76 209.6,466.82 209.25,466.75 208.9,466.84 208.55,466.82 208.2,466.72 207.85,466.99 207.5,466.81 207.15,466.81 206.8,466.74 206.45,466.82 206.1,466.76 205.75,466.72 205.4,466.83 205.05,466.73 204.7,466.76 204.35,466.79 204,466.76 203.65,466.72 203.3,466.77 202.95,466.84 202.6,466.76 202.25,466.86 201.9,466.76 201.55,466.83 201.2,466.74 200.85,466.81 200.5,466.82 200.15,466.72 199.8,466.77 199.45,466.88 199.1,466.75 198.75,466.81 198.4,466.78 198.05,466.78 197.7,466.7 197.35,466.79 197,466.8 196.65,466.86 196.3,466.7 195.95,466.79 195.6,466.73 195.25,466.84 194.9,466.77 194.55,466.69 194.2,466.77 193.85,466.82 193.5,466.73 193.15,466.69 192.8,466.7 192.45,466.77 192.1,466.83 191.75,466.86 191.4,467.07 191.05,466.71 190.7,466.84 190.35,466.78 190,466.85 189.65,466.86 189.3,466.86 188.95,466.7 188.6,466.76 188.25,466.7 187.9,466.74 187.55,466.86 187.2,466.72 186.85,466.77 186.5,466.82 186.15,466.8 185.8,466.88 185.45,466.85 185.1,466.74 184.75,466.72 184.4,466.72 184.05,466.75 183.7,466.74 183.35,466.77 183,466.87 182.65,466.76 182.3,466.81 181.95,466.71 181.6,466.85 181.25,466.87 180.9,466.69 180.55,466.85 180.2,466.88 179.85,466.86 179.5,466.83 179.15,466.88 178.8,466.79 178.45,466.82 178.1,466.86 177.75,466.73 177.4,466.71 177.05,466.71 176.7,466.8 176.35,466.81 176,466.73 175.65,466.86 175.3,466.8 174.95,466.86 174.6,466.85 174.25,466.82 173.9,466.74 173.55,466.88 173.2,466.8 172.85,466.73 172.5,466.86" fill="#0a72d0"/><polygon points="217.32,450.62 217.67,451.32 218.02,451.7 218.37,452.33 218.72,452.9 219.07,453.43 219.42,453.73 219.77,454.16 220.12,454.57 220.47,455.01 220.82,455.37 221.17,455.55 221.52,455.85 221.87,456.33 222.22,456.78 222.57,456.71 222.92,457.12 223.27,457.54 223.62,457.54 223.97,457.7 224.32,458.14 224.67,458.41 225.02,458.6 225.37,458.83 225.72,458.71 226.07,458.89 226.42,459.1 226.77,459.19 227.12,459.47 227.47,459.64 227.82,459.71 228.17,460 228.52,459.96 228.87,459.91 229.22,459.97 229.57,460.31 229.92,460.19 230.27,460.29 230.62,460.64 230.97,460.65 231.32,460.49 231.67,460.83 232.02,460.64 232.37,460.74 232.72,461.13 233.07,460.84 233.42,461.2 233.77,461.04 234.12,460.97 234.47,461.21 234.82,461.13 235.17,461.14 235.52,461.39 235.87,461.41 236.22,461.59 236.57,461.36 236.92,461.64 237.27,461.65 237.62,461.61 237.97,461.61 238.32,461.75 238.67,461.49 239.02,461.83 239.37,461.78 239.72,461.87 240.07,461.8 240.42,461.89 240.77,461.76 241.12,461.67 241.47,461.71 241.82,461.71 242.17,461.96 242.52,461.79 242.87,461.98 243.22,461.69 243.57,461.75 243.92,461.72 244.27,461.42 244.62,462.1 244.97,461.8 245.32,461.89 245.67,461.9 246.02,461.93 246.37,461.79 246.72,461.77 247.07,462 247.42,461.81 247.77,461.91 248.12,461.9 248.47,461.92 248.82,461.81 249.17,461.96 249.52,462.11 249.87,461.93 250.22,462.12 250.57,461.87 250.92,461.7 251.27,462.14 251.62,461.92 251.97,462.18 252.32,461.91 252.67,462.15 253.02,462.18 253.37,462.06 253.72,461.88 254.07,462 254.42,461.91 254.77,461.98 255.12,461.99 255.47,462.09 255.82,461.95 256.17,462.03 256.52,462.13 256.87,462.22 257.22,461.99 257.57,462.2 257.92,462.21 258.27,462.2 258.62,462.27 258.97,462 259.32,461.93 259.67,462.09 260.02,462.15 260.37,462.24 260.72,462.13 261.07,462.22 261.42,462.17 261.77,462.28 262.12,462.02 262.15,462.02 262.15,466.78 262.12,466.95 261.77,466.95 261.42,466.64 261.07,466.96 260.72,466.81 260.37,466.74 260.02,466.84 259.67,466.86 259.32,466.78 258.97,467 258.62,466.98 258.27,466.7 257.92,466.98 257.57,466.85 257.22,466.85 256.87,466.72 256.52,466.7 256.17,466.88 255.82,466.72 255.47,466.74 255.12,466.93 254.77,466.99 254.42,466.96 254.07,467.07 253.72,466.79 253.37,466.65 253.02,466.77 252.67,466.71 252.32,467.02 251.97,466.69 251.62,467 251.27,466.95 250.92,467.03 250.57,466.88 250.22,466.91 249.87,466.93 249.52,466.91 249.17,467.01 248.82,467.1 248.47,466.9 248.12,466.87 247.77,467.01 247.42,467.05 247.07,466.83 246.72,467.09 246.37,466.79 246.02,466.93 245.67,467.16 245.32,467 244.97,466.94 244.62,466.9 244.27,466.99 243.92,467.04 243.57,467.09 243.22,467.1 242.87,467.27 242.52,467.21 242.17,467.03 241.82,467.38 241.47,467.02 241.12,467.11 240.77,467.02 240.42,467.15 240.07,467.1 239.72,467.13 239.37,467.35 239.02,467.4 238.67,467.4 238.32,467.22 237.97,467.49 237.62,467.47 237.27,467.45 236.92,467.74 236.57,467.52 236.22,467.72 235.87,467.69 235.52,468 235.17,468.06 234.82,468.31 234.47,467.96 234.12,467.88 233.77,468.11 233.42,468.13 233.07,467.99 232.72,468.21 232.37,468.3 232.02,468.2 231.67,468.5 231.32,468.54 230.97,468.67 230.62,468.59 230.27,468.91 229.92,468.8 229.57,469.07 229.22,469.08 228.87,469.2 228.52,469.56 228.17,469.45 227.82,469.81 227.47,469.74 227.12,470 226.77,470.15 226.42,470.31 226.07,470.7 225.72,470.9 225.37,471.19 225.02,471.11 224.67,471.61 224.32,471.58 223.97,472.07 223.62,472.22 223.27,472.51 222.92,472.81 222.57,473.35 222.22,473.64 221.87,473.91 221.52,474.14 221.17,474.67 220.82,474.99 220.47,475.57 220.12,475.94 219.77,476.48 219.42,476.93 219.07,477.63 218.72,478.12 218.37,478.89 218.02,479.49 217.67,480.05 217.32,480.73" fill="#0a72d0"/><polygon points="264.17,440.85 264.52,440.88 264.87,440.95 265.22,441.03 265.57,440.74 265.92,440.87 266.27,440.82 266.62,440.59 266.97,440.85 267.32,441.1 267.67,441.04 268.02,441.09 268.35,440.97 268.35,464.03 268.02,464.34 267.67,464.2 267.32,464.1 266.97,464.11 266.62,463.96 266.27,464.24 265.92,464.14 265.57,464.04 265.22,464.12 264.87,464.23 264.52,463.97 264.17,464.22" fill="#3a9ad9"/><polygon points="262.15,455.38 262.5,455.74 262.85,456.09 263.2,456.06 263.55,456.4 263.9,456.61 264.25,457.09 264.6,457.19 264.95,457.76 265.3,457.2 265.65,458.15 266,458.27 266.35,458.35 266.7,458.64 267.05,458.66 267.4,459.09 267.75,458.94 268.1,459.38 268.45,459.45 268.8,459.38 269.15,459.81 269.5,459.78 269.85,460.1 270.2,459.89 270.55,460.22 270.9,460.12 271.25,460.17 271.6,460.48 271.95,460.33 272.3,460.55 272.65,460.56 273,460.86 273.35,460.66 273.7,460.86 274.05,460.87 274.4,461.11 274.75,461.19 275.1,461.09 275.45,461.29 275.8,461.25 276.15,461.3 276.5,461.35 276.85,461.28 277.2,461.42 277.55,461.29 277.9,461.47 278.25,461.45 278.6,461.58 278.95,461.55 279.3,461.46 279.65,461.65 280,461.63 280.35,461.46 280.7,461.71 281.05,461.53 281.4,461.56 281.75,461.87 282.1,461.86 282.45,461.93 282.8,461.71 283.15,461.82 283.5,461.79 283.85,461.46 284.2,461.67 284.55,461.83 284.9,461.92 285.25,461.89 285.6,461.73 285.95,462.09 286.3,461.71 286.65,461.98 287,461.42 287.35,461.9 287.7,461.9 288.05,462 288.4,461.99 288.75,461.78 289.1,461.88 289.45,461.85 289.8,461.83 290.15,462.14 290.5,462 290.85,461.91 291.2,462.1 291.55,461.75 291.9,461.86 292.25,462.14 292.6,462.06 292.95,461.91 293.3,461.96 293.65,462.06 294,462 294.35,462.19 294.7,461.93 295.05,461.89 295.4,462.21 295.75,462.2 296.1,461.97 296.45,462.24 296.8,461.88 297.15,462.2 297.5,461.77 297.85,461.96 298.2,461.72 298.55,462.17 298.9,462.02 299.25,462.23 299.6,462.16 299.95,461.9 300.3,461.94 300.65,462.16 301,462.26 301.35,462.18 301.7,461.96 302.05,461.9 302.4,462.12 302.75,462.25 303.1,462.08 303.45,462.08 303.8,462.27 304.15,462.16 304.5,462.2 304.85,461.89 305.2,462.23 305.55,462.01 305.9,461.98 306.25,461.56 306.6,462.06 306.95,461.94 306.98,462.09 306.98,466.67 306.95,467 306.6,466.97 306.25,466.74 305.9,466.86 305.55,466.7 305.2,466.79 304.85,466.88 304.5,466.68 304.15,466.83 303.8,466.64 303.45,466.76 303.1,466.69 302.75,466.96 302.4,466.65 302.05,467.73 301.7,466.8 301.35,467.08 301,466.83 300.65,466.71 300.3,467.03 299.95,466.99 299.6,466.9 299.25,466.75 298.9,466.92 298.55,466.71 298.2,466.84 297.85,467.02 297.5,466.86 297.15,467.73 296.8,466.95 296.45,466.81 296.1,467.03 295.75,466.91 295.4,466.74 295.05,466.99 294.7,466.82 294.35,466.9 294,467.09 293.65,467.03 293.3,466.76 292.95,467.11 292.6,466.82 292.25,467.06 291.9,467.09 291.55,466.83 291.2,467.14 290.85,466.88 290.5,467.07 290.15,467.18 289.8,466.97 289.45,467.21 289.1,467.23 288.75,467.22 288.4,467.25 288.05,466.94 287.7,466.95 287.35,467.1 287,467.09 286.65,467.26 286.3,467.27 285.95,467.15 285.6,467.32 285.25,467.45 284.9,467.16 284.55,467.13 284.2,467.2 283.85,467.57 283.5,468.21 283.15,467.48 282.8,467.53 282.45,467.41 282.1,467.62 281.75,467.67 281.4,467.47 281.05,467.73 280.7,467.52 280.35,467.62 280,467.86 279.65,467.76 279.3,468.12 278.95,468.17 278.6,468.12 278.25,468.09 277.9,468.11 277.55,468.21 277.2,468.72 276.85,468.39 276.5,468.38 276.15,468.71 275.8,468.65 275.45,468.76 275.1,469.1 274.75,468.87 274.4,469.19 274.05,469.46 273.7,469.56 273.35,469.42 273,469.82 272.65,469.91 272.3,470.16 271.95,470.41 271.6,470.33 271.25,470.41 270.9,470.91 270.55,470.92 270.2,471.1 269.85,471.38 269.5,471.8 269.15,472 268.8,472.36 268.45,472.73 268.1,473 267.75,473.2 267.4,473.44 267.05,474.06 266.7,474.1 266.35,474.88 266,475.31 265.65,475.69 265.3,475.87 264.95,476.37 264.6,477.23 264.25,477.63 263.9,478.15 263.55,478.77 263.2,479.54 262.85,480.04 262.5,480.89 262.15,481.55" fill="#0a72d0"/><polygon points="172.5,463.17 172.85,463.18 173.2,463.07 173.55,463.23 173.9,463.29 174.25,463.14 174.6,463.23 174.95,463.27 175.3,463.3 175.65,463.17 176,463.19 176.35,463.21 176.7,463.11 177.05,463.16 177.4,463.29 177.75,463.29 178.1,463.18 178.45,463.17 178.8,463.23 179.15,463.28 179.5,463.2 179.85,463.16 180.2,463.19 180.55,463.12 180.9,463.14 181.25,463.28 181.6,463.23 181.95,463.18 182.3,463.18 182.65,463.13 183,463.15 183.35,463.28 183.7,463.13 184.05,463.19 184.4,462.72 184.75,463.14 185.1,463.22 185.45,463.2 185.8,463.21 186.15,463.3 186.5,463.15 186.85,463.18 187.2,463.22 187.55,463.19 187.9,463.17 188.25,463.09 188.6,463.12 188.95,463.17 189.3,463.17 189.65,463.19 190,463.21 190.35,463.28 190.7,463.24 191.05,463.26 191.4,463.15 191.75,463.13 192.1,463.14 192.45,463.25 192.8,463.17 193.15,463.27 193.5,463.29 193.85,463.18 194.2,463.12 194.55,463.23 194.9,463.19 195.25,463.23 195.6,463.21 195.95,463.25 196.3,463.29 196.65,463.16 197,463.2 197.35,463.12 197.7,463.13 198.05,463.25 198.4,463.26 198.75,463.14 199.1,463.28 199.45,463.16 199.8,463.23 200.15,463.22 200.5,463.23 200.85,463.21 201.2,463.28 201.55,463.24 201.9,462.92 202.25,463.13 202.6,463.12 202.95,463.31 203.3,463.16 203.65,463.16 204,463.13 204.35,463.23 204.7,463.29 205.05,463.18 205.4,463.18 205.75,463.28 206.1,463.27 206.45,463.31 206.8,463.16 207.15,463.14 207.5,463.26 207.85,463.23 208.2,463.14 208.55,463.2 208.9,463.2 209.25,463.29 209.6,463.28 209.95,463.22 210.3,463.24 210.65,463.17 211,463.23 211.35,463.12 211.7,463.17 212.05,463.19 212.4,463.3 212.75,463.27 213.1,463.2 213.45,463.26 213.8,463.25 214.15,463.21 214.5,463.18 214.85,463.2 215.2,463.2 215.55,463.17 215.9,463.15 216.25,463.29 216.6,463.12 216.95,463.24 217.3,463.25 217.65,463.12 218,463.15 218.35,463.25 218.7,463.23 219.05,463.29 219.4,463.23 219.75,463.14 220.1,463.28 220.45,463.14 220.8,463.25 221.15,463.15 221.5,463.28 221.85,463.15 222.2,463.14 222.55,463.12 222.9,463.27 223.25,463.21 223.6,463.17 223.95,463.28 224.3,463.14 224.65,463.23 225,461.97 225.35,463.19 225.7,463.21 226.05,463.3 226.4,463.21 226.75,463.27 227.1,463.18 227.45,463.18 227.8,463.2 228.15,463.04 228.5,463.22 228.85,463 229.2,463.2 229.55,463.13 229.9,463.24 230.25,463.26 230.6,463.2 230.95,463.15 231.3,463.22 231.65,463.13 232,462.93 232.35,463.28 232.7,463.2 233.05,463.13 233.4,463.13 233.75,463.24 234.1,463.27 234.45,463.25 234.8,463.24 235.15,463.29 235.5,463.13 235.85,463.13 236.2,463.29 236.55,463.16 236.9,463.25 237.25,463.14 237.6,463.15 237.95,463.2 238.3,463.17 238.65,463.21 239,463.23 239.35,463.23 239.7,463.18 240.05,463.14 240.4,463.17 240.75,463.27 241.1,463.26 241.45,463.21 241.8,463.31 242.15,463.12 242.5,463.23 242.85,463.15 243.2,463.19 243.55,463.12 243.9,463.29 244.25,463.29 244.6,463.29 244.95,463.29 245.3,463.24 245.65,463.12 246,463.27 246.35,463.2 246.7,463.18 247.05,462.67 247.4,462.57 247.75,463.29 248.1,463.24 248.45,463.28 248.8,463.16 249.15,463.18 249.5,463.14 249.85,463.29 250.2,463.21 250.55,463.3 250.9,463.17 251.25,463.25 251.6,463.2 251.95,463.16 252.3,463.19 252.65,463.17 253,463.23 253.35,463.05 253.7,462.84 254.05,463.29 254.4,463.24 254.75,463.13 255.1,463.22 255.45,463.29 255.8,463.3 256.15,463.23 256.5,463.2 256.85,463.23 257.2,463.16 257.55,463.2 257.9,463.23 258.25,463.23 258.6,463.17 258.95,462.96 259.3,462.64 259.65,463.19 260,463.27 260.35,463.22 260.7,463.14 261.05,463.2 261.4,463.28 261.75,463.25 262.1,463.29 262.45,463.24 262.8,463.12 263.15,463.13 263.5,463.16 263.85,463.21 264.2,463.29 264.55,463.12 264.9,463.21 265.25,463.1 265.6,463.3 265.95,463.27 266.3,463.31 266.65,463.26 267,463.13 267.35,463.27 267.7,463.26 268.05,463.16 268.4,463.2 268.75,463.29 269.1,463.3 269.45,463.23 269.8,463.3 270.15,463.22 270.5,463.16 270.85,463.19 271.2,463.3 271.55,463.21 271.9,463.18 272.25,463.3 272.6,463.18 272.95,463.13 273.3,463.16 273.65,463.22 274,463.21 274.35,463.26 274.7,463.24 275.05,463.15 275.4,463.04 275.75,463.15 276.1,463.19 276.45,463.22 276.8,463.31 277.15,463.28 277.5,463.3 277.85,463.29 278.2,463.24 278.55,463.29 278.9,463.28 279.25,463.11 279.6,463.16 279.95,463.22 280.3,463.19 280.65,463.16 281,463.29 281.35,463.11 281.7,463.27 282.05,463.22 282.4,463.23 282.75,463.1 283.1,463.27 283.45,463.22 283.8,463.03 284.15,463.13 284.5,463.15 284.85,463.26 285.2,463.31 285.55,463.14 285.9,463.23 286.25,463.25 286.6,463.19 286.95,463.31 287.3,463.13 287.65,463.27 288,463.12 288.35,463.21 288.7,463.22 289.05,463.12 289.4,463.26 289.75,463.24 290.1,463.25 290.45,463.31 290.8,463.21 291.15,462.96 291.5,463.23 291.85,463.29 292.2,462.92 292.55,463.26 292.9,463.24 293.25,463.25 293.6,463.29 293.95,463.21 294.3,463.23 294.65,463.2 295,463.21 295.35,463.13 295.7,463.29 296.05,463.16 296.4,463.14 296.75,463.18 297.1,463.31 297.45,463.24 297.8,463.26 298.15,463.28 298.5,463.21 298.85,463.22 299.2,462.67 299.55,463.18 299.9,463.22 300.25,463.14 300.6,463.28 300.95,463.14 301.3,463.2 301.65,463.21 302,463.15 302.35,463.18 302.7,463.17 303.05,463.21 303.4,463.12 303.75,463.21 304.1,463.16 304.45,463.15 304.8,463.3 305.15,463.17 305.5,463.13 305.85,463.23 306.2,463.29 306.55,463.24 306.9,463.19 306.98,463.26 306.98,466.07 306.9,466.03 306.55,466.07 306.2,465.94 305.85,466.06 305.5,465.93 305.15,465.94 304.8,466.01 304.45,466.03 304.1,465.9 303.75,465.92 303.4,466.07 303.05,466.06 302.7,466.06 302.35,465.99 302,466.08 301.65,466.01 301.3,466.06 300.95,466.12 300.6,465.9 300.25,466.01 299.9,466.03 299.55,465.98 299.2,465.94 298.85,466.01 298.5,466.06 298.15,465.9 297.8,466.73 297.45,465.93 297.1,465.99 296.75,466.03 296.4,466.04 296.05,466.01 295.7,465.94 295.35,465.93 295,466.03 294.65,465.98 294.3,465.99 293.95,465.94 293.6,465.93 293.25,466.05 292.9,465.94 292.55,465.9 292.2,465.94 291.85,466.1 291.5,465.96 291.15,465.95 290.8,465.93 290.45,466.02 290.1,465.92 289.75,465.93 289.4,465.97 289.05,466.07 288.7,465.94 288.35,465.89 288,465.92 287.65,465.98 287.3,466 286.95,466.05 286.6,466.07 286.25,466.08 285.9,465.95 285.55,465.9 285.2,466.01 284.85,466.05 284.5,466.05 284.15,465.96 283.8,465.99 283.45,465.93 283.1,465.9 282.75,465.89 282.4,465.91 282.05,465.89 281.7,465.9 281.35,465.99 281,466.11 280.65,466.79 280.3,465.93 279.95,466.01 279.6,465.9 279.25,466.03 278.9,466.06 278.55,465.93 278.2,465.89 277.85,465.98 277.5,465.93 277.15,465.98 276.8,465.92 276.45,466.02 276.1,466.03 275.75,465.98 275.4,465.92 275.05,465.97 274.7,466.08 274.35,466.17 274,465.98 273.65,465.93 273.3,465.88 272.95,466.27 272.6,466.06 272.25,466.07 271.9,465.97 271.55,466.07 271.2,465.95 270.85,465.99 270.5,466.06 270.15,466 269.8,466.05 269.45,465.94 269.1,465.99 268.75,466.07 268.4,465.96 268.05,465.96 267.7,466.35 267.35,465.92 267,466.06 266.65,466.08 266.3,465.95 265.95,466.06 265.6,466.04 265.25,465.99 264.9,466.03 264.55,466.07 264.2,465.92 263.85,466.04 263.5,465.91 263.15,466 262.8,466.06 262.45,466.07 262.1,465.96 261.75,465.91 261.4,465.98 261.05,465.96 260.7,466.08 260.35,465.95 260,465.92 259.65,466.06 259.3,465.97 258.95,466.25 258.6,466.03 258.25,465.98 257.9,466.02 257.55,465.98 257.2,465.93 256.85,465.92 256.5,466.02 256.15,465.94 255.8,466.06 255.45,465.97 255.1,466.01 254.75,465.9 254.4,466.12 254.05,465.94 253.7,465.93 253.35,466.07 253,466.03 252.65,465.94 252.3,465.91 251.95,465.94 251.6,465.94 251.25,465.96 250.9,465.97 250.55,466.05 250.2,466.21 249.85,465.98 249.5,465.99 249.15,465.88 248.8,465.92 248.45,465.93 248.1,465.96 247.75,465.9 247.4,466.06 247.05,466.05 246.7,465.97 246.35,466.03 246,465.93 245.65,466.34 245.3,465.95 244.95,466.34 244.6,465.95 244.25,466.13 243.9,465.98 243.55,466 243.2,466.76 242.85,466.07 242.5,465.98 242.15,466.02 241.8,466 241.45,465.9 241.1,466.01 240.75,465.98 240.4,465.97 240.05,466.07 239.7,465.97 239.35,465.95 239,465.91 238.65,466.02 238.3,466.06 237.95,465.9 237.6,466.02 237.25,465.99 236.9,466.01 236.55,466.07 236.2,466.05 235.85,466.06 235.5,466.05 235.15,465.94 234.8,465.93 234.45,465.98 234.1,466.23 233.75,466.01 233.4,466.06 233.05,465.92 232.7,465.91 232.35,465.96 232,465.99 231.65,466.37 231.3,466.07 230.95,465.95 230.6,465.98 230.25,465.9 229.9,465.89 229.55,466 229.2,466.08 228.85,465.94 228.5,466.05 228.15,465.94 227.8,465.97 227.45,465.97 227.1,466.05 226.75,466.05 226.4,465.98 226.05,466.05 225.7,466.05 225.35,465.96 225,465.97 224.65,465.89 224.3,465.93 223.95,465.91 223.6,466.01 223.25,466.06 222.9,465.92 222.55,466.07 222.2,465.96 221.85,466.05 221.5,466.06 221.15,466 220.8,465.98 220.45,465.91 220.1,466.01 219.75,465.97 219.4,466.02 219.05,466.03 218.7,465.96 218.35,465.89 218,466.08 217.65,465.95 217.3,465.92 216.95,466.2 216.6,465.94 216.25,465.94 215.9,466.04 215.55,466.07 215.2,466.05 214.85,465.91 214.5,465.91 214.15,465.95 213.8,465.99 213.45,465.96 213.1,466.1 212.75,465.98 212.4,466.24 212.05,466.06 211.7,466.05 211.35,466.04 211,465.94 210.65,466.01 210.3,466.05 209.95,465.98 209.6,466.03 209.25,465.94 208.9,465.98 208.55,466.06 208.2,466.06 207.85,466.06 207.5,466.06 207.15,466 206.8,466.06 206.45,465.88 206.1,466.01 205.75,466.06 205.4,466.03 205.05,466 204.7,466.08 204.35,466.01 204,466.06 203.65,466 203.3,465.99 202.95,466.21 202.6,465.93 202.25,466.11 201.9,465.98 201.55,466.05 201.2,466.04 200.85,466.05 200.5,465.92 200.15,466.08 199.8,466.04 199.45,465.96 199.1,465.89 198.75,466.07 198.4,465.99 198.05,465.91 197.7,465.89 197.35,466.17 197,465.92 196.65,465.88 196.3,466.07 195.95,466.03 195.6,466.04 195.25,466.03 194.9,465.99 194.55,466.05 194.2,465.97 193.85,465.91 193.5,466 193.15,465.97 192.8,465.92 192.45,465.91 192.1,465.98 191.75,465.97 191.4,465.97 191.05,466.02 190.7,466.07 190.35,465.95 190,465.89 189.65,466.04 189.3,465.9 188.95,466.41 188.6,466 188.25,466.05 187.9,466.04 187.55,466.01 187.2,466.08 186.85,465.89 186.5,465.96 186.15,466.04 185.8,466.02 185.45,466.04 185.1,465.94 184.75,466 184.4,466.05 184.05,466.17 183.7,465.97 183.35,465.99 183,465.95 182.65,466.05 182.3,465.88 181.95,465.98 181.6,465.93 181.25,466.07 180.9,466.01 180.55,466 180.2,465.9 179.85,465.88 179.5,466.51 179.15,465.98 178.8,466.06 178.45,465.94 178.1,466.04 177.75,465.97 177.4,466.07 177.05,466.02 176.7,465.94 176.35,466.02 176,465.93 175.65,466.04 175.3,466.07 174.95,466.13 174.6,465.94 174.25,466.02 173.9,466.04 173.55,465.99 173.2,466.05 172.85,466 172.5,466.04" fill="#fc8a12"/><polygon points="217.32,452.72 217.67,453.34 218.02,454.23 218.37,454.91 218.72,455.41 219.07,456 219.42,456.58 219.77,456.92 220.12,457.39 220.47,458.05 220.82,458.29 221.17,458.52 221.52,459.22 221.87,459.29 222.22,459.86 222.57,460.17 222.92,460.21 223.27,460.35 223.62,460.82 223.97,461.16 224.32,461.15 224.67,461.27 225.02,461.59 225.37,461.6 225.72,462.04 226.07,462.23 226.42,462.27 226.77,462.29 227.12,462.37 227.47,462.58 227.82,462.69 228.17,462.79 228.52,463.05 228.87,463.12 229.22,463.22 229.57,463.08 229.92,463.38 230.27,463.18 230.62,463.22 230.97,463.22 231.32,463.61 231.67,463.48 232.02,463.72 232.37,463.59 232.72,463.54 233.07,463.73 233.42,463.4 233.77,463.58 234.12,463.59 234.47,463.88 234.82,463.7 235.17,463.82 235.52,463.98 235.87,463.91 236.22,463.86 236.57,463.82 236.92,464.04 237.27,463.94 237.62,464.17 237.97,464.03 238.32,463.98 238.67,464.23 239.02,464.05 239.37,464.19 239.72,463.99 240.07,464.16 240.42,464.13 240.77,464.11 241.12,464.08 241.47,464.19 241.82,464.1 242.17,464.11 242.52,464.32 242.87,464.17 243.22,464.13 243.57,463.97 243.92,464.11 244.27,463.98 244.62,463.98 244.97,464.16 245.32,463.99 245.67,464.22 246.02,464.23 246.37,464.06 246.72,464.26 247.07,464.03 247.42,464.03 247.77,464.26 248.12,464.1 248.47,464.31 248.82,464.33 249.17,464.05 249.52,464.19 249.87,464.23 250.22,464.22 250.57,464.3 250.92,463.36 251.27,464.24 251.62,464.09 251.97,464.2 252.32,464.32 252.67,464.11 253.02,464.41 253.37,464.09 253.72,464.21 254.07,464.15 254.42,464.32 254.77,464.35 255.12,464.23 255.47,464.06 255.82,464.3 256.17,464.41 256.52,464.26 256.87,464.43 257.22,464.03 257.57,464.22 257.92,464.04 258.27,463.77 258.62,464.04 258.97,463.82 259.32,464.06 259.67,464.16 260.02,464.07 260.37,464.27 260.72,464.19 261.07,464.34 261.42,464.09 261.77,464.43 262.12,464.18 262.15,464.11 262.15,464.8 262.12,464.86 261.77,464.7 261.42,465.02 261.07,464.92 260.72,464.89 260.37,464.75 260.02,464.7 259.67,465.03 259.32,464.95 258.97,464.78 258.62,464.76 258.27,464.93 257.92,464.78 257.57,465.07 257.22,464.69 256.87,464.82 256.52,465.04 256.17,464.85 255.82,465.28 255.47,465.04 255.12,465.36 254.77,465.02 254.42,464.87 254.07,465 253.72,464.98 253.37,464.89 253.02,465.06 252.67,465.08 252.32,464.8 251.97,464.92 251.62,464.81 251.27,464.81 250.92,464.69 250.57,464.71 250.22,464.78 249.87,464.81 249.52,464.99 249.17,464.87 248.82,464.89 248.47,464.8 248.12,464.9 247.77,464.93 247.42,464.94 247.07,465.09 246.72,465.04 246.37,464.93 246.02,464.72 245.67,464.98 245.32,465.12 244.97,465.03 244.62,465.12 244.27,464.81 243.92,464.89 243.57,464.96 243.22,464.77 242.87,464.97 242.52,465.04 242.17,465.01 241.82,465.11 241.47,464.93 241.12,465 240.77,464.85 240.42,464.95 240.07,465.13 239.72,465 239.37,464.96 239.02,465.28 238.67,465.11 238.32,465.26 237.97,464.95 237.62,465.13 237.27,465.1 236.92,465.25 236.57,465.15 236.22,465.36 235.87,465.39 235.52,465.37 235.17,465.43 234.82,465.42 234.47,465.3 234.12,466.01 233.77,465.51 233.42,465.36 233.07,465.61 232.72,465.61 232.37,465.66 232.02,465.69 231.67,465.81 231.32,465.68 230.97,465.98 230.62,466.15 230.27,466.05 229.92,465.96 229.57,466.38 229.22,466.42 228.87,466.28 228.52,466.69 228.17,466.67 227.82,466.69 227.47,467.11 227.12,467.26 226.77,467.27 226.42,467.29 226.07,467.65 225.72,467.57 225.37,467.92 225.02,468.19 224.67,468.54 224.32,468.66 223.97,468.82 223.62,469.12 223.27,469.38 222.92,469.77 222.57,470.31 222.22,470.35 221.87,470.88 221.52,471.32 221.17,471.85 220.82,472.1 220.47,472.66 220.12,473.39 219.77,473.85 219.42,474.52 219.07,475.02 218.72,475.7 218.37,476.52 218.02,477.35 217.67,478.45 217.32,479.3" fill="#ffb304"/><polygon points="262.15,456.2 262.5,456.41 262.85,456.93 263.2,457.57 263.55,457.97 263.9,458.18 264.25,458.83 264.6,459.08 264.95,459.49 265.3,459.54 265.65,460.03 266,460.24 266.35,460.39 266.7,460.81 267.05,460.8 267.4,461.02 267.75,461.24 268.1,461.27 268.45,461.83 268.8,461.82 269.15,461.76 269.5,462.18 269.85,462.28 270.2,462.52 270.55,462.28 270.9,462.6 271.25,462.51 271.6,462.58 271.95,462.96 272.3,463.1 272.65,463.1 273,463.02 273.35,463.07 273.7,463.19 274.05,463.13 274.4,463.26 274.75,463.33 275.1,463.63 275.45,463.46 275.8,463.59 276.15,462.98 276.5,463.69 276.85,463.48 277.2,463.79 277.55,463.61 277.9,463.81 278.25,463.63 278.6,463.87 278.95,463.79 279.3,464.07 279.65,464.07 280,463.94 280.35,464.04 280.7,464.15 281.05,463.96 281.4,464.19 281.75,463.85 282.1,463.96 282.45,464.19 282.8,464.16 283.15,464.12 283.5,463.96 283.85,464.27 284.2,464.01 284.55,464.22 284.9,464.17 285.25,464.13 285.6,464.24 285.95,464.12 286.3,464.21 286.65,463.97 287,464.25 287.35,464.14 287.7,464.32 288.05,464.36 288.4,464.07 288.75,464.17 289.1,464.14 289.45,464 289.8,464.36 290.15,464.2 290.5,464.12 290.85,464.31 291.2,464.3 291.55,464.32 291.9,464.27 292.25,464.37 292.6,464.3 292.95,464.16 293.3,464.1 293.65,464.31 294,464.35 294.35,464.32 294.7,464.29 295.05,464.24 295.4,464.19 295.75,464.2 296.1,464.24 296.45,464.22 296.8,464.24 297.15,464.4 297.5,464.21 297.85,464.37 298.2,464.33 298.55,464.26 298.9,464.31 299.25,464.29 299.6,464.26 299.95,464.38 300.3,464.32 300.65,464.11 301,464.4 301.35,464.25 301.7,464.09 302.05,464.07 302.4,464.17 302.75,464.06 303.1,464.4 303.45,464.1 303.8,464.18 304.15,464.14 304.5,464.09 304.85,464.27 305.2,464.1 305.55,464.24 305.9,463.93 306.25,464.28 306.6,464.3 306.95,464.21 306.98,464.31 306.98,464.99 306.95,464.92 306.6,464.68 306.25,464.92 305.9,464.96 305.55,464.7 305.2,464.92 304.85,465.06 304.5,465.03 304.15,465.06 303.8,464.94 303.45,464.72 303.1,465 302.75,464.9 302.4,464.83 302.05,464.78 301.7,464.81 301.35,464.96 301,465.39 300.65,464.72 300.3,464.96 299.95,464.94 299.6,464.84 299.25,464.74 298.9,464.82 298.55,464.87 298.2,464.89 297.85,464.99 297.5,464.88 297.15,464.99 296.8,464.78 296.45,464.9 296.1,464.78 295.75,465.06 295.4,464.88 295.05,465.02 294.7,464.8 294.35,464.99 294,464.79 293.65,464.92 293.3,465.09 292.95,465.01 292.6,464.9 292.25,464.9 291.9,464.84 291.55,464.98 291.2,464.88 290.85,464.93 290.5,465.1 290.15,465.02 289.8,465.12 289.45,465.07 289.1,465.01 288.75,465.05 288.4,465.16 288.05,464.99 287.7,464.97 287.35,465.15 287,465.09 286.65,464.98 286.3,465.21 285.95,465.24 285.6,464.87 285.25,465.18 284.9,465.1 284.55,464.98 284.2,465.3 283.85,465.2 283.5,465.61 283.15,465.08 282.8,465 282.45,465.16 282.1,465.34 281.75,465.4 281.4,465.34 281.05,465.29 280.7,465.22 280.35,465.42 280,465.49 279.65,465.57 279.3,465.62 278.95,465.37 278.6,465.67 278.25,465.5 277.9,465.82 277.55,465.64 277.2,465.82 276.85,465.74 276.5,465.98 276.15,465.95 275.8,466.06 275.45,466.33 275.1,466.02 274.75,466.19 274.4,466.3 274.05,466.58 273.7,466.6 273.35,466.84 273,466.77 272.65,467.11 272.3,466.95 271.95,467.27 271.6,467.29 271.25,467.71 270.9,467.66 270.55,468.01 270.2,468.23 269.85,468.44 269.5,468.47 269.15,468.96 268.8,469.15 268.45,469.49 268.1,469.7 267.75,470.11 267.4,470.15 267.05,470.68 266.7,470.89 266.35,471.25 266,471.67 265.65,472.23 265.3,472.78 264.95,473.43 264.6,473.75 264.25,474.41 263.9,474.96 263.55,475.74 263.2,476.43 262.85,477.2 262.5,477.92 262.15,479" fill="#ffb304"/><polygon points="262.15,427.54 262.5,427.57 262.85,427.48 263.2,427.46 263.35,427.48 263.35,464.18 263.2,464.09 262.85,464.7 262.5,464.23 262.15,464.08" fill="#f9c25a"/><polygon points="306.98,474.92 307.33,475.04 307.68,474.95 308.03,474.83 308.38,474.58 308.73,474.79 309.08,474.84 309.43,475.07 309.78,475.03 310.13,475.06 310.48,474.83 310.83,474.72 311.18,475 311.53,474.68 311.88,475.16 312.23,474.75 312.58,474.96 312.93,474.6 313.28,475.16 313.63,474.8 313.98,475.02 314.33,474.67 314.68,474.57 315.03,475.16 315.38,474.89 315.73,474.77 316.08,474.74 316.43,475.09 316.78,474.82 317.13,475.13 317.48,475 317.83,474.73 318.18,474.81 318.53,474.75 318.88,475.11 319.23,474.99 319.58,474.79 319.93,474.64 320.28,474.86 320.63,474.59 320.98,474.7 321.33,474.6 321.68,474.77 322.03,474.85 322.38,474.98 322.73,474.85 323.08,474.72 323.43,474.59 323.78,475.07 324.13,474.86 324.48,474.66 324.83,474.78 325.18,474.82 325.53,474.98 325.88,474.62 326.23,474.78 326.58,474.61 326.93,474.68 327.28,474.66 327.63,475.15 327.98,475.04 328.33,474.52 328.68,474.94 329.03,474.79 329.38,474.77 329.73,474.58 330.08,474.66 330.43,475.16 330.78,474.83 330.88,474.65 330.88,475.63 330.78,475.57 330.43,475.8 330.08,476.05 329.73,476.04 329.38,476.26 329.03,476.11 328.68,476.46 328.33,476.88 327.98,477.05 327.63,477.13 327.28,477.2 326.93,477.11 326.58,478.51 326.23,477.71 325.88,477.99 325.53,478.07 325.18,478.52 324.83,478.62 324.48,478.93 324.13,478.92 323.78,478.95 323.43,479.17 323.08,479.35 322.73,479.96 322.38,480.22 322.03,480.29 321.68,480.98 321.33,480.28 320.98,480.76 320.63,481.05 320.28,481.51 319.93,481.57 319.58,481.65 319.23,482 318.88,482.41 318.53,482.53 318.18,482.7 317.83,482.87 317.48,484.18 317.13,483.51 316.78,483.79 316.43,484.29 316.08,489.01 315.73,484.64 315.38,484.68 315.03,485.13 314.68,485.43 314.33,485.71 313.98,486.06 313.63,486.7 313.28,486.89 312.93,487.6 312.58,487.73 312.23,488.53 311.88,488.53 311.53,488.89 311.18,489.78 310.83,489.8 310.48,490.09 310.13,490.58 309.78,491.15 309.43,491.62 309.08,492.36 308.73,493.42 308.38,493.3 308.03,493.63 307.68,494.27 307.33,494.63 306.98,495.15" fill="#4aa3e0"/><path d="M307.28 475.54V487.94M308.84 475.54V488.95M311.6 475.54V486.17" stroke="#fdb716" stroke-width="0.7" fill="none"/><path d="M310.1 475.54V487.61" stroke="#f9c25a" stroke-width="0.7" fill="none"/><polygon points="306.98,442.07 307.33,442.37 307.68,442.01 308.03,442.44 308.38,442.5 308.73,442.52 309.08,442.52 309.43,442.38 309.78,442.5 310.13,442.47 310.48,441.98 310.83,442.55 311.18,442.1 311.53,442.02 311.88,442.45 312.23,442.45 312.58,442.1 312.93,442.07 313.28,442.03 313.63,442.33 313.98,442.41 314.33,442.49 314.68,442.07 315.03,442.08 315.38,442.48 315.73,442.34 316.08,442.03 316.43,442.47 316.78,442.57 317.13,442.36 317.48,442.52 317.83,442.31 318.18,442.25 318.53,440.44 318.88,442.44 319.23,442.43 319.58,442.24 319.93,442.53 320.28,442.06 320.63,442.16 320.98,442.45 321.33,442.2 321.68,442.27 322.03,442.16 322.38,442.25 322.73,442.21 323.08,442.3 323.43,442.17 323.78,442.17 324.13,441.64 324.48,442.22 324.83,442.4 325.18,442.12 325.53,442.43 325.88,442.5 326.23,442.31 326.58,442.17 326.93,442.04 327.28,442.5 327.63,442.28 327.98,442.1 328.33,442.12 328.68,442.05 329.03,441.56 329.38,442.17 329.73,441.97 330.08,441.75 330.43,442.2 330.78,442.19 331.13,442.12 331.48,442.32 331.83,442.21 332.18,442.2 332.53,441.73 332.88,442.17 333.23,441.83 333.58,442.03 333.93,441.51 334.28,442.5 334.63,442.47 334.98,442.02 335.33,442.18 335.68,442.02 336.03,442.32 336.38,442.04 336.73,442.34 337.08,442.55 337.43,442.12 337.78,442.57 338.13,442.22 338.48,442.29 338.83,442.08 339.18,442.35 339.53,442.03 339.88,442.44 340.23,442.33 340.58,442.05 340.93,442.29 341.28,442.5 341.63,442.02 341.98,442.34 342.33,442.18 342.68,441.41 343.03,442.24 343.38,442.47 343.73,442.44 344.08,442.21 344.43,442.19 344.78,442.43 345.13,442.12 345.48,441.46 345.83,442.51 346.18,442.37 346.53,442.21 346.88,442.37 347.23,442.11 347.58,442.39 347.93,442.55 348.28,442.23 348.63,442.52 348.98,441.52 349.33,442.39 349.68,442.06 350.03,442.37 350.38,441.98 350.73,442.04 351.08,442.56 351.43,442.48 351.78,441.98 351.8,442.35 351.8,475.37 351.78,475.05 351.43,475.42 351.08,475.07 350.73,475.15 350.38,475.2 350.03,475.06 349.68,475.03 349.33,475.53 348.98,475.04 348.63,475.09 348.28,475.41 347.93,475.43 347.58,475.6 347.23,475.38 346.88,475.03 346.53,475.56 346.18,476.02 345.83,475.61 345.48,476.88 345.13,475.17 344.78,475.12 344.43,475.26 344.08,475.55 343.73,475.45 343.38,475.09 343.03,475.31 342.68,475.09 342.33,475.32 341.98,475.56 341.63,475.05 341.28,475.13 340.93,475.26 340.58,475.29 340.23,475.41 339.88,475.78 339.53,475.12 339.18,475.42 338.83,475.32 338.48,475.42 338.13,475.31 337.78,475.41 337.43,475.51 337.08,475.24 336.73,475.12 336.38,475.42 336.03,475.35 335.68,475.12 335.33,475.37 334.98,475.55 334.63,475.54 334.28,475.12 333.93,475.13 333.58,475.45 333.23,475.17 332.88,475.28 332.53,475.58 332.18,475.19 331.83,475.17 331.48,475.5 331.13,475.22 330.78,475.22 330.43,475.42 330.08,475.37 329.73,475.81 329.38,475.28 329.03,475.17 328.68,475.34 328.33,475.54 327.98,475.01 327.63,475.4 327.28,475.48 326.93,475.49 326.58,475.05 326.23,475.06 325.88,475.43 325.53,475.55 325.18,475.03 324.83,475.52 324.48,475.21 324.13,475.52 323.78,475.6 323.43,475.23 323.08,475.17 322.73,475.28 322.38,476.44 322.03,475.41 321.68,475.22 321.33,475.31 320.98,475.06 320.63,475.11 320.28,475.19 319.93,475.3 319.58,475.49 319.23,475.48 318.88,475.14 318.53,475.15 318.18,475.28 317.83,475.22 317.48,475.52 317.13,475.55 316.78,475.13 316.43,478.07 316.08,475.31 315.73,475.34 315.38,477.05 315.03,475.4 314.68,475.19 314.33,475.08 313.98,475.96 313.63,475.1 313.28,475.05 312.93,475.21 312.58,475.1 312.23,475.24 311.88,475.05 311.53,475.14 311.18,475.11 310.83,475.07 310.48,475.59 310.13,475.21 309.78,475.12 309.43,475.59 309.08,475.29 308.73,475.11 308.38,476.51 308.03,475.03 307.68,475.22 307.33,475.6 306.98,475.17" fill="#ffb304"/><path d="M310.98 428.59V448.46M313.21 431.3V443M315.96 434.86V445.04M317.14 435.24V443M321.27 438.66V443M322.23 438.94V443M323.41 438.98V443M325.47 439.97V443M328.77 441.23V443M334.06 442.16V443M335.17 441.61V443" stroke="#3a9ad9" stroke-width="0.9" fill="none"/><path d="M311.93 430.29V443M314.9 434.12V443M324.08 439.41V443M326.35 439.89V446.93M328.16 440.84V443" stroke="#f9d58a" stroke-width="0.9" fill="none"/><path d="M312.54 430.82V448.51M318.3 436.71V443M331.11 441.55V443" stroke="#ffb304" stroke-width="0.9" fill="none"/><path d="M313.9 432.37V443M332.92 441.4V448.28M336.33 441.71V443" stroke="#ffffff" stroke-width="0.9" fill="none"/><path d="M319.24 437.19V445.91M320.55 437.66V447.99M327.17 440.99V443M329.92 440.77V443M331.82 441.27V447.13" stroke="#6aa8c8" stroke-width="0.9" fill="none"/><polygon points="306.98,420 307.38,420.98 307.77,421.91 308.17,422.81 308.57,423.66 308.97,424.48 309.37,425.27 309.77,426.02 310.17,426.73 310.57,427.42 310.97,428.07 311.38,472 306.98,472" fill="#f7c27a"/><path d="M307.48 423.22V470M310.84 429.86V470" stroke="#fbd9a0" stroke-width="0.7" fill="none"/><path d="M308.36 425.21V470M309.63 427.74V470" stroke="#f7c27a" stroke-width="0.7" fill="none"/></g><path d="M172.5 419.5h1.8M351.8 419.5h-1.8M172.5 430.66h1.8M351.8 430.66h-1.8M172.5 441.82h1.8M351.8 441.82h-1.8M172.5 452.99h1.8M351.8 452.99h-1.8M172.5 464.15h1.8M351.8 464.15h-1.8M172.5 475.31h1.8M351.8 475.31h-1.8M172.5 486.48h1.8M351.8 486.48h-1.8M172.5 497.64h1.8M351.8 497.64h-1.8M172.5 508.8h1.8M351.8 508.8h-1.8M172.5 508.8v-1.8M172.5 419.5v1.8M217.32 508.8v-1.8M217.32 419.5v1.8M262.15 508.8v-1.8M262.15 419.5v1.8M306.98 508.8v-1.8M306.98 419.5v1.8M351.8 508.8v-1.8M351.8 419.5v1.8" stroke="#5c5c5c" stroke-width="0.9" fill="none"/><rect x="172.5" y="419.5" width="179.3" height="89.3" fill="none" stroke="#5c5c5c" stroke-width="1.1"/><text x="169.9" y="423.3" font-size="9.7" text-anchor="end">1000</text><text x="169.9" y="434.46" font-size="9.7" text-anchor="end">750</text><text x="169.9" y="445.62" font-size="9.7" text-anchor="end">500</text><text x="169.9" y="456.79" font-size="9.7" text-anchor="end">250</text><text x="169.9" y="467.95" font-size="9.7" text-anchor="end">0</text><text x="169.9" y="479.11" font-size="9.7" text-anchor="end">-250</text><text x="169.9" y="490.28" font-size="9.7" text-anchor="end">-500</text><text x="169.9" y="501.44" font-size="9.7" text-anchor="end">-750</text><text x="169.9" y="512.6" font-size="9.7" text-anchor="end">-1000</text><text x="172.5" y="521.2" font-size="9.7" text-anchor="middle">0.2</text><text x="217.32" y="521.2" font-size="9.7" text-anchor="middle">0.5</text><text x="262.15" y="521.2" font-size="9.7" text-anchor="middle">0.8</text><text x="306.98" y="521.2" font-size="9.7" text-anchor="middle">1.1</text><text x="351.8" y="521.2" font-size="9.7" text-anchor="middle">1.4</text><rect x="176.5" y="423" width="74.5" height="24" fill="#fff" stroke="#5a5a5a" stroke-width="0.9"/><path d="M177.7 427.8H188.5" stroke="#6cbcec" stroke-width="1.15"/><text x="189.8" y="430.1" font-size="6.65" text-anchor="start" class="lg">PI-MRAS</text><path d="M177.7 435.24H188.5" stroke="#f6a084" stroke-width="1.15"/><text x="189.8" y="437.54" font-size="6.65" text-anchor="start" class="lg">FTSM-MRAS</text><path d="M177.7 442.68H188.5" stroke="#f7d27e" stroke-width="1.15"/><text x="189.8" y="444.98" font-size="6.65" text-anchor="start" class="lg">Adaptive STA-MRAS</text><text transform="translate(144,464.5) rotate(-90)" font-size="10.95" text-anchor="middle">Speed Error (rpm)</text><text x="262.3" y="533.7" font-size="10.7" text-anchor="middle">Time (s)</text><text x="262.3" y="545.3" font-size="10.7" text-anchor="middle">(f)</text>
</g></svg></body></html>
